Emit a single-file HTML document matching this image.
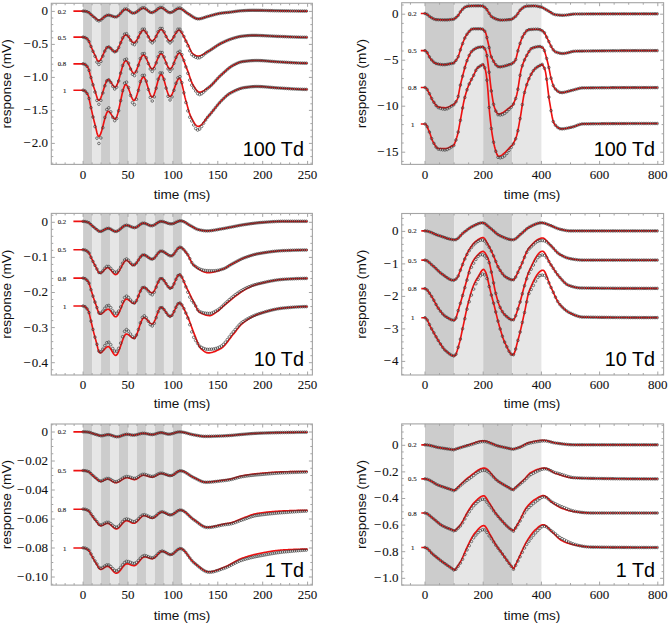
<!DOCTYPE html>
<html><head><meta charset="utf-8"><style>
html,body{margin:0;padding:0;background:#fff;width:668px;height:624px;overflow:hidden}
svg{display:block}
.tl{font-family:"Liberation Serif",serif;font-size:13px;fill:#111;stroke:#111;stroke-width:0.1px}
.ax{font-family:"Liberation Sans",sans-serif;font-size:13.6px;fill:#111}
.td{font-family:"Liberation Sans",sans-serif;font-size:19.8px;fill:#000}
.sl{font-family:"Liberation Serif",serif;font-size:6.8px;fill:#222;stroke:#222;stroke-width:0.12px}
</style></head><body>
<svg width="668" height="624" viewBox="0 0 668 624"><rect width="668" height="624" fill="#fff"/><rect x="83.1" y="3.3" width="8.98" height="161.1" fill="#cccccc"/><rect x="92.08" y="3.3" width="8.98" height="161.1" fill="#e6e6e6"/><rect x="101.06" y="3.3" width="8.98" height="161.1" fill="#cccccc"/><rect x="110.04" y="3.3" width="8.98" height="161.1" fill="#e6e6e6"/><rect x="119.02" y="3.3" width="8.98" height="161.1" fill="#cccccc"/><rect x="128" y="3.3" width="8.98" height="161.1" fill="#e6e6e6"/><rect x="136.98" y="3.3" width="8.98" height="161.1" fill="#cccccc"/><rect x="145.96" y="3.3" width="8.98" height="161.1" fill="#e6e6e6"/><rect x="154.94" y="3.3" width="8.98" height="161.1" fill="#cccccc"/><rect x="163.92" y="3.3" width="8.98" height="161.1" fill="#e6e6e6"/><rect x="172.9" y="3.3" width="8.98" height="161.1" fill="#cccccc"/><rect x="51.3" y="3.3" width="261.1" height="161.1" fill="none" stroke="#a4a4a4" stroke-width="1.1"/><path d="M56.16 164.4v-2.0M56.16 3.3v2.0M65.14 164.4v-2.0M65.14 3.3v2.0M74.12 164.4v-2.0M74.12 3.3v2.0M83.1 164.4v-3.5M83.1 3.3v3.5M92.08 164.4v-2.0M92.08 3.3v2.0M101.06 164.4v-2.0M101.06 3.3v2.0M110.04 164.4v-2.0M110.04 3.3v2.0M119.02 164.4v-2.0M119.02 3.3v2.0M128 164.4v-3.5M128 3.3v3.5M136.98 164.4v-2.0M136.98 3.3v2.0M145.96 164.4v-2.0M145.96 3.3v2.0M154.94 164.4v-2.0M154.94 3.3v2.0M163.92 164.4v-2.0M163.92 3.3v2.0M172.9 164.4v-3.5M172.9 3.3v3.5M181.88 164.4v-2.0M181.88 3.3v2.0M190.86 164.4v-2.0M190.86 3.3v2.0M199.84 164.4v-2.0M199.84 3.3v2.0M208.82 164.4v-2.0M208.82 3.3v2.0M217.8 164.4v-3.5M217.8 3.3v3.5M226.78 164.4v-2.0M226.78 3.3v2.0M235.76 164.4v-2.0M235.76 3.3v2.0M244.74 164.4v-2.0M244.74 3.3v2.0M253.72 164.4v-2.0M253.72 3.3v2.0M262.7 164.4v-3.5M262.7 3.3v3.5M271.68 164.4v-2.0M271.68 3.3v2.0M280.66 164.4v-2.0M280.66 3.3v2.0M289.64 164.4v-2.0M289.64 3.3v2.0M298.62 164.4v-2.0M298.62 3.3v2.0M307.6 164.4v-3.5M307.6 3.3v3.5M51.3 163.2h2.0M312.4 163.2h-2.0M51.3 156.6h2.0M312.4 156.6h-2.0M51.3 150h2.0M312.4 150h-2.0M51.3 143.4h3.5M312.4 143.4h-3.5M51.3 136.8h2.0M312.4 136.8h-2.0M51.3 130.2h2.0M312.4 130.2h-2.0M51.3 123.6h2.0M312.4 123.6h-2.0M51.3 117h2.0M312.4 117h-2.0M51.3 110.4h3.5M312.4 110.4h-3.5M51.3 103.8h2.0M312.4 103.8h-2.0M51.3 97.2h2.0M312.4 97.2h-2.0M51.3 90.6h2.0M312.4 90.6h-2.0M51.3 84h2.0M312.4 84h-2.0M51.3 77.4h3.5M312.4 77.4h-3.5M51.3 70.8h2.0M312.4 70.8h-2.0M51.3 64.2h2.0M312.4 64.2h-2.0M51.3 57.6h2.0M312.4 57.6h-2.0M51.3 51h2.0M312.4 51h-2.0M51.3 44.4h3.5M312.4 44.4h-3.5M51.3 37.8h2.0M312.4 37.8h-2.0M51.3 31.2h2.0M312.4 31.2h-2.0M51.3 24.6h2.0M312.4 24.6h-2.0M51.3 18h2.0M312.4 18h-2.0M51.3 11.4h3.5M312.4 11.4h-3.5M51.3 4.8h2.0M312.4 4.8h-2.0" stroke="#a4a4a4" stroke-width="1" fill="none"/><text x="48.1" y="15.3" class="tl" text-anchor="end">0</text><text x="48.1" y="48.3" class="tl" text-anchor="end"><tspan>−</tspan><tspan dx="1.2">0.5</tspan></text><text x="48.1" y="81.3" class="tl" text-anchor="end"><tspan>−</tspan><tspan dx="1.2">1.0</tspan></text><text x="48.1" y="114.3" class="tl" text-anchor="end"><tspan>−</tspan><tspan dx="1.2">1.5</tspan></text><text x="48.1" y="147.3" class="tl" text-anchor="end"><tspan>−</tspan><tspan dx="1.2">2.0</tspan></text><text x="83.1" y="178.6" class="tl" text-anchor="middle">0</text><text x="128" y="178.6" class="tl" text-anchor="middle">50</text><text x="172.9" y="178.6" class="tl" text-anchor="middle">100</text><text x="217.8" y="178.6" class="tl" text-anchor="middle">150</text><text x="262.7" y="178.6" class="tl" text-anchor="middle">200</text><text x="307.6" y="178.6" class="tl" text-anchor="middle">250</text><text transform="translate(10.5 83.85) rotate(-90)" class="ax" text-anchor="middle">response (mV)</text><text x="182" y="198.6" class="ax" text-anchor="middle">time (ms)</text><text x="303.9" y="155.8" class="td" text-anchor="end">100 Td</text><text x="61.9" y="13.57" class="sl" text-anchor="middle">0.2</text><text x="61.9" y="39.6" class="sl" text-anchor="middle">0.5</text><text x="61.9" y="66.3" class="sl" text-anchor="middle">0.8</text><text x="64.6" y="92.7" class="sl" text-anchor="middle">1</text><path d="M73.4 11.07 L74 11.07 L74.6 11.07 L75.2 11.07 L75.8 11.07 L76.4 11.07 L77 11.07 L77.6 11.07 L78.2 11.07 L78.8 11.07 L79.4 11.07 L80 11.07 L80.6 11.07 L81.2 11.07 L81.8 11.07 L82.4 11.07 L83 11.07 L83.6 11.07 L84.2 11.11 L84.8 11.18 L85.4 11.29 L86 11.42 L86.6 11.57 L87.2 11.74 L87.8 11.93 L88.4 12.2 L89 12.66 L89.6 13.21 L90.2 13.77 L90.8 14.29 L91.4 14.82 L92 15.35 L92.6 15.88 L93.2 16.38 L93.8 16.85 L94.4 17.31 L95 17.76 L95.6 18.22 L96.2 18.72 L96.8 19.26 L97.4 19.68 L98 19.93 L98.6 20.09 L99.2 20.07 L99.8 19.93 L100.4 19.7 L101 19.38 L101.6 19.01 L102.2 18.59 L102.8 18.13 L103.4 17.66 L104 17.19 L104.6 16.72 L105.2 16.29 L105.8 15.9 L106.4 15.58 L107 15.32 L107.6 15.16 L108.2 15.1 L108.8 15.13 L109.4 15.23 L110 15.38 L110.6 15.56 L111.2 15.77 L111.8 15.99 L112.4 16.22 L113 16.44 L113.6 16.64 L114.2 16.8 L114.8 16.92 L115.4 16.99 L116 16.98 L116.6 16.83 L117.2 16.55 L117.8 16.15 L118.4 15.66 L119 15.1 L119.6 14.48 L120.2 13.82 L120.8 13.14 L121.4 12.47 L122 11.82 L122.6 11.21 L123.2 10.65 L123.8 10.18 L124.4 9.8 L125 9.54 L125.6 9.41 L126.2 9.43 L126.8 9.58 L127.4 9.85 L128 10.19 L128.6 10.59 L129.2 11.03 L129.8 11.49 L130.4 11.93 L131 12.35 L131.6 12.7 L132.2 12.98 L132.8 13.15 L133.4 13.2 L134 13.13 L134.6 12.97 L135.2 12.74 L135.8 12.43 L136.4 12.08 L137 11.68 L137.6 11.25 L138.2 10.81 L138.8 10.37 L139.4 9.93 L140 9.52 L140.6 9.14 L141.2 8.81 L141.8 8.54 L142.4 8.34 L143 8.22 L143.6 8.21 L144.2 8.32 L144.8 8.54 L145.4 8.86 L146 9.25 L146.6 9.69 L147.2 10.16 L147.8 10.64 L148.4 11.11 L149 11.55 L149.6 11.94 L150.2 12.26 L150.8 12.48 L151.4 12.59 L152 12.58 L152.6 12.45 L153.2 12.24 L153.8 11.96 L154.4 11.62 L155 11.22 L155.6 10.8 L156.2 10.36 L156.8 9.92 L157.4 9.48 L158 9.07 L158.6 8.71 L159.2 8.39 L159.8 8.14 L160.4 7.97 L161 7.9 L161.6 7.94 L162.2 8.1 L162.8 8.35 L163.4 8.68 L164 9.07 L164.6 9.51 L165.2 9.97 L165.8 10.45 L166.4 10.92 L167 11.36 L167.6 11.76 L168.2 12.1 L168.8 12.37 L169.4 12.54 L170 12.6 L170.6 12.55 L171.2 12.42 L171.8 12.21 L172.4 11.94 L173 11.63 L173.6 11.27 L174.2 10.9 L174.8 10.51 L175.4 10.13 L176 9.76 L176.6 9.41 L177.2 9.11 L177.8 8.86 L178.4 8.68 L179 8.57 L179.6 8.56 L180.2 8.64 L180.8 8.8 L181.4 9.05 L182 9.36 L182.6 9.72 L183.2 10.13 L183.8 10.57 L184.4 11.03 L185 11.51 L185.6 11.99 L186.2 12.45 L186.8 12.9 L187.4 13.31 L188 13.69 L188.6 14.03 L189.2 14.39 L189.8 14.77 L190.4 15.17 L191 15.58 L191.6 15.98 L192.2 16.39 L192.8 16.78 L193.4 17.16 L194 17.52 L194.6 17.85 L195.2 18.15 L195.8 18.4 L196.4 18.61 L197 18.77 L197.6 18.87 L198.2 18.9 L198.8 18.88 L199.4 18.83 L200 18.75 L200.6 18.64 L201.2 18.51 L201.8 18.35 L202.4 18.18 L203 18 L203.6 17.8 L204.2 17.6 L204.8 17.4 L205.4 17.19 L206 16.99 L206.6 16.79 L207.2 16.61 L207.8 16.43 L208.4 16.27 L209 16.12 L209.6 15.96 L210.2 15.8 L210.8 15.64 L211.4 15.47 L212 15.3 L212.6 15.14 L213.2 14.97 L213.8 14.81 L214.4 14.64 L215 14.48 L215.6 14.32 L216.2 14.17 L216.8 14.02 L217.4 13.88 L218 13.74 L218.6 13.61 L219.2 13.49 L219.8 13.38 L220.4 13.28 L221 13.19 L221.6 13.1 L222.2 13.02 L222.8 12.95 L223.4 12.88 L224 12.81 L224.6 12.75 L225.2 12.69 L225.8 12.63 L226.4 12.57 L227 12.51 L227.6 12.46 L228.2 12.4 L228.8 12.33 L229.4 12.27 L230 12.2 L230.6 12.13 L231.2 12.05 L231.8 11.97 L232.4 11.88 L233 11.8 L233.6 11.71 L234.2 11.62 L234.8 11.53 L235.4 11.44 L236 11.35 L236.6 11.27 L237.2 11.19 L237.8 11.11 L238.4 11.04 L239 10.97 L239.6 10.91 L240.2 10.86 L240.8 10.81 L241.4 10.77 L242 10.74 L242.6 10.7 L243.2 10.66 L243.8 10.63 L244.4 10.59 L245 10.56 L245.6 10.53 L246.2 10.49 L246.8 10.46 L247.4 10.44 L248 10.41 L248.6 10.39 L249.2 10.37 L249.8 10.35 L250.4 10.33 L251 10.32 L251.6 10.31 L252.2 10.3 L252.8 10.3 L253.4 10.3 L254 10.3 L254.6 10.3 L255.2 10.31 L255.8 10.31 L256.4 10.32 L257 10.33 L257.6 10.33 L258.2 10.34 L258.8 10.35 L259.4 10.36 L260 10.37 L260.6 10.39 L261.2 10.4 L261.8 10.41 L262.4 10.42 L263 10.44 L263.6 10.45 L264.2 10.47 L264.8 10.48 L265.4 10.5 L266 10.51 L266.6 10.53 L267.2 10.54 L267.8 10.56 L268.4 10.58 L269 10.59 L269.6 10.61 L270.2 10.62 L270.8 10.64 L271.4 10.66 L272 10.67 L272.6 10.68 L273.2 10.7 L273.8 10.71 L274.4 10.73 L275 10.74 L275.6 10.75 L276.2 10.76 L276.8 10.77 L277.4 10.78 L278 10.79 L278.6 10.8 L279.2 10.81 L279.8 10.82 L280.4 10.83 L281 10.83 L281.6 10.84 L282.2 10.85 L282.8 10.86 L283.4 10.87 L284 10.88 L284.6 10.89 L285.2 10.89 L285.8 10.9 L286.4 10.91 L287 10.92 L287.6 10.93 L288.2 10.94 L288.8 10.94 L289.4 10.95 L290 10.96 L290.6 10.97 L291.2 10.98 L291.8 10.98 L292.4 10.99 L293 11 L293.6 11.01 L294.2 11.01 L294.8 11.02 L295.4 11.03 L296 11.03 L296.6 11.04 L297.2 11.04 L297.8 11.05 L298.4 11.06 L299 11.06 L299.6 11.07 L300.2 11.07 L300.8 11.08 L301.4 11.08 L302 11.08 L302.6 11.09 L303.2 11.09 L303.8 11.09 L304.4 11.09 L305 11.1 L305.6 11.1 L306.2 11.1 L306.8 11.1 L307.4 11.1 L307.6 11.1" fill="none" stroke="#ee1111" stroke-width="1.65" stroke-linejoin="round"/><path d="M81.8 11.07a1.3 1.3 0 1 0 2.6 0a1.3 1.3 0 1 0 -2.6 0M83.78 11.23a1.3 1.3 0 1 0 2.6 0a1.3 1.3 0 1 0 -2.6 0M85.75 11.7a1.3 1.3 0 1 0 2.6 0a1.3 1.3 0 1 0 -2.6 0M87.73 12.68a1.3 1.3 0 1 0 2.6 0a1.3 1.3 0 1 0 -2.6 0M89.7 14.47a1.3 1.3 0 1 0 2.6 0a1.3 1.3 0 1 0 -2.6 0M91.68 16.26a1.3 1.3 0 1 0 2.6 0a1.3 1.3 0 1 0 -2.6 0M93.65 17.99a1.3 1.3 0 1 0 2.6 0a1.3 1.3 0 1 0 -2.6 0M95.63 19.99a1.3 1.3 0 1 0 2.6 0a1.3 1.3 0 1 0 -2.6 0M97.6 20.89a1.3 1.3 0 1 0 2.6 0a1.3 1.3 0 1 0 -2.6 0M99.58 20a1.3 1.3 0 1 0 2.6 0a1.3 1.3 0 1 0 -2.6 0M101.56 18.29a1.3 1.3 0 1 0 2.6 0a1.3 1.3 0 1 0 -2.6 0M103.53 16.59a1.3 1.3 0 1 0 2.6 0a1.3 1.3 0 1 0 -2.6 0M105.51 15.4a1.3 1.3 0 1 0 2.6 0a1.3 1.3 0 1 0 -2.6 0M107.48 15.13a1.3 1.3 0 1 0 2.6 0a1.3 1.3 0 1 0 -2.6 0M109.46 15.61a1.3 1.3 0 1 0 2.6 0a1.3 1.3 0 1 0 -2.6 0M111.43 16.34a1.3 1.3 0 1 0 2.6 0a1.3 1.3 0 1 0 -2.6 0M113.41 16.91a1.3 1.3 0 1 0 2.6 0a1.3 1.3 0 1 0 -2.6 0M115.39 16.8a1.3 1.3 0 1 0 2.6 0a1.3 1.3 0 1 0 -2.6 0M117.36 15.41a1.3 1.3 0 1 0 2.6 0a1.3 1.3 0 1 0 -2.6 0M119.34 13.26a1.3 1.3 0 1 0 2.6 0a1.3 1.3 0 1 0 -2.6 0M121.31 10.93a1.3 1.3 0 1 0 2.6 0a1.3 1.3 0 1 0 -2.6 0M123.29 9.17a1.3 1.3 0 1 0 2.6 0a1.3 1.3 0 1 0 -2.6 0M125.26 8.94a1.3 1.3 0 1 0 2.6 0a1.3 1.3 0 1 0 -2.6 0M127.24 10.22a1.3 1.3 0 1 0 2.6 0a1.3 1.3 0 1 0 -2.6 0M129.21 11.92a1.3 1.3 0 1 0 2.6 0a1.3 1.3 0 1 0 -2.6 0M131.19 13.06a1.3 1.3 0 1 0 2.6 0a1.3 1.3 0 1 0 -2.6 0M133.17 13.01a1.3 1.3 0 1 0 2.6 0a1.3 1.3 0 1 0 -2.6 0M135.14 12.04a1.3 1.3 0 1 0 2.6 0a1.3 1.3 0 1 0 -2.6 0M137.12 10.57a1.3 1.3 0 1 0 2.6 0a1.3 1.3 0 1 0 -2.6 0M139.09 8.98a1.3 1.3 0 1 0 2.6 0a1.3 1.3 0 1 0 -2.6 0M141.07 7.79a1.3 1.3 0 1 0 2.6 0a1.3 1.3 0 1 0 -2.6 0M143.04 7.8a1.3 1.3 0 1 0 2.6 0a1.3 1.3 0 1 0 -2.6 0M145.02 9.17a1.3 1.3 0 1 0 2.6 0a1.3 1.3 0 1 0 -2.6 0M146.99 10.94a1.3 1.3 0 1 0 2.6 0a1.3 1.3 0 1 0 -2.6 0M148.97 12.28a1.3 1.3 0 1 0 2.6 0a1.3 1.3 0 1 0 -2.6 0M150.95 12.54a1.3 1.3 0 1 0 2.6 0a1.3 1.3 0 1 0 -2.6 0M152.92 11.71a1.3 1.3 0 1 0 2.6 0a1.3 1.3 0 1 0 -2.6 0M154.9 10.28a1.3 1.3 0 1 0 2.6 0a1.3 1.3 0 1 0 -2.6 0M156.87 8.66a1.3 1.3 0 1 0 2.6 0a1.3 1.3 0 1 0 -2.6 0M158.85 7.47a1.3 1.3 0 1 0 2.6 0a1.3 1.3 0 1 0 -2.6 0M160.82 7.52a1.3 1.3 0 1 0 2.6 0a1.3 1.3 0 1 0 -2.6 0M162.8 8.85a1.3 1.3 0 1 0 2.6 0a1.3 1.3 0 1 0 -2.6 0M164.78 10.58a1.3 1.3 0 1 0 2.6 0a1.3 1.3 0 1 0 -2.6 0M166.75 12.01a1.3 1.3 0 1 0 2.6 0a1.3 1.3 0 1 0 -2.6 0M168.73 12.6a1.3 1.3 0 1 0 2.6 0a1.3 1.3 0 1 0 -2.6 0M170.7 12.12a1.3 1.3 0 1 0 2.6 0a1.3 1.3 0 1 0 -2.6 0M172.68 10.98a1.3 1.3 0 1 0 2.6 0a1.3 1.3 0 1 0 -2.6 0M174.65 9.55a1.3 1.3 0 1 0 2.6 0a1.3 1.3 0 1 0 -2.6 0M176.63 8.31a1.3 1.3 0 1 0 2.6 0a1.3 1.3 0 1 0 -2.6 0M178.6 8a1.3 1.3 0 1 0 2.6 0a1.3 1.3 0 1 0 -2.6 0M180.58 8.92a1.3 1.3 0 1 0 2.6 0a1.3 1.3 0 1 0 -2.6 0M182.56 10.49a1.3 1.3 0 1 0 2.6 0a1.3 1.3 0 1 0 -2.6 0M184.53 12.14a1.3 1.3 0 1 0 2.6 0a1.3 1.3 0 1 0 -2.6 0M186.51 13.57a1.3 1.3 0 1 0 2.6 0a1.3 1.3 0 1 0 -2.6 0M188.48 14.76a1.3 1.3 0 1 0 2.6 0a1.3 1.3 0 1 0 -2.6 0M190.46 16.09a1.3 1.3 0 1 0 2.6 0a1.3 1.3 0 1 0 -2.6 0M192.43 17.36a1.3 1.3 0 1 0 2.6 0a1.3 1.3 0 1 0 -2.6 0M194.41 18.37a1.3 1.3 0 1 0 2.6 0a1.3 1.3 0 1 0 -2.6 0M196.38 18.87a1.3 1.3 0 1 0 2.6 0a1.3 1.3 0 1 0 -2.6 0M198.36 18.8a1.3 1.3 0 1 0 2.6 0a1.3 1.3 0 1 0 -2.6 0M200.34 18.4a1.3 1.3 0 1 0 2.6 0a1.3 1.3 0 1 0 -2.6 0M202.31 17.8a1.3 1.3 0 1 0 2.6 0a1.3 1.3 0 1 0 -2.6 0M204.29 17.13a1.3 1.3 0 1 0 2.6 0a1.3 1.3 0 1 0 -2.6 0M206.26 16.5a1.3 1.3 0 1 0 2.6 0a1.3 1.3 0 1 0 -2.6 0M208.24 15.98a1.3 1.3 0 1 0 2.6 0a1.3 1.3 0 1 0 -2.6 0M210.21 15.44a1.3 1.3 0 1 0 2.6 0a1.3 1.3 0 1 0 -2.6 0M212.19 14.89a1.3 1.3 0 1 0 2.6 0a1.3 1.3 0 1 0 -2.6 0M214.17 14.36a1.3 1.3 0 1 0 2.6 0a1.3 1.3 0 1 0 -2.6 0M216.14 13.87a1.3 1.3 0 1 0 2.6 0a1.3 1.3 0 1 0 -2.6 0M218.12 13.45a1.3 1.3 0 1 0 2.6 0a1.3 1.3 0 1 0 -2.6 0M220.09 13.13a1.3 1.3 0 1 0 2.6 0a1.3 1.3 0 1 0 -2.6 0M222.07 12.88a1.3 1.3 0 1 0 2.6 0a1.3 1.3 0 1 0 -2.6 0M224.04 12.68a1.3 1.3 0 1 0 2.6 0a1.3 1.3 0 1 0 -2.6 0M226.02 12.48a1.3 1.3 0 1 0 2.6 0a1.3 1.3 0 1 0 -2.6 0M227.99 12.28a1.3 1.3 0 1 0 2.6 0a1.3 1.3 0 1 0 -2.6 0M229.97 12.04a1.3 1.3 0 1 0 2.6 0a1.3 1.3 0 1 0 -2.6 0M231.95 11.76a1.3 1.3 0 1 0 2.6 0a1.3 1.3 0 1 0 -2.6 0M233.92 11.47a1.3 1.3 0 1 0 2.6 0a1.3 1.3 0 1 0 -2.6 0M235.9 11.19a1.3 1.3 0 1 0 2.6 0a1.3 1.3 0 1 0 -2.6 0M237.87 10.95a1.3 1.3 0 1 0 2.6 0a1.3 1.3 0 1 0 -2.6 0M239.85 10.79a1.3 1.3 0 1 0 2.6 0a1.3 1.3 0 1 0 -2.6 0M241.82 10.67a1.3 1.3 0 1 0 2.6 0a1.3 1.3 0 1 0 -2.6 0M243.8 10.55a1.3 1.3 0 1 0 2.6 0a1.3 1.3 0 1 0 -2.6 0M245.77 10.45a1.3 1.3 0 1 0 2.6 0a1.3 1.3 0 1 0 -2.6 0M247.75 10.37a1.3 1.3 0 1 0 2.6 0a1.3 1.3 0 1 0 -2.6 0M249.73 10.32a1.3 1.3 0 1 0 2.6 0a1.3 1.3 0 1 0 -2.6 0M251.7 10.3a1.3 1.3 0 1 0 2.6 0a1.3 1.3 0 1 0 -2.6 0M253.68 10.31a1.3 1.3 0 1 0 2.6 0a1.3 1.3 0 1 0 -2.6 0M255.65 10.33a1.3 1.3 0 1 0 2.6 0a1.3 1.3 0 1 0 -2.6 0M257.63 10.35a1.3 1.3 0 1 0 2.6 0a1.3 1.3 0 1 0 -2.6 0M259.6 10.39a1.3 1.3 0 1 0 2.6 0a1.3 1.3 0 1 0 -2.6 0M261.58 10.44a1.3 1.3 0 1 0 2.6 0a1.3 1.3 0 1 0 -2.6 0M263.56 10.48a1.3 1.3 0 1 0 2.6 0a1.3 1.3 0 1 0 -2.6 0M265.53 10.54a1.3 1.3 0 1 0 2.6 0a1.3 1.3 0 1 0 -2.6 0M267.51 10.59a1.3 1.3 0 1 0 2.6 0a1.3 1.3 0 1 0 -2.6 0M269.48 10.64a1.3 1.3 0 1 0 2.6 0a1.3 1.3 0 1 0 -2.6 0M271.46 10.69a1.3 1.3 0 1 0 2.6 0a1.3 1.3 0 1 0 -2.6 0M273.43 10.73a1.3 1.3 0 1 0 2.6 0a1.3 1.3 0 1 0 -2.6 0M275.41 10.77a1.3 1.3 0 1 0 2.6 0a1.3 1.3 0 1 0 -2.6 0M277.38 10.8a1.3 1.3 0 1 0 2.6 0a1.3 1.3 0 1 0 -2.6 0M279.36 10.83a1.3 1.3 0 1 0 2.6 0a1.3 1.3 0 1 0 -2.6 0M281.34 10.86a1.3 1.3 0 1 0 2.6 0a1.3 1.3 0 1 0 -2.6 0M283.31 10.89a1.3 1.3 0 1 0 2.6 0a1.3 1.3 0 1 0 -2.6 0M285.29 10.91a1.3 1.3 0 1 0 2.6 0a1.3 1.3 0 1 0 -2.6 0M287.26 10.94a1.3 1.3 0 1 0 2.6 0a1.3 1.3 0 1 0 -2.6 0M289.24 10.97a1.3 1.3 0 1 0 2.6 0a1.3 1.3 0 1 0 -2.6 0M291.21 10.99a1.3 1.3 0 1 0 2.6 0a1.3 1.3 0 1 0 -2.6 0M293.19 11.02a1.3 1.3 0 1 0 2.6 0a1.3 1.3 0 1 0 -2.6 0M295.16 11.04a1.3 1.3 0 1 0 2.6 0a1.3 1.3 0 1 0 -2.6 0M297.14 11.06a1.3 1.3 0 1 0 2.6 0a1.3 1.3 0 1 0 -2.6 0M299.12 11.07a1.3 1.3 0 1 0 2.6 0a1.3 1.3 0 1 0 -2.6 0M301.09 11.09a1.3 1.3 0 1 0 2.6 0a1.3 1.3 0 1 0 -2.6 0M303.07 11.09a1.3 1.3 0 1 0 2.6 0a1.3 1.3 0 1 0 -2.6 0M305.04 11.1a1.3 1.3 0 1 0 2.6 0a1.3 1.3 0 1 0 -2.6 0" fill="none" stroke="#383838" stroke-width="0.65"/><path d="M73.4 37.1 L74 37.1 L74.6 37.1 L75.2 37.1 L75.8 37.1 L76.4 37.1 L77 37.1 L77.6 37.1 L78.2 37.1 L78.8 37.1 L79.4 37.1 L80 37.1 L80.6 37.1 L81.2 37.1 L81.8 37.1 L82.4 37.1 L83 37.1 L83.6 37.11 L84.2 37.22 L84.8 37.41 L85.4 37.69 L86 38.04 L86.6 38.46 L87.2 38.93 L87.8 39.45 L88.4 40.22 L89 41.48 L89.6 42.98 L90.2 44.51 L90.8 45.9 L91.4 47.33 L92 48.78 L92.6 50.2 L93.2 51.54 L93.8 52.81 L94.4 54.04 L95 55.26 L95.6 56.5 L96.2 57.92 L96.8 59.33 L97.4 60.34 L98 60.99 L98.6 61.3 L99.2 61.14 L99.8 60.68 L100.4 59.96 L101 59.03 L101.6 57.94 L102.2 56.71 L102.8 55.4 L103.4 54.05 L104 52.7 L104.6 51.39 L105.2 50.16 L105.8 49.07 L106.4 48.14 L107 47.42 L107.6 46.96 L108.2 46.8 L108.8 46.91 L109.4 47.21 L110 47.66 L110.6 48.22 L111.2 48.85 L111.8 49.52 L112.4 50.17 L113 50.77 L113.6 51.28 L114.2 51.66 L114.8 51.87 L115.4 51.86 L116 51.56 L116.6 50.99 L117.2 50.19 L117.8 49.2 L118.4 48.05 L119 46.77 L119.6 45.41 L120.2 44 L120.8 42.57 L121.4 41.16 L122 39.81 L122.6 38.55 L123.2 37.42 L123.8 36.46 L124.4 35.7 L125 35.17 L125.6 34.92 L126.2 34.95 L126.8 35.22 L127.4 35.68 L128 36.3 L128.6 37.03 L129.2 37.85 L129.8 38.71 L130.4 39.57 L131 40.4 L131.6 41.17 L132.2 41.83 L132.8 42.34 L133.4 42.68 L134 42.8 L134.6 42.65 L135.2 42.24 L135.8 41.59 L136.4 40.76 L137 39.77 L137.6 38.67 L138.2 37.5 L138.8 36.3 L139.4 35.1 L140 33.95 L140.6 32.89 L141.2 31.95 L141.8 31.17 L142.4 30.6 L143 30.27 L143.6 30.22 L144.2 30.45 L144.8 30.93 L145.4 31.61 L146 32.45 L146.6 33.42 L147.2 34.46 L147.8 35.55 L148.4 36.64 L149 37.68 L149.6 38.65 L150.2 39.49 L150.8 40.17 L151.4 40.65 L152 40.88 L152.6 40.83 L153.2 40.5 L153.8 39.93 L154.4 39.15 L155 38.22 L155.6 37.18 L156.2 36.06 L156.8 34.91 L157.4 33.77 L158 32.69 L158.6 31.69 L159.2 30.84 L159.8 30.16 L160.4 29.7 L161 29.5 L161.6 29.6 L162.2 29.98 L162.8 30.59 L163.4 31.39 L164 32.34 L164.6 33.4 L165.2 34.53 L165.8 35.68 L166.4 36.81 L167 37.89 L167.6 38.86 L168.2 39.69 L168.8 40.33 L169.4 40.75 L170 40.9 L170.6 40.76 L171.2 40.37 L171.8 39.76 L172.4 38.99 L173 38.07 L173.6 37.06 L174.2 36 L174.8 34.92 L175.4 33.86 L176 32.87 L176.6 31.97 L177.2 31.22 L177.8 30.65 L178.4 30.3 L179 30.2 L179.6 30.37 L180.2 30.78 L180.8 31.38 L181.4 32.17 L182 33.1 L182.6 34.15 L183.2 35.29 L183.8 36.49 L184.4 37.73 L185 38.97 L185.6 40.19 L186.2 41.37 L186.8 42.46 L187.4 43.51 L188 44.67 L188.6 45.93 L189.2 47.24 L189.8 48.56 L190.4 49.83 L191 51.03 L191.6 52.1 L192.2 53 L192.8 53.68 L193.4 54.13 L194 54.5 L194.6 54.85 L195.2 55.17 L195.8 55.44 L196.4 55.67 L197 55.85 L197.6 55.96 L198.2 56 L198.8 55.97 L199.4 55.88 L200 55.75 L200.6 55.56 L201.2 55.34 L201.8 55.07 L202.4 54.78 L203 54.46 L203.6 54.12 L204.2 53.76 L204.8 53.4 L205.4 53.02 L206 52.65 L206.6 52.28 L207.2 51.92 L207.8 51.57 L208.4 51.25 L209 50.92 L209.6 50.57 L210.2 50.21 L210.8 49.83 L211.4 49.45 L212 49.06 L212.6 48.66 L213.2 48.25 L213.8 47.84 L214.4 47.43 L215 47.02 L215.6 46.62 L216.2 46.21 L216.8 45.82 L217.4 45.43 L218 45.05 L218.6 44.68 L219.2 44.32 L219.8 43.98 L220.4 43.66 L221 43.35 L221.6 43.05 L222.2 42.76 L222.8 42.47 L223.4 42.18 L224 41.9 L224.6 41.63 L225.2 41.35 L225.8 41.08 L226.4 40.82 L227 40.56 L227.6 40.31 L228.2 40.07 L228.8 39.83 L229.4 39.59 L230 39.37 L230.6 39.15 L231.2 38.94 L231.8 38.73 L232.4 38.54 L233 38.35 L233.6 38.17 L234.2 37.99 L234.8 37.82 L235.4 37.64 L236 37.47 L236.6 37.31 L237.2 37.15 L237.8 36.99 L238.4 36.85 L239 36.71 L239.6 36.58 L240.2 36.47 L240.8 36.36 L241.4 36.27 L242 36.2 L242.6 36.13 L243.2 36.07 L243.8 36 L244.4 35.94 L245 35.88 L245.6 35.82 L246.2 35.77 L246.8 35.71 L247.4 35.66 L248 35.62 L248.6 35.57 L249.2 35.53 L249.8 35.5 L250.4 35.47 L251 35.44 L251.6 35.42 L252.2 35.41 L252.8 35.4 L253.4 35.4 L254 35.4 L254.6 35.41 L255.2 35.41 L255.8 35.42 L256.4 35.43 L257 35.44 L257.6 35.46 L258.2 35.47 L258.8 35.49 L259.4 35.51 L260 35.53 L260.6 35.55 L261.2 35.57 L261.8 35.6 L262.4 35.62 L263 35.65 L263.6 35.68 L264.2 35.71 L264.8 35.74 L265.4 35.76 L266 35.8 L266.6 35.83 L267.2 35.86 L267.8 35.89 L268.4 35.92 L269 35.95 L269.6 35.98 L270.2 36.02 L270.8 36.05 L271.4 36.08 L272 36.11 L272.6 36.14 L273.2 36.17 L273.8 36.2 L274.4 36.23 L275 36.26 L275.6 36.28 L276.2 36.31 L276.8 36.34 L277.4 36.36 L278 36.38 L278.6 36.4 L279.2 36.42 L279.8 36.45 L280.4 36.47 L281 36.49 L281.6 36.51 L282.2 36.54 L282.8 36.56 L283.4 36.59 L284 36.61 L284.6 36.63 L285.2 36.66 L285.8 36.68 L286.4 36.71 L287 36.73 L287.6 36.76 L288.2 36.78 L288.8 36.81 L289.4 36.83 L290 36.86 L290.6 36.88 L291.2 36.91 L291.8 36.93 L292.4 36.95 L293 36.97 L293.6 37 L294.2 37.02 L294.8 37.04 L295.4 37.06 L296 37.08 L296.6 37.1 L297.2 37.12 L297.8 37.14 L298.4 37.16 L299 37.17 L299.6 37.19 L300.2 37.2 L300.8 37.22 L301.4 37.23 L302 37.24 L302.6 37.25 L303.2 37.26 L303.8 37.27 L304.4 37.28 L305 37.29 L305.6 37.29 L306.2 37.3 L306.8 37.3 L307.4 37.3 L307.6 37.3" fill="none" stroke="#ee1111" stroke-width="1.65" stroke-linejoin="round"/><path d="M81.8 37.1a1.3 1.3 0 1 0 2.6 0a1.3 1.3 0 1 0 -2.6 0M83.78 37.53a1.3 1.3 0 1 0 2.6 0a1.3 1.3 0 1 0 -2.6 0M85.75 38.81a1.3 1.3 0 1 0 2.6 0a1.3 1.3 0 1 0 -2.6 0M87.73 41.54a1.3 1.3 0 1 0 2.6 0a1.3 1.3 0 1 0 -2.6 0M89.7 46.41a1.3 1.3 0 1 0 2.6 0a1.3 1.3 0 1 0 -2.6 0M91.68 51.29a1.3 1.3 0 1 0 2.6 0a1.3 1.3 0 1 0 -2.6 0M93.65 56.21a1.3 1.3 0 1 0 2.6 0a1.3 1.3 0 1 0 -2.6 0M95.63 62.09a1.3 1.3 0 1 0 2.6 0a1.3 1.3 0 1 0 -2.6 0M97.6 64.45a1.3 1.3 0 1 0 2.6 0a1.3 1.3 0 1 0 -2.6 0M99.58 61.42a1.3 1.3 0 1 0 2.6 0a1.3 1.3 0 1 0 -2.6 0M101.56 56.08a1.3 1.3 0 1 0 2.6 0a1.3 1.3 0 1 0 -2.6 0M103.53 51.06a1.3 1.3 0 1 0 2.6 0a1.3 1.3 0 1 0 -2.6 0M105.51 47.64a1.3 1.3 0 1 0 2.6 0a1.3 1.3 0 1 0 -2.6 0M107.48 46.9a1.3 1.3 0 1 0 2.6 0a1.3 1.3 0 1 0 -2.6 0M109.46 48.38a1.3 1.3 0 1 0 2.6 0a1.3 1.3 0 1 0 -2.6 0M111.43 50.51a1.3 1.3 0 1 0 2.6 0a1.3 1.3 0 1 0 -2.6 0M113.41 51.85a1.3 1.3 0 1 0 2.6 0a1.3 1.3 0 1 0 -2.6 0M115.39 50.89a1.3 1.3 0 1 0 2.6 0a1.3 1.3 0 1 0 -2.6 0M117.36 47.48a1.3 1.3 0 1 0 2.6 0a1.3 1.3 0 1 0 -2.6 0M119.34 42.78a1.3 1.3 0 1 0 2.6 0a1.3 1.3 0 1 0 -2.6 0M121.31 37.86a1.3 1.3 0 1 0 2.6 0a1.3 1.3 0 1 0 -2.6 0M123.29 34.17a1.3 1.3 0 1 0 2.6 0a1.3 1.3 0 1 0 -2.6 0M125.26 33.68a1.3 1.3 0 1 0 2.6 0a1.3 1.3 0 1 0 -2.6 0M127.24 36.32a1.3 1.3 0 1 0 2.6 0a1.3 1.3 0 1 0 -2.6 0M129.21 40.23a1.3 1.3 0 1 0 2.6 0a1.3 1.3 0 1 0 -2.6 0M131.19 43.72a1.3 1.3 0 1 0 2.6 0a1.3 1.3 0 1 0 -2.6 0M133.17 44.67a1.3 1.3 0 1 0 2.6 0a1.3 1.3 0 1 0 -2.6 0M135.14 41.9a1.3 1.3 0 1 0 2.6 0a1.3 1.3 0 1 0 -2.6 0M137.12 37.28a1.3 1.3 0 1 0 2.6 0a1.3 1.3 0 1 0 -2.6 0M139.09 32.59a1.3 1.3 0 1 0 2.6 0a1.3 1.3 0 1 0 -2.6 0M141.07 29.25a1.3 1.3 0 1 0 2.6 0a1.3 1.3 0 1 0 -2.6 0M143.04 29.16a1.3 1.3 0 1 0 2.6 0a1.3 1.3 0 1 0 -2.6 0M145.02 32.32a1.3 1.3 0 1 0 2.6 0a1.3 1.3 0 1 0 -2.6 0M146.99 36.82a1.3 1.3 0 1 0 2.6 0a1.3 1.3 0 1 0 -2.6 0M148.97 41.03a1.3 1.3 0 1 0 2.6 0a1.3 1.3 0 1 0 -2.6 0M150.95 42.89a1.3 1.3 0 1 0 2.6 0a1.3 1.3 0 1 0 -2.6 0M152.92 40.81a1.3 1.3 0 1 0 2.6 0a1.3 1.3 0 1 0 -2.6 0M154.9 36.4a1.3 1.3 0 1 0 2.6 0a1.3 1.3 0 1 0 -2.6 0M156.87 31.75a1.3 1.3 0 1 0 2.6 0a1.3 1.3 0 1 0 -2.6 0M158.85 28.48a1.3 1.3 0 1 0 2.6 0a1.3 1.3 0 1 0 -2.6 0M160.82 28.55a1.3 1.3 0 1 0 2.6 0a1.3 1.3 0 1 0 -2.6 0M162.8 31.91a1.3 1.3 0 1 0 2.6 0a1.3 1.3 0 1 0 -2.6 0M164.78 36.58a1.3 1.3 0 1 0 2.6 0a1.3 1.3 0 1 0 -2.6 0M166.75 40.94a1.3 1.3 0 1 0 2.6 0a1.3 1.3 0 1 0 -2.6 0M168.73 42.89a1.3 1.3 0 1 0 2.6 0a1.3 1.3 0 1 0 -2.6 0M170.7 40.94a1.3 1.3 0 1 0 2.6 0a1.3 1.3 0 1 0 -2.6 0M172.68 36.75a1.3 1.3 0 1 0 2.6 0a1.3 1.3 0 1 0 -2.6 0M174.65 32.31a1.3 1.3 0 1 0 2.6 0a1.3 1.3 0 1 0 -2.6 0M176.63 29.18a1.3 1.3 0 1 0 2.6 0a1.3 1.3 0 1 0 -2.6 0M178.6 29.17a1.3 1.3 0 1 0 2.6 0a1.3 1.3 0 1 0 -2.6 0M180.58 32.17a1.3 1.3 0 1 0 2.6 0a1.3 1.3 0 1 0 -2.6 0M182.56 36.49a1.3 1.3 0 1 0 2.6 0a1.3 1.3 0 1 0 -2.6 0M184.53 41.14a1.3 1.3 0 1 0 2.6 0a1.3 1.3 0 1 0 -2.6 0M186.51 45.72a1.3 1.3 0 1 0 2.6 0a1.3 1.3 0 1 0 -2.6 0M188.48 50.75a1.3 1.3 0 1 0 2.6 0a1.3 1.3 0 1 0 -2.6 0M190.46 54.51a1.3 1.3 0 1 0 2.6 0a1.3 1.3 0 1 0 -2.6 0M192.43 56.12a1.3 1.3 0 1 0 2.6 0a1.3 1.3 0 1 0 -2.6 0M194.41 57.25a1.3 1.3 0 1 0 2.6 0a1.3 1.3 0 1 0 -2.6 0M196.38 57.98a1.3 1.3 0 1 0 2.6 0a1.3 1.3 0 1 0 -2.6 0M198.36 57.67a1.3 1.3 0 1 0 2.6 0a1.3 1.3 0 1 0 -2.6 0M200.34 56.47a1.3 1.3 0 1 0 2.6 0a1.3 1.3 0 1 0 -2.6 0M202.31 54.86a1.3 1.3 0 1 0 2.6 0a1.3 1.3 0 1 0 -2.6 0M204.29 53.24a1.3 1.3 0 1 0 2.6 0a1.3 1.3 0 1 0 -2.6 0M206.26 51.82a1.3 1.3 0 1 0 2.6 0a1.3 1.3 0 1 0 -2.6 0M208.24 50.64a1.3 1.3 0 1 0 2.6 0a1.3 1.3 0 1 0 -2.6 0M210.21 49.38a1.3 1.3 0 1 0 2.6 0a1.3 1.3 0 1 0 -2.6 0M212.19 48.06a1.3 1.3 0 1 0 2.6 0a1.3 1.3 0 1 0 -2.6 0M214.17 46.71a1.3 1.3 0 1 0 2.6 0a1.3 1.3 0 1 0 -2.6 0M216.14 45.4a1.3 1.3 0 1 0 2.6 0a1.3 1.3 0 1 0 -2.6 0M218.12 44.2a1.3 1.3 0 1 0 2.6 0a1.3 1.3 0 1 0 -2.6 0M220.09 43.16a1.3 1.3 0 1 0 2.6 0a1.3 1.3 0 1 0 -2.6 0M222.07 42.2a1.3 1.3 0 1 0 2.6 0a1.3 1.3 0 1 0 -2.6 0M224.04 41.29a1.3 1.3 0 1 0 2.6 0a1.3 1.3 0 1 0 -2.6 0M226.02 40.43a1.3 1.3 0 1 0 2.6 0a1.3 1.3 0 1 0 -2.6 0M227.99 39.64a1.3 1.3 0 1 0 2.6 0a1.3 1.3 0 1 0 -2.6 0M229.97 38.91a1.3 1.3 0 1 0 2.6 0a1.3 1.3 0 1 0 -2.6 0M231.95 38.28a1.3 1.3 0 1 0 2.6 0a1.3 1.3 0 1 0 -2.6 0M233.92 37.7a1.3 1.3 0 1 0 2.6 0a1.3 1.3 0 1 0 -2.6 0M235.9 37.15a1.3 1.3 0 1 0 2.6 0a1.3 1.3 0 1 0 -2.6 0M237.87 36.67a1.3 1.3 0 1 0 2.6 0a1.3 1.3 0 1 0 -2.6 0M239.85 36.31a1.3 1.3 0 1 0 2.6 0a1.3 1.3 0 1 0 -2.6 0M241.82 36.08a1.3 1.3 0 1 0 2.6 0a1.3 1.3 0 1 0 -2.6 0M243.8 35.87a1.3 1.3 0 1 0 2.6 0a1.3 1.3 0 1 0 -2.6 0M245.77 35.69a1.3 1.3 0 1 0 2.6 0a1.3 1.3 0 1 0 -2.6 0M247.75 35.54a1.3 1.3 0 1 0 2.6 0a1.3 1.3 0 1 0 -2.6 0M249.73 35.44a1.3 1.3 0 1 0 2.6 0a1.3 1.3 0 1 0 -2.6 0M251.7 35.4a1.3 1.3 0 1 0 2.6 0a1.3 1.3 0 1 0 -2.6 0M253.68 35.41a1.3 1.3 0 1 0 2.6 0a1.3 1.3 0 1 0 -2.6 0M255.65 35.44a1.3 1.3 0 1 0 2.6 0a1.3 1.3 0 1 0 -2.6 0M257.63 35.49a1.3 1.3 0 1 0 2.6 0a1.3 1.3 0 1 0 -2.6 0M259.6 35.56a1.3 1.3 0 1 0 2.6 0a1.3 1.3 0 1 0 -2.6 0M261.58 35.64a1.3 1.3 0 1 0 2.6 0a1.3 1.3 0 1 0 -2.6 0M263.56 35.74a1.3 1.3 0 1 0 2.6 0a1.3 1.3 0 1 0 -2.6 0M265.53 35.84a1.3 1.3 0 1 0 2.6 0a1.3 1.3 0 1 0 -2.6 0M267.51 35.94a1.3 1.3 0 1 0 2.6 0a1.3 1.3 0 1 0 -2.6 0M269.48 36.05a1.3 1.3 0 1 0 2.6 0a1.3 1.3 0 1 0 -2.6 0M271.46 36.15a1.3 1.3 0 1 0 2.6 0a1.3 1.3 0 1 0 -2.6 0M273.43 36.24a1.3 1.3 0 1 0 2.6 0a1.3 1.3 0 1 0 -2.6 0M275.41 36.33a1.3 1.3 0 1 0 2.6 0a1.3 1.3 0 1 0 -2.6 0M277.38 36.41a1.3 1.3 0 1 0 2.6 0a1.3 1.3 0 1 0 -2.6 0M279.36 36.48a1.3 1.3 0 1 0 2.6 0a1.3 1.3 0 1 0 -2.6 0M281.34 36.56a1.3 1.3 0 1 0 2.6 0a1.3 1.3 0 1 0 -2.6 0M283.31 36.64a1.3 1.3 0 1 0 2.6 0a1.3 1.3 0 1 0 -2.6 0M285.29 36.72a1.3 1.3 0 1 0 2.6 0a1.3 1.3 0 1 0 -2.6 0M287.26 36.8a1.3 1.3 0 1 0 2.6 0a1.3 1.3 0 1 0 -2.6 0M289.24 36.88a1.3 1.3 0 1 0 2.6 0a1.3 1.3 0 1 0 -2.6 0M291.21 36.96a1.3 1.3 0 1 0 2.6 0a1.3 1.3 0 1 0 -2.6 0M293.19 37.03a1.3 1.3 0 1 0 2.6 0a1.3 1.3 0 1 0 -2.6 0M295.16 37.1a1.3 1.3 0 1 0 2.6 0a1.3 1.3 0 1 0 -2.6 0M297.14 37.16a1.3 1.3 0 1 0 2.6 0a1.3 1.3 0 1 0 -2.6 0M299.12 37.21a1.3 1.3 0 1 0 2.6 0a1.3 1.3 0 1 0 -2.6 0M301.09 37.25a1.3 1.3 0 1 0 2.6 0a1.3 1.3 0 1 0 -2.6 0M303.07 37.28a1.3 1.3 0 1 0 2.6 0a1.3 1.3 0 1 0 -2.6 0M305.04 37.3a1.3 1.3 0 1 0 2.6 0a1.3 1.3 0 1 0 -2.6 0" fill="none" stroke="#383838" stroke-width="0.65"/><path d="M73.4 63.8 L74 63.8 L74.6 63.8 L75.2 63.8 L75.8 63.8 L76.4 63.8 L77 63.8 L77.6 63.8 L78.2 63.8 L78.8 63.8 L79.4 63.8 L80 63.8 L80.6 63.8 L81.2 63.8 L81.8 63.8 L82.4 63.8 L83 63.8 L83.6 63.82 L84.2 63.97 L84.8 64.26 L85.4 64.67 L86 65.2 L86.6 65.82 L87.2 66.52 L87.8 67.29 L88.4 68.39 L89 70.21 L89.6 72.44 L90.2 74.73 L90.8 76.82 L91.4 78.95 L92 81.11 L92.6 83.25 L93.2 85.27 L93.8 87.18 L94.4 89.02 L95 90.84 L95.6 92.69 L96.2 94.73 L96.8 96.9 L97.4 98.59 L98 99.62 L98.6 100.27 L99.2 100.16 L99.8 99.59 L100.4 98.63 L101 97.34 L101.6 95.79 L102.2 94.04 L102.8 92.15 L103.4 90.2 L104 88.23 L104.6 86.32 L105.2 84.53 L105.8 82.93 L106.4 81.57 L107 80.52 L107.6 79.84 L108.2 79.6 L108.8 79.76 L109.4 80.2 L110 80.86 L110.6 81.69 L111.2 82.62 L111.8 83.59 L112.4 84.55 L113 85.44 L113.6 86.19 L114.2 86.75 L114.8 87.06 L115.4 87.04 L116 86.57 L116.6 85.69 L117.2 84.45 L117.8 82.91 L118.4 81.12 L119 79.13 L119.6 77.02 L120.2 74.82 L120.8 72.61 L121.4 70.42 L122 68.32 L122.6 66.37 L123.2 64.62 L123.8 63.12 L124.4 61.94 L125 61.12 L125.6 60.73 L126.2 60.79 L126.8 61.22 L127.4 61.95 L128 62.93 L128.6 64.1 L129.2 65.4 L129.8 66.77 L130.4 68.15 L131 69.47 L131.6 70.69 L132.2 71.75 L132.8 72.57 L133.4 73.11 L134 73.3 L134.6 73.09 L135.2 72.48 L135.8 71.54 L136.4 70.33 L137 68.9 L137.6 67.3 L138.2 65.6 L138.8 63.86 L139.4 62.12 L140 60.45 L140.6 58.9 L141.2 57.54 L141.8 56.41 L142.4 55.58 L143 55.1 L143.6 55.02 L144.2 55.32 L144.8 55.94 L145.4 56.83 L146 57.92 L146.6 59.18 L147.2 60.54 L147.8 61.95 L148.4 63.36 L149 64.72 L149.6 65.98 L150.2 67.07 L150.8 67.96 L151.4 68.58 L152 68.88 L152.6 68.81 L153.2 68.37 L153.8 67.61 L154.4 66.59 L155 65.36 L155.6 63.97 L156.2 62.49 L156.8 60.97 L157.4 59.46 L158 58.02 L158.6 56.71 L159.2 55.57 L159.8 54.67 L160.4 54.07 L161 53.81 L161.6 53.94 L162.2 54.43 L162.8 55.24 L163.4 56.3 L164 57.56 L164.6 58.97 L165.2 60.46 L165.8 61.99 L166.4 63.49 L167 64.91 L167.6 66.2 L168.2 67.3 L168.8 68.15 L169.4 68.7 L170 68.9 L170.6 68.72 L171.2 68.19 L171.8 67.38 L172.4 66.34 L173 65.1 L173.6 63.72 L174.2 62.26 L174.8 60.75 L175.4 59.25 L176 57.81 L176.6 56.47 L177.2 55.29 L177.8 54.32 L178.4 53.6 L179 53.18 L179.6 53.12 L180.2 53.42 L180.8 54.05 L181.4 54.96 L182 56.11 L182.6 57.45 L183.2 58.95 L183.8 60.55 L184.4 62.22 L185 63.9 L185.6 65.57 L186.2 67.17 L186.8 68.66 L187.4 70.12 L188 71.72 L188.6 73.42 L189.2 75.17 L189.8 76.94 L190.4 78.68 L191 80.36 L191.6 81.92 L192.2 83.32 L192.8 84.53 L193.4 85.51 L194 86.44 L194.6 87.37 L195.2 88.28 L195.8 89.14 L196.4 89.92 L197 90.62 L197.6 91.21 L198.2 91.67 L198.8 91.97 L199.4 92.1 L200 92.08 L200.6 91.99 L201.2 91.84 L201.8 91.64 L202.4 91.4 L203 91.11 L203.6 90.79 L204.2 90.44 L204.8 90.06 L205.4 89.67 L206 89.26 L206.6 88.85 L207.2 88.44 L207.8 88.03 L208.4 87.63 L209 87.21 L209.6 86.75 L210.2 86.26 L210.8 85.72 L211.4 85.16 L212 84.58 L212.6 83.97 L213.2 83.34 L213.8 82.69 L214.4 82.04 L215 81.38 L215.6 80.71 L216.2 80.04 L216.8 79.38 L217.4 78.72 L218 78.07 L218.6 77.44 L219.2 76.82 L219.8 76.22 L220.4 75.65 L221 75.11 L221.6 74.58 L222.2 74.03 L222.8 73.49 L223.4 72.94 L224 72.4 L224.6 71.85 L225.2 71.31 L225.8 70.78 L226.4 70.25 L227 69.73 L227.6 69.22 L228.2 68.72 L228.8 68.24 L229.4 67.77 L230 67.31 L230.6 66.88 L231.2 66.47 L231.8 66.08 L232.4 65.71 L233 65.36 L233.6 65.05 L234.2 64.74 L234.8 64.44 L235.4 64.14 L236 63.85 L236.6 63.56 L237.2 63.29 L237.8 63.03 L238.4 62.78 L239 62.55 L239.6 62.33 L240.2 62.14 L240.8 61.97 L241.4 61.82 L242 61.7 L242.6 61.6 L243.2 61.52 L243.8 61.44 L244.4 61.37 L245 61.29 L245.6 61.22 L246.2 61.15 L246.8 61.09 L247.4 61.03 L248 60.97 L248.6 60.91 L249.2 60.86 L249.8 60.8 L250.4 60.76 L251 60.71 L251.6 60.67 L252.2 60.64 L252.8 60.61 L253.4 60.58 L254 60.55 L254.6 60.53 L255.2 60.52 L255.8 60.51 L256.4 60.5 L257 60.5 L257.6 60.5 L258.2 60.51 L258.8 60.52 L259.4 60.54 L260 60.56 L260.6 60.58 L261.2 60.61 L261.8 60.64 L262.4 60.67 L263 60.71 L263.6 60.74 L264.2 60.78 L264.8 60.83 L265.4 60.87 L266 60.92 L266.6 60.97 L267.2 61.01 L267.8 61.06 L268.4 61.12 L269 61.17 L269.6 61.22 L270.2 61.27 L270.8 61.32 L271.4 61.37 L272 61.43 L272.6 61.48 L273.2 61.53 L273.8 61.58 L274.4 61.62 L275 61.67 L275.6 61.72 L276.2 61.76 L276.8 61.8 L277.4 61.84 L278 61.87 L278.6 61.91 L279.2 61.94 L279.8 61.97 L280.4 62 L281 62.04 L281.6 62.07 L282.2 62.11 L282.8 62.14 L283.4 62.18 L284 62.21 L284.6 62.25 L285.2 62.29 L285.8 62.32 L286.4 62.36 L287 62.4 L287.6 62.43 L288.2 62.47 L288.8 62.5 L289.4 62.54 L290 62.57 L290.6 62.61 L291.2 62.64 L291.8 62.68 L292.4 62.71 L293 62.74 L293.6 62.77 L294.2 62.8 L294.8 62.84 L295.4 62.86 L296 62.89 L296.6 62.92 L297.2 62.95 L297.8 62.97 L298.4 63 L299 63.02 L299.6 63.04 L300.2 63.07 L300.8 63.09 L301.4 63.1 L302 63.12 L302.6 63.14 L303.2 63.15 L303.8 63.16 L304.4 63.17 L305 63.18 L305.6 63.19 L306.2 63.19 L306.8 63.2 L307.4 63.2 L307.6 63.2" fill="none" stroke="#ee1111" stroke-width="1.65" stroke-linejoin="round"/><path d="M81.8 63.8a1.3 1.3 0 1 0 2.6 0a1.3 1.3 0 1 0 -2.6 0M83.78 64.44a1.3 1.3 0 1 0 2.6 0a1.3 1.3 0 1 0 -2.6 0M85.75 66.34a1.3 1.3 0 1 0 2.6 0a1.3 1.3 0 1 0 -2.6 0M87.73 70.3a1.3 1.3 0 1 0 2.6 0a1.3 1.3 0 1 0 -2.6 0M89.7 77.57a1.3 1.3 0 1 0 2.6 0a1.3 1.3 0 1 0 -2.6 0M91.68 84.83a1.3 1.3 0 1 0 2.6 0a1.3 1.3 0 1 0 -2.6 0M93.65 92a1.3 1.3 0 1 0 2.6 0a1.3 1.3 0 1 0 -2.6 0M95.63 100.44a1.3 1.3 0 1 0 2.6 0a1.3 1.3 0 1 0 -2.6 0M97.6 104.27a1.3 1.3 0 1 0 2.6 0a1.3 1.3 0 1 0 -2.6 0M99.58 100.35a1.3 1.3 0 1 0 2.6 0a1.3 1.3 0 1 0 -2.6 0M101.56 92.98a1.3 1.3 0 1 0 2.6 0a1.3 1.3 0 1 0 -2.6 0M103.53 85.81a1.3 1.3 0 1 0 2.6 0a1.3 1.3 0 1 0 -2.6 0M105.51 80.85a1.3 1.3 0 1 0 2.6 0a1.3 1.3 0 1 0 -2.6 0M107.48 79.83a1.3 1.3 0 1 0 2.6 0a1.3 1.3 0 1 0 -2.6 0M109.46 82.37a1.3 1.3 0 1 0 2.6 0a1.3 1.3 0 1 0 -2.6 0M111.43 86.34a1.3 1.3 0 1 0 2.6 0a1.3 1.3 0 1 0 -2.6 0M113.41 89.01a1.3 1.3 0 1 0 2.6 0a1.3 1.3 0 1 0 -2.6 0M115.39 87.17a1.3 1.3 0 1 0 2.6 0a1.3 1.3 0 1 0 -2.6 0M117.36 80.97a1.3 1.3 0 1 0 2.6 0a1.3 1.3 0 1 0 -2.6 0M119.34 73.15a1.3 1.3 0 1 0 2.6 0a1.3 1.3 0 1 0 -2.6 0M121.31 65.47a1.3 1.3 0 1 0 2.6 0a1.3 1.3 0 1 0 -2.6 0M123.29 59.87a1.3 1.3 0 1 0 2.6 0a1.3 1.3 0 1 0 -2.6 0M125.26 59.13a1.3 1.3 0 1 0 2.6 0a1.3 1.3 0 1 0 -2.6 0M127.24 63.11a1.3 1.3 0 1 0 2.6 0a1.3 1.3 0 1 0 -2.6 0M129.21 69.01a1.3 1.3 0 1 0 2.6 0a1.3 1.3 0 1 0 -2.6 0M131.19 74.2a1.3 1.3 0 1 0 2.6 0a1.3 1.3 0 1 0 -2.6 0M133.17 75.62a1.3 1.3 0 1 0 2.6 0a1.3 1.3 0 1 0 -2.6 0M135.14 71.75a1.3 1.3 0 1 0 2.6 0a1.3 1.3 0 1 0 -2.6 0M137.12 65.23a1.3 1.3 0 1 0 2.6 0a1.3 1.3 0 1 0 -2.6 0M139.09 58.55a1.3 1.3 0 1 0 2.6 0a1.3 1.3 0 1 0 -2.6 0M141.07 53.79a1.3 1.3 0 1 0 2.6 0a1.3 1.3 0 1 0 -2.6 0M143.04 53.6a1.3 1.3 0 1 0 2.6 0a1.3 1.3 0 1 0 -2.6 0M145.02 57.72a1.3 1.3 0 1 0 2.6 0a1.3 1.3 0 1 0 -2.6 0M146.99 63.56a1.3 1.3 0 1 0 2.6 0a1.3 1.3 0 1 0 -2.6 0M148.97 69a1.3 1.3 0 1 0 2.6 0a1.3 1.3 0 1 0 -2.6 0M150.95 71.39a1.3 1.3 0 1 0 2.6 0a1.3 1.3 0 1 0 -2.6 0M152.92 68.67a1.3 1.3 0 1 0 2.6 0a1.3 1.3 0 1 0 -2.6 0M154.9 62.9a1.3 1.3 0 1 0 2.6 0a1.3 1.3 0 1 0 -2.6 0M156.87 56.76a1.3 1.3 0 1 0 2.6 0a1.3 1.3 0 1 0 -2.6 0M158.85 52.44a1.3 1.3 0 1 0 2.6 0a1.3 1.3 0 1 0 -2.6 0M160.82 52.53a1.3 1.3 0 1 0 2.6 0a1.3 1.3 0 1 0 -2.6 0M162.8 56.97a1.3 1.3 0 1 0 2.6 0a1.3 1.3 0 1 0 -2.6 0M164.78 63.13a1.3 1.3 0 1 0 2.6 0a1.3 1.3 0 1 0 -2.6 0M166.75 68.85a1.3 1.3 0 1 0 2.6 0a1.3 1.3 0 1 0 -2.6 0M168.73 71.39a1.3 1.3 0 1 0 2.6 0a1.3 1.3 0 1 0 -2.6 0M170.7 68.84a1.3 1.3 0 1 0 2.6 0a1.3 1.3 0 1 0 -2.6 0M172.68 63.32a1.3 1.3 0 1 0 2.6 0a1.3 1.3 0 1 0 -2.6 0M174.65 57.29a1.3 1.3 0 1 0 2.6 0a1.3 1.3 0 1 0 -2.6 0M176.63 52.47a1.3 1.3 0 1 0 2.6 0a1.3 1.3 0 1 0 -2.6 0M178.6 51.27a1.3 1.3 0 1 0 2.6 0a1.3 1.3 0 1 0 -2.6 0M180.58 54.65a1.3 1.3 0 1 0 2.6 0a1.3 1.3 0 1 0 -2.6 0M182.56 60.44a1.3 1.3 0 1 0 2.6 0a1.3 1.3 0 1 0 -2.6 0M184.53 66.88a1.3 1.3 0 1 0 2.6 0a1.3 1.3 0 1 0 -2.6 0M186.51 73.28a1.3 1.3 0 1 0 2.6 0a1.3 1.3 0 1 0 -2.6 0M188.48 80.05a1.3 1.3 0 1 0 2.6 0a1.3 1.3 0 1 0 -2.6 0M190.46 85.13a1.3 1.3 0 1 0 2.6 0a1.3 1.3 0 1 0 -2.6 0M192.43 88.06a1.3 1.3 0 1 0 2.6 0a1.3 1.3 0 1 0 -2.6 0M194.41 91.01a1.3 1.3 0 1 0 2.6 0a1.3 1.3 0 1 0 -2.6 0M196.38 93.68a1.3 1.3 0 1 0 2.6 0a1.3 1.3 0 1 0 -2.6 0M198.36 94.57a1.3 1.3 0 1 0 2.6 0a1.3 1.3 0 1 0 -2.6 0M200.34 93.72a1.3 1.3 0 1 0 2.6 0a1.3 1.3 0 1 0 -2.6 0M202.31 92.07a1.3 1.3 0 1 0 2.6 0a1.3 1.3 0 1 0 -2.6 0M204.29 90.19a1.3 1.3 0 1 0 2.6 0a1.3 1.3 0 1 0 -2.6 0M206.26 88.44a1.3 1.3 0 1 0 2.6 0a1.3 1.3 0 1 0 -2.6 0M208.24 86.88a1.3 1.3 0 1 0 2.6 0a1.3 1.3 0 1 0 -2.6 0M210.21 85.07a1.3 1.3 0 1 0 2.6 0a1.3 1.3 0 1 0 -2.6 0M212.19 83.03a1.3 1.3 0 1 0 2.6 0a1.3 1.3 0 1 0 -2.6 0M214.17 80.86a1.3 1.3 0 1 0 2.6 0a1.3 1.3 0 1 0 -2.6 0M216.14 78.67a1.3 1.3 0 1 0 2.6 0a1.3 1.3 0 1 0 -2.6 0M218.12 76.6a1.3 1.3 0 1 0 2.6 0a1.3 1.3 0 1 0 -2.6 0M220.09 74.76a1.3 1.3 0 1 0 2.6 0a1.3 1.3 0 1 0 -2.6 0M222.07 72.97a1.3 1.3 0 1 0 2.6 0a1.3 1.3 0 1 0 -2.6 0M224.04 71.18a1.3 1.3 0 1 0 2.6 0a1.3 1.3 0 1 0 -2.6 0M226.02 69.46a1.3 1.3 0 1 0 2.6 0a1.3 1.3 0 1 0 -2.6 0M227.99 67.85a1.3 1.3 0 1 0 2.6 0a1.3 1.3 0 1 0 -2.6 0M229.97 66.42a1.3 1.3 0 1 0 2.6 0a1.3 1.3 0 1 0 -2.6 0M231.95 65.23a1.3 1.3 0 1 0 2.6 0a1.3 1.3 0 1 0 -2.6 0M233.92 64.23a1.3 1.3 0 1 0 2.6 0a1.3 1.3 0 1 0 -2.6 0M235.9 63.29a1.3 1.3 0 1 0 2.6 0a1.3 1.3 0 1 0 -2.6 0M237.87 62.48a1.3 1.3 0 1 0 2.6 0a1.3 1.3 0 1 0 -2.6 0M239.85 61.88a1.3 1.3 0 1 0 2.6 0a1.3 1.3 0 1 0 -2.6 0M241.82 61.53a1.3 1.3 0 1 0 2.6 0a1.3 1.3 0 1 0 -2.6 0M243.8 61.28a1.3 1.3 0 1 0 2.6 0a1.3 1.3 0 1 0 -2.6 0M245.77 61.06a1.3 1.3 0 1 0 2.6 0a1.3 1.3 0 1 0 -2.6 0M247.75 60.87a1.3 1.3 0 1 0 2.6 0a1.3 1.3 0 1 0 -2.6 0M249.73 60.71a1.3 1.3 0 1 0 2.6 0a1.3 1.3 0 1 0 -2.6 0M251.7 60.6a1.3 1.3 0 1 0 2.6 0a1.3 1.3 0 1 0 -2.6 0M253.68 60.52a1.3 1.3 0 1 0 2.6 0a1.3 1.3 0 1 0 -2.6 0M255.65 60.5a1.3 1.3 0 1 0 2.6 0a1.3 1.3 0 1 0 -2.6 0M257.63 60.53a1.3 1.3 0 1 0 2.6 0a1.3 1.3 0 1 0 -2.6 0M259.6 60.59a1.3 1.3 0 1 0 2.6 0a1.3 1.3 0 1 0 -2.6 0M261.58 60.7a1.3 1.3 0 1 0 2.6 0a1.3 1.3 0 1 0 -2.6 0M263.56 60.83a1.3 1.3 0 1 0 2.6 0a1.3 1.3 0 1 0 -2.6 0M265.53 60.98a1.3 1.3 0 1 0 2.6 0a1.3 1.3 0 1 0 -2.6 0M267.51 61.15a1.3 1.3 0 1 0 2.6 0a1.3 1.3 0 1 0 -2.6 0M269.48 61.32a1.3 1.3 0 1 0 2.6 0a1.3 1.3 0 1 0 -2.6 0M271.46 61.49a1.3 1.3 0 1 0 2.6 0a1.3 1.3 0 1 0 -2.6 0M273.43 61.65a1.3 1.3 0 1 0 2.6 0a1.3 1.3 0 1 0 -2.6 0M275.41 61.79a1.3 1.3 0 1 0 2.6 0a1.3 1.3 0 1 0 -2.6 0M277.38 61.91a1.3 1.3 0 1 0 2.6 0a1.3 1.3 0 1 0 -2.6 0M279.36 62.02a1.3 1.3 0 1 0 2.6 0a1.3 1.3 0 1 0 -2.6 0M281.34 62.13a1.3 1.3 0 1 0 2.6 0a1.3 1.3 0 1 0 -2.6 0M283.31 62.25a1.3 1.3 0 1 0 2.6 0a1.3 1.3 0 1 0 -2.6 0M285.29 62.37a1.3 1.3 0 1 0 2.6 0a1.3 1.3 0 1 0 -2.6 0M287.26 62.49a1.3 1.3 0 1 0 2.6 0a1.3 1.3 0 1 0 -2.6 0M289.24 62.6a1.3 1.3 0 1 0 2.6 0a1.3 1.3 0 1 0 -2.6 0M291.21 62.72a1.3 1.3 0 1 0 2.6 0a1.3 1.3 0 1 0 -2.6 0M293.19 62.82a1.3 1.3 0 1 0 2.6 0a1.3 1.3 0 1 0 -2.6 0M295.16 62.92a1.3 1.3 0 1 0 2.6 0a1.3 1.3 0 1 0 -2.6 0M297.14 63a1.3 1.3 0 1 0 2.6 0a1.3 1.3 0 1 0 -2.6 0M299.12 63.07a1.3 1.3 0 1 0 2.6 0a1.3 1.3 0 1 0 -2.6 0M301.09 63.13a1.3 1.3 0 1 0 2.6 0a1.3 1.3 0 1 0 -2.6 0M303.07 63.17a1.3 1.3 0 1 0 2.6 0a1.3 1.3 0 1 0 -2.6 0M305.04 63.2a1.3 1.3 0 1 0 2.6 0a1.3 1.3 0 1 0 -2.6 0" fill="none" stroke="#383838" stroke-width="0.65"/><path d="M73.4 90.2 L74 90.2 L74.6 90.2 L75.2 90.2 L75.8 90.2 L76.4 90.2 L77 90.2 L77.6 90.2 L78.2 90.2 L78.8 90.2 L79.4 90.2 L80 90.2 L80.6 90.2 L81.2 90.2 L81.8 90.2 L82.4 90.2 L83 90.2 L83.6 90.22 L84.2 90.42 L84.8 90.78 L85.4 91.31 L86 91.97 L86.6 92.76 L87.2 93.65 L87.8 94.62 L88.4 96.02 L89 98.33 L89.6 101.15 L90.2 104.06 L90.8 106.72 L91.4 109.42 L92 112.16 L92.6 114.87 L93.2 117.44 L93.8 119.86 L94.4 122.19 L95 124.5 L95.6 126.84 L96.2 129.44 L96.8 132.19 L97.4 134.33 L98 135.64 L98.6 136.46 L99.2 136.33 L99.8 135.64 L100.4 134.46 L101 132.89 L101.6 131.01 L102.2 128.88 L102.8 126.58 L103.4 124.2 L104 121.81 L104.6 119.49 L105.2 117.31 L105.8 115.35 L106.4 113.69 L107 112.42 L107.6 111.59 L108.2 111.3 L108.8 111.46 L109.4 111.91 L110 112.58 L110.6 113.42 L111.2 114.36 L111.8 115.35 L112.4 116.32 L113 117.22 L113.6 117.98 L114.2 118.55 L114.8 118.86 L115.4 118.82 L116 118.21 L116.6 117.07 L117.2 115.46 L117.8 113.45 L118.4 111.12 L119 108.55 L119.6 105.8 L120.2 102.95 L120.8 100.07 L121.4 97.23 L122 94.51 L122.6 91.97 L123.2 89.69 L123.8 87.75 L124.4 86.21 L125 85.15 L125.6 84.64 L126.2 84.71 L126.8 85.25 L127.4 86.17 L128 87.4 L128.6 88.87 L129.2 90.5 L129.8 92.21 L130.4 93.94 L131 95.6 L131.6 97.13 L132.2 98.45 L132.8 99.48 L133.4 100.16 L134 100.4 L134.6 100.13 L135.2 99.35 L135.8 98.15 L136.4 96.6 L137 94.77 L137.6 92.73 L138.2 90.56 L138.8 88.33 L139.4 86.11 L140 83.97 L140.6 81.99 L141.2 80.25 L141.8 78.8 L142.4 77.74 L143 77.12 L143.6 77.03 L144.2 77.47 L144.8 78.36 L145.4 79.63 L146 81.21 L146.6 83.01 L147.2 84.97 L147.8 87 L148.4 89.03 L149 90.99 L149.6 92.79 L150.2 94.37 L150.8 95.64 L151.4 96.53 L152 96.97 L152.6 96.87 L153.2 96.21 L153.8 95.08 L154.4 93.56 L155 91.72 L155.6 89.66 L156.2 87.45 L156.8 85.18 L157.4 82.93 L158 80.79 L158.6 78.83 L159.2 77.14 L159.8 75.8 L160.4 74.9 L161 74.51 L161.6 74.7 L162.2 75.43 L162.8 76.6 L163.4 78.15 L164 79.99 L164.6 82.03 L165.2 84.2 L165.8 86.43 L166.4 88.61 L167 90.69 L167.6 92.56 L168.2 94.16 L168.8 95.41 L169.4 96.21 L170 96.5 L170.6 96.29 L171.2 95.69 L171.8 94.75 L172.4 93.55 L173 92.12 L173.6 90.54 L174.2 88.85 L174.8 87.11 L175.4 85.38 L176 83.72 L176.6 82.18 L177.2 80.82 L177.8 79.7 L178.4 78.87 L179 78.4 L179.6 78.34 L180.2 78.96 L180.8 80.23 L181.4 82.02 L182 84.23 L182.6 86.73 L183.2 89.42 L183.8 92.17 L184.4 94.87 L185 97.41 L185.6 99.66 L186.2 101.72 L186.8 103.89 L187.4 106.1 L188 108.3 L188.6 110.42 L189.2 112.39 L189.8 114.16 L190.4 115.67 L191 116.89 L191.6 118.07 L192.2 119.23 L192.8 120.37 L193.4 121.45 L194 122.47 L194.6 123.41 L195.2 124.26 L195.8 124.98 L196.4 125.58 L197 126.02 L197.6 126.3 L198.2 126.4 L198.8 126.33 L199.4 126.14 L200 125.84 L200.6 125.43 L201.2 124.93 L201.8 124.36 L202.4 123.71 L203 123.02 L203.6 122.27 L204.2 121.5 L204.8 120.71 L205.4 119.91 L206 119.11 L206.6 118.33 L207.2 117.58 L207.8 116.86 L208.4 116.19 L209 115.53 L209.6 114.85 L210.2 114.15 L210.8 113.44 L211.4 112.72 L212 111.98 L212.6 111.24 L213.2 110.49 L213.8 109.73 L214.4 108.98 L215 108.22 L215.6 107.46 L216.2 106.71 L216.8 105.97 L217.4 105.23 L218 104.51 L218.6 103.8 L219.2 103.1 L219.8 102.42 L220.4 101.75 L221 101.11 L221.6 100.5 L222.2 99.9 L222.8 99.32 L223.4 98.73 L224 98.15 L224.6 97.58 L225.2 97.01 L225.8 96.47 L226.4 95.93 L227 95.42 L227.6 94.94 L228.2 94.48 L228.8 94.05 L229.4 93.66 L230 93.3 L230.6 92.97 L231.2 92.64 L231.8 92.31 L232.4 91.99 L233 91.68 L233.6 91.37 L234.2 91.07 L234.8 90.78 L235.4 90.5 L236 90.22 L236.6 89.95 L237.2 89.7 L237.8 89.45 L238.4 89.22 L239 88.99 L239.6 88.78 L240.2 88.59 L240.8 88.4 L241.4 88.23 L242 88.07 L242.6 87.93 L243.2 87.8 L243.8 87.69 L244.4 87.6 L245 87.52 L245.6 87.43 L246.2 87.35 L246.8 87.27 L247.4 87.19 L248 87.12 L248.6 87.05 L249.2 86.98 L249.8 86.91 L250.4 86.85 L251 86.8 L251.6 86.74 L252.2 86.69 L252.8 86.65 L253.4 86.61 L254 86.58 L254.6 86.55 L255.2 86.53 L255.8 86.51 L256.4 86.5 L257 86.5 L257.6 86.5 L258.2 86.51 L258.8 86.52 L259.4 86.54 L260 86.56 L260.6 86.59 L261.2 86.62 L261.8 86.65 L262.4 86.68 L263 86.72 L263.6 86.76 L264.2 86.8 L264.8 86.85 L265.4 86.9 L266 86.95 L266.6 87 L267.2 87.05 L267.8 87.1 L268.4 87.16 L269 87.21 L269.6 87.27 L270.2 87.33 L270.8 87.38 L271.4 87.44 L272 87.49 L272.6 87.55 L273.2 87.6 L273.8 87.65 L274.4 87.7 L275 87.75 L275.6 87.8 L276.2 87.85 L276.8 87.89 L277.4 87.93 L278 87.97 L278.6 88.01 L279.2 88.04 L279.8 88.08 L280.4 88.11 L281 88.15 L281.6 88.19 L282.2 88.22 L282.8 88.26 L283.4 88.3 L284 88.34 L284.6 88.38 L285.2 88.42 L285.8 88.46 L286.4 88.49 L287 88.53 L287.6 88.57 L288.2 88.61 L288.8 88.65 L289.4 88.69 L290 88.72 L290.6 88.76 L291.2 88.8 L291.8 88.83 L292.4 88.87 L293 88.91 L293.6 88.94 L294.2 88.97 L294.8 89.01 L295.4 89.04 L296 89.07 L296.6 89.1 L297.2 89.13 L297.8 89.16 L298.4 89.18 L299 89.21 L299.6 89.23 L300.2 89.25 L300.8 89.28 L301.4 89.3 L302 89.31 L302.6 89.33 L303.2 89.35 L303.8 89.36 L304.4 89.37 L305 89.38 L305.6 89.39 L306.2 89.39 L306.8 89.4 L307.4 89.4 L307.6 89.4" fill="none" stroke="#ee1111" stroke-width="1.65" stroke-linejoin="round"/><path d="M81.8 90.2a1.3 1.3 0 1 0 2.6 0a1.3 1.3 0 1 0 -2.6 0M83.78 91.01a1.3 1.3 0 1 0 2.6 0a1.3 1.3 0 1 0 -2.6 0M85.75 93.42a1.3 1.3 0 1 0 2.6 0a1.3 1.3 0 1 0 -2.6 0M87.73 98.45a1.3 1.3 0 1 0 2.6 0a1.3 1.3 0 1 0 -2.6 0M89.7 107.68a1.3 1.3 0 1 0 2.6 0a1.3 1.3 0 1 0 -2.6 0M91.68 117.02a1.3 1.3 0 1 0 2.6 0a1.3 1.3 0 1 0 -2.6 0M93.65 126.6a1.3 1.3 0 1 0 2.6 0a1.3 1.3 0 1 0 -2.6 0M95.63 138.17a1.3 1.3 0 1 0 2.6 0a1.3 1.3 0 1 0 -2.6 0M97.6 143.45a1.3 1.3 0 1 0 2.6 0a1.3 1.3 0 1 0 -2.6 0M99.58 137.97a1.3 1.3 0 1 0 2.6 0a1.3 1.3 0 1 0 -2.6 0M101.56 127.73a1.3 1.3 0 1 0 2.6 0a1.3 1.3 0 1 0 -2.6 0M103.53 117.44a1.3 1.3 0 1 0 2.6 0a1.3 1.3 0 1 0 -2.6 0M105.51 109.57a1.3 1.3 0 1 0 2.6 0a1.3 1.3 0 1 0 -2.6 0M107.48 107.84a1.3 1.3 0 1 0 2.6 0a1.3 1.3 0 1 0 -2.6 0M109.46 111.85a1.3 1.3 0 1 0 2.6 0a1.3 1.3 0 1 0 -2.6 0M111.43 117.38a1.3 1.3 0 1 0 2.6 0a1.3 1.3 0 1 0 -2.6 0M113.41 120.68a1.3 1.3 0 1 0 2.6 0a1.3 1.3 0 1 0 -2.6 0M115.39 118.48a1.3 1.3 0 1 0 2.6 0a1.3 1.3 0 1 0 -2.6 0M117.36 110.71a1.3 1.3 0 1 0 2.6 0a1.3 1.3 0 1 0 -2.6 0M119.34 100.67a1.3 1.3 0 1 0 2.6 0a1.3 1.3 0 1 0 -2.6 0M121.31 90.61a1.3 1.3 0 1 0 2.6 0a1.3 1.3 0 1 0 -2.6 0M123.29 83.16a1.3 1.3 0 1 0 2.6 0a1.3 1.3 0 1 0 -2.6 0M125.26 82.18a1.3 1.3 0 1 0 2.6 0a1.3 1.3 0 1 0 -2.6 0M127.24 87.48a1.3 1.3 0 1 0 2.6 0a1.3 1.3 0 1 0 -2.6 0M129.21 95.46a1.3 1.3 0 1 0 2.6 0a1.3 1.3 0 1 0 -2.6 0M131.19 102.66a1.3 1.3 0 1 0 2.6 0a1.3 1.3 0 1 0 -2.6 0M133.17 104.64a1.3 1.3 0 1 0 2.6 0a1.3 1.3 0 1 0 -2.6 0M135.14 99.23a1.3 1.3 0 1 0 2.6 0a1.3 1.3 0 1 0 -2.6 0M137.12 90.36a1.3 1.3 0 1 0 2.6 0a1.3 1.3 0 1 0 -2.6 0M139.09 81.61a1.3 1.3 0 1 0 2.6 0a1.3 1.3 0 1 0 -2.6 0M141.07 75.51a1.3 1.3 0 1 0 2.6 0a1.3 1.3 0 1 0 -2.6 0M143.04 75.34a1.3 1.3 0 1 0 2.6 0a1.3 1.3 0 1 0 -2.6 0M145.02 81.13a1.3 1.3 0 1 0 2.6 0a1.3 1.3 0 1 0 -2.6 0M146.99 89.49a1.3 1.3 0 1 0 2.6 0a1.3 1.3 0 1 0 -2.6 0M148.97 97.45a1.3 1.3 0 1 0 2.6 0a1.3 1.3 0 1 0 -2.6 0M150.95 100.99a1.3 1.3 0 1 0 2.6 0a1.3 1.3 0 1 0 -2.6 0M152.92 96.87a1.3 1.3 0 1 0 2.6 0a1.3 1.3 0 1 0 -2.6 0M154.9 88.21a1.3 1.3 0 1 0 2.6 0a1.3 1.3 0 1 0 -2.6 0M156.87 79.17a1.3 1.3 0 1 0 2.6 0a1.3 1.3 0 1 0 -2.6 0M158.85 72.92a1.3 1.3 0 1 0 2.6 0a1.3 1.3 0 1 0 -2.6 0M160.82 73.03a1.3 1.3 0 1 0 2.6 0a1.3 1.3 0 1 0 -2.6 0M162.8 79.31a1.3 1.3 0 1 0 2.6 0a1.3 1.3 0 1 0 -2.6 0M164.78 88.11a1.3 1.3 0 1 0 2.6 0a1.3 1.3 0 1 0 -2.6 0M166.75 96.33a1.3 1.3 0 1 0 2.6 0a1.3 1.3 0 1 0 -2.6 0M168.73 99.99a1.3 1.3 0 1 0 2.6 0a1.3 1.3 0 1 0 -2.6 0M170.7 96.89a1.3 1.3 0 1 0 2.6 0a1.3 1.3 0 1 0 -2.6 0M172.68 90.28a1.3 1.3 0 1 0 2.6 0a1.3 1.3 0 1 0 -2.6 0M174.65 83.28a1.3 1.3 0 1 0 2.6 0a1.3 1.3 0 1 0 -2.6 0M176.63 77.84a1.3 1.3 0 1 0 2.6 0a1.3 1.3 0 1 0 -2.6 0M178.6 76.63a1.3 1.3 0 1 0 2.6 0a1.3 1.3 0 1 0 -2.6 0M180.58 82.69a1.3 1.3 0 1 0 2.6 0a1.3 1.3 0 1 0 -2.6 0M182.56 92.79a1.3 1.3 0 1 0 2.6 0a1.3 1.3 0 1 0 -2.6 0M184.53 102.51a1.3 1.3 0 1 0 2.6 0a1.3 1.3 0 1 0 -2.6 0M186.51 110.85a1.3 1.3 0 1 0 2.6 0a1.3 1.3 0 1 0 -2.6 0M188.48 117.19a1.3 1.3 0 1 0 2.6 0a1.3 1.3 0 1 0 -2.6 0M190.46 120.96a1.3 1.3 0 1 0 2.6 0a1.3 1.3 0 1 0 -2.6 0M192.43 124.97a1.3 1.3 0 1 0 2.6 0a1.3 1.3 0 1 0 -2.6 0M194.41 128.51a1.3 1.3 0 1 0 2.6 0a1.3 1.3 0 1 0 -2.6 0M196.38 130.07a1.3 1.3 0 1 0 2.6 0a1.3 1.3 0 1 0 -2.6 0M198.36 129.07a1.3 1.3 0 1 0 2.6 0a1.3 1.3 0 1 0 -2.6 0M200.34 126.46a1.3 1.3 0 1 0 2.6 0a1.3 1.3 0 1 0 -2.6 0M202.31 123.23a1.3 1.3 0 1 0 2.6 0a1.3 1.3 0 1 0 -2.6 0M204.29 120.04a1.3 1.3 0 1 0 2.6 0a1.3 1.3 0 1 0 -2.6 0M206.26 117.25a1.3 1.3 0 1 0 2.6 0a1.3 1.3 0 1 0 -2.6 0M208.24 114.95a1.3 1.3 0 1 0 2.6 0a1.3 1.3 0 1 0 -2.6 0M210.21 112.58a1.3 1.3 0 1 0 2.6 0a1.3 1.3 0 1 0 -2.6 0M212.19 110.12a1.3 1.3 0 1 0 2.6 0a1.3 1.3 0 1 0 -2.6 0M214.17 107.63a1.3 1.3 0 1 0 2.6 0a1.3 1.3 0 1 0 -2.6 0M216.14 105.18a1.3 1.3 0 1 0 2.6 0a1.3 1.3 0 1 0 -2.6 0M218.12 102.85a1.3 1.3 0 1 0 2.6 0a1.3 1.3 0 1 0 -2.6 0M220.09 100.71a1.3 1.3 0 1 0 2.6 0a1.3 1.3 0 1 0 -2.6 0M222.07 98.76a1.3 1.3 0 1 0 2.6 0a1.3 1.3 0 1 0 -2.6 0M224.04 96.88a1.3 1.3 0 1 0 2.6 0a1.3 1.3 0 1 0 -2.6 0M226.02 95.16a1.3 1.3 0 1 0 2.6 0a1.3 1.3 0 1 0 -2.6 0M227.99 93.72a1.3 1.3 0 1 0 2.6 0a1.3 1.3 0 1 0 -2.6 0M229.97 92.6a1.3 1.3 0 1 0 2.6 0a1.3 1.3 0 1 0 -2.6 0M231.95 91.55a1.3 1.3 0 1 0 2.6 0a1.3 1.3 0 1 0 -2.6 0M233.92 90.58a1.3 1.3 0 1 0 2.6 0a1.3 1.3 0 1 0 -2.6 0M235.9 89.7a1.3 1.3 0 1 0 2.6 0a1.3 1.3 0 1 0 -2.6 0M237.87 88.93a1.3 1.3 0 1 0 2.6 0a1.3 1.3 0 1 0 -2.6 0M239.85 88.3a1.3 1.3 0 1 0 2.6 0a1.3 1.3 0 1 0 -2.6 0M241.82 87.82a1.3 1.3 0 1 0 2.6 0a1.3 1.3 0 1 0 -2.6 0M243.8 87.5a1.3 1.3 0 1 0 2.6 0a1.3 1.3 0 1 0 -2.6 0M245.77 87.24a1.3 1.3 0 1 0 2.6 0a1.3 1.3 0 1 0 -2.6 0M247.75 87a1.3 1.3 0 1 0 2.6 0a1.3 1.3 0 1 0 -2.6 0M249.73 86.79a1.3 1.3 0 1 0 2.6 0a1.3 1.3 0 1 0 -2.6 0M251.7 86.64a1.3 1.3 0 1 0 2.6 0a1.3 1.3 0 1 0 -2.6 0M253.68 86.53a1.3 1.3 0 1 0 2.6 0a1.3 1.3 0 1 0 -2.6 0M255.65 86.5a1.3 1.3 0 1 0 2.6 0a1.3 1.3 0 1 0 -2.6 0M257.63 86.53a1.3 1.3 0 1 0 2.6 0a1.3 1.3 0 1 0 -2.6 0M259.6 86.6a1.3 1.3 0 1 0 2.6 0a1.3 1.3 0 1 0 -2.6 0M261.58 86.71a1.3 1.3 0 1 0 2.6 0a1.3 1.3 0 1 0 -2.6 0M263.56 86.85a1.3 1.3 0 1 0 2.6 0a1.3 1.3 0 1 0 -2.6 0M265.53 87.02a1.3 1.3 0 1 0 2.6 0a1.3 1.3 0 1 0 -2.6 0M267.51 87.2a1.3 1.3 0 1 0 2.6 0a1.3 1.3 0 1 0 -2.6 0M269.48 87.38a1.3 1.3 0 1 0 2.6 0a1.3 1.3 0 1 0 -2.6 0M271.46 87.56a1.3 1.3 0 1 0 2.6 0a1.3 1.3 0 1 0 -2.6 0M273.43 87.73a1.3 1.3 0 1 0 2.6 0a1.3 1.3 0 1 0 -2.6 0M275.41 87.88a1.3 1.3 0 1 0 2.6 0a1.3 1.3 0 1 0 -2.6 0M277.38 88.01a1.3 1.3 0 1 0 2.6 0a1.3 1.3 0 1 0 -2.6 0M279.36 88.13a1.3 1.3 0 1 0 2.6 0a1.3 1.3 0 1 0 -2.6 0M281.34 88.25a1.3 1.3 0 1 0 2.6 0a1.3 1.3 0 1 0 -2.6 0M283.31 88.38a1.3 1.3 0 1 0 2.6 0a1.3 1.3 0 1 0 -2.6 0M285.29 88.51a1.3 1.3 0 1 0 2.6 0a1.3 1.3 0 1 0 -2.6 0M287.26 88.63a1.3 1.3 0 1 0 2.6 0a1.3 1.3 0 1 0 -2.6 0M289.24 88.76a1.3 1.3 0 1 0 2.6 0a1.3 1.3 0 1 0 -2.6 0M291.21 88.88a1.3 1.3 0 1 0 2.6 0a1.3 1.3 0 1 0 -2.6 0M293.19 88.99a1.3 1.3 0 1 0 2.6 0a1.3 1.3 0 1 0 -2.6 0M295.16 89.09a1.3 1.3 0 1 0 2.6 0a1.3 1.3 0 1 0 -2.6 0M297.14 89.18a1.3 1.3 0 1 0 2.6 0a1.3 1.3 0 1 0 -2.6 0M299.12 89.26a1.3 1.3 0 1 0 2.6 0a1.3 1.3 0 1 0 -2.6 0M301.09 89.33a1.3 1.3 0 1 0 2.6 0a1.3 1.3 0 1 0 -2.6 0M303.07 89.37a1.3 1.3 0 1 0 2.6 0a1.3 1.3 0 1 0 -2.6 0M305.04 89.4a1.3 1.3 0 1 0 2.6 0a1.3 1.3 0 1 0 -2.6 0" fill="none" stroke="#383838" stroke-width="0.65"/><rect x="83.1" y="213.4" width="8.98" height="161.6" fill="#cccccc"/><rect x="92.08" y="213.4" width="8.98" height="161.6" fill="#e6e6e6"/><rect x="101.06" y="213.4" width="8.98" height="161.6" fill="#cccccc"/><rect x="110.04" y="213.4" width="8.98" height="161.6" fill="#e6e6e6"/><rect x="119.02" y="213.4" width="8.98" height="161.6" fill="#cccccc"/><rect x="128" y="213.4" width="8.98" height="161.6" fill="#e6e6e6"/><rect x="136.98" y="213.4" width="8.98" height="161.6" fill="#cccccc"/><rect x="145.96" y="213.4" width="8.98" height="161.6" fill="#e6e6e6"/><rect x="154.94" y="213.4" width="8.98" height="161.6" fill="#cccccc"/><rect x="163.92" y="213.4" width="8.98" height="161.6" fill="#e6e6e6"/><rect x="172.9" y="213.4" width="8.98" height="161.6" fill="#cccccc"/><rect x="51.3" y="213.4" width="261.1" height="161.6" fill="none" stroke="#a4a4a4" stroke-width="1.1"/><path d="M56.16 375v-2.0M56.16 213.4v2.0M65.14 375v-2.0M65.14 213.4v2.0M74.12 375v-2.0M74.12 213.4v2.0M83.1 375v-3.5M83.1 213.4v3.5M92.08 375v-2.0M92.08 213.4v2.0M101.06 375v-2.0M101.06 213.4v2.0M110.04 375v-2.0M110.04 213.4v2.0M119.02 375v-2.0M119.02 213.4v2.0M128 375v-3.5M128 213.4v3.5M136.98 375v-2.0M136.98 213.4v2.0M145.96 375v-2.0M145.96 213.4v2.0M154.94 375v-2.0M154.94 213.4v2.0M163.92 375v-2.0M163.92 213.4v2.0M172.9 375v-3.5M172.9 213.4v3.5M181.88 375v-2.0M181.88 213.4v2.0M190.86 375v-2.0M190.86 213.4v2.0M199.84 375v-2.0M199.84 213.4v2.0M208.82 375v-2.0M208.82 213.4v2.0M217.8 375v-3.5M217.8 213.4v3.5M226.78 375v-2.0M226.78 213.4v2.0M235.76 375v-2.0M235.76 213.4v2.0M244.74 375v-2.0M244.74 213.4v2.0M253.72 375v-2.0M253.72 213.4v2.0M262.7 375v-3.5M262.7 213.4v3.5M271.68 375v-2.0M271.68 213.4v2.0M280.66 375v-2.0M280.66 213.4v2.0M289.64 375v-2.0M289.64 213.4v2.0M298.62 375v-2.0M298.62 213.4v2.0M307.6 375v-3.5M307.6 213.4v3.5M51.3 369.72h2.0M312.4 369.72h-2.0M51.3 362.7h3.5M312.4 362.7h-3.5M51.3 355.68h2.0M312.4 355.68h-2.0M51.3 348.66h2.0M312.4 348.66h-2.0M51.3 341.64h2.0M312.4 341.64h-2.0M51.3 334.62h2.0M312.4 334.62h-2.0M51.3 327.6h3.5M312.4 327.6h-3.5M51.3 320.58h2.0M312.4 320.58h-2.0M51.3 313.56h2.0M312.4 313.56h-2.0M51.3 306.54h2.0M312.4 306.54h-2.0M51.3 299.52h2.0M312.4 299.52h-2.0M51.3 292.5h3.5M312.4 292.5h-3.5M51.3 285.48h2.0M312.4 285.48h-2.0M51.3 278.46h2.0M312.4 278.46h-2.0M51.3 271.44h2.0M312.4 271.44h-2.0M51.3 264.42h2.0M312.4 264.42h-2.0M51.3 257.4h3.5M312.4 257.4h-3.5M51.3 250.38h2.0M312.4 250.38h-2.0M51.3 243.36h2.0M312.4 243.36h-2.0M51.3 236.34h2.0M312.4 236.34h-2.0M51.3 229.32h2.0M312.4 229.32h-2.0M51.3 222.3h3.5M312.4 222.3h-3.5M51.3 215.28h2.0M312.4 215.28h-2.0" stroke="#a4a4a4" stroke-width="1" fill="none"/><text x="48.1" y="226.2" class="tl" text-anchor="end">0</text><text x="48.1" y="261.3" class="tl" text-anchor="end"><tspan>−</tspan><tspan dx="1.2">0.1</tspan></text><text x="48.1" y="296.4" class="tl" text-anchor="end"><tspan>−</tspan><tspan dx="1.2">0.2</tspan></text><text x="48.1" y="331.5" class="tl" text-anchor="end"><tspan>−</tspan><tspan dx="1.2">0.3</tspan></text><text x="48.1" y="366.6" class="tl" text-anchor="end"><tspan>−</tspan><tspan dx="1.2">0.4</tspan></text><text x="83.1" y="389.2" class="tl" text-anchor="middle">0</text><text x="128" y="389.2" class="tl" text-anchor="middle">50</text><text x="172.9" y="389.2" class="tl" text-anchor="middle">100</text><text x="217.8" y="389.2" class="tl" text-anchor="middle">150</text><text x="262.7" y="389.2" class="tl" text-anchor="middle">200</text><text x="307.6" y="389.2" class="tl" text-anchor="middle">250</text><text transform="translate(10.5 294.2) rotate(-90)" class="ax" text-anchor="middle">response (mV)</text><text x="182" y="408.2" class="ax" text-anchor="middle">time (ms)</text><text x="303.9" y="366.4" class="td" text-anchor="end">10 Td</text><text x="61.9" y="223.9" class="sl" text-anchor="middle">0.2</text><text x="61.9" y="252.2" class="sl" text-anchor="middle">0.5</text><text x="61.9" y="280.6" class="sl" text-anchor="middle">0.8</text><text x="64.6" y="308.5" class="sl" text-anchor="middle">1</text><path d="M73.4 221.4 L74 221.4 L74.6 221.4 L75.2 221.4 L75.8 221.4 L76.4 221.4 L77 221.4 L77.6 221.4 L78.2 221.4 L78.8 221.4 L79.4 221.4 L80 221.4 L80.6 221.4 L81.2 221.4 L81.8 221.4 L82.4 221.4 L83 221.4 L83.6 221.4 L84.2 221.44 L84.8 221.51 L85.4 221.61 L86 221.74 L86.6 221.89 L87.2 222.06 L87.8 222.25 L88.4 222.45 L89 222.81 L89.6 223.31 L90.2 223.89 L90.8 224.47 L91.4 225 L92 225.55 L92.6 226.1 L93.2 226.65 L93.8 227.18 L94.4 227.67 L95 228.15 L95.6 228.62 L96.2 229.08 L96.8 229.56 L97.4 230.11 L98 230.65 L98.6 231.06 L99.2 231.32 L99.8 231.49 L100.4 231.48 L101 231.37 L101.6 231.18 L102.2 230.93 L102.8 230.64 L103.4 230.31 L104 229.96 L104.6 229.61 L105.2 229.27 L105.8 228.96 L106.4 228.69 L107 228.49 L107.6 228.35 L108.2 228.3 L108.8 228.36 L109.4 228.52 L110 228.76 L110.6 229.07 L111.2 229.43 L111.8 229.8 L112.4 230.19 L113 230.55 L113.6 230.89 L114.2 231.17 L114.8 231.37 L115.4 231.49 L116 231.49 L116.6 231.37 L117.2 231.16 L117.8 230.87 L118.4 230.5 L119 230.07 L119.6 229.6 L120.2 229.09 L120.8 228.57 L121.4 228.04 L122 227.52 L122.6 227.02 L123.2 226.55 L123.8 226.14 L124.4 225.78 L125 225.5 L125.6 225.3 L126.2 225.21 L126.8 225.22 L127.4 225.3 L128 225.45 L128.6 225.64 L129.2 225.88 L129.8 226.13 L130.4 226.4 L131 226.68 L131.6 226.94 L132.2 227.18 L132.8 227.39 L133.4 227.56 L134 227.66 L134.6 227.7 L135.2 227.64 L135.8 227.47 L136.4 227.2 L137 226.86 L137.6 226.46 L138.2 226.02 L138.8 225.56 L139.4 225.09 L140 224.63 L140.6 224.2 L141.2 223.82 L141.8 223.5 L142.4 223.26 L143 223.13 L143.6 223.1 L144.2 223.17 L144.8 223.31 L145.4 223.5 L146 223.74 L146.6 224.01 L147.2 224.3 L147.8 224.6 L148.4 224.89 L149 225.16 L149.6 225.4 L150.2 225.59 L150.8 225.73 L151.4 225.8 L152 225.78 L152.6 225.66 L153.2 225.47 L153.8 225.2 L154.4 224.88 L155 224.51 L155.6 224.12 L156.2 223.7 L156.8 223.29 L157.4 222.88 L158 222.5 L158.6 222.15 L159.2 221.86 L159.8 221.62 L160.4 221.47 L161 221.4 L161.6 221.42 L162.2 221.48 L162.8 221.59 L163.4 221.73 L164 221.9 L164.6 222.09 L165.2 222.3 L165.8 222.52 L166.4 222.74 L167 222.96 L167.6 223.17 L168.2 223.37 L168.8 223.54 L169.4 223.69 L170 223.8 L170.6 223.87 L171.2 223.9 L171.8 223.86 L172.4 223.76 L173 223.6 L173.6 223.4 L174.2 223.15 L174.8 222.88 L175.4 222.6 L176 222.3 L176.6 222.01 L177.2 221.72 L177.8 221.46 L178.4 221.23 L179 221.04 L179.6 220.9 L180.2 220.82 L180.8 220.8 L181.4 220.86 L182 220.98 L182.6 221.15 L183.2 221.37 L183.8 221.64 L184.4 221.94 L185 222.28 L185.6 222.64 L186.2 223.01 L186.8 223.4 L187.4 223.8 L188 224.19 L188.6 224.58 L189.2 224.96 L189.8 225.31 L190.4 225.65 L191 225.95 L191.6 226.28 L192.2 226.62 L192.8 226.97 L193.4 227.33 L194 227.69 L194.6 228.04 L195.2 228.37 L195.8 228.69 L196.4 228.97 L197 229.22 L197.6 229.44 L198.2 229.6 L198.8 229.74 L199.4 229.87 L200 230.01 L200.6 230.13 L201.2 230.25 L201.8 230.37 L202.4 230.47 L203 230.57 L203.6 230.65 L204.2 230.73 L204.8 230.79 L205.4 230.84 L206 230.88 L206.6 230.9 L207.2 230.9 L207.8 230.89 L208.4 230.87 L209 230.83 L209.6 230.79 L210.2 230.73 L210.8 230.67 L211.4 230.6 L212 230.52 L212.6 230.44 L213.2 230.35 L213.8 230.25 L214.4 230.15 L215 230.05 L215.6 229.94 L216.2 229.83 L216.8 229.72 L217.4 229.61 L218 229.5 L218.6 229.39 L219.2 229.29 L219.8 229.18 L220.4 229.08 L221 228.98 L221.6 228.89 L222.2 228.78 L222.8 228.68 L223.4 228.57 L224 228.46 L224.6 228.34 L225.2 228.23 L225.8 228.11 L226.4 228 L227 227.88 L227.6 227.76 L228.2 227.64 L228.8 227.53 L229.4 227.41 L230 227.3 L230.6 227.19 L231.2 227.07 L231.8 226.96 L232.4 226.84 L233 226.72 L233.6 226.6 L234.2 226.48 L234.8 226.36 L235.4 226.24 L236 226.12 L236.6 226 L237.2 225.88 L237.8 225.76 L238.4 225.65 L239 225.53 L239.6 225.42 L240.2 225.31 L240.8 225.2 L241.4 225.09 L242 224.99 L242.6 224.89 L243.2 224.79 L243.8 224.69 L244.4 224.6 L245 224.51 L245.6 224.42 L246.2 224.33 L246.8 224.24 L247.4 224.15 L248 224.07 L248.6 223.98 L249.2 223.89 L249.8 223.81 L250.4 223.73 L251 223.64 L251.6 223.56 L252.2 223.48 L252.8 223.4 L253.4 223.32 L254 223.25 L254.6 223.17 L255.2 223.1 L255.8 223.03 L256.4 222.96 L257 222.89 L257.6 222.83 L258.2 222.76 L258.8 222.7 L259.4 222.64 L260 222.59 L260.6 222.54 L261.2 222.49 L261.8 222.44 L262.4 222.39 L263 222.35 L263.6 222.3 L264.2 222.26 L264.8 222.22 L265.4 222.17 L266 222.13 L266.6 222.08 L267.2 222.04 L267.8 222 L268.4 221.96 L269 221.91 L269.6 221.87 L270.2 221.83 L270.8 221.79 L271.4 221.75 L272 221.72 L272.6 221.68 L273.2 221.64 L273.8 221.61 L274.4 221.58 L275 221.55 L275.6 221.52 L276.2 221.49 L276.8 221.46 L277.4 221.44 L278 221.41 L278.6 221.39 L279.2 221.37 L279.8 221.36 L280.4 221.34 L281 221.33 L281.6 221.32 L282.2 221.31 L282.8 221.3 L283.4 221.3 L284 221.3 L284.6 221.3 L285.2 221.3 L285.8 221.3 L286.4 221.3 L287 221.3 L287.6 221.3 L288.2 221.3 L288.8 221.3 L289.4 221.3 L290 221.3 L290.6 221.3 L291.2 221.3 L291.8 221.3 L292.4 221.3 L293 221.3 L293.6 221.3 L294.2 221.3 L294.8 221.3 L295.4 221.3 L296 221.3 L296.6 221.3 L297.2 221.3 L297.8 221.3 L298.4 221.3 L299 221.3 L299.6 221.3 L300.2 221.3 L300.8 221.3 L301.4 221.3 L302 221.3 L302.6 221.3 L303.2 221.3 L303.8 221.3 L304.4 221.3 L305 221.3 L305.6 221.3 L306.2 221.3 L306.8 221.3 L307.4 221.3 L307.6 221.3" fill="none" stroke="#ee1111" stroke-width="1.65" stroke-linejoin="round"/><path d="M81.8 221.4a1.3 1.3 0 1 0 2.6 0a1.3 1.3 0 1 0 -2.6 0M83.78 221.55a1.3 1.3 0 1 0 2.6 0a1.3 1.3 0 1 0 -2.6 0M85.75 222.01a1.3 1.3 0 1 0 2.6 0a1.3 1.3 0 1 0 -2.6 0M87.73 222.83a1.3 1.3 0 1 0 2.6 0a1.3 1.3 0 1 0 -2.6 0M89.7 224.66a1.3 1.3 0 1 0 2.6 0a1.3 1.3 0 1 0 -2.6 0M91.68 226.45a1.3 1.3 0 1 0 2.6 0a1.3 1.3 0 1 0 -2.6 0M93.65 228.11a1.3 1.3 0 1 0 2.6 0a1.3 1.3 0 1 0 -2.6 0M95.63 229.67a1.3 1.3 0 1 0 2.6 0a1.3 1.3 0 1 0 -2.6 0M97.6 231.19a1.3 1.3 0 1 0 2.6 0a1.3 1.3 0 1 0 -2.6 0M99.58 231.4a1.3 1.3 0 1 0 2.6 0a1.3 1.3 0 1 0 -2.6 0M101.56 230.61a1.3 1.3 0 1 0 2.6 0a1.3 1.3 0 1 0 -2.6 0M103.53 229.48a1.3 1.3 0 1 0 2.6 0a1.3 1.3 0 1 0 -2.6 0M105.51 228.55a1.3 1.3 0 1 0 2.6 0a1.3 1.3 0 1 0 -2.6 0M107.48 228.35a1.3 1.3 0 1 0 2.6 0a1.3 1.3 0 1 0 -2.6 0M109.46 229.16a1.3 1.3 0 1 0 2.6 0a1.3 1.3 0 1 0 -2.6 0M111.43 230.39a1.3 1.3 0 1 0 2.6 0a1.3 1.3 0 1 0 -2.6 0M113.41 231.35a1.3 1.3 0 1 0 2.6 0a1.3 1.3 0 1 0 -2.6 0M115.39 231.35a1.3 1.3 0 1 0 2.6 0a1.3 1.3 0 1 0 -2.6 0M117.36 230.32a1.3 1.3 0 1 0 2.6 0a1.3 1.3 0 1 0 -2.6 0M119.34 228.71a1.3 1.3 0 1 0 2.6 0a1.3 1.3 0 1 0 -2.6 0M121.31 227.01a1.3 1.3 0 1 0 2.6 0a1.3 1.3 0 1 0 -2.6 0M123.29 225.68a1.3 1.3 0 1 0 2.6 0a1.3 1.3 0 1 0 -2.6 0M125.26 225.2a1.3 1.3 0 1 0 2.6 0a1.3 1.3 0 1 0 -2.6 0M127.24 225.62a1.3 1.3 0 1 0 2.6 0a1.3 1.3 0 1 0 -2.6 0M129.21 226.46a1.3 1.3 0 1 0 2.6 0a1.3 1.3 0 1 0 -2.6 0M131.19 227.29a1.3 1.3 0 1 0 2.6 0a1.3 1.3 0 1 0 -2.6 0M133.17 227.7a1.3 1.3 0 1 0 2.6 0a1.3 1.3 0 1 0 -2.6 0M135.14 227.18a1.3 1.3 0 1 0 2.6 0a1.3 1.3 0 1 0 -2.6 0M137.12 225.85a1.3 1.3 0 1 0 2.6 0a1.3 1.3 0 1 0 -2.6 0M139.09 224.34a1.3 1.3 0 1 0 2.6 0a1.3 1.3 0 1 0 -2.6 0M141.07 223.27a1.3 1.3 0 1 0 2.6 0a1.3 1.3 0 1 0 -2.6 0M143.04 223.2a1.3 1.3 0 1 0 2.6 0a1.3 1.3 0 1 0 -2.6 0M145.02 223.88a1.3 1.3 0 1 0 2.6 0a1.3 1.3 0 1 0 -2.6 0M146.99 224.84a1.3 1.3 0 1 0 2.6 0a1.3 1.3 0 1 0 -2.6 0M148.97 225.61a1.3 1.3 0 1 0 2.6 0a1.3 1.3 0 1 0 -2.6 0M150.95 225.74a1.3 1.3 0 1 0 2.6 0a1.3 1.3 0 1 0 -2.6 0M152.92 224.98a1.3 1.3 0 1 0 2.6 0a1.3 1.3 0 1 0 -2.6 0M154.9 223.71a1.3 1.3 0 1 0 2.6 0a1.3 1.3 0 1 0 -2.6 0M156.87 222.4a1.3 1.3 0 1 0 2.6 0a1.3 1.3 0 1 0 -2.6 0M158.85 221.52a1.3 1.3 0 1 0 2.6 0a1.3 1.3 0 1 0 -2.6 0M160.82 221.47a1.3 1.3 0 1 0 2.6 0a1.3 1.3 0 1 0 -2.6 0M162.8 221.93a1.3 1.3 0 1 0 2.6 0a1.3 1.3 0 1 0 -2.6 0M164.78 222.62a1.3 1.3 0 1 0 2.6 0a1.3 1.3 0 1 0 -2.6 0M166.75 223.32a1.3 1.3 0 1 0 2.6 0a1.3 1.3 0 1 0 -2.6 0M168.73 223.81a1.3 1.3 0 1 0 2.6 0a1.3 1.3 0 1 0 -2.6 0M170.7 223.84a1.3 1.3 0 1 0 2.6 0a1.3 1.3 0 1 0 -2.6 0M172.68 223.25a1.3 1.3 0 1 0 2.6 0a1.3 1.3 0 1 0 -2.6 0M174.65 222.32a1.3 1.3 0 1 0 2.6 0a1.3 1.3 0 1 0 -2.6 0M176.63 221.41a1.3 1.3 0 1 0 2.6 0a1.3 1.3 0 1 0 -2.6 0M178.6 220.85a1.3 1.3 0 1 0 2.6 0a1.3 1.3 0 1 0 -2.6 0M180.58 220.95a1.3 1.3 0 1 0 2.6 0a1.3 1.3 0 1 0 -2.6 0M182.56 221.67a1.3 1.3 0 1 0 2.6 0a1.3 1.3 0 1 0 -2.6 0M184.53 222.78a1.3 1.3 0 1 0 2.6 0a1.3 1.3 0 1 0 -2.6 0M186.51 224.07a1.3 1.3 0 1 0 2.6 0a1.3 1.3 0 1 0 -2.6 0M188.48 225.3a1.3 1.3 0 1 0 2.6 0a1.3 1.3 0 1 0 -2.6 0M190.46 226.37a1.3 1.3 0 1 0 2.6 0a1.3 1.3 0 1 0 -2.6 0M192.43 227.53a1.3 1.3 0 1 0 2.6 0a1.3 1.3 0 1 0 -2.6 0M194.41 228.64a1.3 1.3 0 1 0 2.6 0a1.3 1.3 0 1 0 -2.6 0M196.38 229.46a1.3 1.3 0 1 0 2.6 0a1.3 1.3 0 1 0 -2.6 0M198.36 229.93a1.3 1.3 0 1 0 2.6 0a1.3 1.3 0 1 0 -2.6 0M200.34 230.34a1.3 1.3 0 1 0 2.6 0a1.3 1.3 0 1 0 -2.6 0M202.31 230.66a1.3 1.3 0 1 0 2.6 0a1.3 1.3 0 1 0 -2.6 0M204.29 230.85a1.3 1.3 0 1 0 2.6 0a1.3 1.3 0 1 0 -2.6 0M206.26 230.89a1.3 1.3 0 1 0 2.6 0a1.3 1.3 0 1 0 -2.6 0M208.24 230.79a1.3 1.3 0 1 0 2.6 0a1.3 1.3 0 1 0 -2.6 0M210.21 230.59a1.3 1.3 0 1 0 2.6 0a1.3 1.3 0 1 0 -2.6 0M212.19 230.3a1.3 1.3 0 1 0 2.6 0a1.3 1.3 0 1 0 -2.6 0M214.17 229.97a1.3 1.3 0 1 0 2.6 0a1.3 1.3 0 1 0 -2.6 0M216.14 229.61a1.3 1.3 0 1 0 2.6 0a1.3 1.3 0 1 0 -2.6 0M218.12 229.25a1.3 1.3 0 1 0 2.6 0a1.3 1.3 0 1 0 -2.6 0M220.09 228.92a1.3 1.3 0 1 0 2.6 0a1.3 1.3 0 1 0 -2.6 0M222.07 228.57a1.3 1.3 0 1 0 2.6 0a1.3 1.3 0 1 0 -2.6 0M224.04 228.2a1.3 1.3 0 1 0 2.6 0a1.3 1.3 0 1 0 -2.6 0M226.02 227.82a1.3 1.3 0 1 0 2.6 0a1.3 1.3 0 1 0 -2.6 0M227.99 227.43a1.3 1.3 0 1 0 2.6 0a1.3 1.3 0 1 0 -2.6 0M229.97 227.06a1.3 1.3 0 1 0 2.6 0a1.3 1.3 0 1 0 -2.6 0M231.95 226.67a1.3 1.3 0 1 0 2.6 0a1.3 1.3 0 1 0 -2.6 0M233.92 226.28a1.3 1.3 0 1 0 2.6 0a1.3 1.3 0 1 0 -2.6 0M235.9 225.88a1.3 1.3 0 1 0 2.6 0a1.3 1.3 0 1 0 -2.6 0M237.87 225.5a1.3 1.3 0 1 0 2.6 0a1.3 1.3 0 1 0 -2.6 0M239.85 225.14a1.3 1.3 0 1 0 2.6 0a1.3 1.3 0 1 0 -2.6 0M241.82 224.8a1.3 1.3 0 1 0 2.6 0a1.3 1.3 0 1 0 -2.6 0M243.8 224.5a1.3 1.3 0 1 0 2.6 0a1.3 1.3 0 1 0 -2.6 0M245.77 224.2a1.3 1.3 0 1 0 2.6 0a1.3 1.3 0 1 0 -2.6 0M247.75 223.92a1.3 1.3 0 1 0 2.6 0a1.3 1.3 0 1 0 -2.6 0M249.73 223.64a1.3 1.3 0 1 0 2.6 0a1.3 1.3 0 1 0 -2.6 0M251.7 223.37a1.3 1.3 0 1 0 2.6 0a1.3 1.3 0 1 0 -2.6 0M253.68 223.13a1.3 1.3 0 1 0 2.6 0a1.3 1.3 0 1 0 -2.6 0M255.65 222.9a1.3 1.3 0 1 0 2.6 0a1.3 1.3 0 1 0 -2.6 0M257.63 222.69a1.3 1.3 0 1 0 2.6 0a1.3 1.3 0 1 0 -2.6 0M259.6 222.51a1.3 1.3 0 1 0 2.6 0a1.3 1.3 0 1 0 -2.6 0M261.58 222.36a1.3 1.3 0 1 0 2.6 0a1.3 1.3 0 1 0 -2.6 0M263.56 222.21a1.3 1.3 0 1 0 2.6 0a1.3 1.3 0 1 0 -2.6 0M265.53 222.07a1.3 1.3 0 1 0 2.6 0a1.3 1.3 0 1 0 -2.6 0M267.51 221.93a1.3 1.3 0 1 0 2.6 0a1.3 1.3 0 1 0 -2.6 0M269.48 221.79a1.3 1.3 0 1 0 2.6 0a1.3 1.3 0 1 0 -2.6 0M271.46 221.67a1.3 1.3 0 1 0 2.6 0a1.3 1.3 0 1 0 -2.6 0M273.43 221.56a1.3 1.3 0 1 0 2.6 0a1.3 1.3 0 1 0 -2.6 0M275.41 221.47a1.3 1.3 0 1 0 2.6 0a1.3 1.3 0 1 0 -2.6 0M277.38 221.39a1.3 1.3 0 1 0 2.6 0a1.3 1.3 0 1 0 -2.6 0M279.36 221.33a1.3 1.3 0 1 0 2.6 0a1.3 1.3 0 1 0 -2.6 0M281.34 221.3a1.3 1.3 0 1 0 2.6 0a1.3 1.3 0 1 0 -2.6 0M283.31 221.3a1.3 1.3 0 1 0 2.6 0a1.3 1.3 0 1 0 -2.6 0M285.29 221.3a1.3 1.3 0 1 0 2.6 0a1.3 1.3 0 1 0 -2.6 0M287.26 221.3a1.3 1.3 0 1 0 2.6 0a1.3 1.3 0 1 0 -2.6 0M289.24 221.3a1.3 1.3 0 1 0 2.6 0a1.3 1.3 0 1 0 -2.6 0M291.21 221.3a1.3 1.3 0 1 0 2.6 0a1.3 1.3 0 1 0 -2.6 0M293.19 221.3a1.3 1.3 0 1 0 2.6 0a1.3 1.3 0 1 0 -2.6 0M295.16 221.3a1.3 1.3 0 1 0 2.6 0a1.3 1.3 0 1 0 -2.6 0M297.14 221.3a1.3 1.3 0 1 0 2.6 0a1.3 1.3 0 1 0 -2.6 0M299.12 221.3a1.3 1.3 0 1 0 2.6 0a1.3 1.3 0 1 0 -2.6 0M301.09 221.3a1.3 1.3 0 1 0 2.6 0a1.3 1.3 0 1 0 -2.6 0M303.07 221.3a1.3 1.3 0 1 0 2.6 0a1.3 1.3 0 1 0 -2.6 0M305.04 221.3a1.3 1.3 0 1 0 2.6 0a1.3 1.3 0 1 0 -2.6 0" fill="none" stroke="#383838" stroke-width="0.65"/><path d="M73.4 249.7 L74 249.7 L74.6 249.7 L75.2 249.7 L75.8 249.7 L76.4 249.7 L77 249.7 L77.6 249.7 L78.2 249.7 L78.8 249.7 L79.4 249.7 L80 249.7 L80.6 249.7 L81.2 249.7 L81.8 249.7 L82.4 249.7 L83 249.7 L83.6 249.71 L84.2 249.8 L84.8 249.96 L85.4 250.19 L86 250.49 L86.6 250.84 L87.2 251.24 L87.8 251.68 L88.4 252.16 L89 252.98 L89.6 254.16 L90.2 255.51 L90.8 256.88 L91.4 258.12 L92 259.39 L92.6 260.69 L93.2 261.97 L93.8 263.2 L94.4 264.36 L95 265.47 L95.6 266.56 L96.2 267.65 L96.8 268.77 L97.4 270.05 L98 271.32 L98.6 272.27 L99.2 272.87 L99.8 273.27 L100.4 273.26 L101 273.03 L101.6 272.66 L102.2 272.16 L102.8 271.58 L103.4 270.94 L104 270.28 L104.6 269.63 L105.2 269.02 L105.8 268.49 L106.4 268.07 L107 267.8 L107.6 267.7 L108.2 267.81 L108.8 268.11 L109.4 268.57 L110 269.16 L110.6 269.84 L111.2 270.58 L111.8 271.34 L112.4 272.1 L113 272.81 L113.6 273.45 L114.2 273.98 L114.8 274.36 L115.4 274.57 L116 274.57 L116.6 274.32 L117.2 273.84 L117.8 273.17 L118.4 272.34 L119 271.38 L119.6 270.32 L120.2 269.18 L120.8 268 L121.4 266.8 L122 265.63 L122.6 264.5 L123.2 263.45 L123.8 262.51 L124.4 261.7 L125 261.07 L125.6 260.63 L126.2 260.41 L126.8 260.45 L127.4 260.68 L128 261.08 L128.6 261.6 L129.2 262.2 L129.8 262.85 L130.4 263.49 L131 264.1 L131.6 264.64 L132.2 265.06 L132.8 265.33 L133.4 265.4 L134 265.25 L134.6 264.92 L135.2 264.42 L135.8 263.77 L136.4 263.02 L137 262.17 L137.6 261.27 L138.2 260.34 L138.8 259.39 L139.4 258.47 L140 257.59 L140.6 256.79 L141.2 256.09 L141.8 255.51 L142.4 255.09 L143 254.85 L143.6 254.81 L144.2 254.9 L144.8 255.1 L145.4 255.38 L146 255.73 L146.6 256.12 L147.2 256.55 L147.8 257 L148.4 257.45 L149 257.88 L149.6 258.27 L150.2 258.62 L150.8 258.9 L151.4 259.1 L152 259.19 L152.6 259.15 L153.2 258.91 L153.8 258.5 L154.4 257.94 L155 257.28 L155.6 256.52 L156.2 255.72 L156.8 254.89 L157.4 254.07 L158 253.29 L158.6 252.58 L159.2 251.96 L159.8 251.47 L160.4 251.14 L161 251 L161.6 251.04 L162.2 251.17 L162.8 251.38 L163.4 251.66 L164 252 L164.6 252.39 L165.2 252.8 L165.8 253.24 L166.4 253.69 L167 254.13 L167.6 254.55 L168.2 254.94 L168.8 255.29 L169.4 255.58 L170 255.81 L170.6 255.95 L171.2 256 L171.8 255.88 L172.4 255.55 L173 255.05 L173.6 254.39 L174.2 253.63 L174.8 252.79 L175.4 251.9 L176 251 L176.6 250.13 L177.2 249.31 L177.8 248.58 L178.4 247.97 L179 247.52 L179.6 247.25 L180.2 247.21 L180.8 247.34 L181.4 247.6 L182 247.99 L182.6 248.48 L183.2 249.05 L183.8 249.7 L184.4 250.4 L185 251.13 L185.6 251.88 L186.2 252.64 L186.8 253.38 L187.4 254.17 L188 255.14 L188.6 256.24 L189.2 257.44 L189.8 258.69 L190.4 259.95 L191 261.18 L191.6 262.33 L192.2 263.36 L192.8 264.24 L193.4 264.91 L194 265.43 L194.6 265.93 L195.2 266.43 L195.8 266.91 L196.4 267.38 L197 267.84 L197.6 268.29 L198.2 268.72 L198.8 269.13 L199.4 269.53 L200 269.91 L200.6 270.27 L201.2 270.61 L201.8 270.93 L202.4 271.22 L203 271.49 L203.6 271.74 L204.2 271.96 L204.8 272.16 L205.4 272.32 L206 272.46 L206.6 272.57 L207.2 272.64 L207.8 272.69 L208.4 272.7 L209 272.69 L209.6 272.66 L210.2 272.61 L210.8 272.55 L211.4 272.47 L212 272.38 L212.6 272.27 L213.2 272.15 L213.8 272.02 L214.4 271.87 L215 271.72 L215.6 271.55 L216.2 271.38 L216.8 271.2 L217.4 271.01 L218 270.82 L218.6 270.62 L219.2 270.41 L219.8 270.2 L220.4 269.99 L221 269.77 L221.6 269.55 L222.2 269.34 L222.8 269.12 L223.4 268.9 L224 268.66 L224.6 268.4 L225.2 268.1 L225.8 267.77 L226.4 267.43 L227 267.07 L227.6 266.7 L228.2 266.32 L228.8 265.93 L229.4 265.55 L230 265.17 L230.6 264.8 L231.2 264.45 L231.8 264.11 L232.4 263.79 L233 263.46 L233.6 263.13 L234.2 262.81 L234.8 262.48 L235.4 262.15 L236 261.82 L236.6 261.5 L237.2 261.18 L237.8 260.86 L238.4 260.54 L239 260.23 L239.6 259.93 L240.2 259.63 L240.8 259.34 L241.4 259.06 L242 258.79 L242.6 258.52 L243.2 258.27 L243.8 258.03 L244.4 257.8 L245 257.58 L245.6 257.36 L246.2 257.14 L246.8 256.93 L247.4 256.71 L248 256.5 L248.6 256.3 L249.2 256.1 L249.8 255.9 L250.4 255.71 L251 255.52 L251.6 255.34 L252.2 255.16 L252.8 254.98 L253.4 254.81 L254 254.65 L254.6 254.49 L255.2 254.34 L255.8 254.2 L256.4 254.06 L257 253.93 L257.6 253.81 L258.2 253.69 L258.8 253.58 L259.4 253.48 L260 253.37 L260.6 253.27 L261.2 253.17 L261.8 253.07 L262.4 252.97 L263 252.87 L263.6 252.77 L264.2 252.68 L264.8 252.58 L265.4 252.49 L266 252.4 L266.6 252.31 L267.2 252.22 L267.8 252.14 L268.4 252.05 L269 251.97 L269.6 251.89 L270.2 251.81 L270.8 251.73 L271.4 251.66 L272 251.58 L272.6 251.51 L273.2 251.44 L273.8 251.38 L274.4 251.31 L275 251.25 L275.6 251.19 L276.2 251.13 L276.8 251.07 L277.4 251.02 L278 250.97 L278.6 250.92 L279.2 250.87 L279.8 250.83 L280.4 250.79 L281 250.75 L281.6 250.71 L282.2 250.68 L282.8 250.65 L283.4 250.62 L284 250.59 L284.6 250.57 L285.2 250.54 L285.8 250.52 L286.4 250.49 L287 250.47 L287.6 250.45 L288.2 250.43 L288.8 250.4 L289.4 250.38 L290 250.36 L290.6 250.34 L291.2 250.32 L291.8 250.3 L292.4 250.28 L293 250.26 L293.6 250.24 L294.2 250.22 L294.8 250.2 L295.4 250.19 L296 250.17 L296.6 250.15 L297.2 250.14 L297.8 250.12 L298.4 250.11 L299 250.1 L299.6 250.08 L300.2 250.07 L300.8 250.06 L301.4 250.05 L302 250.04 L302.6 250.03 L303.2 250.03 L303.8 250.02 L304.4 250.01 L305 250.01 L305.6 250.01 L306.2 250 L306.8 250 L307.4 250 L307.6 250" fill="none" stroke="#ee1111" stroke-width="1.65" stroke-linejoin="round"/><path d="M81.8 249.7a1.3 1.3 0 1 0 2.6 0a1.3 1.3 0 1 0 -2.6 0M83.78 250.06a1.3 1.3 0 1 0 2.6 0a1.3 1.3 0 1 0 -2.6 0M85.75 251.13a1.3 1.3 0 1 0 2.6 0a1.3 1.3 0 1 0 -2.6 0M87.73 253.03a1.3 1.3 0 1 0 2.6 0a1.3 1.3 0 1 0 -2.6 0M89.7 257.31a1.3 1.3 0 1 0 2.6 0a1.3 1.3 0 1 0 -2.6 0M91.68 261.5a1.3 1.3 0 1 0 2.6 0a1.3 1.3 0 1 0 -2.6 0M93.65 265.38a1.3 1.3 0 1 0 2.6 0a1.3 1.3 0 1 0 -2.6 0M95.63 269a1.3 1.3 0 1 0 2.6 0a1.3 1.3 0 1 0 -2.6 0M97.6 272.47a1.3 1.3 0 1 0 2.6 0a1.3 1.3 0 1 0 -2.6 0M99.58 272.78a1.3 1.3 0 1 0 2.6 0a1.3 1.3 0 1 0 -2.6 0M101.56 270.87a1.3 1.3 0 1 0 2.6 0a1.3 1.3 0 1 0 -2.6 0M103.53 268.29a1.3 1.3 0 1 0 2.6 0a1.3 1.3 0 1 0 -2.6 0M105.51 266.42a1.3 1.3 0 1 0 2.6 0a1.3 1.3 0 1 0 -2.6 0M107.48 266.52a1.3 1.3 0 1 0 2.6 0a1.3 1.3 0 1 0 -2.6 0M109.46 268.41a1.3 1.3 0 1 0 2.6 0a1.3 1.3 0 1 0 -2.6 0M111.43 270.65a1.3 1.3 0 1 0 2.6 0a1.3 1.3 0 1 0 -2.6 0M113.41 272.1a1.3 1.3 0 1 0 2.6 0a1.3 1.3 0 1 0 -2.6 0M115.39 272.07a1.3 1.3 0 1 0 2.6 0a1.3 1.3 0 1 0 -2.6 0M117.36 270.27a1.3 1.3 0 1 0 2.6 0a1.3 1.3 0 1 0 -2.6 0M119.34 267.1a1.3 1.3 0 1 0 2.6 0a1.3 1.3 0 1 0 -2.6 0M121.31 263.25a1.3 1.3 0 1 0 2.6 0a1.3 1.3 0 1 0 -2.6 0M123.29 260.04a1.3 1.3 0 1 0 2.6 0a1.3 1.3 0 1 0 -2.6 0M125.26 258.92a1.3 1.3 0 1 0 2.6 0a1.3 1.3 0 1 0 -2.6 0M127.24 260.32a1.3 1.3 0 1 0 2.6 0a1.3 1.3 0 1 0 -2.6 0M129.21 262.82a1.3 1.3 0 1 0 2.6 0a1.3 1.3 0 1 0 -2.6 0M131.19 264.81a1.3 1.3 0 1 0 2.6 0a1.3 1.3 0 1 0 -2.6 0M133.17 264.85a1.3 1.3 0 1 0 2.6 0a1.3 1.3 0 1 0 -2.6 0M135.14 262.91a1.3 1.3 0 1 0 2.6 0a1.3 1.3 0 1 0 -2.6 0M137.12 259.98a1.3 1.3 0 1 0 2.6 0a1.3 1.3 0 1 0 -2.6 0M139.09 257.06a1.3 1.3 0 1 0 2.6 0a1.3 1.3 0 1 0 -2.6 0M141.07 255.11a1.3 1.3 0 1 0 2.6 0a1.3 1.3 0 1 0 -2.6 0M143.04 254.94a1.3 1.3 0 1 0 2.6 0a1.3 1.3 0 1 0 -2.6 0M145.02 255.93a1.3 1.3 0 1 0 2.6 0a1.3 1.3 0 1 0 -2.6 0M146.99 257.37a1.3 1.3 0 1 0 2.6 0a1.3 1.3 0 1 0 -2.6 0M148.97 258.66a1.3 1.3 0 1 0 2.6 0a1.3 1.3 0 1 0 -2.6 0M150.95 259.2a1.3 1.3 0 1 0 2.6 0a1.3 1.3 0 1 0 -2.6 0M152.92 258.12a1.3 1.3 0 1 0 2.6 0a1.3 1.3 0 1 0 -2.6 0M154.9 255.72a1.3 1.3 0 1 0 2.6 0a1.3 1.3 0 1 0 -2.6 0M156.87 253.08a1.3 1.3 0 1 0 2.6 0a1.3 1.3 0 1 0 -2.6 0M158.85 251.26a1.3 1.3 0 1 0 2.6 0a1.3 1.3 0 1 0 -2.6 0M160.82 251.14a1.3 1.3 0 1 0 2.6 0a1.3 1.3 0 1 0 -2.6 0M162.8 252.06a1.3 1.3 0 1 0 2.6 0a1.3 1.3 0 1 0 -2.6 0M164.78 253.44a1.3 1.3 0 1 0 2.6 0a1.3 1.3 0 1 0 -2.6 0M166.75 254.84a1.3 1.3 0 1 0 2.6 0a1.3 1.3 0 1 0 -2.6 0M168.73 255.81a1.3 1.3 0 1 0 2.6 0a1.3 1.3 0 1 0 -2.6 0M170.7 255.79a1.3 1.3 0 1 0 2.6 0a1.3 1.3 0 1 0 -2.6 0M172.68 253.92a1.3 1.3 0 1 0 2.6 0a1.3 1.3 0 1 0 -2.6 0M174.65 251.07a1.3 1.3 0 1 0 2.6 0a1.3 1.3 0 1 0 -2.6 0M176.63 248.43a1.3 1.3 0 1 0 2.6 0a1.3 1.3 0 1 0 -2.6 0M178.6 247.2a1.3 1.3 0 1 0 2.6 0a1.3 1.3 0 1 0 -2.6 0M180.58 247.9a1.3 1.3 0 1 0 2.6 0a1.3 1.3 0 1 0 -2.6 0M182.56 249.76a1.3 1.3 0 1 0 2.6 0a1.3 1.3 0 1 0 -2.6 0M184.53 252.17a1.3 1.3 0 1 0 2.6 0a1.3 1.3 0 1 0 -2.6 0M186.51 254.8a1.3 1.3 0 1 0 2.6 0a1.3 1.3 0 1 0 -2.6 0M188.48 258.63a1.3 1.3 0 1 0 2.6 0a1.3 1.3 0 1 0 -2.6 0M190.46 262.56a1.3 1.3 0 1 0 2.6 0a1.3 1.3 0 1 0 -2.6 0M192.43 265.08a1.3 1.3 0 1 0 2.6 0a1.3 1.3 0 1 0 -2.6 0M194.41 266.59a1.3 1.3 0 1 0 2.6 0a1.3 1.3 0 1 0 -2.6 0M196.38 267.9a1.3 1.3 0 1 0 2.6 0a1.3 1.3 0 1 0 -2.6 0M198.36 268.94a1.3 1.3 0 1 0 2.6 0a1.3 1.3 0 1 0 -2.6 0M200.34 269.7a1.3 1.3 0 1 0 2.6 0a1.3 1.3 0 1 0 -2.6 0M202.31 270.21a1.3 1.3 0 1 0 2.6 0a1.3 1.3 0 1 0 -2.6 0M204.29 270.52a1.3 1.3 0 1 0 2.6 0a1.3 1.3 0 1 0 -2.6 0M206.26 270.68a1.3 1.3 0 1 0 2.6 0a1.3 1.3 0 1 0 -2.6 0M208.24 270.73a1.3 1.3 0 1 0 2.6 0a1.3 1.3 0 1 0 -2.6 0M210.21 270.77a1.3 1.3 0 1 0 2.6 0a1.3 1.3 0 1 0 -2.6 0M212.19 270.77a1.3 1.3 0 1 0 2.6 0a1.3 1.3 0 1 0 -2.6 0M214.17 270.67a1.3 1.3 0 1 0 2.6 0a1.3 1.3 0 1 0 -2.6 0M216.14 270.42a1.3 1.3 0 1 0 2.6 0a1.3 1.3 0 1 0 -2.6 0M218.12 270.01a1.3 1.3 0 1 0 2.6 0a1.3 1.3 0 1 0 -2.6 0M220.09 269.46a1.3 1.3 0 1 0 2.6 0a1.3 1.3 0 1 0 -2.6 0M222.07 268.84a1.3 1.3 0 1 0 2.6 0a1.3 1.3 0 1 0 -2.6 0M224.04 267.99a1.3 1.3 0 1 0 2.6 0a1.3 1.3 0 1 0 -2.6 0M226.02 266.86a1.3 1.3 0 1 0 2.6 0a1.3 1.3 0 1 0 -2.6 0M227.99 265.61a1.3 1.3 0 1 0 2.6 0a1.3 1.3 0 1 0 -2.6 0M229.97 264.41a1.3 1.3 0 1 0 2.6 0a1.3 1.3 0 1 0 -2.6 0M231.95 263.33a1.3 1.3 0 1 0 2.6 0a1.3 1.3 0 1 0 -2.6 0M233.92 262.25a1.3 1.3 0 1 0 2.6 0a1.3 1.3 0 1 0 -2.6 0M235.9 261.18a1.3 1.3 0 1 0 2.6 0a1.3 1.3 0 1 0 -2.6 0M237.87 260.15a1.3 1.3 0 1 0 2.6 0a1.3 1.3 0 1 0 -2.6 0M239.85 259.18a1.3 1.3 0 1 0 2.6 0a1.3 1.3 0 1 0 -2.6 0M241.82 258.3a1.3 1.3 0 1 0 2.6 0a1.3 1.3 0 1 0 -2.6 0M243.8 257.54a1.3 1.3 0 1 0 2.6 0a1.3 1.3 0 1 0 -2.6 0M245.77 256.83a1.3 1.3 0 1 0 2.6 0a1.3 1.3 0 1 0 -2.6 0M247.75 256.15a1.3 1.3 0 1 0 2.6 0a1.3 1.3 0 1 0 -2.6 0M249.73 255.51a1.3 1.3 0 1 0 2.6 0a1.3 1.3 0 1 0 -2.6 0M251.7 254.93a1.3 1.3 0 1 0 2.6 0a1.3 1.3 0 1 0 -2.6 0M253.68 254.4a1.3 1.3 0 1 0 2.6 0a1.3 1.3 0 1 0 -2.6 0M255.65 253.94a1.3 1.3 0 1 0 2.6 0a1.3 1.3 0 1 0 -2.6 0M257.63 253.56a1.3 1.3 0 1 0 2.6 0a1.3 1.3 0 1 0 -2.6 0M259.6 253.22a1.3 1.3 0 1 0 2.6 0a1.3 1.3 0 1 0 -2.6 0M261.58 252.89a1.3 1.3 0 1 0 2.6 0a1.3 1.3 0 1 0 -2.6 0M263.56 252.57a1.3 1.3 0 1 0 2.6 0a1.3 1.3 0 1 0 -2.6 0M265.53 252.28a1.3 1.3 0 1 0 2.6 0a1.3 1.3 0 1 0 -2.6 0M267.51 252a1.3 1.3 0 1 0 2.6 0a1.3 1.3 0 1 0 -2.6 0M269.48 251.73a1.3 1.3 0 1 0 2.6 0a1.3 1.3 0 1 0 -2.6 0M271.46 251.49a1.3 1.3 0 1 0 2.6 0a1.3 1.3 0 1 0 -2.6 0M273.43 251.28a1.3 1.3 0 1 0 2.6 0a1.3 1.3 0 1 0 -2.6 0M275.41 251.08a1.3 1.3 0 1 0 2.6 0a1.3 1.3 0 1 0 -2.6 0M277.38 250.91a1.3 1.3 0 1 0 2.6 0a1.3 1.3 0 1 0 -2.6 0M279.36 250.77a1.3 1.3 0 1 0 2.6 0a1.3 1.3 0 1 0 -2.6 0M281.34 250.65a1.3 1.3 0 1 0 2.6 0a1.3 1.3 0 1 0 -2.6 0M283.31 250.57a1.3 1.3 0 1 0 2.6 0a1.3 1.3 0 1 0 -2.6 0M285.29 250.49a1.3 1.3 0 1 0 2.6 0a1.3 1.3 0 1 0 -2.6 0M287.26 250.41a1.3 1.3 0 1 0 2.6 0a1.3 1.3 0 1 0 -2.6 0M289.24 250.34a1.3 1.3 0 1 0 2.6 0a1.3 1.3 0 1 0 -2.6 0M291.21 250.27a1.3 1.3 0 1 0 2.6 0a1.3 1.3 0 1 0 -2.6 0M293.19 250.21a1.3 1.3 0 1 0 2.6 0a1.3 1.3 0 1 0 -2.6 0M295.16 250.16a1.3 1.3 0 1 0 2.6 0a1.3 1.3 0 1 0 -2.6 0M297.14 250.11a1.3 1.3 0 1 0 2.6 0a1.3 1.3 0 1 0 -2.6 0M299.12 250.07a1.3 1.3 0 1 0 2.6 0a1.3 1.3 0 1 0 -2.6 0M301.09 250.04a1.3 1.3 0 1 0 2.6 0a1.3 1.3 0 1 0 -2.6 0M303.07 250.01a1.3 1.3 0 1 0 2.6 0a1.3 1.3 0 1 0 -2.6 0M305.04 250a1.3 1.3 0 1 0 2.6 0a1.3 1.3 0 1 0 -2.6 0" fill="none" stroke="#383838" stroke-width="0.65"/><path d="M73.4 278.1 L74 278.1 L74.6 278.1 L75.2 278.1 L75.8 278.1 L76.4 278.1 L77 278.1 L77.6 278.1 L78.2 278.1 L78.8 278.1 L79.4 278.1 L80 278.1 L80.6 278.1 L81.2 278.1 L81.8 278.1 L82.4 278.1 L83 278.1 L83.6 278.12 L84.2 278.25 L84.8 278.49 L85.4 278.85 L86 279.3 L86.6 279.84 L87.2 280.45 L87.8 281.13 L88.4 281.87 L89 283.12 L89.6 284.92 L90.2 286.99 L90.8 289.08 L91.4 290.98 L92 292.93 L92.6 294.91 L93.2 296.87 L93.8 298.75 L94.4 300.53 L95 302.23 L95.6 303.89 L96.2 305.56 L96.8 307.27 L97.4 309.23 L98 311.17 L98.6 312.62 L99.2 313.55 L99.8 314.15 L100.4 314.17 L101 314 L101.6 313.7 L102.2 313.31 L102.8 312.85 L103.4 312.33 L104 311.79 L104.6 311.24 L105.2 310.72 L105.8 310.23 L106.4 309.82 L107 309.49 L107.6 309.28 L108.2 309.2 L108.8 309.34 L109.4 309.72 L110 310.3 L110.6 311.04 L111.2 311.88 L111.8 312.77 L112.4 313.68 L113 314.55 L113.6 315.35 L114.2 316.01 L114.8 316.5 L115.4 316.76 L116 316.76 L116.6 316.45 L117.2 315.85 L117.8 315.02 L118.4 313.99 L119 312.79 L119.6 311.46 L120.2 310.04 L120.8 308.57 L121.4 307.08 L122 305.62 L122.6 304.21 L123.2 302.9 L123.8 301.73 L124.4 300.72 L125 299.93 L125.6 299.38 L126.2 299.12 L126.8 299.14 L127.4 299.31 L128 299.6 L128.6 299.99 L129.2 300.45 L129.8 300.95 L130.4 301.47 L131 301.98 L131.6 302.46 L132.2 302.88 L132.8 303.21 L133.4 303.42 L134 303.5 L134.6 303.31 L135.2 302.77 L135.8 301.94 L136.4 300.85 L137 299.58 L137.6 298.16 L138.2 296.65 L138.8 295.09 L139.4 293.54 L140 292.05 L140.6 290.68 L141.2 289.46 L141.8 288.46 L142.4 287.71 L143 287.29 L143.6 287.21 L144.2 287.33 L144.8 287.58 L145.4 287.94 L146 288.38 L146.6 288.88 L147.2 289.43 L147.8 290 L148.4 290.57 L149 291.12 L149.6 291.62 L150.2 292.06 L150.8 292.42 L151.4 292.67 L152 292.79 L152.6 292.71 L153.2 292.29 L153.8 291.56 L154.4 290.58 L155 289.4 L155.6 288.07 L156.2 286.65 L156.8 285.18 L157.4 283.73 L158 282.35 L158.6 281.09 L159.2 280 L159.8 279.14 L160.4 278.55 L161 278.31 L161.6 278.38 L162.2 278.67 L162.8 279.15 L163.4 279.79 L164 280.55 L164.6 281.4 L165.2 282.32 L165.8 283.27 L166.4 284.22 L167 285.15 L167.6 286.01 L168.2 286.79 L168.8 287.45 L169.4 287.96 L170 288.28 L170.6 288.4 L171.2 288.22 L171.8 287.7 L172.4 286.9 L173 285.88 L173.6 284.68 L174.2 283.36 L174.8 281.97 L175.4 280.56 L176 279.19 L176.6 277.9 L177.2 276.76 L177.8 275.8 L178.4 275.09 L179 274.68 L179.6 274.62 L180.2 274.89 L180.8 275.46 L181.4 276.27 L182 277.3 L182.6 278.5 L183.2 279.82 L183.8 281.24 L184.4 282.7 L185 284.17 L185.6 285.6 L186.2 286.96 L186.8 288.21 L187.4 289.36 L188 290.54 L188.6 291.73 L189.2 292.94 L189.8 294.15 L190.4 295.37 L191 296.59 L191.6 297.81 L192.2 299.02 L192.8 300.22 L193.4 301.39 L194 302.55 L194.6 303.69 L195.2 304.9 L195.8 306.18 L196.4 307.48 L197 308.73 L197.6 309.87 L198.2 310.84 L198.8 311.57 L199.4 312.03 L200 312.4 L200.6 312.76 L201.2 313.1 L201.8 313.42 L202.4 313.72 L203 314 L203.6 314.26 L204.2 314.5 L204.8 314.72 L205.4 314.92 L206 315.09 L206.6 315.24 L207.2 315.36 L207.8 315.46 L208.4 315.53 L209 315.58 L209.6 315.6 L210.2 315.57 L210.8 315.44 L211.4 315.24 L212 314.96 L212.6 314.64 L213.2 314.27 L213.8 313.88 L214.4 313.47 L215 313.06 L215.6 312.66 L216.2 312.27 L216.8 311.87 L217.4 311.44 L218 310.98 L218.6 310.5 L219.2 310 L219.8 309.48 L220.4 308.94 L221 308.4 L221.6 307.84 L222.2 307.29 L222.8 306.72 L223.4 306.17 L224 305.61 L224.6 305.06 L225.2 304.53 L225.8 304.01 L226.4 303.5 L227 303 L227.6 302.5 L228.2 302.01 L228.8 301.51 L229.4 301.01 L230 300.51 L230.6 300.01 L231.2 299.52 L231.8 299.03 L232.4 298.55 L233 298.07 L233.6 297.59 L234.2 297.12 L234.8 296.66 L235.4 296.2 L236 295.75 L236.6 295.32 L237.2 294.89 L237.8 294.46 L238.4 294.03 L239 293.6 L239.6 293.17 L240.2 292.75 L240.8 292.33 L241.4 291.92 L242 291.51 L242.6 291.11 L243.2 290.72 L243.8 290.34 L244.4 289.97 L245 289.61 L245.6 289.26 L246.2 288.92 L246.8 288.6 L247.4 288.3 L248 288.01 L248.6 287.71 L249.2 287.43 L249.8 287.15 L250.4 286.87 L251 286.61 L251.6 286.34 L252.2 286.09 L252.8 285.84 L253.4 285.6 L254 285.37 L254.6 285.15 L255.2 284.93 L255.8 284.73 L256.4 284.54 L257 284.35 L257.6 284.18 L258.2 284.02 L258.8 283.86 L259.4 283.7 L260 283.55 L260.6 283.39 L261.2 283.24 L261.8 283.09 L262.4 282.94 L263 282.79 L263.6 282.64 L264.2 282.49 L264.8 282.35 L265.4 282.21 L266 282.07 L266.6 281.93 L267.2 281.8 L267.8 281.67 L268.4 281.54 L269 281.41 L269.6 281.29 L270.2 281.17 L270.8 281.05 L271.4 280.93 L272 280.82 L272.6 280.71 L273.2 280.6 L273.8 280.5 L274.4 280.39 L275 280.3 L275.6 280.2 L276.2 280.11 L276.8 280.03 L277.4 279.94 L278 279.86 L278.6 279.79 L279.2 279.71 L279.8 279.65 L280.4 279.58 L281 279.52 L281.6 279.47 L282.2 279.42 L282.8 279.37 L283.4 279.33 L284 279.29 L284.6 279.25 L285.2 279.21 L285.8 279.18 L286.4 279.14 L287 279.11 L287.6 279.07 L288.2 279.04 L288.8 279 L289.4 278.97 L290 278.94 L290.6 278.91 L291.2 278.87 L291.8 278.84 L292.4 278.81 L293 278.79 L293.6 278.76 L294.2 278.73 L294.8 278.7 L295.4 278.68 L296 278.65 L296.6 278.63 L297.2 278.61 L297.8 278.58 L298.4 278.56 L299 278.54 L299.6 278.53 L300.2 278.51 L300.8 278.49 L301.4 278.48 L302 278.46 L302.6 278.45 L303.2 278.44 L303.8 278.43 L304.4 278.42 L305 278.41 L305.6 278.41 L306.2 278.4 L306.8 278.4 L307.4 278.4 L307.6 278.4" fill="none" stroke="#ee1111" stroke-width="1.65" stroke-linejoin="round"/><path d="M81.8 278.1a1.3 1.3 0 1 0 2.6 0a1.3 1.3 0 1 0 -2.6 0M83.78 278.65a1.3 1.3 0 1 0 2.6 0a1.3 1.3 0 1 0 -2.6 0M85.75 280.29a1.3 1.3 0 1 0 2.6 0a1.3 1.3 0 1 0 -2.6 0M87.73 283.2a1.3 1.3 0 1 0 2.6 0a1.3 1.3 0 1 0 -2.6 0M89.7 289.74a1.3 1.3 0 1 0 2.6 0a1.3 1.3 0 1 0 -2.6 0M91.68 296.14a1.3 1.3 0 1 0 2.6 0a1.3 1.3 0 1 0 -2.6 0M93.65 302.08a1.3 1.3 0 1 0 2.6 0a1.3 1.3 0 1 0 -2.6 0M95.63 307.59a1.3 1.3 0 1 0 2.6 0a1.3 1.3 0 1 0 -2.6 0M97.6 312.82a1.3 1.3 0 1 0 2.6 0a1.3 1.3 0 1 0 -2.6 0M99.58 313.26a1.3 1.3 0 1 0 2.6 0a1.3 1.3 0 1 0 -2.6 0M101.56 311.14a1.3 1.3 0 1 0 2.6 0a1.3 1.3 0 1 0 -2.6 0M103.53 308.26a1.3 1.3 0 1 0 2.6 0a1.3 1.3 0 1 0 -2.6 0M105.51 305.93a1.3 1.3 0 1 0 2.6 0a1.3 1.3 0 1 0 -2.6 0M107.48 305.46a1.3 1.3 0 1 0 2.6 0a1.3 1.3 0 1 0 -2.6 0M109.46 307.71a1.3 1.3 0 1 0 2.6 0a1.3 1.3 0 1 0 -2.6 0M111.43 310.89a1.3 1.3 0 1 0 2.6 0a1.3 1.3 0 1 0 -2.6 0M113.41 313.17a1.3 1.3 0 1 0 2.6 0a1.3 1.3 0 1 0 -2.6 0M115.39 313.38a1.3 1.3 0 1 0 2.6 0a1.3 1.3 0 1 0 -2.6 0M117.36 311.13a1.3 1.3 0 1 0 2.6 0a1.3 1.3 0 1 0 -2.6 0M119.34 306.97a1.3 1.3 0 1 0 2.6 0a1.3 1.3 0 1 0 -2.6 0M121.31 301.86a1.3 1.3 0 1 0 2.6 0a1.3 1.3 0 1 0 -2.6 0M123.29 297.59a1.3 1.3 0 1 0 2.6 0a1.3 1.3 0 1 0 -2.6 0M125.26 296.13a1.3 1.3 0 1 0 2.6 0a1.3 1.3 0 1 0 -2.6 0M127.24 297.5a1.3 1.3 0 1 0 2.6 0a1.3 1.3 0 1 0 -2.6 0M129.21 299.99a1.3 1.3 0 1 0 2.6 0a1.3 1.3 0 1 0 -2.6 0M131.19 302.24a1.3 1.3 0 1 0 2.6 0a1.3 1.3 0 1 0 -2.6 0M133.17 303.06a1.3 1.3 0 1 0 2.6 0a1.3 1.3 0 1 0 -2.6 0M135.14 300.67a1.3 1.3 0 1 0 2.6 0a1.3 1.3 0 1 0 -2.6 0M137.12 296.06a1.3 1.3 0 1 0 2.6 0a1.3 1.3 0 1 0 -2.6 0M139.09 291.13a1.3 1.3 0 1 0 2.6 0a1.3 1.3 0 1 0 -2.6 0M141.07 287.75a1.3 1.3 0 1 0 2.6 0a1.3 1.3 0 1 0 -2.6 0M143.04 287.4a1.3 1.3 0 1 0 2.6 0a1.3 1.3 0 1 0 -2.6 0M145.02 288.79a1.3 1.3 0 1 0 2.6 0a1.3 1.3 0 1 0 -2.6 0M146.99 291.14a1.3 1.3 0 1 0 2.6 0a1.3 1.3 0 1 0 -2.6 0M148.97 293.68a1.3 1.3 0 1 0 2.6 0a1.3 1.3 0 1 0 -2.6 0M150.95 294.79a1.3 1.3 0 1 0 2.6 0a1.3 1.3 0 1 0 -2.6 0M152.92 292.24a1.3 1.3 0 1 0 2.6 0a1.3 1.3 0 1 0 -2.6 0M154.9 287.14a1.3 1.3 0 1 0 2.6 0a1.3 1.3 0 1 0 -2.6 0M156.87 282.07a1.3 1.3 0 1 0 2.6 0a1.3 1.3 0 1 0 -2.6 0M158.85 278.77a1.3 1.3 0 1 0 2.6 0a1.3 1.3 0 1 0 -2.6 0M160.82 278.63a1.3 1.3 0 1 0 2.6 0a1.3 1.3 0 1 0 -2.6 0M162.8 280.68a1.3 1.3 0 1 0 2.6 0a1.3 1.3 0 1 0 -2.6 0M164.78 283.71a1.3 1.3 0 1 0 2.6 0a1.3 1.3 0 1 0 -2.6 0M166.75 286.61a1.3 1.3 0 1 0 2.6 0a1.3 1.3 0 1 0 -2.6 0M168.73 288.29a1.3 1.3 0 1 0 2.6 0a1.3 1.3 0 1 0 -2.6 0M170.7 287.46a1.3 1.3 0 1 0 2.6 0a1.3 1.3 0 1 0 -2.6 0M172.68 283.86a1.3 1.3 0 1 0 2.6 0a1.3 1.3 0 1 0 -2.6 0M174.65 279.29a1.3 1.3 0 1 0 2.6 0a1.3 1.3 0 1 0 -2.6 0M176.63 275.63a1.3 1.3 0 1 0 2.6 0a1.3 1.3 0 1 0 -2.6 0M178.6 274.72a1.3 1.3 0 1 0 2.6 0a1.3 1.3 0 1 0 -2.6 0M180.58 277.1a1.3 1.3 0 1 0 2.6 0a1.3 1.3 0 1 0 -2.6 0M182.56 281.52a1.3 1.3 0 1 0 2.6 0a1.3 1.3 0 1 0 -2.6 0M184.53 286.88a1.3 1.3 0 1 0 2.6 0a1.3 1.3 0 1 0 -2.6 0M186.51 292.2a1.3 1.3 0 1 0 2.6 0a1.3 1.3 0 1 0 -2.6 0M188.48 297.09a1.3 1.3 0 1 0 2.6 0a1.3 1.3 0 1 0 -2.6 0M190.46 300.44a1.3 1.3 0 1 0 2.6 0a1.3 1.3 0 1 0 -2.6 0M192.43 302.94a1.3 1.3 0 1 0 2.6 0a1.3 1.3 0 1 0 -2.6 0M194.41 306.03a1.3 1.3 0 1 0 2.6 0a1.3 1.3 0 1 0 -2.6 0M196.38 309.69a1.3 1.3 0 1 0 2.6 0a1.3 1.3 0 1 0 -2.6 0M198.36 311.58a1.3 1.3 0 1 0 2.6 0a1.3 1.3 0 1 0 -2.6 0M200.34 312.36a1.3 1.3 0 1 0 2.6 0a1.3 1.3 0 1 0 -2.6 0M202.31 312.88a1.3 1.3 0 1 0 2.6 0a1.3 1.3 0 1 0 -2.6 0M204.29 313.2a1.3 1.3 0 1 0 2.6 0a1.3 1.3 0 1 0 -2.6 0M206.26 313.37a1.3 1.3 0 1 0 2.6 0a1.3 1.3 0 1 0 -2.6 0M208.24 313.45a1.3 1.3 0 1 0 2.6 0a1.3 1.3 0 1 0 -2.6 0M210.21 313.14a1.3 1.3 0 1 0 2.6 0a1.3 1.3 0 1 0 -2.6 0M212.19 312.27a1.3 1.3 0 1 0 2.6 0a1.3 1.3 0 1 0 -2.6 0M214.17 311.23a1.3 1.3 0 1 0 2.6 0a1.3 1.3 0 1 0 -2.6 0M216.14 310.15a1.3 1.3 0 1 0 2.6 0a1.3 1.3 0 1 0 -2.6 0M218.12 308.72a1.3 1.3 0 1 0 2.6 0a1.3 1.3 0 1 0 -2.6 0M220.09 307.01a1.3 1.3 0 1 0 2.6 0a1.3 1.3 0 1 0 -2.6 0M222.07 305.14a1.3 1.3 0 1 0 2.6 0a1.3 1.3 0 1 0 -2.6 0M224.04 303.27a1.3 1.3 0 1 0 2.6 0a1.3 1.3 0 1 0 -2.6 0M226.02 301.5a1.3 1.3 0 1 0 2.6 0a1.3 1.3 0 1 0 -2.6 0M227.99 299.75a1.3 1.3 0 1 0 2.6 0a1.3 1.3 0 1 0 -2.6 0M229.97 298.03a1.3 1.3 0 1 0 2.6 0a1.3 1.3 0 1 0 -2.6 0M231.95 296.39a1.3 1.3 0 1 0 2.6 0a1.3 1.3 0 1 0 -2.6 0M233.92 294.84a1.3 1.3 0 1 0 2.6 0a1.3 1.3 0 1 0 -2.6 0M235.9 293.41a1.3 1.3 0 1 0 2.6 0a1.3 1.3 0 1 0 -2.6 0M237.87 292.06a1.3 1.3 0 1 0 2.6 0a1.3 1.3 0 1 0 -2.6 0M239.85 290.77a1.3 1.3 0 1 0 2.6 0a1.3 1.3 0 1 0 -2.6 0M241.82 289.58a1.3 1.3 0 1 0 2.6 0a1.3 1.3 0 1 0 -2.6 0M243.8 288.5a1.3 1.3 0 1 0 2.6 0a1.3 1.3 0 1 0 -2.6 0M245.77 287.56a1.3 1.3 0 1 0 2.6 0a1.3 1.3 0 1 0 -2.6 0M247.75 286.74a1.3 1.3 0 1 0 2.6 0a1.3 1.3 0 1 0 -2.6 0M249.73 285.98a1.3 1.3 0 1 0 2.6 0a1.3 1.3 0 1 0 -2.6 0M251.7 285.27a1.3 1.3 0 1 0 2.6 0a1.3 1.3 0 1 0 -2.6 0M253.68 284.64a1.3 1.3 0 1 0 2.6 0a1.3 1.3 0 1 0 -2.6 0M255.65 284.09a1.3 1.3 0 1 0 2.6 0a1.3 1.3 0 1 0 -2.6 0M257.63 283.62a1.3 1.3 0 1 0 2.6 0a1.3 1.3 0 1 0 -2.6 0M259.6 283.17a1.3 1.3 0 1 0 2.6 0a1.3 1.3 0 1 0 -2.6 0M261.58 282.72a1.3 1.3 0 1 0 2.6 0a1.3 1.3 0 1 0 -2.6 0M263.56 282.27a1.3 1.3 0 1 0 2.6 0a1.3 1.3 0 1 0 -2.6 0M265.53 281.84a1.3 1.3 0 1 0 2.6 0a1.3 1.3 0 1 0 -2.6 0M267.51 281.42a1.3 1.3 0 1 0 2.6 0a1.3 1.3 0 1 0 -2.6 0M269.48 281.03a1.3 1.3 0 1 0 2.6 0a1.3 1.3 0 1 0 -2.6 0M271.46 280.67a1.3 1.3 0 1 0 2.6 0a1.3 1.3 0 1 0 -2.6 0M273.43 280.33a1.3 1.3 0 1 0 2.6 0a1.3 1.3 0 1 0 -2.6 0M275.41 280.03a1.3 1.3 0 1 0 2.6 0a1.3 1.3 0 1 0 -2.6 0M277.38 279.77a1.3 1.3 0 1 0 2.6 0a1.3 1.3 0 1 0 -2.6 0M279.36 279.56a1.3 1.3 0 1 0 2.6 0a1.3 1.3 0 1 0 -2.6 0M281.34 279.38a1.3 1.3 0 1 0 2.6 0a1.3 1.3 0 1 0 -2.6 0M283.31 279.25a1.3 1.3 0 1 0 2.6 0a1.3 1.3 0 1 0 -2.6 0M285.29 279.13a1.3 1.3 0 1 0 2.6 0a1.3 1.3 0 1 0 -2.6 0M287.26 279.02a1.3 1.3 0 1 0 2.6 0a1.3 1.3 0 1 0 -2.6 0M289.24 278.91a1.3 1.3 0 1 0 2.6 0a1.3 1.3 0 1 0 -2.6 0M291.21 278.81a1.3 1.3 0 1 0 2.6 0a1.3 1.3 0 1 0 -2.6 0M293.19 278.72a1.3 1.3 0 1 0 2.6 0a1.3 1.3 0 1 0 -2.6 0M295.16 278.63a1.3 1.3 0 1 0 2.6 0a1.3 1.3 0 1 0 -2.6 0M297.14 278.56a1.3 1.3 0 1 0 2.6 0a1.3 1.3 0 1 0 -2.6 0M299.12 278.5a1.3 1.3 0 1 0 2.6 0a1.3 1.3 0 1 0 -2.6 0M301.09 278.46a1.3 1.3 0 1 0 2.6 0a1.3 1.3 0 1 0 -2.6 0M303.07 278.42a1.3 1.3 0 1 0 2.6 0a1.3 1.3 0 1 0 -2.6 0M305.04 278.4a1.3 1.3 0 1 0 2.6 0a1.3 1.3 0 1 0 -2.6 0" fill="none" stroke="#383838" stroke-width="0.65"/><path d="M73.4 306 L74 306 L74.6 306 L75.2 306 L75.8 306 L76.4 306 L77 306 L77.6 306 L78.2 306 L78.8 306 L79.4 306 L80 306 L80.6 306 L81.2 306 L81.8 306 L82.4 306 L83 306 L83.6 306.02 L84.2 306.19 L84.8 306.51 L85.4 306.98 L86 307.56 L86.6 308.26 L87.2 309.06 L87.8 309.93 L88.4 310.89 L89 312.53 L89.6 314.86 L90.2 317.56 L90.8 320.26 L91.4 322.74 L92 325.26 L92.6 327.83 L93.2 330.38 L93.8 332.83 L94.4 335.13 L95 337.35 L95.6 339.51 L96.2 341.68 L96.8 343.9 L97.4 346.44 L98 348.96 L98.6 350.85 L99.2 352.05 L99.8 352.84 L100.4 352.86 L101 352.64 L101.6 352.27 L102.2 351.78 L102.8 351.2 L103.4 350.55 L104 349.87 L104.6 349.18 L105.2 348.51 L105.8 347.9 L106.4 347.38 L107 346.97 L107.6 346.7 L108.2 346.6 L108.8 346.76 L109.4 347.2 L110 347.88 L110.6 348.73 L111.2 349.7 L111.8 350.74 L112.4 351.79 L113 352.8 L113.6 353.72 L114.2 354.48 L114.8 355.05 L115.4 355.36 L116 355.35 L116.6 354.97 L117.2 354.26 L117.8 353.25 L118.4 352 L119 350.55 L119.6 348.94 L120.2 347.23 L120.8 345.45 L121.4 343.65 L122 341.88 L122.6 340.18 L123.2 338.6 L123.8 337.18 L124.4 335.96 L125 335 L125.6 334.34 L126.2 334.02 L126.8 334.04 L127.4 334.21 L128 334.5 L128.6 334.89 L129.2 335.35 L129.8 335.85 L130.4 336.37 L131 336.88 L131.6 337.36 L132.2 337.78 L132.8 338.11 L133.4 338.32 L134 338.4 L134.6 338.19 L135.2 337.58 L135.8 336.63 L136.4 335.4 L137 333.93 L137.6 332.28 L138.2 330.51 L138.8 328.67 L139.4 326.81 L140 324.99 L140.6 323.25 L141.2 321.66 L141.8 320.26 L142.4 319.12 L143 318.28 L143.6 317.8 L144.2 317.71 L144.8 317.87 L145.4 318.19 L146 318.64 L146.6 319.2 L147.2 319.83 L147.8 320.5 L148.4 321.2 L149 321.87 L149.6 322.5 L150.2 323.06 L150.8 323.51 L151.4 323.83 L152 323.99 L152.6 323.9 L153.2 323.41 L153.8 322.57 L154.4 321.44 L155 320.08 L155.6 318.55 L156.2 316.91 L156.8 315.23 L157.4 313.56 L158 311.97 L158.6 310.51 L159.2 309.26 L159.8 308.26 L160.4 307.59 L161 307.31 L161.6 307.38 L162.2 307.66 L162.8 308.13 L163.4 308.74 L164 309.47 L164.6 310.28 L165.2 311.15 L165.8 312.05 L166.4 312.94 L167 313.8 L167.6 314.59 L168.2 315.28 L168.8 315.85 L169.4 316.25 L170 316.47 L170.6 316.46 L171.2 316.13 L171.8 315.51 L172.4 314.66 L173 313.62 L173.6 312.43 L174.2 311.15 L174.8 309.81 L175.4 308.47 L176 307.18 L176.6 305.97 L177.2 304.9 L177.8 304.01 L178.4 303.36 L179 302.98 L179.6 302.92 L180.2 303.13 L180.8 303.59 L181.4 304.25 L182 305.09 L182.6 306.08 L183.2 307.19 L183.8 308.39 L184.4 309.66 L185 310.96 L185.6 312.27 L186.2 313.56 L186.8 314.8 L187.4 316.04 L188 317.39 L188.6 318.84 L189.2 320.37 L189.8 321.96 L190.4 323.6 L191 325.27 L191.6 326.94 L192.2 328.61 L192.8 330.25 L193.4 331.85 L194 333.38 L194.6 334.84 L195.2 336.32 L195.8 337.87 L196.4 339.45 L197 341.02 L197.6 342.55 L198.2 344 L198.8 345.34 L199.4 346.52 L200 347.52 L200.6 348.3 L201.2 348.87 L201.8 349.42 L202.4 349.95 L203 350.45 L203.6 350.92 L204.2 351.35 L204.8 351.74 L205.4 352.08 L206 352.37 L206.6 352.61 L207.2 352.77 L207.8 352.87 L208.4 352.9 L209 352.88 L209.6 352.83 L210.2 352.76 L210.8 352.66 L211.4 352.54 L212 352.4 L212.6 352.23 L213.2 352.05 L213.8 351.84 L214.4 351.62 L215 351.38 L215.6 351.13 L216.2 350.87 L216.8 350.59 L217.4 350.31 L218 350.01 L218.6 349.71 L219.2 349.4 L219.8 349.09 L220.4 348.77 L221 348.45 L221.6 348.08 L222.2 347.65 L222.8 347.16 L223.4 346.62 L224 346.03 L224.6 345.39 L225.2 344.71 L225.8 344.01 L226.4 343.27 L227 342.5 L227.6 341.72 L228.2 340.92 L228.8 340.11 L229.4 339.3 L230 338.49 L230.6 337.68 L231.2 336.88 L231.8 336.1 L232.4 335.33 L233 334.59 L233.6 333.88 L234.2 333.16 L234.8 332.42 L235.4 331.65 L236 330.88 L236.6 330.09 L237.2 329.31 L237.8 328.54 L238.4 327.77 L239 327.03 L239.6 326.32 L240.2 325.64 L240.8 324.99 L241.4 324.4 L242 323.85 L242.6 323.36 L243.2 322.88 L243.8 322.41 L244.4 321.96 L245 321.51 L245.6 321.07 L246.2 320.64 L246.8 320.22 L247.4 319.81 L248 319.41 L248.6 319.02 L249.2 318.64 L249.8 318.27 L250.4 317.91 L251 317.57 L251.6 317.23 L252.2 316.9 L252.8 316.58 L253.4 316.27 L254 315.97 L254.6 315.68 L255.2 315.41 L255.8 315.14 L256.4 314.88 L257 314.64 L257.6 314.4 L258.2 314.18 L258.8 313.97 L259.4 313.76 L260 313.55 L260.6 313.35 L261.2 313.15 L261.8 312.95 L262.4 312.75 L263 312.56 L263.6 312.37 L264.2 312.18 L264.8 311.99 L265.4 311.81 L266 311.63 L266.6 311.45 L267.2 311.28 L267.8 311.11 L268.4 310.94 L269 310.78 L269.6 310.62 L270.2 310.46 L270.8 310.31 L271.4 310.16 L272 310.01 L272.6 309.87 L273.2 309.73 L273.8 309.6 L274.4 309.47 L275 309.34 L275.6 309.22 L276.2 309.1 L276.8 308.99 L277.4 308.88 L278 308.77 L278.6 308.67 L279.2 308.58 L279.8 308.49 L280.4 308.4 L281 308.32 L281.6 308.24 L282.2 308.17 L282.8 308.1 L283.4 308.04 L284 307.98 L284.6 307.93 L285.2 307.87 L285.8 307.81 L286.4 307.76 L287 307.71 L287.6 307.65 L288.2 307.6 L288.8 307.55 L289.4 307.5 L290 307.45 L290.6 307.4 L291.2 307.35 L291.8 307.3 L292.4 307.25 L293 307.21 L293.6 307.16 L294.2 307.12 L294.8 307.08 L295.4 307.04 L296 307 L296.6 306.96 L297.2 306.93 L297.8 306.89 L298.4 306.86 L299 306.83 L299.6 306.8 L300.2 306.77 L300.8 306.75 L301.4 306.72 L302 306.7 L302.6 306.68 L303.2 306.66 L303.8 306.65 L304.4 306.63 L305 306.62 L305.6 306.61 L306.2 306.61 L306.8 306.6 L307.4 306.6 L307.6 306.6" fill="none" stroke="#ee1111" stroke-width="1.65" stroke-linejoin="round"/><path d="M81.8 306a1.3 1.3 0 1 0 2.6 0a1.3 1.3 0 1 0 -2.6 0M83.78 306.71a1.3 1.3 0 1 0 2.6 0a1.3 1.3 0 1 0 -2.6 0M85.75 308.85a1.3 1.3 0 1 0 2.6 0a1.3 1.3 0 1 0 -2.6 0M87.73 312.62a1.3 1.3 0 1 0 2.6 0a1.3 1.3 0 1 0 -2.6 0M89.7 321.12a1.3 1.3 0 1 0 2.6 0a1.3 1.3 0 1 0 -2.6 0M91.68 329.44a1.3 1.3 0 1 0 2.6 0a1.3 1.3 0 1 0 -2.6 0M93.65 337.16a1.3 1.3 0 1 0 2.6 0a1.3 1.3 0 1 0 -2.6 0M95.63 344.32a1.3 1.3 0 1 0 2.6 0a1.3 1.3 0 1 0 -2.6 0M97.6 351.14a1.3 1.3 0 1 0 2.6 0a1.3 1.3 0 1 0 -2.6 0M99.58 351.77a1.3 1.3 0 1 0 2.6 0a1.3 1.3 0 1 0 -2.6 0M101.56 349.17a1.3 1.3 0 1 0 2.6 0a1.3 1.3 0 1 0 -2.6 0M103.53 345.62a1.3 1.3 0 1 0 2.6 0a1.3 1.3 0 1 0 -2.6 0M105.51 342.75a1.3 1.3 0 1 0 2.6 0a1.3 1.3 0 1 0 -2.6 0M107.48 342.17a1.3 1.3 0 1 0 2.6 0a1.3 1.3 0 1 0 -2.6 0M109.46 344.77a1.3 1.3 0 1 0 2.6 0a1.3 1.3 0 1 0 -2.6 0M111.43 348.45a1.3 1.3 0 1 0 2.6 0a1.3 1.3 0 1 0 -2.6 0M113.41 351.06a1.3 1.3 0 1 0 2.6 0a1.3 1.3 0 1 0 -2.6 0M115.39 351.24a1.3 1.3 0 1 0 2.6 0a1.3 1.3 0 1 0 -2.6 0M117.36 348.4a1.3 1.3 0 1 0 2.6 0a1.3 1.3 0 1 0 -2.6 0M119.34 343.17a1.3 1.3 0 1 0 2.6 0a1.3 1.3 0 1 0 -2.6 0M121.31 336.73a1.3 1.3 0 1 0 2.6 0a1.3 1.3 0 1 0 -2.6 0M123.29 331.36a1.3 1.3 0 1 0 2.6 0a1.3 1.3 0 1 0 -2.6 0M125.26 329.54a1.3 1.3 0 1 0 2.6 0a1.3 1.3 0 1 0 -2.6 0M127.24 331.17a1.3 1.3 0 1 0 2.6 0a1.3 1.3 0 1 0 -2.6 0M129.21 334.09a1.3 1.3 0 1 0 2.6 0a1.3 1.3 0 1 0 -2.6 0M131.19 336.74a1.3 1.3 0 1 0 2.6 0a1.3 1.3 0 1 0 -2.6 0M133.17 337.78a1.3 1.3 0 1 0 2.6 0a1.3 1.3 0 1 0 -2.6 0M135.14 335.07a1.3 1.3 0 1 0 2.6 0a1.3 1.3 0 1 0 -2.6 0M137.12 329.46a1.3 1.3 0 1 0 2.6 0a1.3 1.3 0 1 0 -2.6 0M139.09 322.86a1.3 1.3 0 1 0 2.6 0a1.3 1.3 0 1 0 -2.6 0M141.07 317.46a1.3 1.3 0 1 0 2.6 0a1.3 1.3 0 1 0 -2.6 0M143.04 315.82a1.3 1.3 0 1 0 2.6 0a1.3 1.3 0 1 0 -2.6 0M145.02 317.78a1.3 1.3 0 1 0 2.6 0a1.3 1.3 0 1 0 -2.6 0M146.99 321.29a1.3 1.3 0 1 0 2.6 0a1.3 1.3 0 1 0 -2.6 0M148.97 324.59a1.3 1.3 0 1 0 2.6 0a1.3 1.3 0 1 0 -2.6 0M150.95 325.95a1.3 1.3 0 1 0 2.6 0a1.3 1.3 0 1 0 -2.6 0M152.92 323.32a1.3 1.3 0 1 0 2.6 0a1.3 1.3 0 1 0 -2.6 0M154.9 317.67a1.3 1.3 0 1 0 2.6 0a1.3 1.3 0 1 0 -2.6 0M156.87 311.77a1.3 1.3 0 1 0 2.6 0a1.3 1.3 0 1 0 -2.6 0M158.85 307.88a1.3 1.3 0 1 0 2.6 0a1.3 1.3 0 1 0 -2.6 0M160.82 307.62a1.3 1.3 0 1 0 2.6 0a1.3 1.3 0 1 0 -2.6 0M162.8 309.6a1.3 1.3 0 1 0 2.6 0a1.3 1.3 0 1 0 -2.6 0M164.78 312.46a1.3 1.3 0 1 0 2.6 0a1.3 1.3 0 1 0 -2.6 0M166.75 315.12a1.3 1.3 0 1 0 2.6 0a1.3 1.3 0 1 0 -2.6 0M168.73 316.48a1.3 1.3 0 1 0 2.6 0a1.3 1.3 0 1 0 -2.6 0M170.7 315.25a1.3 1.3 0 1 0 2.6 0a1.3 1.3 0 1 0 -2.6 0M172.68 311.63a1.3 1.3 0 1 0 2.6 0a1.3 1.3 0 1 0 -2.6 0M174.65 307.28a1.3 1.3 0 1 0 2.6 0a1.3 1.3 0 1 0 -2.6 0M176.63 303.85a1.3 1.3 0 1 0 2.6 0a1.3 1.3 0 1 0 -2.6 0M178.6 302.99a1.3 1.3 0 1 0 2.6 0a1.3 1.3 0 1 0 -2.6 0M180.58 304.91a1.3 1.3 0 1 0 2.6 0a1.3 1.3 0 1 0 -2.6 0M182.56 308.55a1.3 1.3 0 1 0 2.6 0a1.3 1.3 0 1 0 -2.6 0M184.53 313.06a1.3 1.3 0 1 0 2.6 0a1.3 1.3 0 1 0 -2.6 0M186.51 318.04a1.3 1.3 0 1 0 2.6 0a1.3 1.3 0 1 0 -2.6 0M188.48 324.69a1.3 1.3 0 1 0 2.6 0a1.3 1.3 0 1 0 -2.6 0M190.46 331.88a1.3 1.3 0 1 0 2.6 0a1.3 1.3 0 1 0 -2.6 0M192.43 337.36a1.3 1.3 0 1 0 2.6 0a1.3 1.3 0 1 0 -2.6 0M194.41 340.55a1.3 1.3 0 1 0 2.6 0a1.3 1.3 0 1 0 -2.6 0M196.38 343.49a1.3 1.3 0 1 0 2.6 0a1.3 1.3 0 1 0 -2.6 0M198.36 346.16a1.3 1.3 0 1 0 2.6 0a1.3 1.3 0 1 0 -2.6 0M200.34 347.49a1.3 1.3 0 1 0 2.6 0a1.3 1.3 0 1 0 -2.6 0M202.31 348.42a1.3 1.3 0 1 0 2.6 0a1.3 1.3 0 1 0 -2.6 0M204.29 349.1a1.3 1.3 0 1 0 2.6 0a1.3 1.3 0 1 0 -2.6 0M206.26 349.42a1.3 1.3 0 1 0 2.6 0a1.3 1.3 0 1 0 -2.6 0M208.24 349.35a1.3 1.3 0 1 0 2.6 0a1.3 1.3 0 1 0 -2.6 0M210.21 349.22a1.3 1.3 0 1 0 2.6 0a1.3 1.3 0 1 0 -2.6 0M212.19 349a1.3 1.3 0 1 0 2.6 0a1.3 1.3 0 1 0 -2.6 0M214.17 348.61a1.3 1.3 0 1 0 2.6 0a1.3 1.3 0 1 0 -2.6 0M216.14 347.97a1.3 1.3 0 1 0 2.6 0a1.3 1.3 0 1 0 -2.6 0M218.12 347.1a1.3 1.3 0 1 0 2.6 0a1.3 1.3 0 1 0 -2.6 0M220.09 346.03a1.3 1.3 0 1 0 2.6 0a1.3 1.3 0 1 0 -2.6 0M222.07 344.39a1.3 1.3 0 1 0 2.6 0a1.3 1.3 0 1 0 -2.6 0M224.04 342.18a1.3 1.3 0 1 0 2.6 0a1.3 1.3 0 1 0 -2.6 0M226.02 339.63a1.3 1.3 0 1 0 2.6 0a1.3 1.3 0 1 0 -2.6 0M227.99 336.94a1.3 1.3 0 1 0 2.6 0a1.3 1.3 0 1 0 -2.6 0M229.97 334.3a1.3 1.3 0 1 0 2.6 0a1.3 1.3 0 1 0 -2.6 0M231.95 331.89a1.3 1.3 0 1 0 2.6 0a1.3 1.3 0 1 0 -2.6 0M233.92 329.61a1.3 1.3 0 1 0 2.6 0a1.3 1.3 0 1 0 -2.6 0M235.9 327.23a1.3 1.3 0 1 0 2.6 0a1.3 1.3 0 1 0 -2.6 0M237.87 324.96a1.3 1.3 0 1 0 2.6 0a1.3 1.3 0 1 0 -2.6 0M239.85 323.02a1.3 1.3 0 1 0 2.6 0a1.3 1.3 0 1 0 -2.6 0M241.82 321.57a1.3 1.3 0 1 0 2.6 0a1.3 1.3 0 1 0 -2.6 0M243.8 320.3a1.3 1.3 0 1 0 2.6 0a1.3 1.3 0 1 0 -2.6 0M245.77 319.12a1.3 1.3 0 1 0 2.6 0a1.3 1.3 0 1 0 -2.6 0M247.75 318.03a1.3 1.3 0 1 0 2.6 0a1.3 1.3 0 1 0 -2.6 0M249.73 317.01a1.3 1.3 0 1 0 2.6 0a1.3 1.3 0 1 0 -2.6 0M251.7 316.07a1.3 1.3 0 1 0 2.6 0a1.3 1.3 0 1 0 -2.6 0M253.68 315.22a1.3 1.3 0 1 0 2.6 0a1.3 1.3 0 1 0 -2.6 0M255.65 314.46a1.3 1.3 0 1 0 2.6 0a1.3 1.3 0 1 0 -2.6 0M257.63 313.78a1.3 1.3 0 1 0 2.6 0a1.3 1.3 0 1 0 -2.6 0M259.6 313.15a1.3 1.3 0 1 0 2.6 0a1.3 1.3 0 1 0 -2.6 0M261.58 312.54a1.3 1.3 0 1 0 2.6 0a1.3 1.3 0 1 0 -2.6 0M263.56 311.94a1.3 1.3 0 1 0 2.6 0a1.3 1.3 0 1 0 -2.6 0M265.53 311.36a1.3 1.3 0 1 0 2.6 0a1.3 1.3 0 1 0 -2.6 0M267.51 310.82a1.3 1.3 0 1 0 2.6 0a1.3 1.3 0 1 0 -2.6 0M269.48 310.31a1.3 1.3 0 1 0 2.6 0a1.3 1.3 0 1 0 -2.6 0M271.46 309.83a1.3 1.3 0 1 0 2.6 0a1.3 1.3 0 1 0 -2.6 0M273.43 309.4a1.3 1.3 0 1 0 2.6 0a1.3 1.3 0 1 0 -2.6 0M275.41 309a1.3 1.3 0 1 0 2.6 0a1.3 1.3 0 1 0 -2.6 0M277.38 308.66a1.3 1.3 0 1 0 2.6 0a1.3 1.3 0 1 0 -2.6 0M279.36 308.36a1.3 1.3 0 1 0 2.6 0a1.3 1.3 0 1 0 -2.6 0M281.34 308.12a1.3 1.3 0 1 0 2.6 0a1.3 1.3 0 1 0 -2.6 0M283.31 307.92a1.3 1.3 0 1 0 2.6 0a1.3 1.3 0 1 0 -2.6 0M285.29 307.74a1.3 1.3 0 1 0 2.6 0a1.3 1.3 0 1 0 -2.6 0M287.26 307.57a1.3 1.3 0 1 0 2.6 0a1.3 1.3 0 1 0 -2.6 0M289.24 307.4a1.3 1.3 0 1 0 2.6 0a1.3 1.3 0 1 0 -2.6 0M291.21 307.25a1.3 1.3 0 1 0 2.6 0a1.3 1.3 0 1 0 -2.6 0M293.19 307.1a1.3 1.3 0 1 0 2.6 0a1.3 1.3 0 1 0 -2.6 0M295.16 306.97a1.3 1.3 0 1 0 2.6 0a1.3 1.3 0 1 0 -2.6 0M297.14 306.86a1.3 1.3 0 1 0 2.6 0a1.3 1.3 0 1 0 -2.6 0M299.12 306.76a1.3 1.3 0 1 0 2.6 0a1.3 1.3 0 1 0 -2.6 0M301.09 306.69a1.3 1.3 0 1 0 2.6 0a1.3 1.3 0 1 0 -2.6 0M303.07 306.63a1.3 1.3 0 1 0 2.6 0a1.3 1.3 0 1 0 -2.6 0M305.04 306.61a1.3 1.3 0 1 0 2.6 0a1.3 1.3 0 1 0 -2.6 0" fill="none" stroke="#383838" stroke-width="0.65"/><rect x="83.1" y="424" width="8.98" height="161.1" fill="#cccccc"/><rect x="92.08" y="424" width="8.98" height="161.1" fill="#e6e6e6"/><rect x="101.06" y="424" width="8.98" height="161.1" fill="#cccccc"/><rect x="110.04" y="424" width="8.98" height="161.1" fill="#e6e6e6"/><rect x="119.02" y="424" width="8.98" height="161.1" fill="#cccccc"/><rect x="128" y="424" width="8.98" height="161.1" fill="#e6e6e6"/><rect x="136.98" y="424" width="8.98" height="161.1" fill="#cccccc"/><rect x="145.96" y="424" width="8.98" height="161.1" fill="#e6e6e6"/><rect x="154.94" y="424" width="8.98" height="161.1" fill="#cccccc"/><rect x="163.92" y="424" width="8.98" height="161.1" fill="#e6e6e6"/><rect x="172.9" y="424" width="8.98" height="161.1" fill="#cccccc"/><rect x="51.3" y="424" width="261.1" height="161.1" fill="none" stroke="#a4a4a4" stroke-width="1.1"/><path d="M56.16 585.1v-2.0M56.16 424v2.0M65.14 585.1v-2.0M65.14 424v2.0M74.12 585.1v-2.0M74.12 424v2.0M83.1 585.1v-3.5M83.1 424v3.5M92.08 585.1v-2.0M92.08 424v2.0M101.06 585.1v-2.0M101.06 424v2.0M110.04 585.1v-2.0M110.04 424v2.0M119.02 585.1v-2.0M119.02 424v2.0M128 585.1v-3.5M128 424v3.5M136.98 585.1v-2.0M136.98 424v2.0M145.96 585.1v-2.0M145.96 424v2.0M154.94 585.1v-2.0M154.94 424v2.0M163.92 585.1v-2.0M163.92 424v2.0M172.9 585.1v-3.5M172.9 424v3.5M181.88 585.1v-2.0M181.88 424v2.0M190.86 585.1v-2.0M190.86 424v2.0M199.84 585.1v-2.0M199.84 424v2.0M208.82 585.1v-2.0M208.82 424v2.0M217.8 585.1v-3.5M217.8 424v3.5M226.78 585.1v-2.0M226.78 424v2.0M235.76 585.1v-2.0M235.76 424v2.0M244.74 585.1v-2.0M244.74 424v2.0M253.72 585.1v-2.0M253.72 424v2.0M262.7 585.1v-3.5M262.7 424v3.5M271.68 585.1v-2.0M271.68 424v2.0M280.66 585.1v-2.0M280.66 424v2.0M289.64 585.1v-2.0M289.64 424v2.0M298.62 585.1v-2.0M298.62 424v2.0M307.6 585.1v-3.5M307.6 424v3.5M51.3 584.25h2.0M312.4 584.25h-2.0M51.3 577h3.5M312.4 577h-3.5M51.3 569.75h2.0M312.4 569.75h-2.0M51.3 562.5h2.0M312.4 562.5h-2.0M51.3 555.25h2.0M312.4 555.25h-2.0M51.3 548h3.5M312.4 548h-3.5M51.3 540.75h2.0M312.4 540.75h-2.0M51.3 533.5h2.0M312.4 533.5h-2.0M51.3 526.25h2.0M312.4 526.25h-2.0M51.3 519h3.5M312.4 519h-3.5M51.3 511.75h2.0M312.4 511.75h-2.0M51.3 504.5h2.0M312.4 504.5h-2.0M51.3 497.25h2.0M312.4 497.25h-2.0M51.3 490h3.5M312.4 490h-3.5M51.3 482.75h2.0M312.4 482.75h-2.0M51.3 475.5h2.0M312.4 475.5h-2.0M51.3 468.25h2.0M312.4 468.25h-2.0M51.3 461h3.5M312.4 461h-3.5M51.3 453.75h2.0M312.4 453.75h-2.0M51.3 446.5h2.0M312.4 446.5h-2.0M51.3 439.25h2.0M312.4 439.25h-2.0M51.3 432h3.5M312.4 432h-3.5M51.3 424.75h2.0M312.4 424.75h-2.0" stroke="#a4a4a4" stroke-width="1" fill="none"/><text x="48.1" y="435.9" class="tl" text-anchor="end">0</text><text x="48.1" y="464.9" class="tl" text-anchor="end"><tspan>−</tspan><tspan dx="1.2">0.02</tspan></text><text x="48.1" y="493.9" class="tl" text-anchor="end"><tspan>−</tspan><tspan dx="1.2">0.04</tspan></text><text x="48.1" y="522.9" class="tl" text-anchor="end"><tspan>−</tspan><tspan dx="1.2">0.06</tspan></text><text x="48.1" y="551.9" class="tl" text-anchor="end"><tspan>−</tspan><tspan dx="1.2">0.08</tspan></text><text x="48.1" y="580.9" class="tl" text-anchor="end"><tspan>−</tspan><tspan dx="1.2">0.10</tspan></text><text x="83.1" y="599.3" class="tl" text-anchor="middle">0</text><text x="128" y="599.3" class="tl" text-anchor="middle">50</text><text x="172.9" y="599.3" class="tl" text-anchor="middle">100</text><text x="217.8" y="599.3" class="tl" text-anchor="middle">150</text><text x="262.7" y="599.3" class="tl" text-anchor="middle">200</text><text x="307.6" y="599.3" class="tl" text-anchor="middle">250</text><text transform="translate(10.5 504.55) rotate(-90)" class="ax" text-anchor="middle">response (mV)</text><text x="182" y="620.3" class="ax" text-anchor="middle">time (ms)</text><text x="303.9" y="576.5" class="td" text-anchor="end">1 Td</text><text x="61.9" y="434.3" class="sl" text-anchor="middle">0.2</text><text x="61.9" y="473.1" class="sl" text-anchor="middle">0.5</text><text x="61.9" y="511.7" class="sl" text-anchor="middle">0.8</text><text x="64.6" y="550.5" class="sl" text-anchor="middle">1</text><path d="M73.4 431.8 L74 431.8 L74.6 431.8 L75.2 431.8 L75.8 431.8 L76.4 431.8 L77 431.8 L77.6 431.8 L78.2 431.8 L78.8 431.8 L79.4 431.8 L80 431.8 L80.6 431.8 L81.2 431.8 L81.8 431.8 L82.4 431.8 L83 431.8 L83.6 431.8 L84.2 431.81 L84.8 431.84 L85.4 431.87 L86 431.92 L86.6 431.97 L87.2 432.03 L87.8 432.1 L88.4 432.17 L89 432.26 L89.6 432.4 L90.2 432.6 L90.8 432.81 L91.4 433.03 L92 433.22 L92.6 433.42 L93.2 433.62 L93.8 433.82 L94.4 434.02 L95 434.21 L95.6 434.39 L96.2 434.56 L96.8 434.73 L97.4 434.9 L98 435.08 L98.6 435.29 L99.2 435.48 L99.8 435.63 L100.4 435.72 L101 435.79 L101.6 435.79 L102.2 435.74 L102.8 435.65 L103.4 435.53 L104 435.39 L104.6 435.24 L105.2 435.08 L105.8 434.93 L106.4 434.8 L107 434.7 L107.6 434.63 L108.2 434.6 L108.8 434.63 L109.4 434.71 L110 434.84 L110.6 435 L111.2 435.19 L111.8 435.4 L112.4 435.63 L113 435.85 L113.6 436.07 L114.2 436.27 L114.8 436.46 L115.4 436.61 L116 436.72 L116.6 436.79 L117.2 436.8 L117.8 436.75 L118.4 436.67 L119 436.54 L119.6 436.38 L120.2 436.2 L120.8 435.99 L121.4 435.77 L122 435.55 L122.6 435.33 L123.2 435.11 L123.8 434.9 L124.4 434.72 L125 434.56 L125.6 434.43 L126.2 434.35 L126.8 434.3 L127.4 434.31 L128 434.36 L128.6 434.44 L129.2 434.55 L129.8 434.68 L130.4 434.8 L131 434.93 L131.6 435.04 L132.2 435.13 L132.8 435.18 L133.4 435.2 L134 435.17 L134.6 435.11 L135.2 435.02 L135.8 434.91 L136.4 434.77 L137 434.62 L137.6 434.46 L138.2 434.29 L138.8 434.12 L139.4 433.96 L140 433.8 L140.6 433.66 L141.2 433.53 L141.8 433.43 L142.4 433.35 L143 433.31 L143.6 433.3 L144.2 433.33 L144.8 433.39 L145.4 433.47 L146 433.57 L146.6 433.69 L147.2 433.82 L147.8 433.95 L148.4 434.08 L149 434.21 L149.6 434.33 L150.2 434.43 L150.8 434.51 L151.4 434.57 L152 434.6 L152.6 434.59 L153.2 434.53 L153.8 434.43 L154.4 434.29 L155 434.12 L155.6 433.94 L156.2 433.74 L156.8 433.53 L157.4 433.33 L158 433.14 L158.6 432.97 L159.2 432.82 L159.8 432.7 L160.4 432.63 L161 432.6 L161.6 432.63 L162.2 432.7 L162.8 432.82 L163.4 432.96 L164 433.13 L164.6 433.31 L165.2 433.49 L165.8 433.67 L166.4 433.84 L167 433.98 L167.6 434.1 L168.2 434.17 L168.8 434.2 L169.4 434.18 L170 434.12 L170.6 434.03 L171.2 433.9 L171.8 433.76 L172.4 433.59 L173 433.42 L173.6 433.23 L174.2 433.03 L174.8 432.84 L175.4 432.65 L176 432.48 L176.6 432.32 L177.2 432.17 L177.8 432.06 L178.4 431.97 L179 431.91 L179.6 431.9 L180.2 431.92 L180.8 431.95 L181.4 432.01 L182 432.08 L182.6 432.17 L183.2 432.28 L183.8 432.4 L184.4 432.53 L185 432.67 L185.6 432.82 L186.2 432.97 L186.8 433.13 L187.4 433.3 L188 433.47 L188.6 433.64 L189.2 433.8 L189.8 433.97 L190.4 434.13 L191 434.28 L191.6 434.43 L192.2 434.57 L192.8 434.7 L193.4 434.81 L194 434.92 L194.6 435.02 L195.2 435.12 L195.8 435.23 L196.4 435.34 L197 435.45 L197.6 435.56 L198.2 435.66 L198.8 435.77 L199.4 435.87 L200 435.96 L200.6 436.05 L201.2 436.13 L201.8 436.2 L202.4 436.27 L203 436.32 L203.6 436.36 L204.2 436.39 L204.8 436.4 L205.4 436.4 L206 436.4 L206.6 436.39 L207.2 436.39 L207.8 436.38 L208.4 436.37 L209 436.36 L209.6 436.35 L210.2 436.34 L210.8 436.33 L211.4 436.31 L212 436.3 L212.6 436.28 L213.2 436.26 L213.8 436.24 L214.4 436.22 L215 436.21 L215.6 436.18 L216.2 436.16 L216.8 436.14 L217.4 436.12 L218 436.1 L218.6 436.08 L219.2 436.06 L219.8 436.04 L220.4 436.01 L221 435.99 L221.6 435.97 L222.2 435.95 L222.8 435.92 L223.4 435.89 L224 435.86 L224.6 435.83 L225.2 435.8 L225.8 435.76 L226.4 435.73 L227 435.69 L227.6 435.66 L228.2 435.62 L228.8 435.58 L229.4 435.54 L230 435.5 L230.6 435.46 L231.2 435.41 L231.8 435.36 L232.4 435.31 L233 435.26 L233.6 435.21 L234.2 435.15 L234.8 435.09 L235.4 435.03 L236 434.97 L236.6 434.91 L237.2 434.85 L237.8 434.79 L238.4 434.73 L239 434.67 L239.6 434.61 L240.2 434.56 L240.8 434.5 L241.4 434.45 L242 434.4 L242.6 434.35 L243.2 434.3 L243.8 434.25 L244.4 434.2 L245 434.15 L245.6 434.1 L246.2 434.05 L246.8 434 L247.4 433.95 L248 433.9 L248.6 433.85 L249.2 433.8 L249.8 433.75 L250.4 433.71 L251 433.66 L251.6 433.62 L252.2 433.57 L252.8 433.53 L253.4 433.49 L254 433.45 L254.6 433.42 L255.2 433.38 L255.8 433.35 L256.4 433.32 L257 433.3 L257.6 433.27 L258.2 433.24 L258.8 433.22 L259.4 433.19 L260 433.17 L260.6 433.14 L261.2 433.12 L261.8 433.1 L262.4 433.08 L263 433.05 L263.6 433.03 L264.2 433.01 L264.8 432.99 L265.4 432.97 L266 432.95 L266.6 432.93 L267.2 432.91 L267.8 432.89 L268.4 432.87 L269 432.85 L269.6 432.83 L270.2 432.81 L270.8 432.8 L271.4 432.78 L272 432.76 L272.6 432.75 L273.2 432.73 L273.8 432.72 L274.4 432.7 L275 432.69 L275.6 432.67 L276.2 432.66 L276.8 432.64 L277.4 432.63 L278 432.61 L278.6 432.6 L279.2 432.59 L279.8 432.58 L280.4 432.56 L281 432.55 L281.6 432.54 L282.2 432.53 L282.8 432.52 L283.4 432.51 L284 432.5 L284.6 432.49 L285.2 432.48 L285.8 432.46 L286.4 432.45 L287 432.44 L287.6 432.43 L288.2 432.42 L288.8 432.41 L289.4 432.4 L290 432.39 L290.6 432.38 L291.2 432.37 L291.8 432.36 L292.4 432.35 L293 432.34 L293.6 432.33 L294.2 432.32 L294.8 432.31 L295.4 432.3 L296 432.29 L296.6 432.28 L297.2 432.28 L297.8 432.27 L298.4 432.26 L299 432.25 L299.6 432.25 L300.2 432.24 L300.8 432.24 L301.4 432.23 L302 432.22 L302.6 432.22 L303.2 432.22 L303.8 432.21 L304.4 432.21 L305 432.21 L305.6 432.2 L306.2 432.2 L306.8 432.2 L307.4 432.2 L307.6 432.2" fill="none" stroke="#ee1111" stroke-width="1.65" stroke-linejoin="round"/><path d="M81.8 431.8a1.3 1.3 0 1 0 2.6 0a1.3 1.3 0 1 0 -2.6 0M83.78 431.85a1.3 1.3 0 1 0 2.6 0a1.3 1.3 0 1 0 -2.6 0M85.75 432.01a1.3 1.3 0 1 0 2.6 0a1.3 1.3 0 1 0 -2.6 0M87.73 432.26a1.3 1.3 0 1 0 2.6 0a1.3 1.3 0 1 0 -2.6 0M89.7 432.89a1.3 1.3 0 1 0 2.6 0a1.3 1.3 0 1 0 -2.6 0M91.68 433.55a1.3 1.3 0 1 0 2.6 0a1.3 1.3 0 1 0 -2.6 0M93.65 434.19a1.3 1.3 0 1 0 2.6 0a1.3 1.3 0 1 0 -2.6 0M95.63 434.77a1.3 1.3 0 1 0 2.6 0a1.3 1.3 0 1 0 -2.6 0M97.6 435.39a1.3 1.3 0 1 0 2.6 0a1.3 1.3 0 1 0 -2.6 0M99.58 435.78a1.3 1.3 0 1 0 2.6 0a1.3 1.3 0 1 0 -2.6 0M101.56 435.64a1.3 1.3 0 1 0 2.6 0a1.3 1.3 0 1 0 -2.6 0M103.53 435.18a1.3 1.3 0 1 0 2.6 0a1.3 1.3 0 1 0 -2.6 0M105.51 434.73a1.3 1.3 0 1 0 2.6 0a1.3 1.3 0 1 0 -2.6 0M107.48 434.63a1.3 1.3 0 1 0 2.6 0a1.3 1.3 0 1 0 -2.6 0M109.46 435.05a1.3 1.3 0 1 0 2.6 0a1.3 1.3 0 1 0 -2.6 0M111.43 435.75a1.3 1.3 0 1 0 2.6 0a1.3 1.3 0 1 0 -2.6 0M113.41 436.43a1.3 1.3 0 1 0 2.6 0a1.3 1.3 0 1 0 -2.6 0M115.39 436.79a1.3 1.3 0 1 0 2.6 0a1.3 1.3 0 1 0 -2.6 0M117.36 436.62a1.3 1.3 0 1 0 2.6 0a1.3 1.3 0 1 0 -2.6 0M119.34 436.05a1.3 1.3 0 1 0 2.6 0a1.3 1.3 0 1 0 -2.6 0M121.31 435.32a1.3 1.3 0 1 0 2.6 0a1.3 1.3 0 1 0 -2.6 0M123.29 434.67a1.3 1.3 0 1 0 2.6 0a1.3 1.3 0 1 0 -2.6 0M125.26 434.31a1.3 1.3 0 1 0 2.6 0a1.3 1.3 0 1 0 -2.6 0M127.24 434.43a1.3 1.3 0 1 0 2.6 0a1.3 1.3 0 1 0 -2.6 0M129.21 434.83a1.3 1.3 0 1 0 2.6 0a1.3 1.3 0 1 0 -2.6 0M131.19 435.16a1.3 1.3 0 1 0 2.6 0a1.3 1.3 0 1 0 -2.6 0M133.17 435.13a1.3 1.3 0 1 0 2.6 0a1.3 1.3 0 1 0 -2.6 0M135.14 434.76a1.3 1.3 0 1 0 2.6 0a1.3 1.3 0 1 0 -2.6 0M137.12 434.23a1.3 1.3 0 1 0 2.6 0a1.3 1.3 0 1 0 -2.6 0M139.09 433.71a1.3 1.3 0 1 0 2.6 0a1.3 1.3 0 1 0 -2.6 0M141.07 433.36a1.3 1.3 0 1 0 2.6 0a1.3 1.3 0 1 0 -2.6 0M143.04 433.34a1.3 1.3 0 1 0 2.6 0a1.3 1.3 0 1 0 -2.6 0M145.02 433.63a1.3 1.3 0 1 0 2.6 0a1.3 1.3 0 1 0 -2.6 0M146.99 434.06a1.3 1.3 0 1 0 2.6 0a1.3 1.3 0 1 0 -2.6 0M148.97 434.44a1.3 1.3 0 1 0 2.6 0a1.3 1.3 0 1 0 -2.6 0M150.95 434.6a1.3 1.3 0 1 0 2.6 0a1.3 1.3 0 1 0 -2.6 0M152.92 434.33a1.3 1.3 0 1 0 2.6 0a1.3 1.3 0 1 0 -2.6 0M154.9 433.74a1.3 1.3 0 1 0 2.6 0a1.3 1.3 0 1 0 -2.6 0M156.87 433.09a1.3 1.3 0 1 0 2.6 0a1.3 1.3 0 1 0 -2.6 0M158.85 432.65a1.3 1.3 0 1 0 2.6 0a1.3 1.3 0 1 0 -2.6 0M160.82 432.69a1.3 1.3 0 1 0 2.6 0a1.3 1.3 0 1 0 -2.6 0M162.8 433.16a1.3 1.3 0 1 0 2.6 0a1.3 1.3 0 1 0 -2.6 0M164.78 433.75a1.3 1.3 0 1 0 2.6 0a1.3 1.3 0 1 0 -2.6 0M166.75 434.16a1.3 1.3 0 1 0 2.6 0a1.3 1.3 0 1 0 -2.6 0M168.73 434.12a1.3 1.3 0 1 0 2.6 0a1.3 1.3 0 1 0 -2.6 0M170.7 433.71a1.3 1.3 0 1 0 2.6 0a1.3 1.3 0 1 0 -2.6 0M172.68 433.11a1.3 1.3 0 1 0 2.6 0a1.3 1.3 0 1 0 -2.6 0M174.65 432.49a1.3 1.3 0 1 0 2.6 0a1.3 1.3 0 1 0 -2.6 0M176.63 432.03a1.3 1.3 0 1 0 2.6 0a1.3 1.3 0 1 0 -2.6 0M178.6 431.91a1.3 1.3 0 1 0 2.6 0a1.3 1.3 0 1 0 -2.6 0M180.58 432.07a1.3 1.3 0 1 0 2.6 0a1.3 1.3 0 1 0 -2.6 0M182.56 432.41a1.3 1.3 0 1 0 2.6 0a1.3 1.3 0 1 0 -2.6 0M184.53 432.88a1.3 1.3 0 1 0 2.6 0a1.3 1.3 0 1 0 -2.6 0M186.51 433.41a1.3 1.3 0 1 0 2.6 0a1.3 1.3 0 1 0 -2.6 0M188.48 433.96a1.3 1.3 0 1 0 2.6 0a1.3 1.3 0 1 0 -2.6 0M190.46 434.47a1.3 1.3 0 1 0 2.6 0a1.3 1.3 0 1 0 -2.6 0M192.43 434.87a1.3 1.3 0 1 0 2.6 0a1.3 1.3 0 1 0 -2.6 0M194.41 435.21a1.3 1.3 0 1 0 2.6 0a1.3 1.3 0 1 0 -2.6 0M196.38 435.57a1.3 1.3 0 1 0 2.6 0a1.3 1.3 0 1 0 -2.6 0M198.36 435.91a1.3 1.3 0 1 0 2.6 0a1.3 1.3 0 1 0 -2.6 0M200.34 436.19a1.3 1.3 0 1 0 2.6 0a1.3 1.3 0 1 0 -2.6 0M202.31 436.36a1.3 1.3 0 1 0 2.6 0a1.3 1.3 0 1 0 -2.6 0M204.29 436.4a1.3 1.3 0 1 0 2.6 0a1.3 1.3 0 1 0 -2.6 0M206.26 436.38a1.3 1.3 0 1 0 2.6 0a1.3 1.3 0 1 0 -2.6 0M208.24 436.35a1.3 1.3 0 1 0 2.6 0a1.3 1.3 0 1 0 -2.6 0M210.21 436.31a1.3 1.3 0 1 0 2.6 0a1.3 1.3 0 1 0 -2.6 0M212.19 436.25a1.3 1.3 0 1 0 2.6 0a1.3 1.3 0 1 0 -2.6 0M214.17 436.19a1.3 1.3 0 1 0 2.6 0a1.3 1.3 0 1 0 -2.6 0M216.14 436.12a1.3 1.3 0 1 0 2.6 0a1.3 1.3 0 1 0 -2.6 0M218.12 436.05a1.3 1.3 0 1 0 2.6 0a1.3 1.3 0 1 0 -2.6 0M220.09 435.98a1.3 1.3 0 1 0 2.6 0a1.3 1.3 0 1 0 -2.6 0M222.07 435.89a1.3 1.3 0 1 0 2.6 0a1.3 1.3 0 1 0 -2.6 0M224.04 435.79a1.3 1.3 0 1 0 2.6 0a1.3 1.3 0 1 0 -2.6 0M226.02 435.67a1.3 1.3 0 1 0 2.6 0a1.3 1.3 0 1 0 -2.6 0M227.99 435.55a1.3 1.3 0 1 0 2.6 0a1.3 1.3 0 1 0 -2.6 0M229.97 435.41a1.3 1.3 0 1 0 2.6 0a1.3 1.3 0 1 0 -2.6 0M231.95 435.24a1.3 1.3 0 1 0 2.6 0a1.3 1.3 0 1 0 -2.6 0M233.92 435.05a1.3 1.3 0 1 0 2.6 0a1.3 1.3 0 1 0 -2.6 0M235.9 434.85a1.3 1.3 0 1 0 2.6 0a1.3 1.3 0 1 0 -2.6 0M237.87 434.66a1.3 1.3 0 1 0 2.6 0a1.3 1.3 0 1 0 -2.6 0M239.85 434.47a1.3 1.3 0 1 0 2.6 0a1.3 1.3 0 1 0 -2.6 0M241.82 434.31a1.3 1.3 0 1 0 2.6 0a1.3 1.3 0 1 0 -2.6 0M243.8 434.14a1.3 1.3 0 1 0 2.6 0a1.3 1.3 0 1 0 -2.6 0M245.77 433.97a1.3 1.3 0 1 0 2.6 0a1.3 1.3 0 1 0 -2.6 0M247.75 433.81a1.3 1.3 0 1 0 2.6 0a1.3 1.3 0 1 0 -2.6 0M249.73 433.66a1.3 1.3 0 1 0 2.6 0a1.3 1.3 0 1 0 -2.6 0M251.7 433.52a1.3 1.3 0 1 0 2.6 0a1.3 1.3 0 1 0 -2.6 0M253.68 433.4a1.3 1.3 0 1 0 2.6 0a1.3 1.3 0 1 0 -2.6 0M255.65 433.3a1.3 1.3 0 1 0 2.6 0a1.3 1.3 0 1 0 -2.6 0M257.63 433.21a1.3 1.3 0 1 0 2.6 0a1.3 1.3 0 1 0 -2.6 0M259.6 433.13a1.3 1.3 0 1 0 2.6 0a1.3 1.3 0 1 0 -2.6 0M261.58 433.06a1.3 1.3 0 1 0 2.6 0a1.3 1.3 0 1 0 -2.6 0M263.56 432.99a1.3 1.3 0 1 0 2.6 0a1.3 1.3 0 1 0 -2.6 0M265.53 432.92a1.3 1.3 0 1 0 2.6 0a1.3 1.3 0 1 0 -2.6 0M267.51 432.86a1.3 1.3 0 1 0 2.6 0a1.3 1.3 0 1 0 -2.6 0M269.48 432.8a1.3 1.3 0 1 0 2.6 0a1.3 1.3 0 1 0 -2.6 0M271.46 432.74a1.3 1.3 0 1 0 2.6 0a1.3 1.3 0 1 0 -2.6 0M273.43 432.69a1.3 1.3 0 1 0 2.6 0a1.3 1.3 0 1 0 -2.6 0M275.41 432.64a1.3 1.3 0 1 0 2.6 0a1.3 1.3 0 1 0 -2.6 0M277.38 432.6a1.3 1.3 0 1 0 2.6 0a1.3 1.3 0 1 0 -2.6 0M279.36 432.56a1.3 1.3 0 1 0 2.6 0a1.3 1.3 0 1 0 -2.6 0M281.34 432.52a1.3 1.3 0 1 0 2.6 0a1.3 1.3 0 1 0 -2.6 0M283.31 432.49a1.3 1.3 0 1 0 2.6 0a1.3 1.3 0 1 0 -2.6 0M285.29 432.45a1.3 1.3 0 1 0 2.6 0a1.3 1.3 0 1 0 -2.6 0M287.26 432.42a1.3 1.3 0 1 0 2.6 0a1.3 1.3 0 1 0 -2.6 0M289.24 432.38a1.3 1.3 0 1 0 2.6 0a1.3 1.3 0 1 0 -2.6 0M291.21 432.35a1.3 1.3 0 1 0 2.6 0a1.3 1.3 0 1 0 -2.6 0M293.19 432.32a1.3 1.3 0 1 0 2.6 0a1.3 1.3 0 1 0 -2.6 0M295.16 432.29a1.3 1.3 0 1 0 2.6 0a1.3 1.3 0 1 0 -2.6 0M297.14 432.26a1.3 1.3 0 1 0 2.6 0a1.3 1.3 0 1 0 -2.6 0M299.12 432.24a1.3 1.3 0 1 0 2.6 0a1.3 1.3 0 1 0 -2.6 0M301.09 432.22a1.3 1.3 0 1 0 2.6 0a1.3 1.3 0 1 0 -2.6 0M303.07 432.21a1.3 1.3 0 1 0 2.6 0a1.3 1.3 0 1 0 -2.6 0M305.04 432.2a1.3 1.3 0 1 0 2.6 0a1.3 1.3 0 1 0 -2.6 0" fill="none" stroke="#383838" stroke-width="0.65"/><path d="M73.4 470.6 L74 470.6 L74.6 470.6 L75.2 470.6 L75.8 470.6 L76.4 470.6 L77 470.6 L77.6 470.6 L78.2 470.6 L78.8 470.6 L79.4 470.6 L80 470.6 L80.6 470.6 L81.2 470.6 L81.8 470.6 L82.4 470.6 L83 470.6 L83.6 470.6 L84.2 470.64 L84.8 470.71 L85.4 470.81 L86 470.94 L86.6 471.09 L87.2 471.27 L87.8 471.46 L88.4 471.67 L89 471.97 L89.6 472.45 L90.2 473.04 L90.8 473.65 L91.4 474.23 L92 474.78 L92.6 475.36 L93.2 475.93 L93.8 476.5 L94.4 477.03 L95 477.54 L95.6 478.03 L96.2 478.52 L96.8 479.01 L97.4 479.51 L98 480.09 L98.6 480.65 L99.2 481.05 L99.8 481.31 L100.4 481.49 L101 481.48 L101.6 481.36 L102.2 481.17 L102.8 480.91 L103.4 480.62 L104 480.3 L104.6 479.98 L105.2 479.68 L105.8 479.41 L106.4 479.2 L107 479.05 L107.6 479 L108.2 479.06 L108.8 479.22 L109.4 479.47 L110 479.78 L110.6 480.15 L111.2 480.54 L111.8 480.95 L112.4 481.36 L113 481.74 L113.6 482.08 L114.2 482.37 L114.8 482.57 L115.4 482.69 L116 482.69 L116.6 482.61 L117.2 482.46 L117.8 482.25 L118.4 481.98 L119 481.67 L119.6 481.32 L120.2 480.95 L120.8 480.56 L121.4 480.17 L122 479.77 L122.6 479.38 L123.2 479.02 L123.8 478.68 L124.4 478.37 L125 478.11 L125.6 477.91 L126.2 477.77 L126.8 477.7 L127.4 477.72 L128 477.79 L128.6 477.92 L129.2 478.09 L129.8 478.28 L130.4 478.5 L131 478.72 L131.6 478.95 L132.2 479.15 L132.8 479.33 L133.4 479.47 L134 479.57 L134.6 479.6 L135.2 479.54 L135.8 479.38 L136.4 479.12 L137 478.8 L137.6 478.41 L138.2 477.99 L138.8 477.55 L139.4 477.1 L140 476.66 L140.6 476.25 L141.2 475.89 L141.8 475.58 L142.4 475.36 L143 475.23 L143.6 475.2 L144.2 475.24 L144.8 475.33 L145.4 475.45 L146 475.6 L146.6 475.77 L147.2 475.96 L147.8 476.15 L148.4 476.34 L149 476.53 L149.6 476.7 L150.2 476.85 L150.8 476.97 L151.4 477.06 L152 477.1 L152.6 477.08 L153.2 476.97 L153.8 476.79 L154.4 476.54 L155 476.24 L155.6 475.9 L156.2 475.54 L156.8 475.18 L157.4 474.81 L158 474.47 L158.6 474.16 L159.2 473.89 L159.8 473.68 L160.4 473.55 L161 473.5 L161.6 473.53 L162.2 473.6 L162.8 473.71 L163.4 473.86 L164 474.03 L164.6 474.23 L165.2 474.44 L165.8 474.65 L166.4 474.86 L167 475.07 L167.6 475.27 L168.2 475.44 L168.8 475.59 L169.4 475.7 L170 475.77 L170.6 475.8 L171.2 475.75 L171.8 475.59 L172.4 475.36 L173 475.05 L173.6 474.68 L174.2 474.27 L174.8 473.83 L175.4 473.38 L176 472.92 L176.6 472.47 L177.2 472.05 L177.8 471.67 L178.4 471.34 L179 471.08 L179.6 470.89 L180.2 470.81 L180.8 470.81 L181.4 470.88 L182 470.99 L182.6 471.15 L183.2 471.36 L183.8 471.6 L184.4 471.87 L185 472.18 L185.6 472.51 L186.2 472.87 L186.8 473.24 L187.4 473.63 L188 474.02 L188.6 474.42 L189.2 474.83 L189.8 475.23 L190.4 475.63 L191 476.01 L191.6 476.38 L192.2 476.74 L192.8 477.07 L193.4 477.37 L194 477.64 L194.6 477.92 L195.2 478.2 L195.8 478.5 L196.4 478.81 L197 479.12 L197.6 479.43 L198.2 479.74 L198.8 480.04 L199.4 480.34 L200 480.62 L200.6 480.89 L201.2 481.14 L201.8 481.37 L202.4 481.57 L203 481.75 L203.6 481.89 L204.2 482 L204.8 482.07 L205.4 482.1 L206 482.1 L206.6 482.09 L207.2 482.07 L207.8 482.05 L208.4 482.02 L209 481.98 L209.6 481.94 L210.2 481.89 L210.8 481.84 L211.4 481.78 L212 481.72 L212.6 481.65 L213.2 481.58 L213.8 481.51 L214.4 481.44 L215 481.36 L215.6 481.28 L216.2 481.2 L216.8 481.11 L217.4 481.03 L218 480.94 L218.6 480.86 L219.2 480.77 L219.8 480.69 L220.4 480.6 L221 480.52 L221.6 480.43 L222.2 480.35 L222.8 480.27 L223.4 480.19 L224 480.11 L224.6 480.02 L225.2 479.93 L225.8 479.84 L226.4 479.75 L227 479.65 L227.6 479.55 L228.2 479.44 L228.8 479.33 L229.4 479.22 L230 479.1 L230.6 478.97 L231.2 478.83 L231.8 478.68 L232.4 478.52 L233 478.35 L233.6 478.18 L234.2 478 L234.8 477.81 L235.4 477.62 L236 477.43 L236.6 477.24 L237.2 477.06 L237.8 476.87 L238.4 476.69 L239 476.52 L239.6 476.36 L240.2 476.2 L240.8 476.05 L241.4 475.92 L242 475.8 L242.6 475.69 L243.2 475.58 L243.8 475.47 L244.4 475.37 L245 475.26 L245.6 475.17 L246.2 475.07 L246.8 474.97 L247.4 474.88 L248 474.79 L248.6 474.7 L249.2 474.62 L249.8 474.53 L250.4 474.45 L251 474.37 L251.6 474.29 L252.2 474.22 L252.8 474.14 L253.4 474.07 L254 474 L254.6 473.94 L255.2 473.87 L255.8 473.81 L256.4 473.75 L257 473.69 L257.6 473.63 L258.2 473.57 L258.8 473.52 L259.4 473.46 L260 473.4 L260.6 473.34 L261.2 473.29 L261.8 473.23 L262.4 473.17 L263 473.12 L263.6 473.06 L264.2 473.01 L264.8 472.96 L265.4 472.9 L266 472.85 L266.6 472.8 L267.2 472.75 L267.8 472.7 L268.4 472.65 L269 472.6 L269.6 472.55 L270.2 472.51 L270.8 472.46 L271.4 472.42 L272 472.37 L272.6 472.33 L273.2 472.29 L273.8 472.25 L274.4 472.21 L275 472.17 L275.6 472.14 L276.2 472.1 L276.8 472.07 L277.4 472.04 L278 472.01 L278.6 471.98 L279.2 471.95 L279.8 471.93 L280.4 471.9 L281 471.88 L281.6 471.86 L282.2 471.84 L282.8 471.82 L283.4 471.81 L284 471.8 L284.6 471.78 L285.2 471.77 L285.8 471.76 L286.4 471.75 L287 471.73 L287.6 471.72 L288.2 471.71 L288.8 471.7 L289.4 471.69 L290 471.68 L290.6 471.67 L291.2 471.66 L291.8 471.65 L292.4 471.64 L293 471.63 L293.6 471.62 L294.2 471.61 L294.8 471.6 L295.4 471.59 L296 471.58 L296.6 471.58 L297.2 471.57 L297.8 471.56 L298.4 471.55 L299 471.55 L299.6 471.54 L300.2 471.54 L300.8 471.53 L301.4 471.53 L302 471.52 L302.6 471.52 L303.2 471.51 L303.8 471.51 L304.4 471.51 L305 471.5 L305.6 471.5 L306.2 471.5 L306.8 471.5 L307.4 471.5 L307.6 471.5" fill="none" stroke="#ee1111" stroke-width="1.65" stroke-linejoin="round"/><path d="M81.8 470.52a1.3 1.3 0 1 0 2.6 0a1.3 1.3 0 1 0 -2.6 0M83.78 470.66a1.3 1.3 0 1 0 2.6 0a1.3 1.3 0 1 0 -2.6 0M85.75 471.1a1.3 1.3 0 1 0 2.6 0a1.3 1.3 0 1 0 -2.6 0M87.73 471.84a1.3 1.3 0 1 0 2.6 0a1.3 1.3 0 1 0 -2.6 0M89.7 473.67a1.3 1.3 0 1 0 2.6 0a1.3 1.3 0 1 0 -2.6 0M91.68 475.5a1.3 1.3 0 1 0 2.6 0a1.3 1.3 0 1 0 -2.6 0M93.65 477.24a1.3 1.3 0 1 0 2.6 0a1.3 1.3 0 1 0 -2.6 0M95.63 478.81a1.3 1.3 0 1 0 2.6 0a1.3 1.3 0 1 0 -2.6 0M97.6 480.52a1.3 1.3 0 1 0 2.6 0a1.3 1.3 0 1 0 -2.6 0M99.58 481.07a1.3 1.3 0 1 0 2.6 0a1.3 1.3 0 1 0 -2.6 0M101.56 480.41a1.3 1.3 0 1 0 2.6 0a1.3 1.3 0 1 0 -2.6 0M103.53 479.32a1.3 1.3 0 1 0 2.6 0a1.3 1.3 0 1 0 -2.6 0M105.51 478.48a1.3 1.3 0 1 0 2.6 0a1.3 1.3 0 1 0 -2.6 0M107.48 478.53a1.3 1.3 0 1 0 2.6 0a1.3 1.3 0 1 0 -2.6 0M109.46 479.49a1.3 1.3 0 1 0 2.6 0a1.3 1.3 0 1 0 -2.6 0M111.43 480.75a1.3 1.3 0 1 0 2.6 0a1.3 1.3 0 1 0 -2.6 0M113.41 481.65a1.3 1.3 0 1 0 2.6 0a1.3 1.3 0 1 0 -2.6 0M115.39 481.63a1.3 1.3 0 1 0 2.6 0a1.3 1.3 0 1 0 -2.6 0M117.36 480.83a1.3 1.3 0 1 0 2.6 0a1.3 1.3 0 1 0 -2.6 0M119.34 479.6a1.3 1.3 0 1 0 2.6 0a1.3 1.3 0 1 0 -2.6 0M121.31 478.26a1.3 1.3 0 1 0 2.6 0a1.3 1.3 0 1 0 -2.6 0M123.29 477.13a1.3 1.3 0 1 0 2.6 0a1.3 1.3 0 1 0 -2.6 0M125.26 476.54a1.3 1.3 0 1 0 2.6 0a1.3 1.3 0 1 0 -2.6 0M127.24 476.71a1.3 1.3 0 1 0 2.6 0a1.3 1.3 0 1 0 -2.6 0M129.21 477.34a1.3 1.3 0 1 0 2.6 0a1.3 1.3 0 1 0 -2.6 0M131.19 478.05a1.3 1.3 0 1 0 2.6 0a1.3 1.3 0 1 0 -2.6 0M133.17 478.43a1.3 1.3 0 1 0 2.6 0a1.3 1.3 0 1 0 -2.6 0M135.14 477.96a1.3 1.3 0 1 0 2.6 0a1.3 1.3 0 1 0 -2.6 0M137.12 476.74a1.3 1.3 0 1 0 2.6 0a1.3 1.3 0 1 0 -2.6 0M139.09 475.34a1.3 1.3 0 1 0 2.6 0a1.3 1.3 0 1 0 -2.6 0M141.07 474.38a1.3 1.3 0 1 0 2.6 0a1.3 1.3 0 1 0 -2.6 0M143.04 474.33a1.3 1.3 0 1 0 2.6 0a1.3 1.3 0 1 0 -2.6 0M145.02 474.83a1.3 1.3 0 1 0 2.6 0a1.3 1.3 0 1 0 -2.6 0M146.99 475.52a1.3 1.3 0 1 0 2.6 0a1.3 1.3 0 1 0 -2.6 0M148.97 476.15a1.3 1.3 0 1 0 2.6 0a1.3 1.3 0 1 0 -2.6 0M150.95 476.45a1.3 1.3 0 1 0 2.6 0a1.3 1.3 0 1 0 -2.6 0M152.92 476.04a1.3 1.3 0 1 0 2.6 0a1.3 1.3 0 1 0 -2.6 0M154.9 475.04a1.3 1.3 0 1 0 2.6 0a1.3 1.3 0 1 0 -2.6 0M156.87 473.93a1.3 1.3 0 1 0 2.6 0a1.3 1.3 0 1 0 -2.6 0M158.85 473.21a1.3 1.3 0 1 0 2.6 0a1.3 1.3 0 1 0 -2.6 0M160.82 473.26a1.3 1.3 0 1 0 2.6 0a1.3 1.3 0 1 0 -2.6 0M162.8 473.79a1.3 1.3 0 1 0 2.6 0a1.3 1.3 0 1 0 -2.6 0M164.78 474.52a1.3 1.3 0 1 0 2.6 0a1.3 1.3 0 1 0 -2.6 0M166.75 475.21a1.3 1.3 0 1 0 2.6 0a1.3 1.3 0 1 0 -2.6 0M168.73 475.62a1.3 1.3 0 1 0 2.6 0a1.3 1.3 0 1 0 -2.6 0M170.7 475.4a1.3 1.3 0 1 0 2.6 0a1.3 1.3 0 1 0 -2.6 0M172.68 474.33a1.3 1.3 0 1 0 2.6 0a1.3 1.3 0 1 0 -2.6 0M174.65 472.88a1.3 1.3 0 1 0 2.6 0a1.3 1.3 0 1 0 -2.6 0M176.63 471.54a1.3 1.3 0 1 0 2.6 0a1.3 1.3 0 1 0 -2.6 0M178.6 470.81a1.3 1.3 0 1 0 2.6 0a1.3 1.3 0 1 0 -2.6 0M180.58 470.95a1.3 1.3 0 1 0 2.6 0a1.3 1.3 0 1 0 -2.6 0M182.56 471.62a1.3 1.3 0 1 0 2.6 0a1.3 1.3 0 1 0 -2.6 0M184.53 472.66a1.3 1.3 0 1 0 2.6 0a1.3 1.3 0 1 0 -2.6 0M186.51 473.92a1.3 1.3 0 1 0 2.6 0a1.3 1.3 0 1 0 -2.6 0M188.48 475.26a1.3 1.3 0 1 0 2.6 0a1.3 1.3 0 1 0 -2.6 0M190.46 476.53a1.3 1.3 0 1 0 2.6 0a1.3 1.3 0 1 0 -2.6 0M192.43 477.59a1.3 1.3 0 1 0 2.6 0a1.3 1.3 0 1 0 -2.6 0M194.41 478.54a1.3 1.3 0 1 0 2.6 0a1.3 1.3 0 1 0 -2.6 0M196.38 479.57a1.3 1.3 0 1 0 2.6 0a1.3 1.3 0 1 0 -2.6 0M198.36 480.57a1.3 1.3 0 1 0 2.6 0a1.3 1.3 0 1 0 -2.6 0M200.34 481.44a1.3 1.3 0 1 0 2.6 0a1.3 1.3 0 1 0 -2.6 0M202.31 482.04a1.3 1.3 0 1 0 2.6 0a1.3 1.3 0 1 0 -2.6 0M204.29 482.27a1.3 1.3 0 1 0 2.6 0a1.3 1.3 0 1 0 -2.6 0M206.26 482.25a1.3 1.3 0 1 0 2.6 0a1.3 1.3 0 1 0 -2.6 0M208.24 482.16a1.3 1.3 0 1 0 2.6 0a1.3 1.3 0 1 0 -2.6 0M210.21 482.01a1.3 1.3 0 1 0 2.6 0a1.3 1.3 0 1 0 -2.6 0M212.19 481.82a1.3 1.3 0 1 0 2.6 0a1.3 1.3 0 1 0 -2.6 0M214.17 481.6a1.3 1.3 0 1 0 2.6 0a1.3 1.3 0 1 0 -2.6 0M216.14 481.36a1.3 1.3 0 1 0 2.6 0a1.3 1.3 0 1 0 -2.6 0M218.12 481.12a1.3 1.3 0 1 0 2.6 0a1.3 1.3 0 1 0 -2.6 0M220.09 480.88a1.3 1.3 0 1 0 2.6 0a1.3 1.3 0 1 0 -2.6 0M222.07 480.66a1.3 1.3 0 1 0 2.6 0a1.3 1.3 0 1 0 -2.6 0M224.04 480.41a1.3 1.3 0 1 0 2.6 0a1.3 1.3 0 1 0 -2.6 0M226.02 480.14a1.3 1.3 0 1 0 2.6 0a1.3 1.3 0 1 0 -2.6 0M227.99 479.83a1.3 1.3 0 1 0 2.6 0a1.3 1.3 0 1 0 -2.6 0M229.97 479.45a1.3 1.3 0 1 0 2.6 0a1.3 1.3 0 1 0 -2.6 0M231.95 478.97a1.3 1.3 0 1 0 2.6 0a1.3 1.3 0 1 0 -2.6 0M233.92 478.41a1.3 1.3 0 1 0 2.6 0a1.3 1.3 0 1 0 -2.6 0M235.9 477.84a1.3 1.3 0 1 0 2.6 0a1.3 1.3 0 1 0 -2.6 0M237.87 477.3a1.3 1.3 0 1 0 2.6 0a1.3 1.3 0 1 0 -2.6 0M239.85 476.85a1.3 1.3 0 1 0 2.6 0a1.3 1.3 0 1 0 -2.6 0M241.82 476.51a1.3 1.3 0 1 0 2.6 0a1.3 1.3 0 1 0 -2.6 0M243.8 476.21a1.3 1.3 0 1 0 2.6 0a1.3 1.3 0 1 0 -2.6 0M245.77 475.93a1.3 1.3 0 1 0 2.6 0a1.3 1.3 0 1 0 -2.6 0M247.75 475.68a1.3 1.3 0 1 0 2.6 0a1.3 1.3 0 1 0 -2.6 0M249.73 475.44a1.3 1.3 0 1 0 2.6 0a1.3 1.3 0 1 0 -2.6 0M251.7 475.23a1.3 1.3 0 1 0 2.6 0a1.3 1.3 0 1 0 -2.6 0M253.68 475.03a1.3 1.3 0 1 0 2.6 0a1.3 1.3 0 1 0 -2.6 0M255.65 474.85a1.3 1.3 0 1 0 2.6 0a1.3 1.3 0 1 0 -2.6 0M257.63 474.68a1.3 1.3 0 1 0 2.6 0a1.3 1.3 0 1 0 -2.6 0M259.6 474.5a1.3 1.3 0 1 0 2.6 0a1.3 1.3 0 1 0 -2.6 0M261.58 474.33a1.3 1.3 0 1 0 2.6 0a1.3 1.3 0 1 0 -2.6 0M263.56 474.15a1.3 1.3 0 1 0 2.6 0a1.3 1.3 0 1 0 -2.6 0M265.53 473.98a1.3 1.3 0 1 0 2.6 0a1.3 1.3 0 1 0 -2.6 0M267.51 473.81a1.3 1.3 0 1 0 2.6 0a1.3 1.3 0 1 0 -2.6 0M269.48 473.64a1.3 1.3 0 1 0 2.6 0a1.3 1.3 0 1 0 -2.6 0M271.46 473.48a1.3 1.3 0 1 0 2.6 0a1.3 1.3 0 1 0 -2.6 0M273.43 473.33a1.3 1.3 0 1 0 2.6 0a1.3 1.3 0 1 0 -2.6 0M275.41 473.19a1.3 1.3 0 1 0 2.6 0a1.3 1.3 0 1 0 -2.6 0M277.38 473.06a1.3 1.3 0 1 0 2.6 0a1.3 1.3 0 1 0 -2.6 0M279.36 472.94a1.3 1.3 0 1 0 2.6 0a1.3 1.3 0 1 0 -2.6 0M281.34 472.84a1.3 1.3 0 1 0 2.6 0a1.3 1.3 0 1 0 -2.6 0M283.31 472.75a1.3 1.3 0 1 0 2.6 0a1.3 1.3 0 1 0 -2.6 0M285.29 472.67a1.3 1.3 0 1 0 2.6 0a1.3 1.3 0 1 0 -2.6 0M287.26 472.59a1.3 1.3 0 1 0 2.6 0a1.3 1.3 0 1 0 -2.6 0M289.24 472.5a1.3 1.3 0 1 0 2.6 0a1.3 1.3 0 1 0 -2.6 0M291.21 472.42a1.3 1.3 0 1 0 2.6 0a1.3 1.3 0 1 0 -2.6 0M293.19 472.34a1.3 1.3 0 1 0 2.6 0a1.3 1.3 0 1 0 -2.6 0M295.16 472.27a1.3 1.3 0 1 0 2.6 0a1.3 1.3 0 1 0 -2.6 0M297.14 472.2a1.3 1.3 0 1 0 2.6 0a1.3 1.3 0 1 0 -2.6 0M299.12 472.13a1.3 1.3 0 1 0 2.6 0a1.3 1.3 0 1 0 -2.6 0M301.09 472.07a1.3 1.3 0 1 0 2.6 0a1.3 1.3 0 1 0 -2.6 0M303.07 472.01a1.3 1.3 0 1 0 2.6 0a1.3 1.3 0 1 0 -2.6 0M305.04 471.97a1.3 1.3 0 1 0 2.6 0a1.3 1.3 0 1 0 -2.6 0" fill="none" stroke="#383838" stroke-width="0.65"/><path d="M73.4 509.2 L74 509.2 L74.6 509.2 L75.2 509.2 L75.8 509.2 L76.4 509.2 L77 509.2 L77.6 509.2 L78.2 509.2 L78.8 509.2 L79.4 509.2 L80 509.2 L80.6 509.2 L81.2 509.2 L81.8 509.2 L82.4 509.2 L83 509.2 L83.6 509.21 L84.2 509.26 L84.8 509.37 L85.4 509.52 L86 509.72 L86.6 509.95 L87.2 510.22 L87.8 510.51 L88.4 510.83 L89 511.29 L89.6 512.02 L90.2 512.91 L90.8 513.85 L91.4 514.72 L92 515.57 L92.6 516.44 L93.2 517.32 L93.8 518.18 L94.4 519 L95 519.77 L95.6 520.52 L96.2 521.26 L96.8 522 L97.4 522.77 L98 523.66 L98.6 524.5 L99.2 525.11 L99.8 525.52 L100.4 525.78 L101 525.78 L101.6 525.66 L102.2 525.47 L102.8 525.21 L103.4 524.92 L104 524.6 L104.6 524.28 L105.2 523.98 L105.8 523.71 L106.4 523.5 L107 523.35 L107.6 523.3 L108.2 523.37 L108.8 523.58 L109.4 523.91 L110 524.32 L110.6 524.81 L111.2 525.34 L111.8 525.91 L112.4 526.48 L113 527.04 L113.6 527.56 L114.2 528.02 L114.8 528.41 L115.4 528.7 L116 528.87 L116.6 528.89 L117.2 528.75 L117.8 528.46 L118.4 528.05 L119 527.53 L119.6 526.92 L120.2 526.25 L120.8 525.53 L121.4 524.8 L122 524.07 L122.6 523.35 L123.2 522.68 L123.8 522.07 L124.4 521.55 L125 521.14 L125.6 520.85 L126.2 520.71 L126.8 520.72 L127.4 520.82 L128 521 L128.6 521.23 L129.2 521.5 L129.8 521.8 L130.4 522.1 L131 522.4 L131.6 522.69 L132.2 522.93 L132.8 523.13 L133.4 523.25 L134 523.3 L134.6 523.22 L135.2 523 L135.8 522.65 L136.4 522.2 L137 521.66 L137.6 521.05 L138.2 520.4 L138.8 519.73 L139.4 519.04 L140 518.38 L140.6 517.74 L141.2 517.15 L141.8 516.64 L142.4 516.22 L143 515.91 L143.6 515.74 L144.2 515.7 L144.8 515.77 L145.4 515.89 L146 516.07 L146.6 516.29 L147.2 516.55 L147.8 516.81 L148.4 517.09 L149 517.35 L149.6 517.61 L150.2 517.83 L150.8 518.01 L151.4 518.13 L152 518.2 L152.6 518.17 L153.2 518.02 L153.8 517.76 L154.4 517.4 L155 516.97 L155.6 516.48 L156.2 515.94 L156.8 515.38 L157.4 514.82 L158 514.26 L158.6 513.72 L159.2 513.23 L159.8 512.8 L160.4 512.44 L161 512.18 L161.6 512.03 L162.2 512 L162.8 512.07 L163.4 512.21 L164 512.41 L164.6 512.66 L165.2 512.94 L165.8 513.24 L166.4 513.55 L167 513.86 L167.6 514.16 L168.2 514.43 L168.8 514.66 L169.4 514.84 L170 514.96 L170.6 515 L171.2 514.95 L171.8 514.79 L172.4 514.56 L173 514.25 L173.6 513.88 L174.2 513.47 L174.8 513.03 L175.4 512.58 L176 512.12 L176.6 511.67 L177.2 511.25 L177.8 510.87 L178.4 510.54 L179 510.28 L179.6 510.09 L180.2 510.01 L180.8 510.02 L181.4 510.11 L182 510.27 L182.6 510.5 L183.2 510.79 L183.8 511.13 L184.4 511.52 L185 511.95 L185.6 512.42 L186.2 512.93 L186.8 513.46 L187.4 514.01 L188 514.57 L188.6 515.14 L189.2 515.72 L189.8 516.29 L190.4 516.86 L191 517.41 L191.6 517.94 L192.2 518.45 L192.8 518.93 L193.4 519.37 L194 519.76 L194.6 520.16 L195.2 520.58 L195.8 521.01 L196.4 521.46 L197 521.91 L197.6 522.37 L198.2 522.83 L198.8 523.29 L199.4 523.74 L200 524.17 L200.6 524.6 L201.2 525 L201.8 525.39 L202.4 525.74 L203 526.07 L203.6 526.36 L204.2 526.62 L204.8 526.83 L205.4 527 L206 527.12 L206.6 527.19 L207.2 527.2 L207.8 527.19 L208.4 527.16 L209 527.12 L209.6 527.06 L210.2 527 L210.8 526.92 L211.4 526.83 L212 526.73 L212.6 526.62 L213.2 526.51 L213.8 526.38 L214.4 526.25 L215 526.12 L215.6 525.98 L216.2 525.84 L216.8 525.69 L217.4 525.54 L218 525.39 L218.6 525.24 L219.2 525.09 L219.8 524.94 L220.4 524.79 L221 524.64 L221.6 524.5 L222.2 524.36 L222.8 524.23 L223.4 524.1 L224 523.98 L224.6 523.87 L225.2 523.77 L225.8 523.67 L226.4 523.58 L227 523.5 L227.6 523.41 L228.2 523.32 L228.8 523.23 L229.4 523.12 L230 523 L230.6 522.86 L231.2 522.71 L231.8 522.53 L232.4 522.34 L233 522.14 L233.6 521.92 L234.2 521.69 L234.8 521.46 L235.4 521.21 L236 520.96 L236.6 520.71 L237.2 520.45 L237.8 520.19 L238.4 519.94 L239 519.68 L239.6 519.43 L240.2 519.19 L240.8 518.95 L241.4 518.72 L242 518.5 L242.6 518.28 L243.2 518.06 L243.8 517.84 L244.4 517.6 L245 517.37 L245.6 517.14 L246.2 516.9 L246.8 516.66 L247.4 516.42 L248 516.19 L248.6 515.96 L249.2 515.73 L249.8 515.5 L250.4 515.28 L251 515.07 L251.6 514.87 L252.2 514.67 L252.8 514.48 L253.4 514.3 L254 514.13 L254.6 513.97 L255.2 513.83 L255.8 513.7 L256.4 513.58 L257 513.48 L257.6 513.39 L258.2 513.3 L258.8 513.21 L259.4 513.12 L260 513.03 L260.6 512.95 L261.2 512.86 L261.8 512.78 L262.4 512.7 L263 512.62 L263.6 512.55 L264.2 512.47 L264.8 512.4 L265.4 512.33 L266 512.26 L266.6 512.19 L267.2 512.12 L267.8 512.06 L268.4 511.99 L269 511.93 L269.6 511.87 L270.2 511.81 L270.8 511.76 L271.4 511.7 L272 511.65 L272.6 511.6 L273.2 511.55 L273.8 511.5 L274.4 511.45 L275 511.4 L275.6 511.36 L276.2 511.32 L276.8 511.27 L277.4 511.23 L278 511.2 L278.6 511.16 L279.2 511.12 L279.8 511.09 L280.4 511.06 L281 511.03 L281.6 511 L282.2 510.97 L282.8 510.94 L283.4 510.92 L284 510.89 L284.6 510.87 L285.2 510.85 L285.8 510.82 L286.4 510.8 L287 510.78 L287.6 510.75 L288.2 510.73 L288.8 510.71 L289.4 510.69 L290 510.67 L290.6 510.64 L291.2 510.62 L291.8 510.6 L292.4 510.58 L293 510.56 L293.6 510.54 L294.2 510.53 L294.8 510.51 L295.4 510.49 L296 510.47 L296.6 510.46 L297.2 510.44 L297.8 510.43 L298.4 510.41 L299 510.4 L299.6 510.39 L300.2 510.38 L300.8 510.36 L301.4 510.35 L302 510.34 L302.6 510.34 L303.2 510.33 L303.8 510.32 L304.4 510.31 L305 510.31 L305.6 510.31 L306.2 510.3 L306.8 510.3 L307.4 510.3 L307.6 510.3" fill="none" stroke="#ee1111" stroke-width="1.65" stroke-linejoin="round"/><path d="M81.8 509.08a1.3 1.3 0 1 0 2.6 0a1.3 1.3 0 1 0 -2.6 0M83.78 509.28a1.3 1.3 0 1 0 2.6 0a1.3 1.3 0 1 0 -2.6 0M85.75 509.95a1.3 1.3 0 1 0 2.6 0a1.3 1.3 0 1 0 -2.6 0M87.73 511.08a1.3 1.3 0 1 0 2.6 0a1.3 1.3 0 1 0 -2.6 0M89.7 513.85a1.3 1.3 0 1 0 2.6 0a1.3 1.3 0 1 0 -2.6 0M91.68 516.63a1.3 1.3 0 1 0 2.6 0a1.3 1.3 0 1 0 -2.6 0M93.65 519.27a1.3 1.3 0 1 0 2.6 0a1.3 1.3 0 1 0 -2.6 0M95.63 521.63a1.3 1.3 0 1 0 2.6 0a1.3 1.3 0 1 0 -2.6 0M97.6 524.22a1.3 1.3 0 1 0 2.6 0a1.3 1.3 0 1 0 -2.6 0M99.58 525.05a1.3 1.3 0 1 0 2.6 0a1.3 1.3 0 1 0 -2.6 0M101.56 524.34a1.3 1.3 0 1 0 2.6 0a1.3 1.3 0 1 0 -2.6 0M103.53 523.2a1.3 1.3 0 1 0 2.6 0a1.3 1.3 0 1 0 -2.6 0M105.51 522.31a1.3 1.3 0 1 0 2.6 0a1.3 1.3 0 1 0 -2.6 0M107.48 522.38a1.3 1.3 0 1 0 2.6 0a1.3 1.3 0 1 0 -2.6 0M109.46 523.63a1.3 1.3 0 1 0 2.6 0a1.3 1.3 0 1 0 -2.6 0M111.43 525.37a1.3 1.3 0 1 0 2.6 0a1.3 1.3 0 1 0 -2.6 0M113.41 526.83a1.3 1.3 0 1 0 2.6 0a1.3 1.3 0 1 0 -2.6 0M115.39 527.26a1.3 1.3 0 1 0 2.6 0a1.3 1.3 0 1 0 -2.6 0M117.36 526.14a1.3 1.3 0 1 0 2.6 0a1.3 1.3 0 1 0 -2.6 0M119.34 523.98a1.3 1.3 0 1 0 2.6 0a1.3 1.3 0 1 0 -2.6 0M121.31 521.55a1.3 1.3 0 1 0 2.6 0a1.3 1.3 0 1 0 -2.6 0M123.29 519.61a1.3 1.3 0 1 0 2.6 0a1.3 1.3 0 1 0 -2.6 0M125.26 518.91a1.3 1.3 0 1 0 2.6 0a1.3 1.3 0 1 0 -2.6 0M127.24 519.44a1.3 1.3 0 1 0 2.6 0a1.3 1.3 0 1 0 -2.6 0M129.21 520.44a1.3 1.3 0 1 0 2.6 0a1.3 1.3 0 1 0 -2.6 0M131.19 521.38a1.3 1.3 0 1 0 2.6 0a1.3 1.3 0 1 0 -2.6 0M133.17 521.68a1.3 1.3 0 1 0 2.6 0a1.3 1.3 0 1 0 -2.6 0M135.14 520.69a1.3 1.3 0 1 0 2.6 0a1.3 1.3 0 1 0 -2.6 0M137.12 518.8a1.3 1.3 0 1 0 2.6 0a1.3 1.3 0 1 0 -2.6 0M139.09 516.71a1.3 1.3 0 1 0 2.6 0a1.3 1.3 0 1 0 -2.6 0M141.07 515.11a1.3 1.3 0 1 0 2.6 0a1.3 1.3 0 1 0 -2.6 0M143.04 514.7a1.3 1.3 0 1 0 2.6 0a1.3 1.3 0 1 0 -2.6 0M145.02 515.3a1.3 1.3 0 1 0 2.6 0a1.3 1.3 0 1 0 -2.6 0M146.99 516.26a1.3 1.3 0 1 0 2.6 0a1.3 1.3 0 1 0 -2.6 0M148.97 517.18a1.3 1.3 0 1 0 2.6 0a1.3 1.3 0 1 0 -2.6 0M150.95 517.63a1.3 1.3 0 1 0 2.6 0a1.3 1.3 0 1 0 -2.6 0M152.92 517.04a1.3 1.3 0 1 0 2.6 0a1.3 1.3 0 1 0 -2.6 0M154.9 515.55a1.3 1.3 0 1 0 2.6 0a1.3 1.3 0 1 0 -2.6 0M156.87 513.77a1.3 1.3 0 1 0 2.6 0a1.3 1.3 0 1 0 -2.6 0M158.85 512.32a1.3 1.3 0 1 0 2.6 0a1.3 1.3 0 1 0 -2.6 0M160.82 511.79a1.3 1.3 0 1 0 2.6 0a1.3 1.3 0 1 0 -2.6 0M162.8 512.29a1.3 1.3 0 1 0 2.6 0a1.3 1.3 0 1 0 -2.6 0M164.78 513.26a1.3 1.3 0 1 0 2.6 0a1.3 1.3 0 1 0 -2.6 0M166.75 514.27a1.3 1.3 0 1 0 2.6 0a1.3 1.3 0 1 0 -2.6 0M168.73 514.9a1.3 1.3 0 1 0 2.6 0a1.3 1.3 0 1 0 -2.6 0M170.7 514.68a1.3 1.3 0 1 0 2.6 0a1.3 1.3 0 1 0 -2.6 0M172.68 513.6a1.3 1.3 0 1 0 2.6 0a1.3 1.3 0 1 0 -2.6 0M174.65 512.15a1.3 1.3 0 1 0 2.6 0a1.3 1.3 0 1 0 -2.6 0M176.63 510.8a1.3 1.3 0 1 0 2.6 0a1.3 1.3 0 1 0 -2.6 0M178.6 510.06a1.3 1.3 0 1 0 2.6 0a1.3 1.3 0 1 0 -2.6 0M180.58 510.26a1.3 1.3 0 1 0 2.6 0a1.3 1.3 0 1 0 -2.6 0M182.56 511.21a1.3 1.3 0 1 0 2.6 0a1.3 1.3 0 1 0 -2.6 0M184.53 512.67a1.3 1.3 0 1 0 2.6 0a1.3 1.3 0 1 0 -2.6 0M186.51 514.46a1.3 1.3 0 1 0 2.6 0a1.3 1.3 0 1 0 -2.6 0M188.48 516.36a1.3 1.3 0 1 0 2.6 0a1.3 1.3 0 1 0 -2.6 0M190.46 518.18a1.3 1.3 0 1 0 2.6 0a1.3 1.3 0 1 0 -2.6 0M192.43 519.71a1.3 1.3 0 1 0 2.6 0a1.3 1.3 0 1 0 -2.6 0M194.41 521.08a1.3 1.3 0 1 0 2.6 0a1.3 1.3 0 1 0 -2.6 0M196.38 522.6a1.3 1.3 0 1 0 2.6 0a1.3 1.3 0 1 0 -2.6 0M198.36 524.11a1.3 1.3 0 1 0 2.6 0a1.3 1.3 0 1 0 -2.6 0M200.34 525.5a1.3 1.3 0 1 0 2.6 0a1.3 1.3 0 1 0 -2.6 0M202.31 526.61a1.3 1.3 0 1 0 2.6 0a1.3 1.3 0 1 0 -2.6 0M204.29 527.33a1.3 1.3 0 1 0 2.6 0a1.3 1.3 0 1 0 -2.6 0M206.26 527.51a1.3 1.3 0 1 0 2.6 0a1.3 1.3 0 1 0 -2.6 0M208.24 527.43a1.3 1.3 0 1 0 2.6 0a1.3 1.3 0 1 0 -2.6 0M210.21 527.22a1.3 1.3 0 1 0 2.6 0a1.3 1.3 0 1 0 -2.6 0M212.19 526.91a1.3 1.3 0 1 0 2.6 0a1.3 1.3 0 1 0 -2.6 0M214.17 526.52a1.3 1.3 0 1 0 2.6 0a1.3 1.3 0 1 0 -2.6 0M216.14 526.1a1.3 1.3 0 1 0 2.6 0a1.3 1.3 0 1 0 -2.6 0M218.12 525.66a1.3 1.3 0 1 0 2.6 0a1.3 1.3 0 1 0 -2.6 0M220.09 525.24a1.3 1.3 0 1 0 2.6 0a1.3 1.3 0 1 0 -2.6 0M222.07 524.87a1.3 1.3 0 1 0 2.6 0a1.3 1.3 0 1 0 -2.6 0M224.04 524.58a1.3 1.3 0 1 0 2.6 0a1.3 1.3 0 1 0 -2.6 0M226.02 524.36a1.3 1.3 0 1 0 2.6 0a1.3 1.3 0 1 0 -2.6 0M227.99 524.12a1.3 1.3 0 1 0 2.6 0a1.3 1.3 0 1 0 -2.6 0M229.97 523.75a1.3 1.3 0 1 0 2.6 0a1.3 1.3 0 1 0 -2.6 0M231.95 523.19a1.3 1.3 0 1 0 2.6 0a1.3 1.3 0 1 0 -2.6 0M233.92 522.51a1.3 1.3 0 1 0 2.6 0a1.3 1.3 0 1 0 -2.6 0M235.9 521.76a1.3 1.3 0 1 0 2.6 0a1.3 1.3 0 1 0 -2.6 0M237.87 520.99a1.3 1.3 0 1 0 2.6 0a1.3 1.3 0 1 0 -2.6 0M239.85 520.27a1.3 1.3 0 1 0 2.6 0a1.3 1.3 0 1 0 -2.6 0M241.82 519.62a1.3 1.3 0 1 0 2.6 0a1.3 1.3 0 1 0 -2.6 0M243.8 518.94a1.3 1.3 0 1 0 2.6 0a1.3 1.3 0 1 0 -2.6 0M245.77 518.23a1.3 1.3 0 1 0 2.6 0a1.3 1.3 0 1 0 -2.6 0M247.75 517.52a1.3 1.3 0 1 0 2.6 0a1.3 1.3 0 1 0 -2.6 0M249.73 516.86a1.3 1.3 0 1 0 2.6 0a1.3 1.3 0 1 0 -2.6 0M251.7 516.26a1.3 1.3 0 1 0 2.6 0a1.3 1.3 0 1 0 -2.6 0M253.68 515.77a1.3 1.3 0 1 0 2.6 0a1.3 1.3 0 1 0 -2.6 0M255.65 515.42a1.3 1.3 0 1 0 2.6 0a1.3 1.3 0 1 0 -2.6 0M257.63 515.15a1.3 1.3 0 1 0 2.6 0a1.3 1.3 0 1 0 -2.6 0M259.6 514.89a1.3 1.3 0 1 0 2.6 0a1.3 1.3 0 1 0 -2.6 0M261.58 514.63a1.3 1.3 0 1 0 2.6 0a1.3 1.3 0 1 0 -2.6 0M263.56 514.39a1.3 1.3 0 1 0 2.6 0a1.3 1.3 0 1 0 -2.6 0M265.53 514.16a1.3 1.3 0 1 0 2.6 0a1.3 1.3 0 1 0 -2.6 0M267.51 513.94a1.3 1.3 0 1 0 2.6 0a1.3 1.3 0 1 0 -2.6 0M269.48 513.72a1.3 1.3 0 1 0 2.6 0a1.3 1.3 0 1 0 -2.6 0M271.46 513.52a1.3 1.3 0 1 0 2.6 0a1.3 1.3 0 1 0 -2.6 0M273.43 513.32a1.3 1.3 0 1 0 2.6 0a1.3 1.3 0 1 0 -2.6 0M275.41 513.13a1.3 1.3 0 1 0 2.6 0a1.3 1.3 0 1 0 -2.6 0M277.38 512.96a1.3 1.3 0 1 0 2.6 0a1.3 1.3 0 1 0 -2.6 0M279.36 512.79a1.3 1.3 0 1 0 2.6 0a1.3 1.3 0 1 0 -2.6 0M281.34 512.63a1.3 1.3 0 1 0 2.6 0a1.3 1.3 0 1 0 -2.6 0M283.31 512.48a1.3 1.3 0 1 0 2.6 0a1.3 1.3 0 1 0 -2.6 0M285.29 512.34a1.3 1.3 0 1 0 2.6 0a1.3 1.3 0 1 0 -2.6 0M287.26 512.19a1.3 1.3 0 1 0 2.6 0a1.3 1.3 0 1 0 -2.6 0M289.24 512.04a1.3 1.3 0 1 0 2.6 0a1.3 1.3 0 1 0 -2.6 0M291.21 511.89a1.3 1.3 0 1 0 2.6 0a1.3 1.3 0 1 0 -2.6 0M293.19 511.75a1.3 1.3 0 1 0 2.6 0a1.3 1.3 0 1 0 -2.6 0M295.16 511.62a1.3 1.3 0 1 0 2.6 0a1.3 1.3 0 1 0 -2.6 0M297.14 511.49a1.3 1.3 0 1 0 2.6 0a1.3 1.3 0 1 0 -2.6 0M299.12 511.37a1.3 1.3 0 1 0 2.6 0a1.3 1.3 0 1 0 -2.6 0M301.09 511.26a1.3 1.3 0 1 0 2.6 0a1.3 1.3 0 1 0 -2.6 0M303.07 511.16a1.3 1.3 0 1 0 2.6 0a1.3 1.3 0 1 0 -2.6 0M305.04 511.08a1.3 1.3 0 1 0 2.6 0a1.3 1.3 0 1 0 -2.6 0" fill="none" stroke="#383838" stroke-width="0.65"/><path d="M73.4 548 L74 548 L74.6 548 L75.2 548 L75.8 548 L76.4 548 L77 548 L77.6 548 L78.2 548 L78.8 548 L79.4 548 L80 548 L80.6 548 L81.2 548 L81.8 548 L82.4 548 L83 548 L83.6 548.01 L84.2 548.08 L84.8 548.22 L85.4 548.42 L86 548.67 L86.6 548.97 L87.2 549.31 L87.8 549.69 L88.4 550.1 L89 550.7 L89.6 551.64 L90.2 552.78 L90.8 553.99 L91.4 555.12 L92 556.21 L92.6 557.34 L93.2 558.47 L93.8 559.58 L94.4 560.63 L95 561.63 L95.6 562.59 L96.2 563.54 L96.8 564.5 L97.4 565.5 L98 566.64 L98.6 567.72 L99.2 568.51 L99.8 569.04 L100.4 569.37 L101 569.37 L101.6 569.23 L102.2 568.99 L102.8 568.67 L103.4 568.31 L104 567.92 L104.6 567.52 L105.2 567.14 L105.8 566.81 L106.4 566.54 L107 566.36 L107.6 566.3 L108.2 566.39 L108.8 566.65 L109.4 567.05 L110 567.56 L110.6 568.16 L111.2 568.82 L111.8 569.51 L112.4 570.22 L113 570.91 L113.6 571.55 L114.2 572.12 L114.8 572.6 L115.4 572.95 L116 573.16 L116.6 573.19 L117.2 573.05 L117.8 572.75 L118.4 572.32 L119 571.78 L119.6 571.15 L120.2 570.44 L120.8 569.69 L121.4 568.9 L122 568.1 L122.6 567.31 L123.2 566.56 L123.8 565.85 L124.4 565.22 L125 564.68 L125.6 564.25 L126.2 563.95 L126.8 563.81 L127.4 563.82 L128 563.91 L128.6 564.05 L129.2 564.25 L129.8 564.47 L130.4 564.71 L131 564.95 L131.6 565.18 L132.2 565.39 L132.8 565.55 L133.4 565.66 L134 565.7 L134.6 565.62 L135.2 565.39 L135.8 565.02 L136.4 564.55 L137 563.98 L137.6 563.34 L138.2 562.65 L138.8 561.92 L139.4 561.18 L140 560.43 L140.6 559.71 L141.2 559.04 L141.8 558.42 L142.4 557.88 L143 557.44 L143.6 557.12 L144.2 556.94 L144.8 556.9 L145.4 556.96 L146 557.06 L146.6 557.21 L147.2 557.39 L147.8 557.59 L148.4 557.8 L149 558.01 L149.6 558.21 L150.2 558.39 L150.8 558.54 L151.4 558.64 L152 558.7 L152.6 558.67 L153.2 558.49 L153.8 558.19 L154.4 557.78 L155 557.28 L155.6 556.72 L156.2 556.1 L156.8 555.44 L157.4 554.78 L158 554.12 L158.6 553.49 L159.2 552.9 L159.8 552.37 L160.4 551.93 L161 551.59 L161.6 551.38 L162.2 551.3 L162.8 551.35 L163.4 551.49 L164 551.7 L164.6 551.97 L165.2 552.29 L165.8 552.64 L166.4 553 L167 553.36 L167.6 553.71 L168.2 554.03 L168.8 554.3 L169.4 554.51 L170 554.65 L170.6 554.7 L171.2 554.63 L171.8 554.44 L172.4 554.15 L173 553.77 L173.6 553.31 L174.2 552.8 L174.8 552.26 L175.4 551.69 L176 551.13 L176.6 550.57 L177.2 550.05 L177.8 549.58 L178.4 549.17 L179 548.84 L179.6 548.62 L180.2 548.51 L180.8 548.53 L181.4 548.67 L182 548.91 L182.6 549.26 L183.2 549.7 L183.8 550.22 L184.4 550.81 L185 551.47 L185.6 552.18 L186.2 552.93 L186.8 553.72 L187.4 554.53 L188 555.36 L188.6 556.2 L189.2 557.04 L189.8 557.87 L190.4 558.67 L191 559.45 L191.6 560.19 L192.2 560.88 L192.8 561.52 L193.4 562.08 L194 562.58 L194.6 563.05 L195.2 563.54 L195.8 564.03 L196.4 564.53 L197 565.04 L197.6 565.54 L198.2 566.04 L198.8 566.54 L199.4 567.03 L200 567.51 L200.6 567.98 L201.2 568.43 L201.8 568.87 L202.4 569.28 L203 569.68 L203.6 570.05 L204.2 570.39 L204.8 570.7 L205.4 570.97 L206 571.22 L206.6 571.42 L207.2 571.58 L207.8 571.7 L208.4 571.77 L209 571.8 L209.6 571.79 L210.2 571.75 L210.8 571.69 L211.4 571.61 L212 571.51 L212.6 571.38 L213.2 571.24 L213.8 571.09 L214.4 570.92 L215 570.74 L215.6 570.54 L216.2 570.33 L216.8 570.12 L217.4 569.9 L218 569.67 L218.6 569.43 L219.2 569.19 L219.8 568.95 L220.4 568.71 L221 568.47 L221.6 568.23 L222.2 567.99 L222.8 567.76 L223.4 567.54 L224 567.31 L224.6 567.07 L225.2 566.82 L225.8 566.55 L226.4 566.27 L227 565.98 L227.6 565.69 L228.2 565.38 L228.8 565.07 L229.4 564.75 L230 564.42 L230.6 564.09 L231.2 563.76 L231.8 563.42 L232.4 563.08 L233 562.75 L233.6 562.41 L234.2 562.07 L234.8 561.74 L235.4 561.41 L236 561.08 L236.6 560.76 L237.2 560.45 L237.8 560.14 L238.4 559.85 L239 559.56 L239.6 559.28 L240.2 559.02 L240.8 558.76 L241.4 558.52 L242 558.3 L242.6 558.08 L243.2 557.87 L243.8 557.66 L244.4 557.46 L245 557.25 L245.6 557.05 L246.2 556.86 L246.8 556.67 L247.4 556.48 L248 556.29 L248.6 556.11 L249.2 555.93 L249.8 555.76 L250.4 555.59 L251 555.42 L251.6 555.26 L252.2 555.1 L252.8 554.94 L253.4 554.79 L254 554.65 L254.6 554.51 L255.2 554.37 L255.8 554.23 L256.4 554.1 L257 553.98 L257.6 553.86 L258.2 553.73 L258.8 553.61 L259.4 553.49 L260 553.37 L260.6 553.25 L261.2 553.13 L261.8 553.01 L262.4 552.89 L263 552.77 L263.6 552.66 L264.2 552.54 L264.8 552.43 L265.4 552.31 L266 552.2 L266.6 552.09 L267.2 551.98 L267.8 551.88 L268.4 551.77 L269 551.67 L269.6 551.57 L270.2 551.47 L270.8 551.37 L271.4 551.27 L272 551.18 L272.6 551.09 L273.2 551 L273.8 550.91 L274.4 550.83 L275 550.75 L275.6 550.67 L276.2 550.59 L276.8 550.52 L277.4 550.45 L278 550.38 L278.6 550.32 L279.2 550.26 L279.8 550.2 L280.4 550.14 L281 550.09 L281.6 550.04 L282.2 550 L282.8 549.96 L283.4 549.92 L284 549.89 L284.6 549.86 L285.2 549.82 L285.8 549.79 L286.4 549.76 L287 549.73 L287.6 549.7 L288.2 549.67 L288.8 549.64 L289.4 549.61 L290 549.58 L290.6 549.55 L291.2 549.53 L291.8 549.5 L292.4 549.47 L293 549.45 L293.6 549.42 L294.2 549.4 L294.8 549.37 L295.4 549.35 L296 549.33 L296.6 549.31 L297.2 549.29 L297.8 549.27 L298.4 549.25 L299 549.23 L299.6 549.21 L300.2 549.2 L300.8 549.18 L301.4 549.17 L302 549.16 L302.6 549.15 L303.2 549.14 L303.8 549.13 L304.4 549.12 L305 549.11 L305.6 549.11 L306.2 549.1 L306.8 549.1 L307.4 549.1 L307.6 549.1" fill="none" stroke="#ee1111" stroke-width="1.65" stroke-linejoin="round"/><path d="M81.8 547.83a1.3 1.3 0 1 0 2.6 0a1.3 1.3 0 1 0 -2.6 0M83.78 548.09a1.3 1.3 0 1 0 2.6 0a1.3 1.3 0 1 0 -2.6 0M85.75 548.95a1.3 1.3 0 1 0 2.6 0a1.3 1.3 0 1 0 -2.6 0M87.73 550.39a1.3 1.3 0 1 0 2.6 0a1.3 1.3 0 1 0 -2.6 0M89.7 553.97a1.3 1.3 0 1 0 2.6 0a1.3 1.3 0 1 0 -2.6 0M91.68 557.54a1.3 1.3 0 1 0 2.6 0a1.3 1.3 0 1 0 -2.6 0M93.65 560.93a1.3 1.3 0 1 0 2.6 0a1.3 1.3 0 1 0 -2.6 0M95.63 563.97a1.3 1.3 0 1 0 2.6 0a1.3 1.3 0 1 0 -2.6 0M97.6 567.3a1.3 1.3 0 1 0 2.6 0a1.3 1.3 0 1 0 -2.6 0M99.58 568.37a1.3 1.3 0 1 0 2.6 0a1.3 1.3 0 1 0 -2.6 0M101.56 567.47a1.3 1.3 0 1 0 2.6 0a1.3 1.3 0 1 0 -2.6 0M103.53 566.04a1.3 1.3 0 1 0 2.6 0a1.3 1.3 0 1 0 -2.6 0M105.51 564.91a1.3 1.3 0 1 0 2.6 0a1.3 1.3 0 1 0 -2.6 0M107.48 564.97a1.3 1.3 0 1 0 2.6 0a1.3 1.3 0 1 0 -2.6 0M109.46 566.5a1.3 1.3 0 1 0 2.6 0a1.3 1.3 0 1 0 -2.6 0M111.43 568.62a1.3 1.3 0 1 0 2.6 0a1.3 1.3 0 1 0 -2.6 0M113.41 570.41a1.3 1.3 0 1 0 2.6 0a1.3 1.3 0 1 0 -2.6 0M115.39 570.93a1.3 1.3 0 1 0 2.6 0a1.3 1.3 0 1 0 -2.6 0M117.36 569.75a1.3 1.3 0 1 0 2.6 0a1.3 1.3 0 1 0 -2.6 0M119.34 567.47a1.3 1.3 0 1 0 2.6 0a1.3 1.3 0 1 0 -2.6 0M121.31 564.82a1.3 1.3 0 1 0 2.6 0a1.3 1.3 0 1 0 -2.6 0M123.29 562.54a1.3 1.3 0 1 0 2.6 0a1.3 1.3 0 1 0 -2.6 0M125.26 561.36a1.3 1.3 0 1 0 2.6 0a1.3 1.3 0 1 0 -2.6 0M127.24 561.58a1.3 1.3 0 1 0 2.6 0a1.3 1.3 0 1 0 -2.6 0M129.21 562.37a1.3 1.3 0 1 0 2.6 0a1.3 1.3 0 1 0 -2.6 0M131.19 563.18a1.3 1.3 0 1 0 2.6 0a1.3 1.3 0 1 0 -2.6 0M133.17 563.47a1.3 1.3 0 1 0 2.6 0a1.3 1.3 0 1 0 -2.6 0M135.14 562.47a1.3 1.3 0 1 0 2.6 0a1.3 1.3 0 1 0 -2.6 0M137.12 560.5a1.3 1.3 0 1 0 2.6 0a1.3 1.3 0 1 0 -2.6 0M139.09 558.22a1.3 1.3 0 1 0 2.6 0a1.3 1.3 0 1 0 -2.6 0M141.07 556.34a1.3 1.3 0 1 0 2.6 0a1.3 1.3 0 1 0 -2.6 0M143.04 555.51a1.3 1.3 0 1 0 2.6 0a1.3 1.3 0 1 0 -2.6 0M145.02 555.9a1.3 1.3 0 1 0 2.6 0a1.3 1.3 0 1 0 -2.6 0M146.99 556.68a1.3 1.3 0 1 0 2.6 0a1.3 1.3 0 1 0 -2.6 0M148.97 557.48a1.3 1.3 0 1 0 2.6 0a1.3 1.3 0 1 0 -2.6 0M150.95 557.91a1.3 1.3 0 1 0 2.6 0a1.3 1.3 0 1 0 -2.6 0M152.92 557.25a1.3 1.3 0 1 0 2.6 0a1.3 1.3 0 1 0 -2.6 0M154.9 555.54a1.3 1.3 0 1 0 2.6 0a1.3 1.3 0 1 0 -2.6 0M156.87 553.48a1.3 1.3 0 1 0 2.6 0a1.3 1.3 0 1 0 -2.6 0M158.85 551.74a1.3 1.3 0 1 0 2.6 0a1.3 1.3 0 1 0 -2.6 0M160.82 551.01a1.3 1.3 0 1 0 2.6 0a1.3 1.3 0 1 0 -2.6 0M162.8 551.52a1.3 1.3 0 1 0 2.6 0a1.3 1.3 0 1 0 -2.6 0M164.78 552.63a1.3 1.3 0 1 0 2.6 0a1.3 1.3 0 1 0 -2.6 0M166.75 553.82a1.3 1.3 0 1 0 2.6 0a1.3 1.3 0 1 0 -2.6 0M168.73 554.56a1.3 1.3 0 1 0 2.6 0a1.3 1.3 0 1 0 -2.6 0M170.7 554.29a1.3 1.3 0 1 0 2.6 0a1.3 1.3 0 1 0 -2.6 0M172.68 552.96a1.3 1.3 0 1 0 2.6 0a1.3 1.3 0 1 0 -2.6 0M174.65 551.16a1.3 1.3 0 1 0 2.6 0a1.3 1.3 0 1 0 -2.6 0M176.63 549.49a1.3 1.3 0 1 0 2.6 0a1.3 1.3 0 1 0 -2.6 0M178.6 548.57a1.3 1.3 0 1 0 2.6 0a1.3 1.3 0 1 0 -2.6 0M180.58 548.89a1.3 1.3 0 1 0 2.6 0a1.3 1.3 0 1 0 -2.6 0M182.56 550.32a1.3 1.3 0 1 0 2.6 0a1.3 1.3 0 1 0 -2.6 0M184.53 552.53a1.3 1.3 0 1 0 2.6 0a1.3 1.3 0 1 0 -2.6 0M186.51 555.18a1.3 1.3 0 1 0 2.6 0a1.3 1.3 0 1 0 -2.6 0M188.48 557.95a1.3 1.3 0 1 0 2.6 0a1.3 1.3 0 1 0 -2.6 0M190.46 560.5a1.3 1.3 0 1 0 2.6 0a1.3 1.3 0 1 0 -2.6 0M192.43 562.51a1.3 1.3 0 1 0 2.6 0a1.3 1.3 0 1 0 -2.6 0M194.41 564.13a1.3 1.3 0 1 0 2.6 0a1.3 1.3 0 1 0 -2.6 0M196.38 565.81a1.3 1.3 0 1 0 2.6 0a1.3 1.3 0 1 0 -2.6 0M198.36 567.47a1.3 1.3 0 1 0 2.6 0a1.3 1.3 0 1 0 -2.6 0M200.34 569.02a1.3 1.3 0 1 0 2.6 0a1.3 1.3 0 1 0 -2.6 0M202.31 570.36a1.3 1.3 0 1 0 2.6 0a1.3 1.3 0 1 0 -2.6 0M204.29 571.4a1.3 1.3 0 1 0 2.6 0a1.3 1.3 0 1 0 -2.6 0M206.26 572.06a1.3 1.3 0 1 0 2.6 0a1.3 1.3 0 1 0 -2.6 0M208.24 572.24a1.3 1.3 0 1 0 2.6 0a1.3 1.3 0 1 0 -2.6 0M210.21 572.1a1.3 1.3 0 1 0 2.6 0a1.3 1.3 0 1 0 -2.6 0M212.19 571.74a1.3 1.3 0 1 0 2.6 0a1.3 1.3 0 1 0 -2.6 0M214.17 571.22a1.3 1.3 0 1 0 2.6 0a1.3 1.3 0 1 0 -2.6 0M216.14 570.59a1.3 1.3 0 1 0 2.6 0a1.3 1.3 0 1 0 -2.6 0M218.12 569.89a1.3 1.3 0 1 0 2.6 0a1.3 1.3 0 1 0 -2.6 0M220.09 569.18a1.3 1.3 0 1 0 2.6 0a1.3 1.3 0 1 0 -2.6 0M222.07 568.5a1.3 1.3 0 1 0 2.6 0a1.3 1.3 0 1 0 -2.6 0M224.04 567.8a1.3 1.3 0 1 0 2.6 0a1.3 1.3 0 1 0 -2.6 0M226.02 566.96a1.3 1.3 0 1 0 2.6 0a1.3 1.3 0 1 0 -2.6 0M227.99 566.03a1.3 1.3 0 1 0 2.6 0a1.3 1.3 0 1 0 -2.6 0M229.97 565.05a1.3 1.3 0 1 0 2.6 0a1.3 1.3 0 1 0 -2.6 0M231.95 564.03a1.3 1.3 0 1 0 2.6 0a1.3 1.3 0 1 0 -2.6 0M233.92 563.03a1.3 1.3 0 1 0 2.6 0a1.3 1.3 0 1 0 -2.6 0M235.9 562.08a1.3 1.3 0 1 0 2.6 0a1.3 1.3 0 1 0 -2.6 0M237.87 561.2a1.3 1.3 0 1 0 2.6 0a1.3 1.3 0 1 0 -2.6 0M239.85 560.45a1.3 1.3 0 1 0 2.6 0a1.3 1.3 0 1 0 -2.6 0M241.82 559.82a1.3 1.3 0 1 0 2.6 0a1.3 1.3 0 1 0 -2.6 0M243.8 559.23a1.3 1.3 0 1 0 2.6 0a1.3 1.3 0 1 0 -2.6 0M245.77 558.67a1.3 1.3 0 1 0 2.6 0a1.3 1.3 0 1 0 -2.6 0M247.75 558.15a1.3 1.3 0 1 0 2.6 0a1.3 1.3 0 1 0 -2.6 0M249.73 557.66a1.3 1.3 0 1 0 2.6 0a1.3 1.3 0 1 0 -2.6 0M251.7 557.2a1.3 1.3 0 1 0 2.6 0a1.3 1.3 0 1 0 -2.6 0M253.68 556.78a1.3 1.3 0 1 0 2.6 0a1.3 1.3 0 1 0 -2.6 0M255.65 556.4a1.3 1.3 0 1 0 2.6 0a1.3 1.3 0 1 0 -2.6 0M257.63 556.03a1.3 1.3 0 1 0 2.6 0a1.3 1.3 0 1 0 -2.6 0M259.6 555.66a1.3 1.3 0 1 0 2.6 0a1.3 1.3 0 1 0 -2.6 0M261.58 555.29a1.3 1.3 0 1 0 2.6 0a1.3 1.3 0 1 0 -2.6 0M263.56 554.92a1.3 1.3 0 1 0 2.6 0a1.3 1.3 0 1 0 -2.6 0M265.53 554.54a1.3 1.3 0 1 0 2.6 0a1.3 1.3 0 1 0 -2.6 0M267.51 554.18a1.3 1.3 0 1 0 2.6 0a1.3 1.3 0 1 0 -2.6 0M269.48 553.83a1.3 1.3 0 1 0 2.6 0a1.3 1.3 0 1 0 -2.6 0M271.46 553.48a1.3 1.3 0 1 0 2.6 0a1.3 1.3 0 1 0 -2.6 0M273.43 553.16a1.3 1.3 0 1 0 2.6 0a1.3 1.3 0 1 0 -2.6 0M275.41 552.85a1.3 1.3 0 1 0 2.6 0a1.3 1.3 0 1 0 -2.6 0M277.38 552.56a1.3 1.3 0 1 0 2.6 0a1.3 1.3 0 1 0 -2.6 0M279.36 552.3a1.3 1.3 0 1 0 2.6 0a1.3 1.3 0 1 0 -2.6 0M281.34 552.07a1.3 1.3 0 1 0 2.6 0a1.3 1.3 0 1 0 -2.6 0M283.31 551.88a1.3 1.3 0 1 0 2.6 0a1.3 1.3 0 1 0 -2.6 0M285.29 551.68a1.3 1.3 0 1 0 2.6 0a1.3 1.3 0 1 0 -2.6 0M287.26 551.49a1.3 1.3 0 1 0 2.6 0a1.3 1.3 0 1 0 -2.6 0M289.24 551.3a1.3 1.3 0 1 0 2.6 0a1.3 1.3 0 1 0 -2.6 0M291.21 551.11a1.3 1.3 0 1 0 2.6 0a1.3 1.3 0 1 0 -2.6 0M293.19 550.93a1.3 1.3 0 1 0 2.6 0a1.3 1.3 0 1 0 -2.6 0M295.16 550.75a1.3 1.3 0 1 0 2.6 0a1.3 1.3 0 1 0 -2.6 0M297.14 550.59a1.3 1.3 0 1 0 2.6 0a1.3 1.3 0 1 0 -2.6 0M299.12 550.44a1.3 1.3 0 1 0 2.6 0a1.3 1.3 0 1 0 -2.6 0M301.09 550.3a1.3 1.3 0 1 0 2.6 0a1.3 1.3 0 1 0 -2.6 0M303.07 550.18a1.3 1.3 0 1 0 2.6 0a1.3 1.3 0 1 0 -2.6 0M305.04 550.07a1.3 1.3 0 1 0 2.6 0a1.3 1.3 0 1 0 -2.6 0" fill="none" stroke="#383838" stroke-width="0.65"/><rect x="425" y="2.7" width="29.1" height="161.7" fill="#cccccc"/><rect x="454.1" y="2.7" width="29.1" height="161.7" fill="#e6e6e6"/><rect x="483.2" y="2.7" width="29.1" height="161.7" fill="#cccccc"/><rect x="512.3" y="2.7" width="29.1" height="161.7" fill="#e6e6e6"/><rect x="401.7" y="2.7" width="261.9" height="161.7" fill="none" stroke="#a4a4a4" stroke-width="1.1"/><path d="M410.45 164.4v-2.0M410.45 2.7v2.0M425 164.4v-3.5M425 2.7v3.5M439.55 164.4v-2.0M439.55 2.7v2.0M454.1 164.4v-2.0M454.1 2.7v2.0M468.65 164.4v-2.0M468.65 2.7v2.0M483.2 164.4v-3.5M483.2 2.7v3.5M497.75 164.4v-2.0M497.75 2.7v2.0M512.3 164.4v-2.0M512.3 2.7v2.0M526.85 164.4v-2.0M526.85 2.7v2.0M541.4 164.4v-3.5M541.4 2.7v3.5M555.95 164.4v-2.0M555.95 2.7v2.0M570.5 164.4v-2.0M570.5 2.7v2.0M585.05 164.4v-2.0M585.05 2.7v2.0M599.6 164.4v-3.5M599.6 2.7v3.5M614.15 164.4v-2.0M614.15 2.7v2.0M628.7 164.4v-2.0M628.7 2.7v2.0M643.25 164.4v-2.0M643.25 2.7v2.0M657.8 164.4v-3.5M657.8 2.7v3.5M401.7 161.4h2.0M663.6 161.4h-2.0M401.7 152.2h3.5M663.6 152.2h-3.5M401.7 143h2.0M663.6 143h-2.0M401.7 133.8h2.0M663.6 133.8h-2.0M401.7 124.6h2.0M663.6 124.6h-2.0M401.7 115.4h2.0M663.6 115.4h-2.0M401.7 106.2h3.5M663.6 106.2h-3.5M401.7 97h2.0M663.6 97h-2.0M401.7 87.8h2.0M663.6 87.8h-2.0M401.7 78.6h2.0M663.6 78.6h-2.0M401.7 69.4h2.0M663.6 69.4h-2.0M401.7 60.2h3.5M663.6 60.2h-3.5M401.7 51h2.0M663.6 51h-2.0M401.7 41.8h2.0M663.6 41.8h-2.0M401.7 32.6h2.0M663.6 32.6h-2.0M401.7 23.4h2.0M663.6 23.4h-2.0M401.7 14.2h3.5M663.6 14.2h-3.5M401.7 5h2.0M663.6 5h-2.0" stroke="#a4a4a4" stroke-width="1" fill="none"/><text x="398.5" y="18.1" class="tl" text-anchor="end">0</text><text x="398.5" y="64.1" class="tl" text-anchor="end"><tspan>−</tspan><tspan dx="1.2">5</tspan></text><text x="398.5" y="110.1" class="tl" text-anchor="end"><tspan>−</tspan><tspan dx="1.2">10</tspan></text><text x="398.5" y="156.1" class="tl" text-anchor="end"><tspan>−</tspan><tspan dx="1.2">15</tspan></text><text x="425" y="178.6" class="tl" text-anchor="middle">0</text><text x="483.2" y="178.6" class="tl" text-anchor="middle">200</text><text x="541.4" y="178.6" class="tl" text-anchor="middle">400</text><text x="599.6" y="178.6" class="tl" text-anchor="middle">600</text><text x="657.8" y="178.6" class="tl" text-anchor="middle">800</text><text transform="translate(366.4 83.55) rotate(-90)" class="ax" text-anchor="middle">response (mV)</text><text x="532" y="198.6" class="ax" text-anchor="middle">time (ms)</text><text x="655.1" y="155.8" class="td" text-anchor="end">100 Td</text><text x="412.3" y="16" class="sl" text-anchor="middle">0.2</text><text x="412.3" y="53.1" class="sl" text-anchor="middle">0.5</text><text x="412.3" y="90" class="sl" text-anchor="middle">0.8</text><text x="412.7" y="126.5" class="sl" text-anchor="middle">1</text><path d="M420.8 13.5 L421.4 13.5 L422 13.5 L422.6 13.5 L423.2 13.5 L423.8 13.5 L424.4 13.5 L425 13.5 L425.6 13.56 L426.2 13.78 L426.8 14.12 L427.4 14.56 L428 15.07 L428.6 15.6 L429.2 16.13 L429.8 16.63 L430.4 17.06 L431 17.41 L431.6 17.74 L432.2 18.09 L432.8 18.43 L433.4 18.75 L434 19.05 L434.6 19.29 L435.2 19.47 L435.8 19.58 L436.4 19.62 L437 19.66 L437.6 19.69 L438.2 19.72 L438.8 19.75 L439.4 19.77 L440 19.79 L440.6 19.81 L441.2 19.83 L441.8 19.85 L442.4 19.86 L443 19.87 L443.6 19.88 L444.2 19.89 L444.8 19.89 L445.4 19.9 L446 19.9 L446.6 19.9 L447.2 19.88 L447.8 19.85 L448.4 19.8 L449 19.75 L449.6 19.69 L450.2 19.62 L450.8 19.55 L451.4 19.48 L452 19.4 L452.6 19.33 L453.2 19.27 L453.8 19.21 L454.4 18.79 L455 18.32 L455.6 17.86 L456.2 17.39 L456.8 16.88 L457.4 16.31 L458 15.65 L458.6 14.82 L459.2 13.87 L459.8 12.88 L460.4 11.9 L461 11.02 L461.6 10.3 L462.2 9.68 L462.8 9.07 L463.4 8.48 L464 7.93 L464.6 7.43 L465.2 7.01 L465.8 6.68 L466.4 6.46 L467 6.36 L467.6 6.27 L468.2 6.19 L468.8 6.12 L469.4 6.06 L470 6 L470.6 5.95 L471.2 5.91 L471.8 5.87 L472.4 5.84 L473 5.82 L473.6 5.81 L474.2 5.8 L474.8 5.8 L475.4 5.8 L476 5.8 L476.6 5.8 L477.2 5.8 L477.8 5.8 L478.4 5.8 L479 5.8 L479.6 5.8 L480.2 5.8 L480.8 5.8 L481.4 5.8 L482 5.8 L482.6 6.1 L483.2 6.43 L483.8 6.76 L484.4 7.1 L485 7.48 L485.6 7.94 L486.2 8.52 L486.8 9.42 L487.4 10.5 L488 11.5 L488.6 12.42 L489.2 13.37 L489.8 14.31 L490.4 15.21 L491 16 L491.6 16.64 L492.2 17.1 L492.8 17.44 L493.4 17.76 L494 18.07 L494.6 18.37 L495.2 18.64 L495.8 18.9 L496.4 19.14 L497 19.35 L497.6 19.54 L498.2 19.71 L498.8 19.84 L499.4 19.95 L500 20.03 L500.6 20.08 L501.2 20.1 L501.8 20.1 L502.4 20.08 L503 20.06 L503.6 20.04 L504.2 20 L504.8 19.97 L505.4 19.92 L506 19.88 L506.6 19.83 L507.2 19.78 L507.8 19.73 L508.4 19.67 L509 19.62 L509.6 19.57 L510.2 19.52 L510.8 19.47 L511.4 19.43 L512 19.24 L512.6 18.77 L513.2 18.31 L513.8 17.86 L514.4 17.39 L515 16.91 L515.6 16.38 L516.2 15.8 L516.8 15.12 L517.4 14.29 L518 13.37 L518.6 12.41 L519.2 11.47 L519.8 10.61 L520.4 9.88 L521 9.33 L521.6 8.83 L522.2 8.34 L522.8 7.88 L523.4 7.45 L524 7.07 L524.6 6.74 L525.2 6.48 L525.8 6.29 L526.4 6.2 L527 6.16 L527.6 6.12 L528.2 6.08 L528.8 6.05 L529.4 6.02 L530 5.99 L530.6 5.97 L531.2 5.95 L531.8 5.93 L532.4 5.92 L533 5.91 L533.6 5.9 L534.2 5.9 L534.8 5.91 L535.4 5.95 L536 6.02 L536.6 6.11 L537.2 6.22 L537.8 6.34 L538.4 6.47 L539 6.61 L539.6 6.75 L540.2 6.9 L540.8 7.03 L541.4 7.16 L542 7.28 L542.6 7.59 L543.2 7.94 L543.8 8.3 L544.4 8.65 L545 9 L545.6 9.35 L546.2 9.7 L546.8 10.05 L547.4 10.4 L548 10.75 L548.6 11.09 L549.2 11.43 L549.8 11.81 L550.4 12.21 L551 12.62 L551.6 13.02 L552.2 13.41 L552.8 13.76 L553.4 14.07 L554 14.33 L554.6 14.52 L555.2 14.63 L555.8 14.72 L556.4 14.81 L557 14.89 L557.6 14.96 L558.2 15.03 L558.8 15.09 L559.4 15.15 L560 15.19 L560.6 15.23 L561.2 15.26 L561.8 15.28 L562.4 15.3 L563 15.3 L563.6 15.29 L564.2 15.26 L564.8 15.22 L565.4 15.17 L566 15.1 L566.6 15.03 L567.2 14.95 L567.8 14.86 L568.4 14.77 L569 14.68 L569.6 14.59 L570.2 14.5 L570.8 14.41 L571.4 14.33 L572 14.25 L572.6 14.18 L573.2 14.12 L573.8 14.07 L574.4 14.03 L575 14.01 L575.6 14 L576.2 14 L576.8 13.99 L577.4 13.99 L578 13.98 L578.6 13.98 L579.2 13.98 L579.8 13.97 L580.4 13.97 L581 13.97 L581.6 13.96 L582.2 13.96 L582.8 13.96 L583.4 13.95 L584 13.95 L584.6 13.95 L585.2 13.95 L585.8 13.94 L586.4 13.94 L587 13.94 L587.6 13.93 L588.2 13.93 L588.8 13.93 L589.4 13.92 L590 13.92 L590.6 13.92 L591.2 13.92 L591.8 13.91 L592.4 13.91 L593 13.91 L593.6 13.91 L594.2 13.9 L594.8 13.9 L595.4 13.9 L596 13.9 L596.6 13.89 L597.2 13.89 L597.8 13.89 L598.4 13.89 L599 13.89 L599.6 13.88 L600.2 13.88 L600.8 13.88 L601.4 13.88 L602 13.88 L602.6 13.87 L603.2 13.87 L603.8 13.87 L604.4 13.87 L605 13.87 L605.6 13.86 L606.2 13.86 L606.8 13.86 L607.4 13.86 L608 13.86 L608.6 13.86 L609.2 13.85 L609.8 13.85 L610.4 13.85 L611 13.85 L611.6 13.85 L612.2 13.85 L612.8 13.84 L613.4 13.84 L614 13.84 L614.6 13.84 L615.2 13.84 L615.8 13.84 L616.4 13.84 L617 13.84 L617.6 13.83 L618.2 13.83 L618.8 13.83 L619.4 13.83 L620 13.83 L620.6 13.83 L621.2 13.83 L621.8 13.83 L622.4 13.83 L623 13.82 L623.6 13.82 L624.2 13.82 L624.8 13.82 L625.4 13.82 L626 13.82 L626.6 13.82 L627.2 13.82 L627.8 13.82 L628.4 13.82 L629 13.82 L629.6 13.81 L630.2 13.81 L630.8 13.81 L631.4 13.81 L632 13.81 L632.6 13.81 L633.2 13.81 L633.8 13.81 L634.4 13.81 L635 13.81 L635.6 13.81 L636.2 13.81 L636.8 13.81 L637.4 13.81 L638 13.81 L638.6 13.81 L639.2 13.81 L639.8 13.81 L640.4 13.81 L641 13.8 L641.6 13.8 L642.2 13.8 L642.8 13.8 L643.4 13.8 L644 13.8 L644.6 13.8 L645.2 13.8 L645.8 13.8 L646.4 13.8 L647 13.8 L647.6 13.8 L648.2 13.8 L648.8 13.8 L649.4 13.8 L650 13.8 L650.6 13.8 L651.2 13.8 L651.8 13.8 L652.4 13.8 L653 13.8 L653.6 13.8 L654.2 13.8 L654.8 13.8 L655.4 13.8 L656 13.8 L656.6 13.8 L657.2 13.8 L657.8 13.8" fill="none" stroke="#ee1111" stroke-width="1.65" stroke-linejoin="round"/><path d="M423.7 13.5a1.3 1.3 0 1 0 2.6 0a1.3 1.3 0 1 0 -2.6 0M425.91 14.42a1.3 1.3 0 1 0 2.6 0a1.3 1.3 0 1 0 -2.6 0M428.12 16.32a1.3 1.3 0 1 0 2.6 0a1.3 1.3 0 1 0 -2.6 0M430.33 17.76a1.3 1.3 0 1 0 2.6 0a1.3 1.3 0 1 0 -2.6 0M432.55 18.98a1.3 1.3 0 1 0 2.6 0a1.3 1.3 0 1 0 -2.6 0M434.76 19.6a1.3 1.3 0 1 0 2.6 0a1.3 1.3 0 1 0 -2.6 0M436.97 19.72a1.3 1.3 0 1 0 2.6 0a1.3 1.3 0 1 0 -2.6 0M439.18 19.81a1.3 1.3 0 1 0 2.6 0a1.3 1.3 0 1 0 -2.6 0M441.39 19.87a1.3 1.3 0 1 0 2.6 0a1.3 1.3 0 1 0 -2.6 0M443.6 19.9a1.3 1.3 0 1 0 2.6 0a1.3 1.3 0 1 0 -2.6 0M445.82 19.88a1.3 1.3 0 1 0 2.6 0a1.3 1.3 0 1 0 -2.6 0M448.03 19.72a1.3 1.3 0 1 0 2.6 0a1.3 1.3 0 1 0 -2.6 0M450.24 19.46a1.3 1.3 0 1 0 2.6 0a1.3 1.3 0 1 0 -2.6 0M452.45 19.21a1.3 1.3 0 1 0 2.6 0a1.3 1.3 0 1 0 -2.6 0M454.66 17.58a1.3 1.3 0 1 0 2.6 0a1.3 1.3 0 1 0 -2.6 0M456.87 15.43a1.3 1.3 0 1 0 2.6 0a1.3 1.3 0 1 0 -2.6 0M459.09 11.92a1.3 1.3 0 1 0 2.6 0a1.3 1.3 0 1 0 -2.6 0M461.3 9.28a1.3 1.3 0 1 0 2.6 0a1.3 1.3 0 1 0 -2.6 0M463.51 7.27a1.3 1.3 0 1 0 2.6 0a1.3 1.3 0 1 0 -2.6 0M465.72 6.35a1.3 1.3 0 1 0 2.6 0a1.3 1.3 0 1 0 -2.6 0M467.93 6.08a1.3 1.3 0 1 0 2.6 0a1.3 1.3 0 1 0 -2.6 0M470.14 5.89a1.3 1.3 0 1 0 2.6 0a1.3 1.3 0 1 0 -2.6 0M472.36 5.81a1.3 1.3 0 1 0 2.6 0a1.3 1.3 0 1 0 -2.6 0M474.57 5.8a1.3 1.3 0 1 0 2.6 0a1.3 1.3 0 1 0 -2.6 0M476.78 5.8a1.3 1.3 0 1 0 2.6 0a1.3 1.3 0 1 0 -2.6 0M478.99 5.8a1.3 1.3 0 1 0 2.6 0a1.3 1.3 0 1 0 -2.6 0M481.2 6.05a1.3 1.3 0 1 0 2.6 0a1.3 1.3 0 1 0 -2.6 0M483.41 7.29a1.3 1.3 0 1 0 2.6 0a1.3 1.3 0 1 0 -2.6 0M485.62 9.64a1.3 1.3 0 1 0 2.6 0a1.3 1.3 0 1 0 -2.6 0M487.84 13.27a1.3 1.3 0 1 0 2.6 0a1.3 1.3 0 1 0 -2.6 0M490.05 16.39a1.3 1.3 0 1 0 2.6 0a1.3 1.3 0 1 0 -2.6 0M492.26 17.85a1.3 1.3 0 1 0 2.6 0a1.3 1.3 0 1 0 -2.6 0M494.47 18.89a1.3 1.3 0 1 0 2.6 0a1.3 1.3 0 1 0 -2.6 0M496.68 19.65a1.3 1.3 0 1 0 2.6 0a1.3 1.3 0 1 0 -2.6 0M498.89 20.05a1.3 1.3 0 1 0 2.6 0a1.3 1.3 0 1 0 -2.6 0M501.11 20.08a1.3 1.3 0 1 0 2.6 0a1.3 1.3 0 1 0 -2.6 0M503.32 19.98a1.3 1.3 0 1 0 2.6 0a1.3 1.3 0 1 0 -2.6 0M505.53 19.81a1.3 1.3 0 1 0 2.6 0a1.3 1.3 0 1 0 -2.6 0M507.74 19.62a1.3 1.3 0 1 0 2.6 0a1.3 1.3 0 1 0 -2.6 0M509.95 19.44a1.3 1.3 0 1 0 2.6 0a1.3 1.3 0 1 0 -2.6 0M512.16 18.11a1.3 1.3 0 1 0 2.6 0a1.3 1.3 0 1 0 -2.6 0M514.38 16.31a1.3 1.3 0 1 0 2.6 0a1.3 1.3 0 1 0 -2.6 0M516.59 13.55a1.3 1.3 0 1 0 2.6 0a1.3 1.3 0 1 0 -2.6 0M518.8 10.23a1.3 1.3 0 1 0 2.6 0a1.3 1.3 0 1 0 -2.6 0M521.01 8.26a1.3 1.3 0 1 0 2.6 0a1.3 1.3 0 1 0 -2.6 0M523.22 6.78a1.3 1.3 0 1 0 2.6 0a1.3 1.3 0 1 0 -2.6 0M525.43 6.18a1.3 1.3 0 1 0 2.6 0a1.3 1.3 0 1 0 -2.6 0M527.65 6.04a1.3 1.3 0 1 0 2.6 0a1.3 1.3 0 1 0 -2.6 0M529.86 5.95a1.3 1.3 0 1 0 2.6 0a1.3 1.3 0 1 0 -2.6 0M532.07 5.9a1.3 1.3 0 1 0 2.6 0a1.3 1.3 0 1 0 -2.6 0M534.28 5.97a1.3 1.3 0 1 0 2.6 0a1.3 1.3 0 1 0 -2.6 0M536.49 6.34a1.3 1.3 0 1 0 2.6 0a1.3 1.3 0 1 0 -2.6 0M538.7 6.85a1.3 1.3 0 1 0 2.6 0a1.3 1.3 0 1 0 -2.6 0M540.91 7.37a1.3 1.3 0 1 0 2.6 0a1.3 1.3 0 1 0 -2.6 0M543.13 8.66a1.3 1.3 0 1 0 2.6 0a1.3 1.3 0 1 0 -2.6 0M545.34 9.96a1.3 1.3 0 1 0 2.6 0a1.3 1.3 0 1 0 -2.6 0M547.55 11.23a1.3 1.3 0 1 0 2.6 0a1.3 1.3 0 1 0 -2.6 0M549.76 12.66a1.3 1.3 0 1 0 2.6 0a1.3 1.3 0 1 0 -2.6 0M551.97 14.01a1.3 1.3 0 1 0 2.6 0a1.3 1.3 0 1 0 -2.6 0M554.18 14.67a1.3 1.3 0 1 0 2.6 0a1.3 1.3 0 1 0 -2.6 0M556.4 14.97a1.3 1.3 0 1 0 2.6 0a1.3 1.3 0 1 0 -2.6 0M558.61 15.19a1.3 1.3 0 1 0 2.6 0a1.3 1.3 0 1 0 -2.6 0M560.82 15.29a1.3 1.3 0 1 0 2.6 0a1.3 1.3 0 1 0 -2.6 0M563.03 15.25a1.3 1.3 0 1 0 2.6 0a1.3 1.3 0 1 0 -2.6 0M565.24 15.04a1.3 1.3 0 1 0 2.6 0a1.3 1.3 0 1 0 -2.6 0M567.45 14.72a1.3 1.3 0 1 0 2.6 0a1.3 1.3 0 1 0 -2.6 0M569.67 14.39a1.3 1.3 0 1 0 2.6 0a1.3 1.3 0 1 0 -2.6 0M571.88 14.12a1.3 1.3 0 1 0 2.6 0a1.3 1.3 0 1 0 -2.6 0M574.09 14a1.3 1.3 0 1 0 2.6 0a1.3 1.3 0 1 0 -2.6 0M576.3 13.99a1.3 1.3 0 1 0 2.6 0a1.3 1.3 0 1 0 -2.6 0M578.51 13.97a1.3 1.3 0 1 0 2.6 0a1.3 1.3 0 1 0 -2.6 0M580.72 13.96a1.3 1.3 0 1 0 2.6 0a1.3 1.3 0 1 0 -2.6 0M582.94 13.95a1.3 1.3 0 1 0 2.6 0a1.3 1.3 0 1 0 -2.6 0M585.15 13.94a1.3 1.3 0 1 0 2.6 0a1.3 1.3 0 1 0 -2.6 0M587.36 13.93a1.3 1.3 0 1 0 2.6 0a1.3 1.3 0 1 0 -2.6 0M589.57 13.92a1.3 1.3 0 1 0 2.6 0a1.3 1.3 0 1 0 -2.6 0M591.78 13.91a1.3 1.3 0 1 0 2.6 0a1.3 1.3 0 1 0 -2.6 0M593.99 13.9a1.3 1.3 0 1 0 2.6 0a1.3 1.3 0 1 0 -2.6 0M596.2 13.89a1.3 1.3 0 1 0 2.6 0a1.3 1.3 0 1 0 -2.6 0M598.42 13.88a1.3 1.3 0 1 0 2.6 0a1.3 1.3 0 1 0 -2.6 0M600.63 13.88a1.3 1.3 0 1 0 2.6 0a1.3 1.3 0 1 0 -2.6 0M602.84 13.87a1.3 1.3 0 1 0 2.6 0a1.3 1.3 0 1 0 -2.6 0M605.05 13.86a1.3 1.3 0 1 0 2.6 0a1.3 1.3 0 1 0 -2.6 0M607.26 13.86a1.3 1.3 0 1 0 2.6 0a1.3 1.3 0 1 0 -2.6 0M609.47 13.85a1.3 1.3 0 1 0 2.6 0a1.3 1.3 0 1 0 -2.6 0M611.69 13.84a1.3 1.3 0 1 0 2.6 0a1.3 1.3 0 1 0 -2.6 0M613.9 13.84a1.3 1.3 0 1 0 2.6 0a1.3 1.3 0 1 0 -2.6 0M616.11 13.83a1.3 1.3 0 1 0 2.6 0a1.3 1.3 0 1 0 -2.6 0M618.32 13.83a1.3 1.3 0 1 0 2.6 0a1.3 1.3 0 1 0 -2.6 0M620.53 13.83a1.3 1.3 0 1 0 2.6 0a1.3 1.3 0 1 0 -2.6 0M622.74 13.82a1.3 1.3 0 1 0 2.6 0a1.3 1.3 0 1 0 -2.6 0M624.96 13.82a1.3 1.3 0 1 0 2.6 0a1.3 1.3 0 1 0 -2.6 0M627.17 13.82a1.3 1.3 0 1 0 2.6 0a1.3 1.3 0 1 0 -2.6 0M629.38 13.81a1.3 1.3 0 1 0 2.6 0a1.3 1.3 0 1 0 -2.6 0M631.59 13.81a1.3 1.3 0 1 0 2.6 0a1.3 1.3 0 1 0 -2.6 0M633.8 13.81a1.3 1.3 0 1 0 2.6 0a1.3 1.3 0 1 0 -2.6 0M636.01 13.81a1.3 1.3 0 1 0 2.6 0a1.3 1.3 0 1 0 -2.6 0M638.23 13.81a1.3 1.3 0 1 0 2.6 0a1.3 1.3 0 1 0 -2.6 0M640.44 13.8a1.3 1.3 0 1 0 2.6 0a1.3 1.3 0 1 0 -2.6 0M642.65 13.8a1.3 1.3 0 1 0 2.6 0a1.3 1.3 0 1 0 -2.6 0M644.86 13.8a1.3 1.3 0 1 0 2.6 0a1.3 1.3 0 1 0 -2.6 0M647.07 13.8a1.3 1.3 0 1 0 2.6 0a1.3 1.3 0 1 0 -2.6 0M649.28 13.8a1.3 1.3 0 1 0 2.6 0a1.3 1.3 0 1 0 -2.6 0M651.49 13.8a1.3 1.3 0 1 0 2.6 0a1.3 1.3 0 1 0 -2.6 0M653.71 13.8a1.3 1.3 0 1 0 2.6 0a1.3 1.3 0 1 0 -2.6 0M655.92 13.8a1.3 1.3 0 1 0 2.6 0a1.3 1.3 0 1 0 -2.6 0" fill="none" stroke="#383838" stroke-width="0.65"/><path d="M420.8 50.6 L421.4 50.6 L422 50.6 L422.6 50.6 L423.2 50.6 L423.8 50.6 L424.4 50.6 L425 50.6 L425.6 50.74 L426.2 51.23 L426.8 52.01 L427.4 53 L428 54.12 L428.6 55.31 L429.2 56.49 L429.8 57.58 L430.4 58.51 L431 59.22 L431.6 59.88 L432.2 60.54 L432.8 61.18 L433.4 61.77 L434 62.32 L434.6 62.79 L435.2 63.17 L435.8 63.44 L436.4 63.61 L437 63.77 L437.6 63.92 L438.2 64.05 L438.8 64.18 L439.4 64.3 L440 64.4 L440.6 64.49 L441.2 64.56 L441.8 64.62 L442.4 64.66 L443 64.69 L443.6 64.7 L444.2 64.69 L444.8 64.66 L445.4 64.61 L446 64.54 L446.6 64.45 L447.2 64.36 L447.8 64.25 L448.4 64.13 L449 64.01 L449.6 63.88 L450.2 63.75 L450.8 63.62 L451.4 63.49 L452 63.36 L452.6 63.24 L453.2 63.12 L453.8 63.02 L454.4 62.33 L455 61.58 L455.6 60.84 L456.2 60.06 L456.8 59.22 L457.4 58.24 L458 57.08 L458.6 55.55 L459.2 53.75 L459.8 51.79 L460.4 49.8 L461 47.89 L461.6 46.2 L462.2 44.63 L462.8 43.05 L463.4 41.48 L464 39.96 L464.6 38.52 L465.2 37.2 L465.8 36.02 L466.4 35.02 L467 34.2 L467.6 33.41 L468.2 32.64 L468.8 31.89 L469.4 31.19 L470 30.54 L470.6 29.98 L471.2 29.51 L471.8 29.14 L472.4 28.9 L473 28.8 L473.6 28.8 L474.2 28.8 L474.8 28.8 L475.4 28.8 L476 28.8 L476.6 28.8 L477.2 28.8 L477.8 28.8 L478.4 28.8 L479 28.8 L479.6 28.8 L480.2 28.8 L480.8 28.8 L481.4 28.8 L482 28.8 L482.6 29.26 L483.2 29.75 L483.8 30.24 L484.4 30.82 L485 31.55 L485.6 32.62 L486.2 34.51 L486.8 36.99 L487.4 39.71 L488 42.3 L488.6 44.95 L489.2 47.91 L489.8 50.9 L490.4 53.67 L491 55.95 L491.6 57.51 L492.2 58.72 L492.8 59.89 L493.4 61 L494 62.04 L494.6 63.01 L495.2 63.89 L495.8 64.68 L496.4 65.36 L497 65.93 L497.6 66.38 L498.2 66.69 L498.8 66.87 L499.4 66.9 L500 66.88 L500.6 66.83 L501.2 66.76 L501.8 66.67 L502.4 66.56 L503 66.44 L503.6 66.3 L504.2 66.14 L504.8 65.98 L505.4 65.8 L506 65.62 L506.6 65.44 L507.2 65.25 L507.8 65.06 L508.4 64.87 L509 64.68 L509.6 64.5 L510.2 64.32 L510.8 64.16 L511.4 64 L512 63.71 L512.6 63.2 L513.2 62.73 L513.8 62.23 L514.4 61.64 L515 60.89 L515.6 59.78 L516.2 57.91 L516.8 55.53 L517.4 52.92 L518 50.38 L518.6 48.2 L519.2 46.27 L519.8 44.32 L520.4 42.41 L521 40.6 L521.6 38.93 L522.2 37.46 L522.8 36.24 L523.4 35.26 L524 34.31 L524.6 33.39 L525.2 32.53 L525.8 31.75 L526.4 31.06 L527 30.5 L527.6 30.06 L528.2 29.79 L528.8 29.68 L529.4 29.61 L530 29.55 L530.6 29.5 L531.2 29.45 L531.8 29.4 L532.4 29.36 L533 29.33 L533.6 29.3 L534.2 29.27 L534.8 29.25 L535.4 29.23 L536 29.22 L536.6 29.21 L537.2 29.2 L537.8 29.2 L538.4 29.26 L539 29.37 L539.6 29.54 L540.2 29.76 L540.8 30.02 L541.4 30.32 L542 30.65 L542.6 31.02 L543.2 31.4 L543.8 31.95 L544.4 32.77 L545 33.8 L545.6 34.98 L546.2 36.23 L546.8 37.5 L547.4 38.73 L548 39.87 L548.6 41.08 L549.2 42.36 L549.8 43.64 L550.4 44.91 L551 46.12 L551.6 47.23 L552.2 48.2 L552.8 49.1 L553.4 49.99 L554 50.76 L554.6 51.35 L555.2 51.69 L555.8 51.94 L556.4 52.18 L557 52.4 L557.6 52.61 L558.2 52.79 L558.8 52.96 L559.4 53.1 L560 53.22 L560.6 53.32 L561.2 53.4 L561.8 53.46 L562.4 53.49 L563 53.5 L563.6 53.48 L564.2 53.43 L564.8 53.36 L565.4 53.27 L566 53.16 L566.6 53.03 L567.2 52.89 L567.8 52.74 L568.4 52.58 L569 52.42 L569.6 52.26 L570.2 52.1 L570.8 51.94 L571.4 51.79 L572 51.65 L572.6 51.53 L573.2 51.42 L573.8 51.33 L574.4 51.26 L575 51.21 L575.6 51.2 L576.2 51.19 L576.8 51.17 L577.4 51.16 L578 51.15 L578.6 51.14 L579.2 51.13 L579.8 51.12 L580.4 51.11 L581 51.1 L581.6 51.09 L582.2 51.08 L582.8 51.08 L583.4 51.07 L584 51.06 L584.6 51.05 L585.2 51.04 L585.8 51.03 L586.4 51.02 L587 51.01 L587.6 51 L588.2 51 L588.8 50.99 L589.4 50.98 L590 50.97 L590.6 50.96 L591.2 50.96 L591.8 50.95 L592.4 50.94 L593 50.93 L593.6 50.92 L594.2 50.92 L594.8 50.91 L595.4 50.9 L596 50.9 L596.6 50.89 L597.2 50.88 L597.8 50.88 L598.4 50.87 L599 50.86 L599.6 50.86 L600.2 50.85 L600.8 50.84 L601.4 50.84 L602 50.83 L602.6 50.83 L603.2 50.82 L603.8 50.81 L604.4 50.81 L605 50.8 L605.6 50.8 L606.2 50.79 L606.8 50.79 L607.4 50.78 L608 50.78 L608.6 50.77 L609.2 50.77 L609.8 50.76 L610.4 50.76 L611 50.75 L611.6 50.75 L612.2 50.74 L612.8 50.74 L613.4 50.73 L614 50.73 L614.6 50.73 L615.2 50.72 L615.8 50.72 L616.4 50.71 L617 50.71 L617.6 50.71 L618.2 50.7 L618.8 50.7 L619.4 50.7 L620 50.69 L620.6 50.69 L621.2 50.69 L621.8 50.68 L622.4 50.68 L623 50.68 L623.6 50.67 L624.2 50.67 L624.8 50.67 L625.4 50.67 L626 50.66 L626.6 50.66 L627.2 50.66 L627.8 50.65 L628.4 50.65 L629 50.65 L629.6 50.65 L630.2 50.65 L630.8 50.64 L631.4 50.64 L632 50.64 L632.6 50.64 L633.2 50.64 L633.8 50.63 L634.4 50.63 L635 50.63 L635.6 50.63 L636.2 50.63 L636.8 50.62 L637.4 50.62 L638 50.62 L638.6 50.62 L639.2 50.62 L639.8 50.62 L640.4 50.62 L641 50.62 L641.6 50.61 L642.2 50.61 L642.8 50.61 L643.4 50.61 L644 50.61 L644.6 50.61 L645.2 50.61 L645.8 50.61 L646.4 50.61 L647 50.61 L647.6 50.61 L648.2 50.6 L648.8 50.6 L649.4 50.6 L650 50.6 L650.6 50.6 L651.2 50.6 L651.8 50.6 L652.4 50.6 L653 50.6 L653.6 50.6 L654.2 50.6 L654.8 50.6 L655.4 50.6 L656 50.6 L656.6 50.6 L657.2 50.6 L657.8 50.6" fill="none" stroke="#ee1111" stroke-width="1.65" stroke-linejoin="round"/><path d="M423.7 50.6a1.3 1.3 0 1 0 2.6 0a1.3 1.3 0 1 0 -2.6 0M425.91 52.67a1.3 1.3 0 1 0 2.6 0a1.3 1.3 0 1 0 -2.6 0M428.12 56.91a1.3 1.3 0 1 0 2.6 0a1.3 1.3 0 1 0 -2.6 0M430.33 59.92a1.3 1.3 0 1 0 2.6 0a1.3 1.3 0 1 0 -2.6 0M432.55 62.18a1.3 1.3 0 1 0 2.6 0a1.3 1.3 0 1 0 -2.6 0M434.76 63.52a1.3 1.3 0 1 0 2.6 0a1.3 1.3 0 1 0 -2.6 0M436.97 64.07a1.3 1.3 0 1 0 2.6 0a1.3 1.3 0 1 0 -2.6 0M439.18 64.47a1.3 1.3 0 1 0 2.6 0a1.3 1.3 0 1 0 -2.6 0M441.39 64.68a1.3 1.3 0 1 0 2.6 0a1.3 1.3 0 1 0 -2.6 0M443.6 64.65a1.3 1.3 0 1 0 2.6 0a1.3 1.3 0 1 0 -2.6 0M445.82 64.37a1.3 1.3 0 1 0 2.6 0a1.3 1.3 0 1 0 -2.6 0M448.03 63.94a1.3 1.3 0 1 0 2.6 0a1.3 1.3 0 1 0 -2.6 0M450.24 63.46a1.3 1.3 0 1 0 2.6 0a1.3 1.3 0 1 0 -2.6 0M452.45 63.02a1.3 1.3 0 1 0 2.6 0a1.3 1.3 0 1 0 -2.6 0M454.66 60.38a1.3 1.3 0 1 0 2.6 0a1.3 1.3 0 1 0 -2.6 0M456.87 56.67a1.3 1.3 0 1 0 2.6 0a1.3 1.3 0 1 0 -2.6 0M459.09 49.85a1.3 1.3 0 1 0 2.6 0a1.3 1.3 0 1 0 -2.6 0M461.3 43.58a1.3 1.3 0 1 0 2.6 0a1.3 1.3 0 1 0 -2.6 0M463.51 38.05a1.3 1.3 0 1 0 2.6 0a1.3 1.3 0 1 0 -2.6 0M465.72 34.18a1.3 1.3 0 1 0 2.6 0a1.3 1.3 0 1 0 -2.6 0M467.93 31.38a1.3 1.3 0 1 0 2.6 0a1.3 1.3 0 1 0 -2.6 0M470.14 29.35a1.3 1.3 0 1 0 2.6 0a1.3 1.3 0 1 0 -2.6 0M472.36 28.8a1.3 1.3 0 1 0 2.6 0a1.3 1.3 0 1 0 -2.6 0M474.57 28.8a1.3 1.3 0 1 0 2.6 0a1.3 1.3 0 1 0 -2.6 0M476.78 28.8a1.3 1.3 0 1 0 2.6 0a1.3 1.3 0 1 0 -2.6 0M478.99 28.8a1.3 1.3 0 1 0 2.6 0a1.3 1.3 0 1 0 -2.6 0M481.2 29.17a1.3 1.3 0 1 0 2.6 0a1.3 1.3 0 1 0 -2.6 0M483.41 31.17a1.3 1.3 0 1 0 2.6 0a1.3 1.3 0 1 0 -2.6 0M485.62 37.55a1.3 1.3 0 1 0 2.6 0a1.3 1.3 0 1 0 -2.6 0M487.84 47.59a1.3 1.3 0 1 0 2.6 0a1.3 1.3 0 1 0 -2.6 0M490.05 56.95a1.3 1.3 0 1 0 2.6 0a1.3 1.3 0 1 0 -2.6 0M492.26 61.29a1.3 1.3 0 1 0 2.6 0a1.3 1.3 0 1 0 -2.6 0M494.47 64.64a1.3 1.3 0 1 0 2.6 0a1.3 1.3 0 1 0 -2.6 0M496.68 66.59a1.3 1.3 0 1 0 2.6 0a1.3 1.3 0 1 0 -2.6 0M498.89 66.86a1.3 1.3 0 1 0 2.6 0a1.3 1.3 0 1 0 -2.6 0M501.11 66.56a1.3 1.3 0 1 0 2.6 0a1.3 1.3 0 1 0 -2.6 0M503.32 66.03a1.3 1.3 0 1 0 2.6 0a1.3 1.3 0 1 0 -2.6 0M505.53 65.37a1.3 1.3 0 1 0 2.6 0a1.3 1.3 0 1 0 -2.6 0M507.74 64.67a1.3 1.3 0 1 0 2.6 0a1.3 1.3 0 1 0 -2.6 0M509.95 64.04a1.3 1.3 0 1 0 2.6 0a1.3 1.3 0 1 0 -2.6 0M512.16 62.52a1.3 1.3 0 1 0 2.6 0a1.3 1.3 0 1 0 -2.6 0M514.38 59.58a1.3 1.3 0 1 0 2.6 0a1.3 1.3 0 1 0 -2.6 0M516.59 50.84a1.3 1.3 0 1 0 2.6 0a1.3 1.3 0 1 0 -2.6 0M518.8 43.36a1.3 1.3 0 1 0 2.6 0a1.3 1.3 0 1 0 -2.6 0M521.01 37.21a1.3 1.3 0 1 0 2.6 0a1.3 1.3 0 1 0 -2.6 0M523.22 33.51a1.3 1.3 0 1 0 2.6 0a1.3 1.3 0 1 0 -2.6 0M525.43 30.73a1.3 1.3 0 1 0 2.6 0a1.3 1.3 0 1 0 -2.6 0M527.65 29.66a1.3 1.3 0 1 0 2.6 0a1.3 1.3 0 1 0 -2.6 0M529.86 29.45a1.3 1.3 0 1 0 2.6 0a1.3 1.3 0 1 0 -2.6 0M532.07 29.31a1.3 1.3 0 1 0 2.6 0a1.3 1.3 0 1 0 -2.6 0M534.28 29.22a1.3 1.3 0 1 0 2.6 0a1.3 1.3 0 1 0 -2.6 0M536.49 29.2a1.3 1.3 0 1 0 2.6 0a1.3 1.3 0 1 0 -2.6 0M538.7 29.68a1.3 1.3 0 1 0 2.6 0a1.3 1.3 0 1 0 -2.6 0M540.91 30.78a1.3 1.3 0 1 0 2.6 0a1.3 1.3 0 1 0 -2.6 0M543.13 32.81a1.3 1.3 0 1 0 2.6 0a1.3 1.3 0 1 0 -2.6 0M545.34 37.16a1.3 1.3 0 1 0 2.6 0a1.3 1.3 0 1 0 -2.6 0M547.55 41.61a1.3 1.3 0 1 0 2.6 0a1.3 1.3 0 1 0 -2.6 0M549.76 46.24a1.3 1.3 0 1 0 2.6 0a1.3 1.3 0 1 0 -2.6 0M551.97 49.8a1.3 1.3 0 1 0 2.6 0a1.3 1.3 0 1 0 -2.6 0M554.18 51.81a1.3 1.3 0 1 0 2.6 0a1.3 1.3 0 1 0 -2.6 0M556.4 52.64a1.3 1.3 0 1 0 2.6 0a1.3 1.3 0 1 0 -2.6 0M558.61 53.21a1.3 1.3 0 1 0 2.6 0a1.3 1.3 0 1 0 -2.6 0M560.82 53.48a1.3 1.3 0 1 0 2.6 0a1.3 1.3 0 1 0 -2.6 0M563.03 53.42a1.3 1.3 0 1 0 2.6 0a1.3 1.3 0 1 0 -2.6 0M565.24 53.04a1.3 1.3 0 1 0 2.6 0a1.3 1.3 0 1 0 -2.6 0M567.45 52.49a1.3 1.3 0 1 0 2.6 0a1.3 1.3 0 1 0 -2.6 0M569.67 51.9a1.3 1.3 0 1 0 2.6 0a1.3 1.3 0 1 0 -2.6 0M571.88 51.42a1.3 1.3 0 1 0 2.6 0a1.3 1.3 0 1 0 -2.6 0M574.09 51.2a1.3 1.3 0 1 0 2.6 0a1.3 1.3 0 1 0 -2.6 0M576.3 51.16a1.3 1.3 0 1 0 2.6 0a1.3 1.3 0 1 0 -2.6 0M578.51 51.12a1.3 1.3 0 1 0 2.6 0a1.3 1.3 0 1 0 -2.6 0M580.72 51.09a1.3 1.3 0 1 0 2.6 0a1.3 1.3 0 1 0 -2.6 0M582.94 51.05a1.3 1.3 0 1 0 2.6 0a1.3 1.3 0 1 0 -2.6 0M585.15 51.02a1.3 1.3 0 1 0 2.6 0a1.3 1.3 0 1 0 -2.6 0M587.36 50.99a1.3 1.3 0 1 0 2.6 0a1.3 1.3 0 1 0 -2.6 0M589.57 50.96a1.3 1.3 0 1 0 2.6 0a1.3 1.3 0 1 0 -2.6 0M591.78 50.93a1.3 1.3 0 1 0 2.6 0a1.3 1.3 0 1 0 -2.6 0M593.99 50.9a1.3 1.3 0 1 0 2.6 0a1.3 1.3 0 1 0 -2.6 0M596.2 50.88a1.3 1.3 0 1 0 2.6 0a1.3 1.3 0 1 0 -2.6 0M598.42 50.86a1.3 1.3 0 1 0 2.6 0a1.3 1.3 0 1 0 -2.6 0M600.63 50.83a1.3 1.3 0 1 0 2.6 0a1.3 1.3 0 1 0 -2.6 0M602.84 50.81a1.3 1.3 0 1 0 2.6 0a1.3 1.3 0 1 0 -2.6 0M605.05 50.79a1.3 1.3 0 1 0 2.6 0a1.3 1.3 0 1 0 -2.6 0M607.26 50.77a1.3 1.3 0 1 0 2.6 0a1.3 1.3 0 1 0 -2.6 0M609.47 50.75a1.3 1.3 0 1 0 2.6 0a1.3 1.3 0 1 0 -2.6 0M611.69 50.74a1.3 1.3 0 1 0 2.6 0a1.3 1.3 0 1 0 -2.6 0M613.9 50.72a1.3 1.3 0 1 0 2.6 0a1.3 1.3 0 1 0 -2.6 0M616.11 50.71a1.3 1.3 0 1 0 2.6 0a1.3 1.3 0 1 0 -2.6 0M618.32 50.7a1.3 1.3 0 1 0 2.6 0a1.3 1.3 0 1 0 -2.6 0M620.53 50.68a1.3 1.3 0 1 0 2.6 0a1.3 1.3 0 1 0 -2.6 0M622.74 50.67a1.3 1.3 0 1 0 2.6 0a1.3 1.3 0 1 0 -2.6 0M624.96 50.66a1.3 1.3 0 1 0 2.6 0a1.3 1.3 0 1 0 -2.6 0M627.17 50.65a1.3 1.3 0 1 0 2.6 0a1.3 1.3 0 1 0 -2.6 0M629.38 50.64a1.3 1.3 0 1 0 2.6 0a1.3 1.3 0 1 0 -2.6 0M631.59 50.64a1.3 1.3 0 1 0 2.6 0a1.3 1.3 0 1 0 -2.6 0M633.8 50.63a1.3 1.3 0 1 0 2.6 0a1.3 1.3 0 1 0 -2.6 0M636.01 50.62a1.3 1.3 0 1 0 2.6 0a1.3 1.3 0 1 0 -2.6 0M638.23 50.62a1.3 1.3 0 1 0 2.6 0a1.3 1.3 0 1 0 -2.6 0M640.44 50.61a1.3 1.3 0 1 0 2.6 0a1.3 1.3 0 1 0 -2.6 0M642.65 50.61a1.3 1.3 0 1 0 2.6 0a1.3 1.3 0 1 0 -2.6 0M644.86 50.61a1.3 1.3 0 1 0 2.6 0a1.3 1.3 0 1 0 -2.6 0M647.07 50.6a1.3 1.3 0 1 0 2.6 0a1.3 1.3 0 1 0 -2.6 0M649.28 50.6a1.3 1.3 0 1 0 2.6 0a1.3 1.3 0 1 0 -2.6 0M651.49 50.6a1.3 1.3 0 1 0 2.6 0a1.3 1.3 0 1 0 -2.6 0M653.71 50.6a1.3 1.3 0 1 0 2.6 0a1.3 1.3 0 1 0 -2.6 0M655.92 50.6a1.3 1.3 0 1 0 2.6 0a1.3 1.3 0 1 0 -2.6 0" fill="none" stroke="#383838" stroke-width="0.65"/><path d="M420.8 87.5 L421.4 87.5 L422 87.5 L422.6 87.5 L423.2 87.5 L423.8 87.5 L424.4 87.5 L425 87.5 L425.6 87.56 L426.2 88.03 L426.8 88.85 L427.4 89.89 L428 91.04 L428.6 92.18 L429.2 93.23 L429.8 94.4 L430.4 95.69 L431 97.02 L431.6 98.32 L432.2 99.54 L432.8 100.59 L433.4 101.49 L434 102.39 L434.6 103.28 L435.2 104.14 L435.8 104.93 L436.4 105.64 L437 106.23 L437.6 106.67 L438.2 106.95 L438.8 107.08 L439.4 107.18 L440 107.28 L440.6 107.37 L441.2 107.45 L441.8 107.52 L442.4 107.57 L443 107.62 L443.6 107.66 L444.2 107.68 L444.8 107.7 L445.4 107.7 L446 107.65 L446.6 107.54 L447.2 107.4 L447.8 107.2 L448.4 106.98 L449 106.73 L449.6 106.45 L450.2 106.16 L450.8 105.85 L451.4 105.55 L452 105.25 L452.6 104.95 L453.2 104.68 L453.8 104.42 L454.4 103.84 L455 102.99 L455.6 102.19 L456.2 101.32 L456.8 100.31 L457.4 99.04 L458 97.15 L458.6 94.33 L459.2 91.06 L459.8 87.81 L460.4 85.03 L461 82.5 L461.6 80.05 L462.2 77.69 L462.8 75.38 L463.4 73.08 L464 70.74 L464.6 68.43 L465.2 66.22 L465.8 64.16 L466.4 62.32 L467 60.72 L467.6 59.2 L468.2 57.73 L468.8 56.33 L469.4 55.03 L470 53.86 L470.6 52.83 L471.2 51.97 L471.8 51.3 L472.4 50.75 L473 50.23 L473.6 49.75 L474.2 49.3 L474.8 48.9 L475.4 48.53 L476 48.21 L476.6 47.93 L477.2 47.7 L477.8 47.51 L478.4 47.38 L479 47.28 L479.6 47.19 L480.2 47.12 L480.8 47.06 L481.4 47 L482 46.94 L482.6 46.89 L483.2 46.82 L483.8 47.44 L484.4 48.3 L485 49.19 L485.6 50.32 L486.2 51.94 L486.8 54.87 L487.4 58.88 L488 63.46 L488.6 68.07 L489.2 72.72 L489.8 77.94 L490.4 83.29 L491 88.3 L491.6 92.55 L492.2 96.42 L492.8 100.11 L493.4 103.39 L494 106.02 L494.6 107.83 L495.2 109.38 L495.8 110.8 L496.4 112.04 L497 113.03 L497.6 113.7 L498.2 113.99 L498.8 113.98 L499.4 113.9 L500 113.77 L500.6 113.6 L501.2 113.37 L501.8 113.11 L502.4 112.8 L503 112.47 L503.6 112.1 L504.2 111.7 L504.8 111.29 L505.4 110.85 L506 110.4 L506.6 109.93 L507.2 109.46 L507.8 108.98 L508.4 108.51 L509 108.03 L509.6 107.56 L510.2 107.11 L510.8 106.66 L511.4 106.24 L512 105.84 L512.6 105.46 L513.2 104.19 L513.8 102.82 L514.4 101.47 L515 100.07 L515.6 98.53 L516.2 96.78 L516.8 94.68 L517.4 91.88 L518 88.52 L518.6 84.8 L519.2 80.93 L519.8 77.11 L520.4 73.54 L521 70.44 L521.6 68 L522.2 66.05 L522.8 64.26 L523.4 62.61 L524 61.1 L524.6 59.71 L525.2 58.42 L525.8 57.22 L526.4 56.1 L527 55 L527.6 53.9 L528.2 52.83 L528.8 51.8 L529.4 50.85 L530 49.99 L530.6 49.27 L531.2 48.69 L531.8 48.29 L532.4 48.05 L533 47.83 L533.6 47.62 L534.2 47.43 L534.8 47.26 L535.4 47.1 L536 46.95 L536.6 46.83 L537.2 46.72 L537.8 46.64 L538.4 46.57 L539 46.53 L539.6 46.5 L540.2 46.52 L540.8 46.65 L541.4 46.91 L542 47.26 L542.6 47.7 L543.2 48.2 L543.8 49.09 L544.4 50.57 L545 52.48 L545.6 54.64 L546.2 56.87 L546.8 59.01 L547.4 61.31 L548 63.8 L548.6 66.41 L549.2 69.2 L549.8 72.33 L550.4 75.41 L551 78 L551.6 80.19 L552.2 82.31 L552.8 84.25 L553.4 85.92 L554 87.24 L554.6 88.12 L555.2 88.8 L555.8 89.44 L556.4 90.03 L557 90.58 L557.6 91.07 L558.2 91.5 L558.8 91.87 L559.4 92.17 L560 92.4 L560.6 92.54 L561.2 92.6 L561.8 92.59 L562.4 92.56 L563 92.5 L563.6 92.42 L564.2 92.32 L564.8 92.2 L565.4 92.07 L566 91.92 L566.6 91.77 L567.2 91.61 L567.8 91.44 L568.4 91.27 L569 91.1 L569.6 90.93 L570.2 90.77 L570.8 90.61 L571.4 90.46 L572 90.32 L572.6 90.19 L573.2 90.04 L573.8 89.88 L574.4 89.71 L575 89.54 L575.6 89.37 L576.2 89.19 L576.8 89.02 L577.4 88.85 L578 88.68 L578.6 88.53 L579.2 88.39 L579.8 88.26 L580.4 88.14 L581 88.05 L581.6 87.98 L582.2 87.93 L582.8 87.9 L583.4 87.89 L584 87.89 L584.6 87.88 L585.2 87.88 L585.8 87.87 L586.4 87.87 L587 87.86 L587.6 87.85 L588.2 87.85 L588.8 87.84 L589.4 87.84 L590 87.83 L590.6 87.83 L591.2 87.82 L591.8 87.82 L592.4 87.81 L593 87.81 L593.6 87.8 L594.2 87.8 L594.8 87.79 L595.4 87.79 L596 87.78 L596.6 87.78 L597.2 87.77 L597.8 87.77 L598.4 87.77 L599 87.76 L599.6 87.76 L600.2 87.75 L600.8 87.75 L601.4 87.75 L602 87.74 L602.6 87.74 L603.2 87.73 L603.8 87.73 L604.4 87.73 L605 87.72 L605.6 87.72 L606.2 87.72 L606.8 87.71 L607.4 87.71 L608 87.71 L608.6 87.7 L609.2 87.7 L609.8 87.7 L610.4 87.69 L611 87.69 L611.6 87.69 L612.2 87.69 L612.8 87.68 L613.4 87.68 L614 87.68 L614.6 87.68 L615.2 87.67 L615.8 87.67 L616.4 87.67 L617 87.67 L617.6 87.66 L618.2 87.66 L618.8 87.66 L619.4 87.66 L620 87.65 L620.6 87.65 L621.2 87.65 L621.8 87.65 L622.4 87.65 L623 87.64 L623.6 87.64 L624.2 87.64 L624.8 87.64 L625.4 87.64 L626 87.64 L626.6 87.63 L627.2 87.63 L627.8 87.63 L628.4 87.63 L629 87.63 L629.6 87.63 L630.2 87.63 L630.8 87.62 L631.4 87.62 L632 87.62 L632.6 87.62 L633.2 87.62 L633.8 87.62 L634.4 87.62 L635 87.62 L635.6 87.62 L636.2 87.61 L636.8 87.61 L637.4 87.61 L638 87.61 L638.6 87.61 L639.2 87.61 L639.8 87.61 L640.4 87.61 L641 87.61 L641.6 87.61 L642.2 87.61 L642.8 87.61 L643.4 87.61 L644 87.61 L644.6 87.6 L645.2 87.6 L645.8 87.6 L646.4 87.6 L647 87.6 L647.6 87.6 L648.2 87.6 L648.8 87.6 L649.4 87.6 L650 87.6 L650.6 87.6 L651.2 87.6 L651.8 87.6 L652.4 87.6 L653 87.6 L653.6 87.6 L654.2 87.6 L654.8 87.6 L655.4 87.6 L656 87.6 L656.6 87.6 L657.2 87.6 L657.8 87.6" fill="none" stroke="#ee1111" stroke-width="1.65" stroke-linejoin="round"/><path d="M423.7 87.5a1.3 1.3 0 1 0 2.6 0a1.3 1.3 0 1 0 -2.6 0M425.91 89.55a1.3 1.3 0 1 0 2.6 0a1.3 1.3 0 1 0 -2.6 0M428.12 93.66a1.3 1.3 0 1 0 2.6 0a1.3 1.3 0 1 0 -2.6 0M430.33 98.44a1.3 1.3 0 1 0 2.6 0a1.3 1.3 0 1 0 -2.6 0M432.55 102.29a1.3 1.3 0 1 0 2.6 0a1.3 1.3 0 1 0 -2.6 0M434.76 105.55a1.3 1.3 0 1 0 2.6 0a1.3 1.3 0 1 0 -2.6 0M436.97 107.58a1.3 1.3 0 1 0 2.6 0a1.3 1.3 0 1 0 -2.6 0M439.18 108.35a1.3 1.3 0 1 0 2.6 0a1.3 1.3 0 1 0 -2.6 0M441.39 108.95a1.3 1.3 0 1 0 2.6 0a1.3 1.3 0 1 0 -2.6 0M443.6 109.2a1.3 1.3 0 1 0 2.6 0a1.3 1.3 0 1 0 -2.6 0M445.82 108.79a1.3 1.3 0 1 0 2.6 0a1.3 1.3 0 1 0 -2.6 0M448.03 107.61a1.3 1.3 0 1 0 2.6 0a1.3 1.3 0 1 0 -2.6 0M450.24 106.12a1.3 1.3 0 1 0 2.6 0a1.3 1.3 0 1 0 -2.6 0M452.45 104.76a1.3 1.3 0 1 0 2.6 0a1.3 1.3 0 1 0 -2.6 0M454.66 101.81a1.3 1.3 0 1 0 2.6 0a1.3 1.3 0 1 0 -2.6 0M456.87 96.45a1.3 1.3 0 1 0 2.6 0a1.3 1.3 0 1 0 -2.6 0M459.09 85.11a1.3 1.3 0 1 0 2.6 0a1.3 1.3 0 1 0 -2.6 0M461.3 76.16a1.3 1.3 0 1 0 2.6 0a1.3 1.3 0 1 0 -2.6 0M463.51 67.65a1.3 1.3 0 1 0 2.6 0a1.3 1.3 0 1 0 -2.6 0M465.72 60.67a1.3 1.3 0 1 0 2.6 0a1.3 1.3 0 1 0 -2.6 0M467.93 55.39a1.3 1.3 0 1 0 2.6 0a1.3 1.3 0 1 0 -2.6 0M470.14 51.67a1.3 1.3 0 1 0 2.6 0a1.3 1.3 0 1 0 -2.6 0M472.36 49.71a1.3 1.3 0 1 0 2.6 0a1.3 1.3 0 1 0 -2.6 0M474.57 48.28a1.3 1.3 0 1 0 2.6 0a1.3 1.3 0 1 0 -2.6 0M476.78 47.45a1.3 1.3 0 1 0 2.6 0a1.3 1.3 0 1 0 -2.6 0M478.99 47.11a1.3 1.3 0 1 0 2.6 0a1.3 1.3 0 1 0 -2.6 0M481.2 46.9a1.3 1.3 0 1 0 2.6 0a1.3 1.3 0 1 0 -2.6 0M483.41 48.75a1.3 1.3 0 1 0 2.6 0a1.3 1.3 0 1 0 -2.6 0M485.62 55.63a1.3 1.3 0 1 0 2.6 0a1.3 1.3 0 1 0 -2.6 0M487.84 72.21a1.3 1.3 0 1 0 2.6 0a1.3 1.3 0 1 0 -2.6 0M490.05 90.93a1.3 1.3 0 1 0 2.6 0a1.3 1.3 0 1 0 -2.6 0M492.26 104.31a1.3 1.3 0 1 0 2.6 0a1.3 1.3 0 1 0 -2.6 0M494.47 111.1a1.3 1.3 0 1 0 2.6 0a1.3 1.3 0 1 0 -2.6 0M496.68 114.68a1.3 1.3 0 1 0 2.6 0a1.3 1.3 0 1 0 -2.6 0M498.89 114.98a1.3 1.3 0 1 0 2.6 0a1.3 1.3 0 1 0 -2.6 0M501.11 114.55a1.3 1.3 0 1 0 2.6 0a1.3 1.3 0 1 0 -2.6 0M503.32 113.41a1.3 1.3 0 1 0 2.6 0a1.3 1.3 0 1 0 -2.6 0M505.53 111.62a1.3 1.3 0 1 0 2.6 0a1.3 1.3 0 1 0 -2.6 0M507.74 109.44a1.3 1.3 0 1 0 2.6 0a1.3 1.3 0 1 0 -2.6 0M509.95 107.26a1.3 1.3 0 1 0 2.6 0a1.3 1.3 0 1 0 -2.6 0M512.16 104.05a1.3 1.3 0 1 0 2.6 0a1.3 1.3 0 1 0 -2.6 0M514.38 98.52a1.3 1.3 0 1 0 2.6 0a1.3 1.3 0 1 0 -2.6 0M516.59 89.26a1.3 1.3 0 1 0 2.6 0a1.3 1.3 0 1 0 -2.6 0M518.8 75.31a1.3 1.3 0 1 0 2.6 0a1.3 1.3 0 1 0 -2.6 0M521.01 65.71a1.3 1.3 0 1 0 2.6 0a1.3 1.3 0 1 0 -2.6 0M523.22 59.88a1.3 1.3 0 1 0 2.6 0a1.3 1.3 0 1 0 -2.6 0M525.43 55.49a1.3 1.3 0 1 0 2.6 0a1.3 1.3 0 1 0 -2.6 0M527.65 51.56a1.3 1.3 0 1 0 2.6 0a1.3 1.3 0 1 0 -2.6 0M529.86 48.73a1.3 1.3 0 1 0 2.6 0a1.3 1.3 0 1 0 -2.6 0M532.07 47.7a1.3 1.3 0 1 0 2.6 0a1.3 1.3 0 1 0 -2.6 0M534.28 47.05a1.3 1.3 0 1 0 2.6 0a1.3 1.3 0 1 0 -2.6 0M536.49 46.64a1.3 1.3 0 1 0 2.6 0a1.3 1.3 0 1 0 -2.6 0M538.7 46.5a1.3 1.3 0 1 0 2.6 0a1.3 1.3 0 1 0 -2.6 0M540.91 47.41a1.3 1.3 0 1 0 2.6 0a1.3 1.3 0 1 0 -2.6 0M543.13 50.65a1.3 1.3 0 1 0 2.6 0a1.3 1.3 0 1 0 -2.6 0M545.34 58.43a1.3 1.3 0 1 0 2.6 0a1.3 1.3 0 1 0 -2.6 0M547.55 67.52a1.3 1.3 0 1 0 2.6 0a1.3 1.3 0 1 0 -2.6 0M549.76 78.22a1.3 1.3 0 1 0 2.6 0a1.3 1.3 0 1 0 -2.6 0M551.97 85.59a1.3 1.3 0 1 0 2.6 0a1.3 1.3 0 1 0 -2.6 0M554.18 89.1a1.3 1.3 0 1 0 2.6 0a1.3 1.3 0 1 0 -2.6 0M556.4 91.14a1.3 1.3 0 1 0 2.6 0a1.3 1.3 0 1 0 -2.6 0M558.61 92.37a1.3 1.3 0 1 0 2.6 0a1.3 1.3 0 1 0 -2.6 0M560.82 92.57a1.3 1.3 0 1 0 2.6 0a1.3 1.3 0 1 0 -2.6 0M563.03 92.29a1.3 1.3 0 1 0 2.6 0a1.3 1.3 0 1 0 -2.6 0M565.24 91.79a1.3 1.3 0 1 0 2.6 0a1.3 1.3 0 1 0 -2.6 0M567.45 91.17a1.3 1.3 0 1 0 2.6 0a1.3 1.3 0 1 0 -2.6 0M569.67 90.57a1.3 1.3 0 1 0 2.6 0a1.3 1.3 0 1 0 -2.6 0M571.88 90.04a1.3 1.3 0 1 0 2.6 0a1.3 1.3 0 1 0 -2.6 0M574.09 89.43a1.3 1.3 0 1 0 2.6 0a1.3 1.3 0 1 0 -2.6 0M576.3 88.79a1.3 1.3 0 1 0 2.6 0a1.3 1.3 0 1 0 -2.6 0M578.51 88.26a1.3 1.3 0 1 0 2.6 0a1.3 1.3 0 1 0 -2.6 0M580.72 87.94a1.3 1.3 0 1 0 2.6 0a1.3 1.3 0 1 0 -2.6 0M582.94 87.89a1.3 1.3 0 1 0 2.6 0a1.3 1.3 0 1 0 -2.6 0M585.15 87.86a1.3 1.3 0 1 0 2.6 0a1.3 1.3 0 1 0 -2.6 0M587.36 87.84a1.3 1.3 0 1 0 2.6 0a1.3 1.3 0 1 0 -2.6 0M589.57 87.82a1.3 1.3 0 1 0 2.6 0a1.3 1.3 0 1 0 -2.6 0M591.78 87.81a1.3 1.3 0 1 0 2.6 0a1.3 1.3 0 1 0 -2.6 0M593.99 87.79a1.3 1.3 0 1 0 2.6 0a1.3 1.3 0 1 0 -2.6 0M596.2 87.77a1.3 1.3 0 1 0 2.6 0a1.3 1.3 0 1 0 -2.6 0M598.42 87.76a1.3 1.3 0 1 0 2.6 0a1.3 1.3 0 1 0 -2.6 0M600.63 87.74a1.3 1.3 0 1 0 2.6 0a1.3 1.3 0 1 0 -2.6 0M602.84 87.73a1.3 1.3 0 1 0 2.6 0a1.3 1.3 0 1 0 -2.6 0M605.05 87.72a1.3 1.3 0 1 0 2.6 0a1.3 1.3 0 1 0 -2.6 0M607.26 87.7a1.3 1.3 0 1 0 2.6 0a1.3 1.3 0 1 0 -2.6 0M609.47 87.69a1.3 1.3 0 1 0 2.6 0a1.3 1.3 0 1 0 -2.6 0M611.69 87.68a1.3 1.3 0 1 0 2.6 0a1.3 1.3 0 1 0 -2.6 0M613.9 87.67a1.3 1.3 0 1 0 2.6 0a1.3 1.3 0 1 0 -2.6 0M616.11 87.66a1.3 1.3 0 1 0 2.6 0a1.3 1.3 0 1 0 -2.6 0M618.32 87.66a1.3 1.3 0 1 0 2.6 0a1.3 1.3 0 1 0 -2.6 0M620.53 87.65a1.3 1.3 0 1 0 2.6 0a1.3 1.3 0 1 0 -2.6 0M622.74 87.64a1.3 1.3 0 1 0 2.6 0a1.3 1.3 0 1 0 -2.6 0M624.96 87.64a1.3 1.3 0 1 0 2.6 0a1.3 1.3 0 1 0 -2.6 0M627.17 87.63a1.3 1.3 0 1 0 2.6 0a1.3 1.3 0 1 0 -2.6 0M629.38 87.62a1.3 1.3 0 1 0 2.6 0a1.3 1.3 0 1 0 -2.6 0M631.59 87.62a1.3 1.3 0 1 0 2.6 0a1.3 1.3 0 1 0 -2.6 0M633.8 87.62a1.3 1.3 0 1 0 2.6 0a1.3 1.3 0 1 0 -2.6 0M636.01 87.61a1.3 1.3 0 1 0 2.6 0a1.3 1.3 0 1 0 -2.6 0M638.23 87.61a1.3 1.3 0 1 0 2.6 0a1.3 1.3 0 1 0 -2.6 0M640.44 87.61a1.3 1.3 0 1 0 2.6 0a1.3 1.3 0 1 0 -2.6 0M642.65 87.61a1.3 1.3 0 1 0 2.6 0a1.3 1.3 0 1 0 -2.6 0M644.86 87.6a1.3 1.3 0 1 0 2.6 0a1.3 1.3 0 1 0 -2.6 0M647.07 87.6a1.3 1.3 0 1 0 2.6 0a1.3 1.3 0 1 0 -2.6 0M649.28 87.6a1.3 1.3 0 1 0 2.6 0a1.3 1.3 0 1 0 -2.6 0M651.49 87.6a1.3 1.3 0 1 0 2.6 0a1.3 1.3 0 1 0 -2.6 0M653.71 87.6a1.3 1.3 0 1 0 2.6 0a1.3 1.3 0 1 0 -2.6 0M655.92 87.6a1.3 1.3 0 1 0 2.6 0a1.3 1.3 0 1 0 -2.6 0" fill="none" stroke="#383838" stroke-width="0.65"/><path d="M420.8 124 L421.4 124 L422 124 L422.6 124 L423.2 124 L423.8 124 L424.4 124 L425 124 L425.6 124.08 L426.2 124.69 L426.8 125.76 L427.4 127.12 L428 128.62 L428.6 130.11 L429.2 131.5 L429.8 133.08 L430.4 134.83 L431 136.64 L431.6 138.39 L432.2 139.99 L432.8 141.33 L433.4 142.4 L434 143.47 L434.6 144.51 L435.2 145.51 L435.8 146.42 L436.4 147.2 L437 147.83 L437.6 148.27 L438.2 148.49 L438.8 148.5 L439.4 148.5 L440 148.5 L440.6 148.5 L441.2 148.5 L441.8 148.5 L442.4 148.5 L443 148.5 L443.6 148.5 L444.2 148.5 L444.8 148.5 L445.4 148.5 L446 148.45 L446.6 148.34 L447.2 148.2 L447.8 148 L448.4 147.78 L449 147.53 L449.6 147.25 L450.2 146.96 L450.8 146.65 L451.4 146.35 L452 146.05 L452.6 145.75 L453.2 145.48 L453.8 145.22 L454.4 144.22 L455 142.54 L455.6 140.89 L456.2 139.2 L456.8 137.35 L457.4 135.28 L458 132.8 L458.6 129.87 L459.2 126.68 L459.8 123.41 L460.4 120.25 L461 116.97 L461.6 113.56 L462.2 110.13 L462.8 106.79 L463.4 103.63 L464 100.78 L464.6 98.29 L465.2 95.97 L465.8 93.79 L466.4 91.74 L467 89.83 L467.6 88.05 L468.2 86.42 L468.8 84.91 L469.4 83.54 L470 82.26 L470.6 81.06 L471.2 79.92 L471.8 78.8 L472.4 77.69 L473 76.57 L473.6 75.4 L474.2 74.15 L474.8 72.77 L475.4 71.37 L476 70.09 L476.6 69.02 L477.2 68.29 L477.8 67.71 L478.4 67.2 L479 66.75 L479.6 66.35 L480.2 65.98 L480.8 65.64 L481.4 65.3 L482 64.97 L482.6 64.62 L483.2 64.24 L483.8 65.28 L484.4 66.89 L485 68.62 L485.6 70.81 L486.2 74.05 L486.8 78.96 L487.4 84.89 L488 91.48 L488.6 99.83 L489.2 108.31 L489.8 115 L490.4 120.63 L491 125.74 L491.6 130.33 L492.2 134.38 L492.8 137.93 L493.4 141.18 L494 144.14 L494.6 146.75 L495.2 148.96 L495.8 150.86 L496.4 152.76 L497 154.46 L497.6 155.71 L498.2 156.29 L498.8 156.27 L499.4 156.17 L500 156 L500.6 155.76 L501.2 155.46 L501.8 155.11 L502.4 154.7 L503 154.25 L503.6 153.76 L504.2 153.23 L504.8 152.67 L505.4 152.09 L506 151.48 L506.6 150.86 L507.2 150.23 L507.8 149.59 L508.4 148.95 L509 148.32 L509.6 147.69 L510.2 147.08 L510.8 146.49 L511.4 145.92 L512 145.38 L512.6 144.88 L513.2 143.72 L513.8 142.5 L514.4 141.3 L515 140.06 L515.6 138.68 L516.2 137.09 L516.8 135.2 L517.4 132.81 L518 130.01 L518.6 126.9 L519.2 123.6 L519.8 120.23 L520.4 116.9 L521 113.36 L521.6 109.44 L522.2 105.38 L522.8 101.41 L523.4 97.76 L524 94.67 L524.6 92.19 L525.2 89.91 L525.8 87.78 L526.4 85.79 L527 83.94 L527.6 82.21 L528.2 80.61 L528.8 79.13 L529.4 77.76 L530 76.5 L530.6 75.32 L531.2 74.19 L531.8 73.13 L532.4 72.13 L533 71.22 L533.6 70.38 L534.2 69.64 L534.8 68.99 L535.4 68.44 L536 67.94 L536.6 67.49 L537.2 67.07 L537.8 66.69 L538.4 66.33 L539 65.99 L539.6 65.66 L540.2 65.32 L540.8 64.99 L541.4 64.64 L542 64.26 L542.6 65.08 L543.2 66.03 L543.8 67.04 L544.4 68.24 L545 69.8 L545.6 72.38 L546.2 76.04 L546.8 80.47 L547.4 85.34 L548 90.36 L548.6 95.19 L549.2 99.53 L549.8 103.14 L550.4 106.69 L551 110.29 L551.6 113.77 L552.2 116.98 L552.8 119.76 L553.4 121.93 L554 123.35 L554.6 124.17 L555.2 124.92 L555.8 125.62 L556.4 126.26 L557 126.84 L557.6 127.36 L558.2 127.8 L558.8 128.18 L559.4 128.48 L560 128.7 L560.6 128.84 L561.2 128.9 L561.8 128.89 L562.4 128.87 L563 128.83 L563.6 128.77 L564.2 128.7 L564.8 128.62 L565.4 128.52 L566 128.42 L566.6 128.31 L567.2 128.19 L567.8 128.06 L568.4 127.93 L569 127.8 L569.6 127.66 L570.2 127.52 L570.8 127.39 L571.4 127.25 L572 127.12 L572.6 126.98 L573.2 126.82 L573.8 126.63 L574.4 126.43 L575 126.21 L575.6 125.98 L576.2 125.74 L576.8 125.51 L577.4 125.27 L578 125.04 L578.6 124.82 L579.2 124.61 L579.8 124.43 L580.4 124.26 L581 124.12 L581.6 124.01 L582.2 123.94 L582.8 123.9 L583.4 123.89 L584 123.88 L584.6 123.88 L585.2 123.87 L585.8 123.86 L586.4 123.85 L587 123.85 L587.6 123.84 L588.2 123.83 L588.8 123.82 L589.4 123.82 L590 123.81 L590.6 123.8 L591.2 123.8 L591.8 123.79 L592.4 123.78 L593 123.78 L593.6 123.77 L594.2 123.76 L594.8 123.76 L595.4 123.75 L596 123.74 L596.6 123.74 L597.2 123.73 L597.8 123.73 L598.4 123.72 L599 123.72 L599.6 123.71 L600.2 123.7 L600.8 123.7 L601.4 123.69 L602 123.69 L602.6 123.68 L603.2 123.68 L603.8 123.67 L604.4 123.67 L605 123.66 L605.6 123.66 L606.2 123.66 L606.8 123.65 L607.4 123.65 L608 123.64 L608.6 123.64 L609.2 123.63 L609.8 123.63 L610.4 123.63 L611 123.62 L611.6 123.62 L612.2 123.61 L612.8 123.61 L613.4 123.61 L614 123.6 L614.6 123.6 L615.2 123.6 L615.8 123.59 L616.4 123.59 L617 123.59 L617.6 123.58 L618.2 123.58 L618.8 123.58 L619.4 123.58 L620 123.57 L620.6 123.57 L621.2 123.57 L621.8 123.56 L622.4 123.56 L623 123.56 L623.6 123.56 L624.2 123.55 L624.8 123.55 L625.4 123.55 L626 123.55 L626.6 123.55 L627.2 123.54 L627.8 123.54 L628.4 123.54 L629 123.54 L629.6 123.54 L630.2 123.53 L630.8 123.53 L631.4 123.53 L632 123.53 L632.6 123.53 L633.2 123.53 L633.8 123.52 L634.4 123.52 L635 123.52 L635.6 123.52 L636.2 123.52 L636.8 123.52 L637.4 123.52 L638 123.52 L638.6 123.51 L639.2 123.51 L639.8 123.51 L640.4 123.51 L641 123.51 L641.6 123.51 L642.2 123.51 L642.8 123.51 L643.4 123.51 L644 123.51 L644.6 123.51 L645.2 123.51 L645.8 123.51 L646.4 123.5 L647 123.5 L647.6 123.5 L648.2 123.5 L648.8 123.5 L649.4 123.5 L650 123.5 L650.6 123.5 L651.2 123.5 L651.8 123.5 L652.4 123.5 L653 123.5 L653.6 123.5 L654.2 123.5 L654.8 123.5 L655.4 123.5 L656 123.5 L656.6 123.5 L657.2 123.5 L657.8 123.5" fill="none" stroke="#ee1111" stroke-width="1.65" stroke-linejoin="round"/><path d="M423.7 124a1.3 1.3 0 1 0 2.6 0a1.3 1.3 0 1 0 -2.6 0M425.91 126.67a1.3 1.3 0 1 0 2.6 0a1.3 1.3 0 1 0 -2.6 0M428.12 132.07a1.3 1.3 0 1 0 2.6 0a1.3 1.3 0 1 0 -2.6 0M430.33 138.53a1.3 1.3 0 1 0 2.6 0a1.3 1.3 0 1 0 -2.6 0M432.55 143.32a1.3 1.3 0 1 0 2.6 0a1.3 1.3 0 1 0 -2.6 0M434.76 147.07a1.3 1.3 0 1 0 2.6 0a1.3 1.3 0 1 0 -2.6 0M436.97 149.1a1.3 1.3 0 1 0 2.6 0a1.3 1.3 0 1 0 -2.6 0M439.18 149.5a1.3 1.3 0 1 0 2.6 0a1.3 1.3 0 1 0 -2.6 0M441.39 149.85a1.3 1.3 0 1 0 2.6 0a1.3 1.3 0 1 0 -2.6 0M443.6 150a1.3 1.3 0 1 0 2.6 0a1.3 1.3 0 1 0 -2.6 0M445.82 149.59a1.3 1.3 0 1 0 2.6 0a1.3 1.3 0 1 0 -2.6 0M448.03 148.41a1.3 1.3 0 1 0 2.6 0a1.3 1.3 0 1 0 -2.6 0M450.24 146.92a1.3 1.3 0 1 0 2.6 0a1.3 1.3 0 1 0 -2.6 0M452.45 145.56a1.3 1.3 0 1 0 2.6 0a1.3 1.3 0 1 0 -2.6 0M454.66 140.02a1.3 1.3 0 1 0 2.6 0a1.3 1.3 0 1 0 -2.6 0M456.87 132.04a1.3 1.3 0 1 0 2.6 0a1.3 1.3 0 1 0 -2.6 0M459.09 120.34a1.3 1.3 0 1 0 2.6 0a1.3 1.3 0 1 0 -2.6 0M461.3 107.9a1.3 1.3 0 1 0 2.6 0a1.3 1.3 0 1 0 -2.6 0M463.51 97.47a1.3 1.3 0 1 0 2.6 0a1.3 1.3 0 1 0 -2.6 0M465.72 89.77a1.3 1.3 0 1 0 2.6 0a1.3 1.3 0 1 0 -2.6 0M467.93 83.91a1.3 1.3 0 1 0 2.6 0a1.3 1.3 0 1 0 -2.6 0M470.14 79.46a1.3 1.3 0 1 0 2.6 0a1.3 1.3 0 1 0 -2.6 0M472.36 75.29a1.3 1.3 0 1 0 2.6 0a1.3 1.3 0 1 0 -2.6 0M474.57 70.36a1.3 1.3 0 1 0 2.6 0a1.3 1.3 0 1 0 -2.6 0M476.78 67.46a1.3 1.3 0 1 0 2.6 0a1.3 1.3 0 1 0 -2.6 0M478.99 65.93a1.3 1.3 0 1 0 2.6 0a1.3 1.3 0 1 0 -2.6 0M481.2 64.67a1.3 1.3 0 1 0 2.6 0a1.3 1.3 0 1 0 -2.6 0M483.41 67.76a1.3 1.3 0 1 0 2.6 0a1.3 1.3 0 1 0 -2.6 0M485.62 80.14a1.3 1.3 0 1 0 2.6 0a1.3 1.3 0 1 0 -2.6 0M487.84 107.49a1.3 1.3 0 1 0 2.6 0a1.3 1.3 0 1 0 -2.6 0M490.05 128.54a1.3 1.3 0 1 0 2.6 0a1.3 1.3 0 1 0 -2.6 0M492.26 142.22a1.3 1.3 0 1 0 2.6 0a1.3 1.3 0 1 0 -2.6 0M494.47 151.32a1.3 1.3 0 1 0 2.6 0a1.3 1.3 0 1 0 -2.6 0M496.68 157.29a1.3 1.3 0 1 0 2.6 0a1.3 1.3 0 1 0 -2.6 0M498.89 157.82a1.3 1.3 0 1 0 2.6 0a1.3 1.3 0 1 0 -2.6 0M501.11 157.32a1.3 1.3 0 1 0 2.6 0a1.3 1.3 0 1 0 -2.6 0M503.32 155.84a1.3 1.3 0 1 0 2.6 0a1.3 1.3 0 1 0 -2.6 0M505.53 153.43a1.3 1.3 0 1 0 2.6 0a1.3 1.3 0 1 0 -2.6 0M507.74 150.44a1.3 1.3 0 1 0 2.6 0a1.3 1.3 0 1 0 -2.6 0M509.95 147.43a1.3 1.3 0 1 0 2.6 0a1.3 1.3 0 1 0 -2.6 0M512.16 143.89a1.3 1.3 0 1 0 2.6 0a1.3 1.3 0 1 0 -2.6 0M514.38 138.8a1.3 1.3 0 1 0 2.6 0a1.3 1.3 0 1 0 -2.6 0M516.59 130.67a1.3 1.3 0 1 0 2.6 0a1.3 1.3 0 1 0 -2.6 0M518.8 118.59a1.3 1.3 0 1 0 2.6 0a1.3 1.3 0 1 0 -2.6 0M521.01 104.64a1.3 1.3 0 1 0 2.6 0a1.3 1.3 0 1 0 -2.6 0M523.22 92.5a1.3 1.3 0 1 0 2.6 0a1.3 1.3 0 1 0 -2.6 0M525.43 84.74a1.3 1.3 0 1 0 2.6 0a1.3 1.3 0 1 0 -2.6 0M527.65 78.79a1.3 1.3 0 1 0 2.6 0a1.3 1.3 0 1 0 -2.6 0M529.86 74.27a1.3 1.3 0 1 0 2.6 0a1.3 1.3 0 1 0 -2.6 0M532.07 70.69a1.3 1.3 0 1 0 2.6 0a1.3 1.3 0 1 0 -2.6 0M534.28 68.28a1.3 1.3 0 1 0 2.6 0a1.3 1.3 0 1 0 -2.6 0M536.49 66.7a1.3 1.3 0 1 0 2.6 0a1.3 1.3 0 1 0 -2.6 0M538.7 65.43a1.3 1.3 0 1 0 2.6 0a1.3 1.3 0 1 0 -2.6 0M540.91 64.41a1.3 1.3 0 1 0 2.6 0a1.3 1.3 0 1 0 -2.6 0M543.13 68.3a1.3 1.3 0 1 0 2.6 0a1.3 1.3 0 1 0 -2.6 0M545.34 79.22a1.3 1.3 0 1 0 2.6 0a1.3 1.3 0 1 0 -2.6 0M547.55 97.07a1.3 1.3 0 1 0 2.6 0a1.3 1.3 0 1 0 -2.6 0M549.76 110.65a1.3 1.3 0 1 0 2.6 0a1.3 1.3 0 1 0 -2.6 0M551.97 121.53a1.3 1.3 0 1 0 2.6 0a1.3 1.3 0 1 0 -2.6 0M554.18 125.26a1.3 1.3 0 1 0 2.6 0a1.3 1.3 0 1 0 -2.6 0M556.4 127.43a1.3 1.3 0 1 0 2.6 0a1.3 1.3 0 1 0 -2.6 0M558.61 128.67a1.3 1.3 0 1 0 2.6 0a1.3 1.3 0 1 0 -2.6 0M560.82 128.88a1.3 1.3 0 1 0 2.6 0a1.3 1.3 0 1 0 -2.6 0M563.03 128.68a1.3 1.3 0 1 0 2.6 0a1.3 1.3 0 1 0 -2.6 0M565.24 128.32a1.3 1.3 0 1 0 2.6 0a1.3 1.3 0 1 0 -2.6 0M567.45 127.85a1.3 1.3 0 1 0 2.6 0a1.3 1.3 0 1 0 -2.6 0M569.67 127.35a1.3 1.3 0 1 0 2.6 0a1.3 1.3 0 1 0 -2.6 0M571.88 126.83a1.3 1.3 0 1 0 2.6 0a1.3 1.3 0 1 0 -2.6 0M574.09 126.06a1.3 1.3 0 1 0 2.6 0a1.3 1.3 0 1 0 -2.6 0M576.3 125.19a1.3 1.3 0 1 0 2.6 0a1.3 1.3 0 1 0 -2.6 0M578.51 124.42a1.3 1.3 0 1 0 2.6 0a1.3 1.3 0 1 0 -2.6 0M580.72 123.96a1.3 1.3 0 1 0 2.6 0a1.3 1.3 0 1 0 -2.6 0M582.94 123.88a1.3 1.3 0 1 0 2.6 0a1.3 1.3 0 1 0 -2.6 0M585.15 123.85a1.3 1.3 0 1 0 2.6 0a1.3 1.3 0 1 0 -2.6 0M587.36 123.83a1.3 1.3 0 1 0 2.6 0a1.3 1.3 0 1 0 -2.6 0M589.57 123.8a1.3 1.3 0 1 0 2.6 0a1.3 1.3 0 1 0 -2.6 0M591.78 123.77a1.3 1.3 0 1 0 2.6 0a1.3 1.3 0 1 0 -2.6 0M593.99 123.75a1.3 1.3 0 1 0 2.6 0a1.3 1.3 0 1 0 -2.6 0M596.2 123.73a1.3 1.3 0 1 0 2.6 0a1.3 1.3 0 1 0 -2.6 0M598.42 123.71a1.3 1.3 0 1 0 2.6 0a1.3 1.3 0 1 0 -2.6 0M600.63 123.69a1.3 1.3 0 1 0 2.6 0a1.3 1.3 0 1 0 -2.6 0M602.84 123.67a1.3 1.3 0 1 0 2.6 0a1.3 1.3 0 1 0 -2.6 0M605.05 123.65a1.3 1.3 0 1 0 2.6 0a1.3 1.3 0 1 0 -2.6 0M607.26 123.64a1.3 1.3 0 1 0 2.6 0a1.3 1.3 0 1 0 -2.6 0M609.47 123.62a1.3 1.3 0 1 0 2.6 0a1.3 1.3 0 1 0 -2.6 0M611.69 123.61a1.3 1.3 0 1 0 2.6 0a1.3 1.3 0 1 0 -2.6 0M613.9 123.6a1.3 1.3 0 1 0 2.6 0a1.3 1.3 0 1 0 -2.6 0M616.11 123.58a1.3 1.3 0 1 0 2.6 0a1.3 1.3 0 1 0 -2.6 0M618.32 123.57a1.3 1.3 0 1 0 2.6 0a1.3 1.3 0 1 0 -2.6 0M620.53 123.56a1.3 1.3 0 1 0 2.6 0a1.3 1.3 0 1 0 -2.6 0M622.74 123.56a1.3 1.3 0 1 0 2.6 0a1.3 1.3 0 1 0 -2.6 0M624.96 123.55a1.3 1.3 0 1 0 2.6 0a1.3 1.3 0 1 0 -2.6 0M627.17 123.54a1.3 1.3 0 1 0 2.6 0a1.3 1.3 0 1 0 -2.6 0M629.38 123.53a1.3 1.3 0 1 0 2.6 0a1.3 1.3 0 1 0 -2.6 0M631.59 123.53a1.3 1.3 0 1 0 2.6 0a1.3 1.3 0 1 0 -2.6 0M633.8 123.52a1.3 1.3 0 1 0 2.6 0a1.3 1.3 0 1 0 -2.6 0M636.01 123.52a1.3 1.3 0 1 0 2.6 0a1.3 1.3 0 1 0 -2.6 0M638.23 123.51a1.3 1.3 0 1 0 2.6 0a1.3 1.3 0 1 0 -2.6 0M640.44 123.51a1.3 1.3 0 1 0 2.6 0a1.3 1.3 0 1 0 -2.6 0M642.65 123.51a1.3 1.3 0 1 0 2.6 0a1.3 1.3 0 1 0 -2.6 0M644.86 123.5a1.3 1.3 0 1 0 2.6 0a1.3 1.3 0 1 0 -2.6 0M647.07 123.5a1.3 1.3 0 1 0 2.6 0a1.3 1.3 0 1 0 -2.6 0M649.28 123.5a1.3 1.3 0 1 0 2.6 0a1.3 1.3 0 1 0 -2.6 0M651.49 123.5a1.3 1.3 0 1 0 2.6 0a1.3 1.3 0 1 0 -2.6 0M653.71 123.5a1.3 1.3 0 1 0 2.6 0a1.3 1.3 0 1 0 -2.6 0M655.92 123.5a1.3 1.3 0 1 0 2.6 0a1.3 1.3 0 1 0 -2.6 0" fill="none" stroke="#383838" stroke-width="0.65"/><rect x="425" y="213.5" width="29.1" height="161.5" fill="#cccccc"/><rect x="454.1" y="213.5" width="29.1" height="161.5" fill="#e6e6e6"/><rect x="483.2" y="213.5" width="29.1" height="161.5" fill="#cccccc"/><rect x="512.3" y="213.5" width="29.1" height="161.5" fill="#e6e6e6"/><rect x="401.7" y="213.5" width="261.9" height="161.5" fill="none" stroke="#a4a4a4" stroke-width="1.1"/><path d="M410.45 375v-2.0M410.45 213.5v2.0M425 375v-3.5M425 213.5v3.5M439.55 375v-2.0M439.55 213.5v2.0M454.1 375v-2.0M454.1 213.5v2.0M468.65 375v-2.0M468.65 213.5v2.0M483.2 375v-3.5M483.2 213.5v3.5M497.75 375v-2.0M497.75 213.5v2.0M512.3 375v-2.0M512.3 213.5v2.0M526.85 375v-2.0M526.85 213.5v2.0M541.4 375v-3.5M541.4 213.5v3.5M555.95 375v-2.0M555.95 213.5v2.0M570.5 375v-2.0M570.5 213.5v2.0M585.05 375v-2.0M585.05 213.5v2.0M599.6 375v-3.5M599.6 213.5v3.5M614.15 375v-2.0M614.15 213.5v2.0M628.7 375v-2.0M628.7 213.5v2.0M643.25 375v-2.0M643.25 213.5v2.0M657.8 375v-3.5M657.8 213.5v3.5M401.7 374.4h2.0M663.6 374.4h-2.0M401.7 367.9h2.0M663.6 367.9h-2.0M401.7 361.4h3.5M663.6 361.4h-3.5M401.7 354.9h2.0M663.6 354.9h-2.0M401.7 348.4h2.0M663.6 348.4h-2.0M401.7 341.9h2.0M663.6 341.9h-2.0M401.7 335.4h2.0M663.6 335.4h-2.0M401.7 328.9h3.5M663.6 328.9h-3.5M401.7 322.4h2.0M663.6 322.4h-2.0M401.7 315.9h2.0M663.6 315.9h-2.0M401.7 309.4h2.0M663.6 309.4h-2.0M401.7 302.9h2.0M663.6 302.9h-2.0M401.7 296.4h3.5M663.6 296.4h-3.5M401.7 289.9h2.0M663.6 289.9h-2.0M401.7 283.4h2.0M663.6 283.4h-2.0M401.7 276.9h2.0M663.6 276.9h-2.0M401.7 270.4h2.0M663.6 270.4h-2.0M401.7 263.9h3.5M663.6 263.9h-3.5M401.7 257.4h2.0M663.6 257.4h-2.0M401.7 250.9h2.0M663.6 250.9h-2.0M401.7 244.4h2.0M663.6 244.4h-2.0M401.7 237.9h2.0M663.6 237.9h-2.0M401.7 231.4h3.5M663.6 231.4h-3.5M401.7 224.9h2.0M663.6 224.9h-2.0M401.7 218.4h2.0M663.6 218.4h-2.0" stroke="#a4a4a4" stroke-width="1" fill="none"/><text x="398.5" y="235.3" class="tl" text-anchor="end">0</text><text x="398.5" y="267.8" class="tl" text-anchor="end"><tspan>−</tspan><tspan dx="1.2">1</tspan></text><text x="398.5" y="300.3" class="tl" text-anchor="end"><tspan>−</tspan><tspan dx="1.2">2</tspan></text><text x="398.5" y="332.8" class="tl" text-anchor="end"><tspan>−</tspan><tspan dx="1.2">3</tspan></text><text x="398.5" y="365.3" class="tl" text-anchor="end"><tspan>−</tspan><tspan dx="1.2">4</tspan></text><text x="425" y="389.2" class="tl" text-anchor="middle">0</text><text x="483.2" y="389.2" class="tl" text-anchor="middle">200</text><text x="541.4" y="389.2" class="tl" text-anchor="middle">400</text><text x="599.6" y="389.2" class="tl" text-anchor="middle">600</text><text x="657.8" y="389.2" class="tl" text-anchor="middle">800</text><text transform="translate(366.4 294.25) rotate(-90)" class="ax" text-anchor="middle">response (mV)</text><text x="532" y="408.2" class="ax" text-anchor="middle">time (ms)</text><text x="655.1" y="366.4" class="td" text-anchor="end">10 Td</text><text x="412.3" y="233.4" class="sl" text-anchor="middle">0.2</text><text x="412.3" y="262.6" class="sl" text-anchor="middle">0.5</text><text x="412.3" y="291.1" class="sl" text-anchor="middle">0.8</text><text x="412.7" y="320.2" class="sl" text-anchor="middle">1</text><path d="M421.3 230.9 L421.9 230.9 L422.5 230.9 L423.1 230.9 L423.7 230.9 L424.3 230.9 L424.9 230.9 L425.5 230.92 L426.1 230.97 L426.7 231.06 L427.3 231.17 L427.9 231.31 L428.5 231.48 L429.1 231.67 L429.7 231.88 L430.3 232.1 L430.9 232.34 L431.5 232.59 L432.1 232.84 L432.7 233.11 L433.3 233.37 L433.9 233.64 L434.5 233.91 L435.1 234.17 L435.7 234.42 L436.3 234.66 L436.9 234.89 L437.5 235.11 L438.1 235.31 L438.7 235.49 L439.3 235.68 L439.9 235.87 L440.5 236.07 L441.1 236.27 L441.7 236.48 L442.3 236.69 L442.9 236.9 L443.5 237.12 L444.1 237.33 L444.7 237.54 L445.3 237.75 L445.9 237.95 L446.5 238.15 L447.1 238.34 L447.7 238.53 L448.3 238.71 L448.9 238.87 L449.5 239.03 L450.1 239.18 L450.7 239.31 L451.3 239.43 L451.9 239.54 L452.5 239.63 L453.1 239.7 L453.7 239.75 L454.3 239.79 L454.9 239.8 L455.5 239.75 L456.1 239.57 L456.7 239.27 L457.3 238.87 L457.9 238.38 L458.5 237.83 L459.1 237.22 L459.7 236.57 L460.3 235.91 L460.9 235.24 L461.5 234.59 L462.1 233.96 L462.7 233.38 L463.3 232.86 L463.9 232.39 L464.5 231.93 L465.1 231.46 L465.7 230.99 L466.3 230.53 L466.9 230.06 L467.5 229.61 L468.1 229.16 L468.7 228.72 L469.3 228.3 L469.9 227.9 L470.5 227.51 L471.1 227.15 L471.7 226.81 L472.3 226.5 L472.9 226.21 L473.5 225.91 L474.1 225.61 L474.7 225.31 L475.3 225.01 L475.9 224.71 L476.5 224.43 L477.1 224.16 L477.7 223.9 L478.3 223.66 L478.9 223.45 L479.5 223.26 L480.1 223.1 L480.7 222.97 L481.3 222.87 L481.9 222.82 L482.5 222.8 L483.1 222.88 L483.7 223.05 L484.3 223.32 L484.9 223.66 L485.5 224.07 L486.1 224.52 L486.7 225.02 L487.3 225.55 L487.9 226.08 L488.5 226.62 L489.1 227.15 L489.7 227.66 L490.3 228.13 L490.9 228.58 L491.5 229.06 L492.1 229.57 L492.7 230.09 L493.3 230.63 L493.9 231.18 L494.5 231.73 L495.1 232.27 L495.7 232.79 L496.3 233.3 L496.9 233.79 L497.5 234.24 L498.1 234.66 L498.7 235.03 L499.3 235.35 L499.9 235.64 L500.5 235.93 L501.1 236.21 L501.7 236.49 L502.3 236.77 L502.9 237.05 L503.5 237.32 L504.1 237.58 L504.7 237.83 L505.3 238.08 L505.9 238.31 L506.5 238.53 L507.1 238.74 L507.7 238.93 L508.3 239.11 L508.9 239.27 L509.5 239.41 L510.1 239.53 L510.7 239.63 L511.3 239.71 L511.9 239.76 L512.5 239.79 L513.1 239.79 L513.7 239.7 L514.3 239.5 L514.9 239.21 L515.5 238.85 L516.1 238.41 L516.7 237.93 L517.3 237.4 L517.9 236.83 L518.5 236.25 L519.1 235.67 L519.7 235.09 L520.3 234.52 L520.9 233.99 L521.5 233.5 L522.1 233.02 L522.7 232.5 L523.3 231.96 L523.9 231.41 L524.5 230.85 L525.1 230.29 L525.7 229.75 L526.3 229.22 L526.9 228.72 L527.5 228.25 L528.1 227.83 L528.7 227.46 L529.3 227.14 L529.9 226.83 L530.5 226.52 L531.1 226.21 L531.7 225.91 L532.3 225.61 L532.9 225.31 L533.5 225.03 L534.1 224.75 L534.7 224.49 L535.3 224.24 L535.9 224 L536.5 223.78 L537.1 223.58 L537.7 223.4 L538.3 223.24 L538.9 223.1 L539.5 222.98 L540.1 222.89 L540.7 222.83 L541.3 222.8 L541.9 222.81 L542.5 222.85 L543.1 222.93 L543.7 223.05 L544.3 223.2 L544.9 223.37 L545.5 223.57 L546.1 223.78 L546.7 224.01 L547.3 224.25 L547.9 224.49 L548.5 224.74 L549.1 224.98 L549.7 225.21 L550.3 225.43 L550.9 225.64 L551.5 225.87 L552.1 226.12 L552.7 226.38 L553.3 226.64 L553.9 226.92 L554.5 227.19 L555.1 227.47 L555.7 227.73 L556.3 227.99 L556.9 228.24 L557.5 228.48 L558.1 228.69 L558.7 228.88 L559.3 229.05 L559.9 229.2 L560.5 229.34 L561.1 229.48 L561.7 229.63 L562.3 229.77 L562.9 229.9 L563.5 230.04 L564.1 230.16 L564.7 230.28 L565.3 230.4 L565.9 230.5 L566.5 230.59 L567.1 230.68 L567.7 230.75 L568.3 230.81 L568.9 230.85 L569.5 230.88 L570.1 230.9 L570.7 230.9 L571.3 230.9 L571.9 230.9 L572.5 230.9 L573.1 230.9 L573.7 230.9 L574.3 230.9 L574.9 230.9 L575.5 230.9 L576.1 230.9 L576.7 230.9 L577.3 230.9 L577.9 230.9 L578.5 230.9 L579.1 230.9 L579.7 230.9 L580.3 230.9 L580.9 230.9 L581.5 230.9 L582.1 230.9 L582.7 230.9 L583.3 230.9 L583.9 230.9 L584.5 230.9 L585.1 230.9 L585.7 230.9 L586.3 230.9 L586.9 230.9 L587.5 230.9 L588.1 230.9 L588.7 230.9 L589.3 230.9 L589.9 230.9 L590.5 230.9 L591.1 230.9 L591.7 230.9 L592.3 230.9 L592.9 230.9 L593.5 230.9 L594.1 230.9 L594.7 230.9 L595.3 230.9 L595.9 230.9 L596.5 230.9 L597.1 230.9 L597.7 230.9 L598.3 230.9 L598.9 230.9 L599.5 230.9 L600.1 230.9 L600.7 230.9 L601.3 230.9 L601.9 230.9 L602.5 230.9 L603.1 230.9 L603.7 230.9 L604.3 230.9 L604.9 230.9 L605.5 230.9 L606.1 230.9 L606.7 230.9 L607.3 230.9 L607.9 230.9 L608.5 230.9 L609.1 230.9 L609.7 230.9 L610.3 230.9 L610.9 230.9 L611.5 230.9 L612.1 230.9 L612.7 230.9 L613.3 230.9 L613.9 230.9 L614.5 230.9 L615.1 230.9 L615.7 230.9 L616.3 230.9 L616.9 230.9 L617.5 230.9 L618.1 230.9 L618.7 230.9 L619.3 230.9 L619.9 230.9 L620.5 230.9 L621.1 230.9 L621.7 230.9 L622.3 230.9 L622.9 230.9 L623.5 230.9 L624.1 230.9 L624.7 230.9 L625.3 230.9 L625.9 230.9 L626.5 230.9 L627.1 230.9 L627.7 230.9 L628.3 230.9 L628.9 230.9 L629.5 230.9 L630.1 230.9 L630.7 230.9 L631.3 230.9 L631.9 230.9 L632.5 230.9 L633.1 230.9 L633.7 230.9 L634.3 230.9 L634.9 230.9 L635.5 230.9 L636.1 230.9 L636.7 230.9 L637.3 230.9 L637.9 230.9 L638.5 230.9 L639.1 230.9 L639.7 230.9 L640.3 230.9 L640.9 230.9 L641.5 230.9 L642.1 230.9 L642.7 230.9 L643.3 230.9 L643.9 230.9 L644.5 230.9 L645.1 230.9 L645.7 230.9 L646.3 230.9 L646.9 230.9 L647.5 230.9 L648.1 230.9 L648.7 230.9 L649.3 230.9 L649.9 230.9 L650.5 230.9 L651.1 230.9 L651.7 230.9 L652.3 230.9 L652.9 230.9 L653.5 230.9 L654.1 230.9 L654.7 230.9 L655.3 230.9 L655.9 230.9 L656.5 230.9 L657.1 230.9 L657.7 230.9 L657.8 230.9" fill="none" stroke="#ee1111" stroke-width="1.65" stroke-linejoin="round"/><path d="M423.7 230.9a1.3 1.3 0 1 0 2.6 0a1.3 1.3 0 1 0 -2.6 0M425.91 231.15a1.3 1.3 0 1 0 2.6 0a1.3 1.3 0 1 0 -2.6 0M428.12 231.78a1.3 1.3 0 1 0 2.6 0a1.3 1.3 0 1 0 -2.6 0M430.33 232.64a1.3 1.3 0 1 0 2.6 0a1.3 1.3 0 1 0 -2.6 0M432.55 233.62a1.3 1.3 0 1 0 2.6 0a1.3 1.3 0 1 0 -2.6 0M434.76 234.57a1.3 1.3 0 1 0 2.6 0a1.3 1.3 0 1 0 -2.6 0M436.97 235.36a1.3 1.3 0 1 0 2.6 0a1.3 1.3 0 1 0 -2.6 0M439.18 236.06a1.3 1.3 0 1 0 2.6 0a1.3 1.3 0 1 0 -2.6 0M441.39 236.83a1.3 1.3 0 1 0 2.6 0a1.3 1.3 0 1 0 -2.6 0M443.6 237.61a1.3 1.3 0 1 0 2.6 0a1.3 1.3 0 1 0 -2.6 0M445.82 238.35a1.3 1.3 0 1 0 2.6 0a1.3 1.3 0 1 0 -2.6 0M448.03 238.99a1.3 1.3 0 1 0 2.6 0a1.3 1.3 0 1 0 -2.6 0M450.24 239.48a1.3 1.3 0 1 0 2.6 0a1.3 1.3 0 1 0 -2.6 0M452.45 239.75a1.3 1.3 0 1 0 2.6 0a1.3 1.3 0 1 0 -2.6 0M454.66 239.62a1.3 1.3 0 1 0 2.6 0a1.3 1.3 0 1 0 -2.6 0M456.87 238.14a1.3 1.3 0 1 0 2.6 0a1.3 1.3 0 1 0 -2.6 0M459.09 235.81a1.3 1.3 0 1 0 2.6 0a1.3 1.3 0 1 0 -2.6 0M461.3 233.47a1.3 1.3 0 1 0 2.6 0a1.3 1.3 0 1 0 -2.6 0M463.51 231.69a1.3 1.3 0 1 0 2.6 0a1.3 1.3 0 1 0 -2.6 0M465.72 229.97a1.3 1.3 0 1 0 2.6 0a1.3 1.3 0 1 0 -2.6 0M467.93 228.35a1.3 1.3 0 1 0 2.6 0a1.3 1.3 0 1 0 -2.6 0M470.14 226.95a1.3 1.3 0 1 0 2.6 0a1.3 1.3 0 1 0 -2.6 0M472.36 225.83a1.3 1.3 0 1 0 2.6 0a1.3 1.3 0 1 0 -2.6 0M474.57 224.73a1.3 1.3 0 1 0 2.6 0a1.3 1.3 0 1 0 -2.6 0M476.78 223.75a1.3 1.3 0 1 0 2.6 0a1.3 1.3 0 1 0 -2.6 0M478.99 223.05a1.3 1.3 0 1 0 2.6 0a1.3 1.3 0 1 0 -2.6 0M481.2 222.8a1.3 1.3 0 1 0 2.6 0a1.3 1.3 0 1 0 -2.6 0M483.41 223.55a1.3 1.3 0 1 0 2.6 0a1.3 1.3 0 1 0 -2.6 0M485.62 225.22a1.3 1.3 0 1 0 2.6 0a1.3 1.3 0 1 0 -2.6 0M487.84 227.18a1.3 1.3 0 1 0 2.6 0a1.3 1.3 0 1 0 -2.6 0M490.05 228.93a1.3 1.3 0 1 0 2.6 0a1.3 1.3 0 1 0 -2.6 0M492.26 230.87a1.3 1.3 0 1 0 2.6 0a1.3 1.3 0 1 0 -2.6 0M494.47 232.85a1.3 1.3 0 1 0 2.6 0a1.3 1.3 0 1 0 -2.6 0M496.68 234.58a1.3 1.3 0 1 0 2.6 0a1.3 1.3 0 1 0 -2.6 0M498.89 235.78a1.3 1.3 0 1 0 2.6 0a1.3 1.3 0 1 0 -2.6 0M501.11 236.82a1.3 1.3 0 1 0 2.6 0a1.3 1.3 0 1 0 -2.6 0M503.32 237.8a1.3 1.3 0 1 0 2.6 0a1.3 1.3 0 1 0 -2.6 0M505.53 238.65a1.3 1.3 0 1 0 2.6 0a1.3 1.3 0 1 0 -2.6 0M507.74 239.3a1.3 1.3 0 1 0 2.6 0a1.3 1.3 0 1 0 -2.6 0M509.95 239.7a1.3 1.3 0 1 0 2.6 0a1.3 1.3 0 1 0 -2.6 0M512.16 239.75a1.3 1.3 0 1 0 2.6 0a1.3 1.3 0 1 0 -2.6 0M514.38 238.73a1.3 1.3 0 1 0 2.6 0a1.3 1.3 0 1 0 -2.6 0M516.59 236.85a1.3 1.3 0 1 0 2.6 0a1.3 1.3 0 1 0 -2.6 0M518.8 234.71a1.3 1.3 0 1 0 2.6 0a1.3 1.3 0 1 0 -2.6 0M521.01 232.84a1.3 1.3 0 1 0 2.6 0a1.3 1.3 0 1 0 -2.6 0M523.22 230.83a1.3 1.3 0 1 0 2.6 0a1.3 1.3 0 1 0 -2.6 0M525.43 228.85a1.3 1.3 0 1 0 2.6 0a1.3 1.3 0 1 0 -2.6 0M527.65 227.33a1.3 1.3 0 1 0 2.6 0a1.3 1.3 0 1 0 -2.6 0M529.86 226.18a1.3 1.3 0 1 0 2.6 0a1.3 1.3 0 1 0 -2.6 0M532.07 225.09a1.3 1.3 0 1 0 2.6 0a1.3 1.3 0 1 0 -2.6 0M534.28 224.12a1.3 1.3 0 1 0 2.6 0a1.3 1.3 0 1 0 -2.6 0M536.49 223.37a1.3 1.3 0 1 0 2.6 0a1.3 1.3 0 1 0 -2.6 0M538.7 222.91a1.3 1.3 0 1 0 2.6 0a1.3 1.3 0 1 0 -2.6 0M540.91 222.82a1.3 1.3 0 1 0 2.6 0a1.3 1.3 0 1 0 -2.6 0M543.13 223.23a1.3 1.3 0 1 0 2.6 0a1.3 1.3 0 1 0 -2.6 0M545.34 223.99a1.3 1.3 0 1 0 2.6 0a1.3 1.3 0 1 0 -2.6 0M547.55 224.88a1.3 1.3 0 1 0 2.6 0a1.3 1.3 0 1 0 -2.6 0M549.76 225.7a1.3 1.3 0 1 0 2.6 0a1.3 1.3 0 1 0 -2.6 0M551.97 226.63a1.3 1.3 0 1 0 2.6 0a1.3 1.3 0 1 0 -2.6 0M554.18 227.64a1.3 1.3 0 1 0 2.6 0a1.3 1.3 0 1 0 -2.6 0M556.4 228.55a1.3 1.3 0 1 0 2.6 0a1.3 1.3 0 1 0 -2.6 0M558.61 229.2a1.3 1.3 0 1 0 2.6 0a1.3 1.3 0 1 0 -2.6 0M560.82 229.72a1.3 1.3 0 1 0 2.6 0a1.3 1.3 0 1 0 -2.6 0M563.03 230.21a1.3 1.3 0 1 0 2.6 0a1.3 1.3 0 1 0 -2.6 0M565.24 230.6a1.3 1.3 0 1 0 2.6 0a1.3 1.3 0 1 0 -2.6 0M567.45 230.85a1.3 1.3 0 1 0 2.6 0a1.3 1.3 0 1 0 -2.6 0M569.67 230.9a1.3 1.3 0 1 0 2.6 0a1.3 1.3 0 1 0 -2.6 0M571.88 230.9a1.3 1.3 0 1 0 2.6 0a1.3 1.3 0 1 0 -2.6 0M574.09 230.9a1.3 1.3 0 1 0 2.6 0a1.3 1.3 0 1 0 -2.6 0M576.3 230.9a1.3 1.3 0 1 0 2.6 0a1.3 1.3 0 1 0 -2.6 0M578.51 230.9a1.3 1.3 0 1 0 2.6 0a1.3 1.3 0 1 0 -2.6 0M580.72 230.9a1.3 1.3 0 1 0 2.6 0a1.3 1.3 0 1 0 -2.6 0M582.94 230.9a1.3 1.3 0 1 0 2.6 0a1.3 1.3 0 1 0 -2.6 0M585.15 230.9a1.3 1.3 0 1 0 2.6 0a1.3 1.3 0 1 0 -2.6 0M587.36 230.9a1.3 1.3 0 1 0 2.6 0a1.3 1.3 0 1 0 -2.6 0M589.57 230.9a1.3 1.3 0 1 0 2.6 0a1.3 1.3 0 1 0 -2.6 0M591.78 230.9a1.3 1.3 0 1 0 2.6 0a1.3 1.3 0 1 0 -2.6 0M593.99 230.9a1.3 1.3 0 1 0 2.6 0a1.3 1.3 0 1 0 -2.6 0M596.2 230.9a1.3 1.3 0 1 0 2.6 0a1.3 1.3 0 1 0 -2.6 0M598.42 230.9a1.3 1.3 0 1 0 2.6 0a1.3 1.3 0 1 0 -2.6 0M600.63 230.9a1.3 1.3 0 1 0 2.6 0a1.3 1.3 0 1 0 -2.6 0M602.84 230.9a1.3 1.3 0 1 0 2.6 0a1.3 1.3 0 1 0 -2.6 0M605.05 230.9a1.3 1.3 0 1 0 2.6 0a1.3 1.3 0 1 0 -2.6 0M607.26 230.9a1.3 1.3 0 1 0 2.6 0a1.3 1.3 0 1 0 -2.6 0M609.47 230.9a1.3 1.3 0 1 0 2.6 0a1.3 1.3 0 1 0 -2.6 0M611.69 230.9a1.3 1.3 0 1 0 2.6 0a1.3 1.3 0 1 0 -2.6 0M613.9 230.9a1.3 1.3 0 1 0 2.6 0a1.3 1.3 0 1 0 -2.6 0M616.11 230.9a1.3 1.3 0 1 0 2.6 0a1.3 1.3 0 1 0 -2.6 0M618.32 230.9a1.3 1.3 0 1 0 2.6 0a1.3 1.3 0 1 0 -2.6 0M620.53 230.9a1.3 1.3 0 1 0 2.6 0a1.3 1.3 0 1 0 -2.6 0M622.74 230.9a1.3 1.3 0 1 0 2.6 0a1.3 1.3 0 1 0 -2.6 0M624.96 230.9a1.3 1.3 0 1 0 2.6 0a1.3 1.3 0 1 0 -2.6 0M627.17 230.9a1.3 1.3 0 1 0 2.6 0a1.3 1.3 0 1 0 -2.6 0M629.38 230.9a1.3 1.3 0 1 0 2.6 0a1.3 1.3 0 1 0 -2.6 0M631.59 230.9a1.3 1.3 0 1 0 2.6 0a1.3 1.3 0 1 0 -2.6 0M633.8 230.9a1.3 1.3 0 1 0 2.6 0a1.3 1.3 0 1 0 -2.6 0M636.01 230.9a1.3 1.3 0 1 0 2.6 0a1.3 1.3 0 1 0 -2.6 0M638.23 230.9a1.3 1.3 0 1 0 2.6 0a1.3 1.3 0 1 0 -2.6 0M640.44 230.9a1.3 1.3 0 1 0 2.6 0a1.3 1.3 0 1 0 -2.6 0M642.65 230.9a1.3 1.3 0 1 0 2.6 0a1.3 1.3 0 1 0 -2.6 0M644.86 230.9a1.3 1.3 0 1 0 2.6 0a1.3 1.3 0 1 0 -2.6 0M647.07 230.9a1.3 1.3 0 1 0 2.6 0a1.3 1.3 0 1 0 -2.6 0M649.28 230.9a1.3 1.3 0 1 0 2.6 0a1.3 1.3 0 1 0 -2.6 0M651.49 230.9a1.3 1.3 0 1 0 2.6 0a1.3 1.3 0 1 0 -2.6 0M653.71 230.9a1.3 1.3 0 1 0 2.6 0a1.3 1.3 0 1 0 -2.6 0M655.92 230.9a1.3 1.3 0 1 0 2.6 0a1.3 1.3 0 1 0 -2.6 0" fill="none" stroke="#383838" stroke-width="0.65"/><path d="M421.3 260.1 L421.9 260.1 L422.5 260.1 L423.1 260.1 L423.7 260.1 L424.3 260.1 L424.9 260.1 L425.5 260.16 L426.1 260.32 L426.7 260.58 L427.3 260.93 L427.9 261.34 L428.5 261.81 L429.1 262.33 L429.7 262.87 L430.3 263.44 L430.9 264.02 L431.5 264.58 L432.1 265.14 L432.7 265.66 L433.3 266.14 L433.9 266.65 L434.5 267.19 L435.1 267.74 L435.7 268.31 L436.3 268.89 L436.9 269.48 L437.5 270.07 L438.1 270.66 L438.7 271.23 L439.3 271.79 L439.9 272.33 L440.5 272.85 L441.1 273.34 L441.7 273.79 L442.3 274.21 L442.9 274.64 L443.5 275.07 L444.1 275.52 L444.7 275.97 L445.3 276.41 L445.9 276.85 L446.5 277.29 L447.1 277.7 L447.7 278.11 L448.3 278.49 L448.9 278.84 L449.5 279.17 L450.1 279.46 L450.7 279.72 L451.3 279.93 L451.9 280.1 L452.5 280.22 L453.1 280.29 L453.7 280.29 L454.3 280.14 L454.9 279.83 L455.5 279.41 L456.1 278.89 L456.7 278.3 L457.3 277.63 L457.9 276.58 L458.5 275.21 L459.1 273.64 L459.7 271.98 L460.3 270.36 L460.9 268.85 L461.5 267.3 L462.1 265.69 L462.7 264.06 L463.3 262.45 L463.9 260.87 L464.5 259.37 L465.1 257.97 L465.7 256.63 L466.3 255.32 L466.9 254.04 L467.5 252.82 L468.1 251.66 L468.7 250.57 L469.3 249.56 L469.9 248.62 L470.5 247.69 L471.1 246.79 L471.7 245.92 L472.3 245.08 L472.9 244.29 L473.5 243.56 L474.1 242.88 L474.7 242.27 L475.3 241.74 L475.9 241.27 L476.5 240.82 L477.1 240.36 L477.7 239.92 L478.3 239.5 L478.9 239.1 L479.5 238.73 L480.1 238.41 L480.7 238.12 L481.3 237.9 L481.9 237.73 L482.5 237.63 L483.1 237.6 L483.7 237.81 L484.3 238.29 L484.9 239 L485.5 239.88 L486.1 240.91 L486.7 242.03 L487.3 243.19 L487.9 244.35 L488.5 245.47 L489.1 246.53 L489.7 247.63 L490.3 248.81 L490.9 250.05 L491.5 251.32 L492.1 252.63 L492.7 253.97 L493.3 255.31 L493.9 256.65 L494.5 258.1 L495.1 259.64 L495.7 261.23 L496.3 262.8 L496.9 264.32 L497.5 265.72 L498.1 266.98 L498.7 268.04 L499.3 269.03 L499.9 269.99 L500.5 270.92 L501.1 271.82 L501.7 272.68 L502.3 273.49 L502.9 274.25 L503.5 274.95 L504.1 275.6 L504.7 276.18 L505.3 276.68 L505.9 277.11 L506.5 277.48 L507.1 277.82 L507.7 278.16 L508.3 278.49 L508.9 278.79 L509.5 279.07 L510.1 279.32 L510.7 279.53 L511.3 279.7 L511.9 279.82 L512.5 279.89 L513.1 279.88 L513.7 279.62 L514.3 279.09 L514.9 278.32 L515.5 277.35 L516.1 276.22 L516.7 274.97 L517.3 273.64 L517.9 272.27 L518.5 270.9 L519.1 269.56 L519.7 268.29 L520.3 267.11 L520.9 265.84 L521.5 264.47 L522.1 263.03 L522.7 261.53 L523.3 260 L523.9 258.45 L524.5 256.92 L525.1 255.42 L525.7 253.97 L526.3 252.59 L526.9 251.31 L527.5 250.15 L528.1 249.13 L528.7 248.26 L529.3 247.56 L529.9 246.88 L530.5 246.21 L531.1 245.55 L531.7 244.9 L532.3 244.27 L532.9 243.65 L533.5 243.06 L534.1 242.48 L534.7 241.93 L535.3 241.41 L535.9 240.91 L536.5 240.44 L537.1 240.01 L537.7 239.61 L538.3 239.25 L538.9 238.94 L539.5 238.66 L540.1 238.43 L540.7 238.24 L541.3 238.11 L541.9 238.03 L542.5 238 L543.1 238.08 L543.7 238.29 L544.3 238.63 L544.9 239.08 L545.5 239.61 L546.1 240.22 L546.7 240.88 L547.3 241.58 L547.9 242.29 L548.5 243.01 L549.1 243.71 L549.7 244.39 L550.3 245.01 L550.9 245.59 L551.5 246.2 L552.1 246.84 L552.7 247.5 L553.3 248.17 L553.9 248.85 L554.5 249.53 L555.1 250.21 L555.7 250.86 L556.3 251.5 L556.9 252.1 L557.5 252.67 L558.1 253.19 L558.7 253.67 L559.3 254.08 L559.9 254.44 L560.5 254.78 L561.1 255.12 L561.7 255.45 L562.3 255.77 L562.9 256.08 L563.5 256.37 L564.1 256.66 L564.7 256.93 L565.3 257.18 L565.9 257.43 L566.5 257.65 L567.1 257.86 L567.7 258.06 L568.3 258.24 L568.9 258.4 L569.5 258.54 L570.1 258.66 L570.7 258.77 L571.3 258.88 L571.9 258.98 L572.5 259.08 L573.1 259.18 L573.7 259.27 L574.3 259.37 L574.9 259.45 L575.5 259.54 L576.1 259.62 L576.7 259.69 L577.3 259.76 L577.9 259.83 L578.5 259.89 L579.1 259.94 L579.7 259.98 L580.3 260.02 L580.9 260.05 L581.5 260.08 L582.1 260.09 L582.7 260.1 L583.3 260.1 L583.9 260.1 L584.5 260.1 L585.1 260.1 L585.7 260.1 L586.3 260.1 L586.9 260.1 L587.5 260.1 L588.1 260.1 L588.7 260.1 L589.3 260.1 L589.9 260.1 L590.5 260.1 L591.1 260.1 L591.7 260.1 L592.3 260.1 L592.9 260.1 L593.5 260.1 L594.1 260.1 L594.7 260.1 L595.3 260.1 L595.9 260.1 L596.5 260.1 L597.1 260.1 L597.7 260.1 L598.3 260.1 L598.9 260.1 L599.5 260.1 L600.1 260.1 L600.7 260.1 L601.3 260.1 L601.9 260.1 L602.5 260.1 L603.1 260.1 L603.7 260.1 L604.3 260.1 L604.9 260.1 L605.5 260.1 L606.1 260.1 L606.7 260.1 L607.3 260.1 L607.9 260.1 L608.5 260.1 L609.1 260.1 L609.7 260.1 L610.3 260.1 L610.9 260.1 L611.5 260.1 L612.1 260.1 L612.7 260.1 L613.3 260.1 L613.9 260.1 L614.5 260.1 L615.1 260.1 L615.7 260.1 L616.3 260.1 L616.9 260.1 L617.5 260.1 L618.1 260.1 L618.7 260.1 L619.3 260.1 L619.9 260.1 L620.5 260.1 L621.1 260.1 L621.7 260.1 L622.3 260.1 L622.9 260.1 L623.5 260.1 L624.1 260.1 L624.7 260.1 L625.3 260.1 L625.9 260.1 L626.5 260.1 L627.1 260.1 L627.7 260.1 L628.3 260.1 L628.9 260.1 L629.5 260.1 L630.1 260.1 L630.7 260.1 L631.3 260.1 L631.9 260.1 L632.5 260.1 L633.1 260.1 L633.7 260.1 L634.3 260.1 L634.9 260.1 L635.5 260.1 L636.1 260.1 L636.7 260.1 L637.3 260.1 L637.9 260.1 L638.5 260.1 L639.1 260.1 L639.7 260.1 L640.3 260.1 L640.9 260.1 L641.5 260.1 L642.1 260.1 L642.7 260.1 L643.3 260.1 L643.9 260.1 L644.5 260.1 L645.1 260.1 L645.7 260.1 L646.3 260.1 L646.9 260.1 L647.5 260.1 L648.1 260.1 L648.7 260.1 L649.3 260.1 L649.9 260.1 L650.5 260.1 L651.1 260.1 L651.7 260.1 L652.3 260.1 L652.9 260.1 L653.5 260.1 L654.1 260.1 L654.7 260.1 L655.3 260.1 L655.9 260.1 L656.5 260.1 L657.1 260.1 L657.7 260.1 L657.8 260.1" fill="none" stroke="#ee1111" stroke-width="1.65" stroke-linejoin="round"/><path d="M423.7 260.1a1.3 1.3 0 1 0 2.6 0a1.3 1.3 0 1 0 -2.6 0M425.91 260.87a1.3 1.3 0 1 0 2.6 0a1.3 1.3 0 1 0 -2.6 0M428.12 262.62a1.3 1.3 0 1 0 2.6 0a1.3 1.3 0 1 0 -2.6 0M430.33 264.71a1.3 1.3 0 1 0 2.6 0a1.3 1.3 0 1 0 -2.6 0M432.55 266.6a1.3 1.3 0 1 0 2.6 0a1.3 1.3 0 1 0 -2.6 0M434.76 268.66a1.3 1.3 0 1 0 2.6 0a1.3 1.3 0 1 0 -2.6 0M436.97 270.82a1.3 1.3 0 1 0 2.6 0a1.3 1.3 0 1 0 -2.6 0M439.18 272.83a1.3 1.3 0 1 0 2.6 0a1.3 1.3 0 1 0 -2.6 0M441.39 274.49a1.3 1.3 0 1 0 2.6 0a1.3 1.3 0 1 0 -2.6 0M443.6 276.12a1.3 1.3 0 1 0 2.6 0a1.3 1.3 0 1 0 -2.6 0M445.82 277.72a1.3 1.3 0 1 0 2.6 0a1.3 1.3 0 1 0 -2.6 0M448.03 279.08a1.3 1.3 0 1 0 2.6 0a1.3 1.3 0 1 0 -2.6 0M450.24 280a1.3 1.3 0 1 0 2.6 0a1.3 1.3 0 1 0 -2.6 0M452.45 280.29a1.3 1.3 0 1 0 2.6 0a1.3 1.3 0 1 0 -2.6 0M454.66 279.02a1.3 1.3 0 1 0 2.6 0a1.3 1.3 0 1 0 -2.6 0M456.87 276.02a1.3 1.3 0 1 0 2.6 0a1.3 1.3 0 1 0 -2.6 0M459.09 270.22a1.3 1.3 0 1 0 2.6 0a1.3 1.3 0 1 0 -2.6 0M461.3 264.52a1.3 1.3 0 1 0 2.6 0a1.3 1.3 0 1 0 -2.6 0M463.51 258.99a1.3 1.3 0 1 0 2.6 0a1.3 1.3 0 1 0 -2.6 0M465.72 254.41a1.3 1.3 0 1 0 2.6 0a1.3 1.3 0 1 0 -2.6 0M467.93 250.61a1.3 1.3 0 1 0 2.6 0a1.3 1.3 0 1 0 -2.6 0M470.14 247.54a1.3 1.3 0 1 0 2.6 0a1.3 1.3 0 1 0 -2.6 0M472.36 244.84a1.3 1.3 0 1 0 2.6 0a1.3 1.3 0 1 0 -2.6 0M474.57 242.83a1.3 1.3 0 1 0 2.6 0a1.3 1.3 0 1 0 -2.6 0M476.78 241.25a1.3 1.3 0 1 0 2.6 0a1.3 1.3 0 1 0 -2.6 0M478.99 240.26a1.3 1.3 0 1 0 2.6 0a1.3 1.3 0 1 0 -2.6 0M481.2 240.08a1.3 1.3 0 1 0 2.6 0a1.3 1.3 0 1 0 -2.6 0M483.41 241.1a1.3 1.3 0 1 0 2.6 0a1.3 1.3 0 1 0 -2.6 0M485.62 243.91a1.3 1.3 0 1 0 2.6 0a1.3 1.3 0 1 0 -2.6 0M487.84 247.15a1.3 1.3 0 1 0 2.6 0a1.3 1.3 0 1 0 -2.6 0M490.05 251.13a1.3 1.3 0 1 0 2.6 0a1.3 1.3 0 1 0 -2.6 0M492.26 255.91a1.3 1.3 0 1 0 2.6 0a1.3 1.3 0 1 0 -2.6 0M494.47 261.42a1.3 1.3 0 1 0 2.6 0a1.3 1.3 0 1 0 -2.6 0M496.68 266.75a1.3 1.3 0 1 0 2.6 0a1.3 1.3 0 1 0 -2.6 0M498.89 270.45a1.3 1.3 0 1 0 2.6 0a1.3 1.3 0 1 0 -2.6 0M501.11 273.63a1.3 1.3 0 1 0 2.6 0a1.3 1.3 0 1 0 -2.6 0M503.32 276.1a1.3 1.3 0 1 0 2.6 0a1.3 1.3 0 1 0 -2.6 0M505.53 277.67a1.3 1.3 0 1 0 2.6 0a1.3 1.3 0 1 0 -2.6 0M507.74 278.86a1.3 1.3 0 1 0 2.6 0a1.3 1.3 0 1 0 -2.6 0M509.95 279.69a1.3 1.3 0 1 0 2.6 0a1.3 1.3 0 1 0 -2.6 0M512.16 279.76a1.3 1.3 0 1 0 2.6 0a1.3 1.3 0 1 0 -2.6 0M514.38 277.05a1.3 1.3 0 1 0 2.6 0a1.3 1.3 0 1 0 -2.6 0M516.59 272.34a1.3 1.3 0 1 0 2.6 0a1.3 1.3 0 1 0 -2.6 0M518.8 267.61a1.3 1.3 0 1 0 2.6 0a1.3 1.3 0 1 0 -2.6 0M521.01 262.73a1.3 1.3 0 1 0 2.6 0a1.3 1.3 0 1 0 -2.6 0M523.22 257.29a1.3 1.3 0 1 0 2.6 0a1.3 1.3 0 1 0 -2.6 0M525.43 252.38a1.3 1.3 0 1 0 2.6 0a1.3 1.3 0 1 0 -2.6 0M527.65 249.02a1.3 1.3 0 1 0 2.6 0a1.3 1.3 0 1 0 -2.6 0M529.86 246.83a1.3 1.3 0 1 0 2.6 0a1.3 1.3 0 1 0 -2.6 0M532.07 244.69a1.3 1.3 0 1 0 2.6 0a1.3 1.3 0 1 0 -2.6 0M534.28 242.71a1.3 1.3 0 1 0 2.6 0a1.3 1.3 0 1 0 -2.6 0M536.49 241.23a1.3 1.3 0 1 0 2.6 0a1.3 1.3 0 1 0 -2.6 0M538.7 240.59a1.3 1.3 0 1 0 2.6 0a1.3 1.3 0 1 0 -2.6 0M540.91 240.53a1.3 1.3 0 1 0 2.6 0a1.3 1.3 0 1 0 -2.6 0M543.13 240.84a1.3 1.3 0 1 0 2.6 0a1.3 1.3 0 1 0 -2.6 0M545.34 241.93a1.3 1.3 0 1 0 2.6 0a1.3 1.3 0 1 0 -2.6 0M547.55 243.79a1.3 1.3 0 1 0 2.6 0a1.3 1.3 0 1 0 -2.6 0M549.76 245.83a1.3 1.3 0 1 0 2.6 0a1.3 1.3 0 1 0 -2.6 0M551.97 248.15a1.3 1.3 0 1 0 2.6 0a1.3 1.3 0 1 0 -2.6 0M554.18 250.63a1.3 1.3 0 1 0 2.6 0a1.3 1.3 0 1 0 -2.6 0M556.4 252.85a1.3 1.3 0 1 0 2.6 0a1.3 1.3 0 1 0 -2.6 0M558.61 254.44a1.3 1.3 0 1 0 2.6 0a1.3 1.3 0 1 0 -2.6 0M560.82 255.68a1.3 1.3 0 1 0 2.6 0a1.3 1.3 0 1 0 -2.6 0M563.03 256.76a1.3 1.3 0 1 0 2.6 0a1.3 1.3 0 1 0 -2.6 0M565.24 257.67a1.3 1.3 0 1 0 2.6 0a1.3 1.3 0 1 0 -2.6 0M567.45 258.36a1.3 1.3 0 1 0 2.6 0a1.3 1.3 0 1 0 -2.6 0M569.67 258.82a1.3 1.3 0 1 0 2.6 0a1.3 1.3 0 1 0 -2.6 0M571.88 259.19a1.3 1.3 0 1 0 2.6 0a1.3 1.3 0 1 0 -2.6 0M574.09 259.52a1.3 1.3 0 1 0 2.6 0a1.3 1.3 0 1 0 -2.6 0M576.3 259.8a1.3 1.3 0 1 0 2.6 0a1.3 1.3 0 1 0 -2.6 0M578.51 259.99a1.3 1.3 0 1 0 2.6 0a1.3 1.3 0 1 0 -2.6 0M580.72 260.09a1.3 1.3 0 1 0 2.6 0a1.3 1.3 0 1 0 -2.6 0M582.94 260.1a1.3 1.3 0 1 0 2.6 0a1.3 1.3 0 1 0 -2.6 0M585.15 260.1a1.3 1.3 0 1 0 2.6 0a1.3 1.3 0 1 0 -2.6 0M587.36 260.1a1.3 1.3 0 1 0 2.6 0a1.3 1.3 0 1 0 -2.6 0M589.57 260.1a1.3 1.3 0 1 0 2.6 0a1.3 1.3 0 1 0 -2.6 0M591.78 260.1a1.3 1.3 0 1 0 2.6 0a1.3 1.3 0 1 0 -2.6 0M593.99 260.1a1.3 1.3 0 1 0 2.6 0a1.3 1.3 0 1 0 -2.6 0M596.2 260.1a1.3 1.3 0 1 0 2.6 0a1.3 1.3 0 1 0 -2.6 0M598.42 260.1a1.3 1.3 0 1 0 2.6 0a1.3 1.3 0 1 0 -2.6 0M600.63 260.1a1.3 1.3 0 1 0 2.6 0a1.3 1.3 0 1 0 -2.6 0M602.84 260.1a1.3 1.3 0 1 0 2.6 0a1.3 1.3 0 1 0 -2.6 0M605.05 260.1a1.3 1.3 0 1 0 2.6 0a1.3 1.3 0 1 0 -2.6 0M607.26 260.1a1.3 1.3 0 1 0 2.6 0a1.3 1.3 0 1 0 -2.6 0M609.47 260.1a1.3 1.3 0 1 0 2.6 0a1.3 1.3 0 1 0 -2.6 0M611.69 260.1a1.3 1.3 0 1 0 2.6 0a1.3 1.3 0 1 0 -2.6 0M613.9 260.1a1.3 1.3 0 1 0 2.6 0a1.3 1.3 0 1 0 -2.6 0M616.11 260.1a1.3 1.3 0 1 0 2.6 0a1.3 1.3 0 1 0 -2.6 0M618.32 260.1a1.3 1.3 0 1 0 2.6 0a1.3 1.3 0 1 0 -2.6 0M620.53 260.1a1.3 1.3 0 1 0 2.6 0a1.3 1.3 0 1 0 -2.6 0M622.74 260.1a1.3 1.3 0 1 0 2.6 0a1.3 1.3 0 1 0 -2.6 0M624.96 260.1a1.3 1.3 0 1 0 2.6 0a1.3 1.3 0 1 0 -2.6 0M627.17 260.1a1.3 1.3 0 1 0 2.6 0a1.3 1.3 0 1 0 -2.6 0M629.38 260.1a1.3 1.3 0 1 0 2.6 0a1.3 1.3 0 1 0 -2.6 0M631.59 260.1a1.3 1.3 0 1 0 2.6 0a1.3 1.3 0 1 0 -2.6 0M633.8 260.1a1.3 1.3 0 1 0 2.6 0a1.3 1.3 0 1 0 -2.6 0M636.01 260.1a1.3 1.3 0 1 0 2.6 0a1.3 1.3 0 1 0 -2.6 0M638.23 260.1a1.3 1.3 0 1 0 2.6 0a1.3 1.3 0 1 0 -2.6 0M640.44 260.1a1.3 1.3 0 1 0 2.6 0a1.3 1.3 0 1 0 -2.6 0M642.65 260.1a1.3 1.3 0 1 0 2.6 0a1.3 1.3 0 1 0 -2.6 0M644.86 260.1a1.3 1.3 0 1 0 2.6 0a1.3 1.3 0 1 0 -2.6 0M647.07 260.1a1.3 1.3 0 1 0 2.6 0a1.3 1.3 0 1 0 -2.6 0M649.28 260.1a1.3 1.3 0 1 0 2.6 0a1.3 1.3 0 1 0 -2.6 0M651.49 260.1a1.3 1.3 0 1 0 2.6 0a1.3 1.3 0 1 0 -2.6 0M653.71 260.1a1.3 1.3 0 1 0 2.6 0a1.3 1.3 0 1 0 -2.6 0M655.92 260.1a1.3 1.3 0 1 0 2.6 0a1.3 1.3 0 1 0 -2.6 0" fill="none" stroke="#383838" stroke-width="0.65"/><path d="M421.3 288.6 L421.9 288.6 L422.5 288.6 L423.1 288.6 L423.7 288.6 L424.3 288.6 L424.9 288.6 L425.5 288.71 L426.1 289.03 L426.7 289.52 L427.3 290.16 L427.9 290.91 L428.5 291.75 L429.1 292.65 L429.7 293.57 L430.3 294.49 L430.9 295.38 L431.5 296.23 L432.1 297.15 L432.7 298.17 L433.3 299.25 L433.9 300.37 L434.5 301.52 L435.1 302.69 L435.7 303.84 L436.3 304.96 L436.9 306.04 L437.5 307.05 L438.1 307.98 L438.7 308.81 L439.3 309.63 L439.9 310.44 L440.5 311.23 L441.1 312 L441.7 312.75 L442.3 313.46 L442.9 314.12 L443.5 314.75 L444.1 315.31 L444.7 315.82 L445.3 316.27 L445.9 316.66 L446.5 317.04 L447.1 317.42 L447.7 317.8 L448.3 318.16 L448.9 318.51 L449.5 318.83 L450.1 319.14 L450.7 319.41 L451.3 319.66 L451.9 319.87 L452.5 320.05 L453.1 320.18 L453.7 320.26 L454.3 320.3 L454.9 320.04 L455.5 319.14 L456.1 317.7 L456.7 315.88 L457.3 313.8 L457.9 311.6 L458.5 309.43 L459.1 307.41 L459.7 305.52 L460.3 303.55 L460.9 301.49 L461.5 299.38 L462.1 297.23 L462.7 295.08 L463.3 292.92 L463.9 290.7 L464.5 288.44 L465.1 286.18 L465.7 283.92 L466.3 281.72 L466.9 279.54 L467.5 277.28 L468.1 274.98 L468.7 272.71 L469.3 270.54 L469.9 268.52 L470.5 266.72 L471.1 265.2 L471.7 263.89 L472.3 262.65 L472.9 261.5 L473.5 260.43 L474.1 259.44 L474.7 258.53 L475.3 257.7 L475.9 256.96 L476.5 256.29 L477.1 255.65 L477.7 255.01 L478.3 254.38 L478.9 253.77 L479.5 253.21 L480.1 252.69 L480.7 252.25 L481.3 251.88 L481.9 251.61 L482.5 251.44 L483.1 251.4 L483.7 251.59 L484.3 252.04 L484.9 252.7 L485.5 253.55 L486.1 254.55 L486.7 255.66 L487.3 256.86 L487.9 258.1 L488.5 259.66 L489.1 261.76 L489.7 264.24 L490.3 266.97 L490.9 269.8 L491.5 272.6 L492.1 275.35 L492.7 278.34 L493.3 281.49 L493.9 284.66 L494.5 287.73 L495.1 290.58 L495.7 293.09 L496.3 295.43 L496.9 297.69 L497.5 299.86 L498.1 301.89 L498.7 303.75 L499.3 305.43 L499.9 306.88 L500.5 308.15 L501.1 309.34 L501.7 310.45 L502.3 311.48 L502.9 312.43 L503.5 313.28 L504.1 314.04 L504.7 314.71 L505.3 315.28 L505.9 315.84 L506.5 316.39 L507.1 316.93 L507.7 317.45 L508.3 317.93 L508.9 318.39 L509.5 318.8 L510.1 319.16 L510.7 319.47 L511.3 319.71 L511.9 319.88 L512.5 319.98 L513.1 319.97 L513.7 319.59 L514.3 318.79 L514.9 317.64 L515.5 316.21 L516.1 314.56 L516.7 312.74 L517.3 310.83 L517.9 308.87 L518.5 306.94 L519.1 305.09 L519.7 303.26 L520.3 301.23 L520.9 299.04 L521.5 296.75 L522.1 294.4 L522.7 292.04 L523.3 289.71 L523.9 287.46 L524.5 285.34 L525.1 283.3 L525.7 281.22 L526.3 279.16 L526.9 277.15 L527.5 275.26 L528.1 273.51 L528.7 271.98 L529.3 270.66 L529.9 269.36 L530.5 268.07 L531.1 266.78 L531.7 265.51 L532.3 264.25 L532.9 263.01 L533.5 261.8 L534.1 260.63 L534.7 259.5 L535.3 258.41 L535.9 257.38 L536.5 256.41 L537.1 255.5 L537.7 254.66 L538.3 253.9 L538.9 253.22 L539.5 252.63 L540.1 252.13 L540.7 251.73 L541.3 251.44 L541.9 251.26 L542.5 251.2 L543.1 251.34 L543.7 251.75 L544.3 252.39 L544.9 253.22 L545.5 254.21 L546.1 255.33 L546.7 256.54 L547.3 257.81 L547.9 259.1 L548.5 260.38 L549.1 261.61 L549.7 262.75 L550.3 263.79 L550.9 264.71 L551.5 265.63 L552.1 266.56 L552.7 267.49 L553.3 268.41 L553.9 269.34 L554.5 270.25 L555.1 271.15 L555.7 272.03 L556.3 272.89 L556.9 273.73 L557.5 274.54 L558.1 275.32 L558.7 276.07 L559.3 276.77 L559.9 277.45 L560.5 278.14 L561.1 278.82 L561.7 279.51 L562.3 280.18 L562.9 280.85 L563.5 281.49 L564.1 282.11 L564.7 282.69 L565.3 283.24 L565.9 283.75 L566.5 284.2 L567.1 284.6 L567.7 284.95 L568.3 285.22 L568.9 285.44 L569.5 285.65 L570.1 285.86 L570.7 286.06 L571.3 286.25 L571.9 286.43 L572.5 286.61 L573.1 286.78 L573.7 286.94 L574.3 287.09 L574.9 287.23 L575.5 287.36 L576.1 287.48 L576.7 287.59 L577.3 287.69 L577.9 287.77 L578.5 287.84 L579.1 287.9 L579.7 287.95 L580.3 287.98 L580.9 288 L581.5 288.01 L582.1 288.01 L582.7 288.02 L583.3 288.03 L583.9 288.04 L584.5 288.04 L585.1 288.05 L585.7 288.06 L586.3 288.07 L586.9 288.07 L587.5 288.08 L588.1 288.09 L588.7 288.09 L589.3 288.1 L589.9 288.11 L590.5 288.11 L591.1 288.12 L591.7 288.13 L592.3 288.13 L592.9 288.14 L593.5 288.14 L594.1 288.15 L594.7 288.16 L595.3 288.16 L595.9 288.17 L596.5 288.17 L597.1 288.18 L597.7 288.18 L598.3 288.19 L598.9 288.19 L599.5 288.2 L600.1 288.2 L600.7 288.21 L601.3 288.21 L601.9 288.22 L602.5 288.22 L603.1 288.23 L603.7 288.23 L604.3 288.24 L604.9 288.24 L605.5 288.25 L606.1 288.25 L606.7 288.25 L607.3 288.26 L607.9 288.26 L608.5 288.27 L609.1 288.27 L609.7 288.27 L610.3 288.28 L610.9 288.28 L611.5 288.29 L612.1 288.29 L612.7 288.29 L613.3 288.3 L613.9 288.3 L614.5 288.3 L615.1 288.31 L615.7 288.31 L616.3 288.31 L616.9 288.31 L617.5 288.32 L618.1 288.32 L618.7 288.32 L619.3 288.33 L619.9 288.33 L620.5 288.33 L621.1 288.33 L621.7 288.34 L622.3 288.34 L622.9 288.34 L623.5 288.34 L624.1 288.35 L624.7 288.35 L625.3 288.35 L625.9 288.35 L626.5 288.35 L627.1 288.36 L627.7 288.36 L628.3 288.36 L628.9 288.36 L629.5 288.36 L630.1 288.37 L630.7 288.37 L631.3 288.37 L631.9 288.37 L632.5 288.37 L633.1 288.37 L633.7 288.37 L634.3 288.38 L634.9 288.38 L635.5 288.38 L636.1 288.38 L636.7 288.38 L637.3 288.38 L637.9 288.38 L638.5 288.38 L639.1 288.39 L639.7 288.39 L640.3 288.39 L640.9 288.39 L641.5 288.39 L642.1 288.39 L642.7 288.39 L643.3 288.39 L643.9 288.39 L644.5 288.39 L645.1 288.39 L645.7 288.39 L646.3 288.4 L646.9 288.4 L647.5 288.4 L648.1 288.4 L648.7 288.4 L649.3 288.4 L649.9 288.4 L650.5 288.4 L651.1 288.4 L651.7 288.4 L652.3 288.4 L652.9 288.4 L653.5 288.4 L654.1 288.4 L654.7 288.4 L655.3 288.4 L655.9 288.4 L656.5 288.4 L657.1 288.4 L657.7 288.4 L657.8 288.4" fill="none" stroke="#ee1111" stroke-width="1.65" stroke-linejoin="round"/><path d="M423.7 288.6a1.3 1.3 0 1 0 2.6 0a1.3 1.3 0 1 0 -2.6 0M425.91 290.06a1.3 1.3 0 1 0 2.6 0a1.3 1.3 0 1 0 -2.6 0M428.12 293.14a1.3 1.3 0 1 0 2.6 0a1.3 1.3 0 1 0 -2.6 0M430.33 296.43a1.3 1.3 0 1 0 2.6 0a1.3 1.3 0 1 0 -2.6 0M432.55 300.27a1.3 1.3 0 1 0 2.6 0a1.3 1.3 0 1 0 -2.6 0M434.76 304.51a1.3 1.3 0 1 0 2.6 0a1.3 1.3 0 1 0 -2.6 0M436.97 308.22a1.3 1.3 0 1 0 2.6 0a1.3 1.3 0 1 0 -2.6 0M439.18 311.21a1.3 1.3 0 1 0 2.6 0a1.3 1.3 0 1 0 -2.6 0M441.39 313.9a1.3 1.3 0 1 0 2.6 0a1.3 1.3 0 1 0 -2.6 0M443.6 315.98a1.3 1.3 0 1 0 2.6 0a1.3 1.3 0 1 0 -2.6 0M445.82 317.43a1.3 1.3 0 1 0 2.6 0a1.3 1.3 0 1 0 -2.6 0M448.03 318.74a1.3 1.3 0 1 0 2.6 0a1.3 1.3 0 1 0 -2.6 0M450.24 319.75a1.3 1.3 0 1 0 2.6 0a1.3 1.3 0 1 0 -2.6 0M452.45 320.27a1.3 1.3 0 1 0 2.6 0a1.3 1.3 0 1 0 -2.6 0M454.66 318.07a1.3 1.3 0 1 0 2.6 0a1.3 1.3 0 1 0 -2.6 0M456.87 310.6a1.3 1.3 0 1 0 2.6 0a1.3 1.3 0 1 0 -2.6 0M459.09 303.28a1.3 1.3 0 1 0 2.6 0a1.3 1.3 0 1 0 -2.6 0M461.3 295.55a1.3 1.3 0 1 0 2.6 0a1.3 1.3 0 1 0 -2.6 0M463.51 287.65a1.3 1.3 0 1 0 2.6 0a1.3 1.3 0 1 0 -2.6 0M465.72 280.07a1.3 1.3 0 1 0 2.6 0a1.3 1.3 0 1 0 -2.6 0M467.93 272.7a1.3 1.3 0 1 0 2.6 0a1.3 1.3 0 1 0 -2.6 0M470.14 267.22a1.3 1.3 0 1 0 2.6 0a1.3 1.3 0 1 0 -2.6 0M472.36 263.13a1.3 1.3 0 1 0 2.6 0a1.3 1.3 0 1 0 -2.6 0M474.57 259.4a1.3 1.3 0 1 0 2.6 0a1.3 1.3 0 1 0 -2.6 0M476.78 256.45a1.3 1.3 0 1 0 2.6 0a1.3 1.3 0 1 0 -2.6 0M478.99 254.74a1.3 1.3 0 1 0 2.6 0a1.3 1.3 0 1 0 -2.6 0M481.2 254.71a1.3 1.3 0 1 0 2.6 0a1.3 1.3 0 1 0 -2.6 0M483.41 255.91a1.3 1.3 0 1 0 2.6 0a1.3 1.3 0 1 0 -2.6 0M485.62 258.29a1.3 1.3 0 1 0 2.6 0a1.3 1.3 0 1 0 -2.6 0M487.84 262.71a1.3 1.3 0 1 0 2.6 0a1.3 1.3 0 1 0 -2.6 0M490.05 272.08a1.3 1.3 0 1 0 2.6 0a1.3 1.3 0 1 0 -2.6 0M492.26 282.89a1.3 1.3 0 1 0 2.6 0a1.3 1.3 0 1 0 -2.6 0M494.47 293.38a1.3 1.3 0 1 0 2.6 0a1.3 1.3 0 1 0 -2.6 0M496.68 301.5a1.3 1.3 0 1 0 2.6 0a1.3 1.3 0 1 0 -2.6 0M498.89 307.51a1.3 1.3 0 1 0 2.6 0a1.3 1.3 0 1 0 -2.6 0M501.11 311.66a1.3 1.3 0 1 0 2.6 0a1.3 1.3 0 1 0 -2.6 0M503.32 314.62a1.3 1.3 0 1 0 2.6 0a1.3 1.3 0 1 0 -2.6 0M505.53 316.69a1.3 1.3 0 1 0 2.6 0a1.3 1.3 0 1 0 -2.6 0M507.74 318.49a1.3 1.3 0 1 0 2.6 0a1.3 1.3 0 1 0 -2.6 0M509.95 319.69a1.3 1.3 0 1 0 2.6 0a1.3 1.3 0 1 0 -2.6 0M512.16 319.79a1.3 1.3 0 1 0 2.6 0a1.3 1.3 0 1 0 -2.6 0M514.38 315.75a1.3 1.3 0 1 0 2.6 0a1.3 1.3 0 1 0 -2.6 0M516.59 308.93a1.3 1.3 0 1 0 2.6 0a1.3 1.3 0 1 0 -2.6 0M518.8 301.99a1.3 1.3 0 1 0 2.6 0a1.3 1.3 0 1 0 -2.6 0M521.01 293.77a1.3 1.3 0 1 0 2.6 0a1.3 1.3 0 1 0 -2.6 0M523.22 285.76a1.3 1.3 0 1 0 2.6 0a1.3 1.3 0 1 0 -2.6 0M525.43 278.74a1.3 1.3 0 1 0 2.6 0a1.3 1.3 0 1 0 -2.6 0M527.65 273.22a1.3 1.3 0 1 0 2.6 0a1.3 1.3 0 1 0 -2.6 0M529.86 269.22a1.3 1.3 0 1 0 2.6 0a1.3 1.3 0 1 0 -2.6 0M532.07 265.07a1.3 1.3 0 1 0 2.6 0a1.3 1.3 0 1 0 -2.6 0M534.28 260.99a1.3 1.3 0 1 0 2.6 0a1.3 1.3 0 1 0 -2.6 0M536.49 257.66a1.3 1.3 0 1 0 2.6 0a1.3 1.3 0 1 0 -2.6 0M538.7 255.78a1.3 1.3 0 1 0 2.6 0a1.3 1.3 0 1 0 -2.6 0M540.91 254.98a1.3 1.3 0 1 0 2.6 0a1.3 1.3 0 1 0 -2.6 0M543.13 255.33a1.3 1.3 0 1 0 2.6 0a1.3 1.3 0 1 0 -2.6 0M545.34 257.7a1.3 1.3 0 1 0 2.6 0a1.3 1.3 0 1 0 -2.6 0M547.55 261.46a1.3 1.3 0 1 0 2.6 0a1.3 1.3 0 1 0 -2.6 0M549.76 265.02a1.3 1.3 0 1 0 2.6 0a1.3 1.3 0 1 0 -2.6 0M551.97 268.38a1.3 1.3 0 1 0 2.6 0a1.3 1.3 0 1 0 -2.6 0M554.18 271.71a1.3 1.3 0 1 0 2.6 0a1.3 1.3 0 1 0 -2.6 0M556.4 274.8a1.3 1.3 0 1 0 2.6 0a1.3 1.3 0 1 0 -2.6 0M558.61 277.46a1.3 1.3 0 1 0 2.6 0a1.3 1.3 0 1 0 -2.6 0M560.82 279.98a1.3 1.3 0 1 0 2.6 0a1.3 1.3 0 1 0 -2.6 0M563.03 282.34a1.3 1.3 0 1 0 2.6 0a1.3 1.3 0 1 0 -2.6 0M565.24 284.23a1.3 1.3 0 1 0 2.6 0a1.3 1.3 0 1 0 -2.6 0M567.45 285.39a1.3 1.3 0 1 0 2.6 0a1.3 1.3 0 1 0 -2.6 0M569.67 286.14a1.3 1.3 0 1 0 2.6 0a1.3 1.3 0 1 0 -2.6 0M571.88 286.8a1.3 1.3 0 1 0 2.6 0a1.3 1.3 0 1 0 -2.6 0M574.09 287.34a1.3 1.3 0 1 0 2.6 0a1.3 1.3 0 1 0 -2.6 0M576.3 287.73a1.3 1.3 0 1 0 2.6 0a1.3 1.3 0 1 0 -2.6 0M578.51 287.96a1.3 1.3 0 1 0 2.6 0a1.3 1.3 0 1 0 -2.6 0M580.72 288.01a1.3 1.3 0 1 0 2.6 0a1.3 1.3 0 1 0 -2.6 0M582.94 288.04a1.3 1.3 0 1 0 2.6 0a1.3 1.3 0 1 0 -2.6 0M585.15 288.07a1.3 1.3 0 1 0 2.6 0a1.3 1.3 0 1 0 -2.6 0M587.36 288.09a1.3 1.3 0 1 0 2.6 0a1.3 1.3 0 1 0 -2.6 0M589.57 288.12a1.3 1.3 0 1 0 2.6 0a1.3 1.3 0 1 0 -2.6 0M591.78 288.14a1.3 1.3 0 1 0 2.6 0a1.3 1.3 0 1 0 -2.6 0M593.99 288.16a1.3 1.3 0 1 0 2.6 0a1.3 1.3 0 1 0 -2.6 0M596.2 288.18a1.3 1.3 0 1 0 2.6 0a1.3 1.3 0 1 0 -2.6 0M598.42 288.2a1.3 1.3 0 1 0 2.6 0a1.3 1.3 0 1 0 -2.6 0M600.63 288.22a1.3 1.3 0 1 0 2.6 0a1.3 1.3 0 1 0 -2.6 0M602.84 288.24a1.3 1.3 0 1 0 2.6 0a1.3 1.3 0 1 0 -2.6 0M605.05 288.25a1.3 1.3 0 1 0 2.6 0a1.3 1.3 0 1 0 -2.6 0M607.26 288.27a1.3 1.3 0 1 0 2.6 0a1.3 1.3 0 1 0 -2.6 0M609.47 288.28a1.3 1.3 0 1 0 2.6 0a1.3 1.3 0 1 0 -2.6 0M611.69 288.29a1.3 1.3 0 1 0 2.6 0a1.3 1.3 0 1 0 -2.6 0M613.9 288.31a1.3 1.3 0 1 0 2.6 0a1.3 1.3 0 1 0 -2.6 0M616.11 288.32a1.3 1.3 0 1 0 2.6 0a1.3 1.3 0 1 0 -2.6 0M618.32 288.33a1.3 1.3 0 1 0 2.6 0a1.3 1.3 0 1 0 -2.6 0M620.53 288.34a1.3 1.3 0 1 0 2.6 0a1.3 1.3 0 1 0 -2.6 0M622.74 288.35a1.3 1.3 0 1 0 2.6 0a1.3 1.3 0 1 0 -2.6 0M624.96 288.35a1.3 1.3 0 1 0 2.6 0a1.3 1.3 0 1 0 -2.6 0M627.17 288.36a1.3 1.3 0 1 0 2.6 0a1.3 1.3 0 1 0 -2.6 0M629.38 288.37a1.3 1.3 0 1 0 2.6 0a1.3 1.3 0 1 0 -2.6 0M631.59 288.37a1.3 1.3 0 1 0 2.6 0a1.3 1.3 0 1 0 -2.6 0M633.8 288.38a1.3 1.3 0 1 0 2.6 0a1.3 1.3 0 1 0 -2.6 0M636.01 288.38a1.3 1.3 0 1 0 2.6 0a1.3 1.3 0 1 0 -2.6 0M638.23 288.39a1.3 1.3 0 1 0 2.6 0a1.3 1.3 0 1 0 -2.6 0M640.44 288.39a1.3 1.3 0 1 0 2.6 0a1.3 1.3 0 1 0 -2.6 0M642.65 288.39a1.3 1.3 0 1 0 2.6 0a1.3 1.3 0 1 0 -2.6 0M644.86 288.39a1.3 1.3 0 1 0 2.6 0a1.3 1.3 0 1 0 -2.6 0M647.07 288.4a1.3 1.3 0 1 0 2.6 0a1.3 1.3 0 1 0 -2.6 0M649.28 288.4a1.3 1.3 0 1 0 2.6 0a1.3 1.3 0 1 0 -2.6 0M651.49 288.4a1.3 1.3 0 1 0 2.6 0a1.3 1.3 0 1 0 -2.6 0M653.71 288.4a1.3 1.3 0 1 0 2.6 0a1.3 1.3 0 1 0 -2.6 0M655.92 288.4a1.3 1.3 0 1 0 2.6 0a1.3 1.3 0 1 0 -2.6 0" fill="none" stroke="#383838" stroke-width="0.65"/><path d="M421.3 317.7 L421.9 317.7 L422.5 317.7 L423.1 317.7 L423.7 317.7 L424.3 317.7 L424.9 317.7 L425.5 317.88 L426.1 318.37 L426.7 319.14 L427.3 320.12 L427.9 321.26 L428.5 322.51 L429.1 323.82 L429.7 325.13 L430.3 326.4 L430.9 327.57 L431.5 328.61 L432.1 329.66 L432.7 330.73 L433.3 331.81 L433.9 332.9 L434.5 333.99 L435.1 335.07 L435.7 336.15 L436.3 337.21 L436.9 338.25 L437.5 339.26 L438.1 340.23 L438.7 341.17 L439.3 342.12 L439.9 343.07 L440.5 344.03 L441.1 344.97 L441.7 345.9 L442.3 346.79 L442.9 347.64 L443.5 348.43 L444.1 349.17 L444.7 349.84 L445.3 350.42 L445.9 350.94 L446.5 351.46 L447.1 351.97 L447.7 352.48 L448.3 352.98 L448.9 353.45 L449.5 353.9 L450.1 354.33 L450.7 354.72 L451.3 355.06 L451.9 355.36 L452.5 355.61 L453.1 355.81 L453.7 355.93 L454.3 356 L454.9 355.85 L455.5 355.12 L456.1 353.89 L456.7 352.26 L457.3 350.35 L457.9 348.27 L458.5 346.12 L459.1 344.04 L459.7 341.9 L460.3 339.45 L460.9 336.76 L461.5 333.92 L462.1 331.02 L462.7 328.15 L463.3 325.39 L463.9 322.58 L464.5 319.69 L465.1 316.79 L465.7 313.9 L466.3 311.07 L466.9 308.36 L467.5 305.8 L468.1 303.43 L468.7 301.13 L469.3 298.86 L469.9 296.66 L470.5 294.53 L471.1 292.48 L471.7 290.53 L472.3 288.71 L472.9 287.02 L473.5 285.48 L474.1 284.09 L474.7 282.81 L475.3 281.62 L475.9 280.51 L476.5 279.47 L477.1 278.46 L477.7 277.49 L478.3 276.54 L478.9 275.52 L479.5 274.43 L480.1 273.32 L480.7 272.25 L481.3 271.28 L481.9 270.46 L482.5 269.84 L483.1 269.47 L483.7 269.43 L484.3 269.89 L484.9 270.78 L485.5 271.93 L486.1 273.2 L486.7 274.9 L487.3 277.25 L487.9 279.98 L488.5 282.79 L489.1 285.42 L489.7 288.01 L490.3 290.61 L490.9 293.1 L491.5 295.45 L492.1 297.71 L492.7 299.92 L493.3 302.15 L493.9 304.41 L494.5 306.77 L495.1 309.2 L495.7 311.69 L496.3 314.19 L496.9 316.68 L497.5 319.13 L498.1 321.52 L498.7 323.8 L499.3 325.96 L499.9 328.01 L500.5 330.06 L501.1 332.07 L501.7 334.04 L502.3 335.92 L502.9 337.72 L503.5 339.39 L504.1 340.92 L504.7 342.29 L505.3 343.55 L505.9 344.84 L506.5 346.13 L507.1 347.41 L507.7 348.65 L508.3 349.84 L508.9 350.95 L509.5 351.97 L510.1 352.87 L510.7 353.64 L511.3 354.26 L511.9 354.7 L512.5 354.95 L513.1 354.96 L513.7 354.4 L514.3 353.25 L514.9 351.64 L515.5 349.67 L516.1 347.44 L516.7 345.07 L517.3 342.67 L517.9 340.35 L518.5 338.19 L519.1 335.97 L519.7 333.62 L520.3 331.16 L520.9 328.61 L521.5 325.99 L522.1 323.31 L522.7 320.6 L523.3 317.87 L523.9 315.15 L524.5 312.45 L525.1 309.65 L525.7 306.57 L526.3 303.38 L526.9 300.22 L527.5 297.24 L528.1 294.59 L528.7 292.44 L529.3 290.85 L529.9 289.36 L530.5 287.9 L531.1 286.48 L531.7 285.09 L532.3 283.74 L532.9 282.43 L533.5 281.17 L534.1 279.96 L534.7 278.8 L535.3 277.7 L535.9 276.66 L536.5 275.68 L537.1 274.77 L537.7 273.94 L538.3 273.17 L538.9 272.49 L539.5 271.89 L540.1 271.37 L540.7 270.95 L541.3 270.61 L541.9 270.37 L542.5 270.24 L543.1 270.21 L543.7 270.47 L544.3 271.09 L544.9 272.02 L545.5 273.2 L546.1 274.59 L546.7 276.13 L547.3 277.78 L547.9 279.48 L548.5 281.18 L549.1 282.83 L549.7 284.38 L550.3 285.78 L550.9 287.04 L551.5 288.32 L552.1 289.65 L552.7 290.99 L553.3 292.34 L553.9 293.7 L554.5 295.03 L555.1 296.35 L555.7 297.62 L556.3 298.85 L556.9 300.02 L557.5 301.11 L558.1 302.13 L558.7 303.04 L559.3 303.86 L559.9 304.57 L560.5 305.26 L561.1 305.92 L561.7 306.56 L562.3 307.18 L562.9 307.77 L563.5 308.34 L564.1 308.89 L564.7 309.41 L565.3 309.91 L565.9 310.38 L566.5 310.83 L567.1 311.25 L567.7 311.65 L568.3 312.03 L568.9 312.38 L569.5 312.71 L570.1 313.01 L570.7 313.29 L571.3 313.56 L571.9 313.84 L572.5 314.12 L573.1 314.38 L573.7 314.65 L574.3 314.91 L574.9 315.15 L575.5 315.39 L576.1 315.62 L576.7 315.84 L577.3 316.05 L577.9 316.24 L578.5 316.41 L579.1 316.57 L579.7 316.71 L580.3 316.83 L580.9 316.93 L581.5 317.01 L582.1 317.06 L582.7 317.1 L583.3 317.11 L583.9 317.12 L584.5 317.13 L585.1 317.14 L585.7 317.15 L586.3 317.16 L586.9 317.16 L587.5 317.17 L588.1 317.18 L588.7 317.19 L589.3 317.2 L589.9 317.21 L590.5 317.22 L591.1 317.23 L591.7 317.24 L592.3 317.24 L592.9 317.25 L593.5 317.26 L594.1 317.27 L594.7 317.28 L595.3 317.28 L595.9 317.29 L596.5 317.3 L597.1 317.3 L597.7 317.31 L598.3 317.32 L598.9 317.33 L599.5 317.33 L600.1 317.34 L600.7 317.35 L601.3 317.35 L601.9 317.36 L602.5 317.37 L603.1 317.37 L603.7 317.38 L604.3 317.38 L604.9 317.39 L605.5 317.4 L606.1 317.4 L606.7 317.41 L607.3 317.41 L607.9 317.42 L608.5 317.42 L609.1 317.43 L609.7 317.43 L610.3 317.44 L610.9 317.44 L611.5 317.45 L612.1 317.45 L612.7 317.46 L613.3 317.46 L613.9 317.47 L614.5 317.47 L615.1 317.47 L615.7 317.48 L616.3 317.48 L616.9 317.49 L617.5 317.49 L618.1 317.49 L618.7 317.5 L619.3 317.5 L619.9 317.51 L620.5 317.51 L621.1 317.51 L621.7 317.52 L622.3 317.52 L622.9 317.52 L623.5 317.53 L624.1 317.53 L624.7 317.53 L625.3 317.53 L625.9 317.54 L626.5 317.54 L627.1 317.54 L627.7 317.55 L628.3 317.55 L628.9 317.55 L629.5 317.55 L630.1 317.55 L630.7 317.56 L631.3 317.56 L631.9 317.56 L632.5 317.56 L633.1 317.57 L633.7 317.57 L634.3 317.57 L634.9 317.57 L635.5 317.57 L636.1 317.57 L636.7 317.58 L637.3 317.58 L637.9 317.58 L638.5 317.58 L639.1 317.58 L639.7 317.58 L640.3 317.58 L640.9 317.59 L641.5 317.59 L642.1 317.59 L642.7 317.59 L643.3 317.59 L643.9 317.59 L644.5 317.59 L645.1 317.59 L645.7 317.59 L646.3 317.59 L646.9 317.59 L647.5 317.59 L648.1 317.6 L648.7 317.6 L649.3 317.6 L649.9 317.6 L650.5 317.6 L651.1 317.6 L651.7 317.6 L652.3 317.6 L652.9 317.6 L653.5 317.6 L654.1 317.6 L654.7 317.6 L655.3 317.6 L655.9 317.6 L656.5 317.6 L657.1 317.6 L657.7 317.6 L657.8 317.6" fill="none" stroke="#ee1111" stroke-width="1.65" stroke-linejoin="round"/><path d="M423.7 317.71a1.3 1.3 0 1 0 2.6 0a1.3 1.3 0 1 0 -2.6 0M425.91 319.96a1.3 1.3 0 1 0 2.6 0a1.3 1.3 0 1 0 -2.6 0M428.12 324.53a1.3 1.3 0 1 0 2.6 0a1.3 1.3 0 1 0 -2.6 0M430.33 328.85a1.3 1.3 0 1 0 2.6 0a1.3 1.3 0 1 0 -2.6 0M432.55 332.8a1.3 1.3 0 1 0 2.6 0a1.3 1.3 0 1 0 -2.6 0M434.76 336.79a1.3 1.3 0 1 0 2.6 0a1.3 1.3 0 1 0 -2.6 0M436.97 340.5a1.3 1.3 0 1 0 2.6 0a1.3 1.3 0 1 0 -2.6 0M439.18 344a1.3 1.3 0 1 0 2.6 0a1.3 1.3 0 1 0 -2.6 0M441.39 347.35a1.3 1.3 0 1 0 2.6 0a1.3 1.3 0 1 0 -2.6 0M443.6 350.05a1.3 1.3 0 1 0 2.6 0a1.3 1.3 0 1 0 -2.6 0M445.82 351.99a1.3 1.3 0 1 0 2.6 0a1.3 1.3 0 1 0 -2.6 0M448.03 353.78a1.3 1.3 0 1 0 2.6 0a1.3 1.3 0 1 0 -2.6 0M450.24 355.19a1.3 1.3 0 1 0 2.6 0a1.3 1.3 0 1 0 -2.6 0M452.45 355.94a1.3 1.3 0 1 0 2.6 0a1.3 1.3 0 1 0 -2.6 0M454.66 354.21a1.3 1.3 0 1 0 2.6 0a1.3 1.3 0 1 0 -2.6 0M456.87 347.29a1.3 1.3 0 1 0 2.6 0a1.3 1.3 0 1 0 -2.6 0M459.09 339.11a1.3 1.3 0 1 0 2.6 0a1.3 1.3 0 1 0 -2.6 0M461.3 328.77a1.3 1.3 0 1 0 2.6 0a1.3 1.3 0 1 0 -2.6 0M463.51 318.69a1.3 1.3 0 1 0 2.6 0a1.3 1.3 0 1 0 -2.6 0M465.72 309.14a1.3 1.3 0 1 0 2.6 0a1.3 1.3 0 1 0 -2.6 0M467.93 301.69a1.3 1.3 0 1 0 2.6 0a1.3 1.3 0 1 0 -2.6 0M470.14 295.06a1.3 1.3 0 1 0 2.6 0a1.3 1.3 0 1 0 -2.6 0M472.36 289.06a1.3 1.3 0 1 0 2.6 0a1.3 1.3 0 1 0 -2.6 0M474.57 283.78a1.3 1.3 0 1 0 2.6 0a1.3 1.3 0 1 0 -2.6 0M476.78 279.32a1.3 1.3 0 1 0 2.6 0a1.3 1.3 0 1 0 -2.6 0M478.99 275.83a1.3 1.3 0 1 0 2.6 0a1.3 1.3 0 1 0 -2.6 0M481.2 274.05a1.3 1.3 0 1 0 2.6 0a1.3 1.3 0 1 0 -2.6 0M483.41 274.9a1.3 1.3 0 1 0 2.6 0a1.3 1.3 0 1 0 -2.6 0M485.62 278.53a1.3 1.3 0 1 0 2.6 0a1.3 1.3 0 1 0 -2.6 0M487.84 286.61a1.3 1.3 0 1 0 2.6 0a1.3 1.3 0 1 0 -2.6 0M490.05 295.09a1.3 1.3 0 1 0 2.6 0a1.3 1.3 0 1 0 -2.6 0M492.26 303.15a1.3 1.3 0 1 0 2.6 0a1.3 1.3 0 1 0 -2.6 0M494.47 311.98a1.3 1.3 0 1 0 2.6 0a1.3 1.3 0 1 0 -2.6 0M496.68 321.06a1.3 1.3 0 1 0 2.6 0a1.3 1.3 0 1 0 -2.6 0M498.89 329.02a1.3 1.3 0 1 0 2.6 0a1.3 1.3 0 1 0 -2.6 0M501.11 336.25a1.3 1.3 0 1 0 2.6 0a1.3 1.3 0 1 0 -2.6 0M503.32 342.11a1.3 1.3 0 1 0 2.6 0a1.3 1.3 0 1 0 -2.6 0M505.53 346.83a1.3 1.3 0 1 0 2.6 0a1.3 1.3 0 1 0 -2.6 0M507.74 351.2a1.3 1.3 0 1 0 2.6 0a1.3 1.3 0 1 0 -2.6 0M509.95 354.21a1.3 1.3 0 1 0 2.6 0a1.3 1.3 0 1 0 -2.6 0M512.16 354.69a1.3 1.3 0 1 0 2.6 0a1.3 1.3 0 1 0 -2.6 0M514.38 349.04a1.3 1.3 0 1 0 2.6 0a1.3 1.3 0 1 0 -2.6 0M516.59 340.4a1.3 1.3 0 1 0 2.6 0a1.3 1.3 0 1 0 -2.6 0M518.8 332.01a1.3 1.3 0 1 0 2.6 0a1.3 1.3 0 1 0 -2.6 0M521.01 322.42a1.3 1.3 0 1 0 2.6 0a1.3 1.3 0 1 0 -2.6 0M523.22 312.59a1.3 1.3 0 1 0 2.6 0a1.3 1.3 0 1 0 -2.6 0M525.43 301.85a1.3 1.3 0 1 0 2.6 0a1.3 1.3 0 1 0 -2.6 0M527.65 293.54a1.3 1.3 0 1 0 2.6 0a1.3 1.3 0 1 0 -2.6 0M529.86 289.45a1.3 1.3 0 1 0 2.6 0a1.3 1.3 0 1 0 -2.6 0M532.07 285.42a1.3 1.3 0 1 0 2.6 0a1.3 1.3 0 1 0 -2.6 0M534.28 281.12a1.3 1.3 0 1 0 2.6 0a1.3 1.3 0 1 0 -2.6 0M536.49 277.36a1.3 1.3 0 1 0 2.6 0a1.3 1.3 0 1 0 -2.6 0M538.7 275.48a1.3 1.3 0 1 0 2.6 0a1.3 1.3 0 1 0 -2.6 0M540.91 275.12a1.3 1.3 0 1 0 2.6 0a1.3 1.3 0 1 0 -2.6 0M543.13 275.42a1.3 1.3 0 1 0 2.6 0a1.3 1.3 0 1 0 -2.6 0M545.34 278.15a1.3 1.3 0 1 0 2.6 0a1.3 1.3 0 1 0 -2.6 0M547.55 282.82a1.3 1.3 0 1 0 2.6 0a1.3 1.3 0 1 0 -2.6 0M549.76 287.5a1.3 1.3 0 1 0 2.6 0a1.3 1.3 0 1 0 -2.6 0M551.97 292.3a1.3 1.3 0 1 0 2.6 0a1.3 1.3 0 1 0 -2.6 0M554.18 297.17a1.3 1.3 0 1 0 2.6 0a1.3 1.3 0 1 0 -2.6 0M556.4 301.46a1.3 1.3 0 1 0 2.6 0a1.3 1.3 0 1 0 -2.6 0M558.61 304.58a1.3 1.3 0 1 0 2.6 0a1.3 1.3 0 1 0 -2.6 0M560.82 306.99a1.3 1.3 0 1 0 2.6 0a1.3 1.3 0 1 0 -2.6 0M563.03 309.09a1.3 1.3 0 1 0 2.6 0a1.3 1.3 0 1 0 -2.6 0M565.24 310.86a1.3 1.3 0 1 0 2.6 0a1.3 1.3 0 1 0 -2.6 0M567.45 312.3a1.3 1.3 0 1 0 2.6 0a1.3 1.3 0 1 0 -2.6 0M569.67 313.41a1.3 1.3 0 1 0 2.6 0a1.3 1.3 0 1 0 -2.6 0M571.88 314.42a1.3 1.3 0 1 0 2.6 0a1.3 1.3 0 1 0 -2.6 0M574.09 315.35a1.3 1.3 0 1 0 2.6 0a1.3 1.3 0 1 0 -2.6 0M576.3 316.14a1.3 1.3 0 1 0 2.6 0a1.3 1.3 0 1 0 -2.6 0M578.51 316.73a1.3 1.3 0 1 0 2.6 0a1.3 1.3 0 1 0 -2.6 0M580.72 317.06a1.3 1.3 0 1 0 2.6 0a1.3 1.3 0 1 0 -2.6 0M582.94 317.12a1.3 1.3 0 1 0 2.6 0a1.3 1.3 0 1 0 -2.6 0M585.15 317.16a1.3 1.3 0 1 0 2.6 0a1.3 1.3 0 1 0 -2.6 0M587.36 317.19a1.3 1.3 0 1 0 2.6 0a1.3 1.3 0 1 0 -2.6 0M589.57 317.22a1.3 1.3 0 1 0 2.6 0a1.3 1.3 0 1 0 -2.6 0M591.78 317.25a1.3 1.3 0 1 0 2.6 0a1.3 1.3 0 1 0 -2.6 0M593.99 317.28a1.3 1.3 0 1 0 2.6 0a1.3 1.3 0 1 0 -2.6 0M596.2 317.31a1.3 1.3 0 1 0 2.6 0a1.3 1.3 0 1 0 -2.6 0M598.42 317.34a1.3 1.3 0 1 0 2.6 0a1.3 1.3 0 1 0 -2.6 0M600.63 317.36a1.3 1.3 0 1 0 2.6 0a1.3 1.3 0 1 0 -2.6 0M602.84 317.38a1.3 1.3 0 1 0 2.6 0a1.3 1.3 0 1 0 -2.6 0M605.05 317.4a1.3 1.3 0 1 0 2.6 0a1.3 1.3 0 1 0 -2.6 0M607.26 317.42a1.3 1.3 0 1 0 2.6 0a1.3 1.3 0 1 0 -2.6 0M609.47 317.44a1.3 1.3 0 1 0 2.6 0a1.3 1.3 0 1 0 -2.6 0M611.69 317.46a1.3 1.3 0 1 0 2.6 0a1.3 1.3 0 1 0 -2.6 0M613.9 317.48a1.3 1.3 0 1 0 2.6 0a1.3 1.3 0 1 0 -2.6 0M616.11 317.49a1.3 1.3 0 1 0 2.6 0a1.3 1.3 0 1 0 -2.6 0M618.32 317.5a1.3 1.3 0 1 0 2.6 0a1.3 1.3 0 1 0 -2.6 0M620.53 317.52a1.3 1.3 0 1 0 2.6 0a1.3 1.3 0 1 0 -2.6 0M622.74 317.53a1.3 1.3 0 1 0 2.6 0a1.3 1.3 0 1 0 -2.6 0M624.96 317.54a1.3 1.3 0 1 0 2.6 0a1.3 1.3 0 1 0 -2.6 0M627.17 317.55a1.3 1.3 0 1 0 2.6 0a1.3 1.3 0 1 0 -2.6 0M629.38 317.56a1.3 1.3 0 1 0 2.6 0a1.3 1.3 0 1 0 -2.6 0M631.59 317.56a1.3 1.3 0 1 0 2.6 0a1.3 1.3 0 1 0 -2.6 0M633.8 317.57a1.3 1.3 0 1 0 2.6 0a1.3 1.3 0 1 0 -2.6 0M636.01 317.58a1.3 1.3 0 1 0 2.6 0a1.3 1.3 0 1 0 -2.6 0M638.23 317.58a1.3 1.3 0 1 0 2.6 0a1.3 1.3 0 1 0 -2.6 0M640.44 317.59a1.3 1.3 0 1 0 2.6 0a1.3 1.3 0 1 0 -2.6 0M642.65 317.59a1.3 1.3 0 1 0 2.6 0a1.3 1.3 0 1 0 -2.6 0M644.86 317.59a1.3 1.3 0 1 0 2.6 0a1.3 1.3 0 1 0 -2.6 0M647.07 317.6a1.3 1.3 0 1 0 2.6 0a1.3 1.3 0 1 0 -2.6 0M649.28 317.6a1.3 1.3 0 1 0 2.6 0a1.3 1.3 0 1 0 -2.6 0M651.49 317.6a1.3 1.3 0 1 0 2.6 0a1.3 1.3 0 1 0 -2.6 0M653.71 317.6a1.3 1.3 0 1 0 2.6 0a1.3 1.3 0 1 0 -2.6 0M655.92 317.6a1.3 1.3 0 1 0 2.6 0a1.3 1.3 0 1 0 -2.6 0" fill="none" stroke="#383838" stroke-width="0.65"/><rect x="425" y="423.9" width="29.1" height="161.2" fill="#cccccc"/><rect x="454.1" y="423.9" width="29.1" height="161.2" fill="#e6e6e6"/><rect x="483.2" y="423.9" width="29.1" height="161.2" fill="#cccccc"/><rect x="512.3" y="423.9" width="29.1" height="161.2" fill="#e6e6e6"/><rect x="401.7" y="423.9" width="261.9" height="161.2" fill="none" stroke="#a4a4a4" stroke-width="1.1"/><path d="M410.45 585.1v-2.0M410.45 423.9v2.0M425 585.1v-3.5M425 423.9v3.5M439.55 585.1v-2.0M439.55 423.9v2.0M454.1 585.1v-2.0M454.1 423.9v2.0M468.65 585.1v-2.0M468.65 423.9v2.0M483.2 585.1v-3.5M483.2 423.9v3.5M497.75 585.1v-2.0M497.75 423.9v2.0M512.3 585.1v-2.0M512.3 423.9v2.0M526.85 585.1v-2.0M526.85 423.9v2.0M541.4 585.1v-3.5M541.4 423.9v3.5M555.95 585.1v-2.0M555.95 423.9v2.0M570.5 585.1v-2.0M570.5 423.9v2.0M585.05 585.1v-2.0M585.05 423.9v2.0M599.6 585.1v-3.5M599.6 423.9v3.5M614.15 585.1v-2.0M614.15 423.9v2.0M628.7 585.1v-2.0M628.7 423.9v2.0M643.25 585.1v-2.0M643.25 423.9v2.0M657.8 585.1v-3.5M657.8 423.9v3.5M401.7 584.95h2.0M663.6 584.95h-2.0M401.7 578.3h3.5M663.6 578.3h-3.5M401.7 571.65h2.0M663.6 571.65h-2.0M401.7 565h2.0M663.6 565h-2.0M401.7 558.35h2.0M663.6 558.35h-2.0M401.7 551.7h3.5M663.6 551.7h-3.5M401.7 545.05h2.0M663.6 545.05h-2.0M401.7 538.4h2.0M663.6 538.4h-2.0M401.7 531.75h2.0M663.6 531.75h-2.0M401.7 525.1h3.5M663.6 525.1h-3.5M401.7 518.45h2.0M663.6 518.45h-2.0M401.7 511.8h2.0M663.6 511.8h-2.0M401.7 505.15h2.0M663.6 505.15h-2.0M401.7 498.5h3.5M663.6 498.5h-3.5M401.7 491.85h2.0M663.6 491.85h-2.0M401.7 485.2h2.0M663.6 485.2h-2.0M401.7 478.55h2.0M663.6 478.55h-2.0M401.7 471.9h3.5M663.6 471.9h-3.5M401.7 465.25h2.0M663.6 465.25h-2.0M401.7 458.6h2.0M663.6 458.6h-2.0M401.7 451.95h2.0M663.6 451.95h-2.0M401.7 445.3h3.5M663.6 445.3h-3.5M401.7 438.65h2.0M663.6 438.65h-2.0M401.7 432h2.0M663.6 432h-2.0M401.7 425.35h2.0M663.6 425.35h-2.0" stroke="#a4a4a4" stroke-width="1" fill="none"/><text x="398.5" y="449.2" class="tl" text-anchor="end">0</text><text x="398.5" y="475.8" class="tl" text-anchor="end"><tspan>−</tspan><tspan dx="1.2">0.2</tspan></text><text x="398.5" y="502.4" class="tl" text-anchor="end"><tspan>−</tspan><tspan dx="1.2">0.4</tspan></text><text x="398.5" y="529" class="tl" text-anchor="end"><tspan>−</tspan><tspan dx="1.2">0.6</tspan></text><text x="398.5" y="555.6" class="tl" text-anchor="end"><tspan>−</tspan><tspan dx="1.2">0.8</tspan></text><text x="398.5" y="582.2" class="tl" text-anchor="end"><tspan>−</tspan><tspan dx="1.2">1.0</tspan></text><text x="425" y="599.3" class="tl" text-anchor="middle">0</text><text x="483.2" y="599.3" class="tl" text-anchor="middle">200</text><text x="541.4" y="599.3" class="tl" text-anchor="middle">400</text><text x="599.6" y="599.3" class="tl" text-anchor="middle">600</text><text x="657.8" y="599.3" class="tl" text-anchor="middle">800</text><text transform="translate(366.4 504.5) rotate(-90)" class="ax" text-anchor="middle">response (mV)</text><text x="532" y="620.3" class="ax" text-anchor="middle">time (ms)</text><text x="655.1" y="576.5" class="td" text-anchor="end">1 Td</text><text x="412.3" y="447.3" class="sl" text-anchor="middle">0.2</text><text x="412.3" y="481.4" class="sl" text-anchor="middle">0.5</text><text x="412.3" y="515.5" class="sl" text-anchor="middle">0.8</text><text x="412.7" y="550" class="sl" text-anchor="middle">1</text><path d="M421.3 444.8 L421.9 444.8 L422.5 444.8 L423.1 444.8 L423.7 444.8 L424.3 444.8 L424.9 444.8 L425.5 444.81 L426.1 444.84 L426.7 444.9 L427.3 444.97 L427.9 445.05 L428.5 445.15 L429.1 445.27 L429.7 445.39 L430.3 445.53 L430.9 445.67 L431.5 445.82 L432.1 445.98 L432.7 446.13 L433.3 446.29 L433.9 446.45 L434.5 446.61 L435.1 446.77 L435.7 446.92 L436.3 447.07 L436.9 447.2 L437.5 447.33 L438.1 447.45 L438.7 447.55 L439.3 447.65 L439.9 447.75 L440.5 447.85 L441.1 447.95 L441.7 448.04 L442.3 448.14 L442.9 448.23 L443.5 448.32 L444.1 448.41 L444.7 448.5 L445.3 448.59 L445.9 448.68 L446.5 448.76 L447.1 448.85 L447.7 448.94 L448.3 449.02 L448.9 449.11 L449.5 449.2 L450.1 449.28 L450.7 449.37 L451.3 449.46 L451.9 449.55 L452.5 449.64 L453.1 449.72 L453.7 449.77 L454.3 449.57 L454.9 449.37 L455.5 449.17 L456.1 448.97 L456.7 448.77 L457.3 448.57 L457.9 448.37 L458.5 448.17 L459.1 447.97 L459.7 447.77 L460.3 447.57 L460.9 447.37 L461.5 447.17 L462.1 446.97 L462.7 446.77 L463.3 446.57 L463.9 446.37 L464.5 446.18 L465.1 445.98 L465.7 445.79 L466.3 445.6 L466.9 445.41 L467.5 445.23 L468.1 445.04 L468.7 444.86 L469.3 444.68 L469.9 444.48 L470.5 444.28 L471.1 444.07 L471.7 443.86 L472.3 443.64 L472.9 443.42 L473.5 443.2 L474.1 442.98 L474.7 442.76 L475.3 442.54 L475.9 442.33 L476.5 442.12 L477.1 441.93 L477.7 441.74 L478.3 441.57 L478.9 441.41 L479.5 441.27 L480.1 441.14 L480.7 441.03 L481.3 440.94 L481.9 440.87 L482.5 440.82 L483.1 440.8 L483.7 440.81 L484.3 440.85 L484.9 440.93 L485.5 441.03 L486.1 441.17 L486.7 441.33 L487.3 441.51 L487.9 441.71 L488.5 441.94 L489.1 442.17 L489.7 442.42 L490.3 442.68 L490.9 442.95 L491.5 443.23 L492.1 443.5 L492.7 443.78 L493.3 444.05 L493.9 444.32 L494.5 444.58 L495.1 444.83 L495.7 445.06 L496.3 445.29 L496.9 445.49 L497.5 445.67 L498.1 445.84 L498.7 446 L499.3 446.16 L499.9 446.31 L500.5 446.47 L501.1 446.62 L501.7 446.76 L502.3 446.91 L502.9 447.05 L503.5 447.19 L504.1 447.32 L504.7 447.46 L505.3 447.6 L505.9 447.73 L506.5 447.86 L507.1 448 L507.7 448.13 L508.3 448.26 L508.9 448.39 L509.5 448.53 L510.1 448.66 L510.7 448.79 L511.3 448.93 L511.9 449.07 L512.5 449.21 L513.1 449.24 L513.7 449.05 L514.3 448.86 L514.9 448.68 L515.5 448.5 L516.1 448.31 L516.7 448.13 L517.3 447.94 L517.9 447.75 L518.5 447.54 L519.1 447.33 L519.7 447.11 L520.3 446.88 L520.9 446.62 L521.5 446.32 L522.1 446.01 L522.7 445.68 L523.3 445.34 L523.9 444.99 L524.5 444.65 L525.1 444.31 L525.7 443.98 L526.3 443.66 L526.9 443.37 L527.5 443.11 L528.1 442.87 L528.7 442.68 L529.3 442.52 L529.9 442.38 L530.5 442.23 L531.1 442.08 L531.7 441.94 L532.3 441.8 L532.9 441.67 L533.5 441.53 L534.1 441.41 L534.7 441.28 L535.3 441.17 L535.9 441.05 L536.5 440.95 L537.1 440.85 L537.7 440.75 L538.3 440.67 L538.9 440.59 L539.5 440.52 L540.1 440.46 L540.7 440.41 L541.3 440.37 L541.9 440.33 L542.5 440.31 L543.1 440.3 L543.7 440.3 L544.3 440.33 L544.9 440.39 L545.5 440.46 L546.1 440.56 L546.7 440.68 L547.3 440.81 L547.9 440.95 L548.5 441.11 L549.1 441.27 L549.7 441.45 L550.3 441.62 L550.9 441.8 L551.5 441.97 L552.1 442.15 L552.7 442.31 L553.3 442.47 L553.9 442.62 L554.5 442.75 L555.1 442.87 L555.7 442.97 L556.3 443.06 L556.9 443.14 L557.5 443.23 L558.1 443.31 L558.7 443.4 L559.3 443.48 L559.9 443.57 L560.5 443.65 L561.1 443.73 L561.7 443.81 L562.3 443.89 L562.9 443.97 L563.5 444.05 L564.1 444.12 L564.7 444.19 L565.3 444.26 L565.9 444.33 L566.5 444.39 L567.1 444.45 L567.7 444.5 L568.3 444.55 L568.9 444.6 L569.5 444.64 L570.1 444.68 L570.7 444.71 L571.3 444.74 L571.9 444.77 L572.5 444.78 L573.1 444.79 L573.7 444.8 L574.3 444.8 L574.9 444.8 L575.5 444.8 L576.1 444.8 L576.7 444.8 L577.3 444.8 L577.9 444.8 L578.5 444.8 L579.1 444.8 L579.7 444.8 L580.3 444.8 L580.9 444.8 L581.5 444.8 L582.1 444.8 L582.7 444.8 L583.3 444.8 L583.9 444.8 L584.5 444.8 L585.1 444.8 L585.7 444.8 L586.3 444.8 L586.9 444.8 L587.5 444.8 L588.1 444.8 L588.7 444.8 L589.3 444.8 L589.9 444.8 L590.5 444.8 L591.1 444.8 L591.7 444.8 L592.3 444.8 L592.9 444.8 L593.5 444.8 L594.1 444.8 L594.7 444.8 L595.3 444.8 L595.9 444.8 L596.5 444.8 L597.1 444.8 L597.7 444.8 L598.3 444.8 L598.9 444.8 L599.5 444.8 L600.1 444.8 L600.7 444.8 L601.3 444.8 L601.9 444.8 L602.5 444.8 L603.1 444.8 L603.7 444.8 L604.3 444.8 L604.9 444.8 L605.5 444.8 L606.1 444.8 L606.7 444.8 L607.3 444.8 L607.9 444.8 L608.5 444.8 L609.1 444.8 L609.7 444.8 L610.3 444.8 L610.9 444.8 L611.5 444.8 L612.1 444.8 L612.7 444.8 L613.3 444.8 L613.9 444.8 L614.5 444.8 L615.1 444.8 L615.7 444.8 L616.3 444.8 L616.9 444.8 L617.5 444.8 L618.1 444.8 L618.7 444.8 L619.3 444.8 L619.9 444.8 L620.5 444.8 L621.1 444.8 L621.7 444.8 L622.3 444.8 L622.9 444.8 L623.5 444.8 L624.1 444.8 L624.7 444.8 L625.3 444.8 L625.9 444.8 L626.5 444.8 L627.1 444.8 L627.7 444.8 L628.3 444.8 L628.9 444.8 L629.5 444.8 L630.1 444.8 L630.7 444.8 L631.3 444.8 L631.9 444.8 L632.5 444.8 L633.1 444.8 L633.7 444.8 L634.3 444.8 L634.9 444.8 L635.5 444.8 L636.1 444.8 L636.7 444.8 L637.3 444.8 L637.9 444.8 L638.5 444.8 L639.1 444.8 L639.7 444.8 L640.3 444.8 L640.9 444.8 L641.5 444.8 L642.1 444.8 L642.7 444.8 L643.3 444.8 L643.9 444.8 L644.5 444.8 L645.1 444.8 L645.7 444.8 L646.3 444.8 L646.9 444.8 L647.5 444.8 L648.1 444.8 L648.7 444.8 L649.3 444.8 L649.9 444.8 L650.5 444.8 L651.1 444.8 L651.7 444.8 L652.3 444.8 L652.9 444.8 L653.5 444.8 L654.1 444.8 L654.7 444.8 L655.3 444.8 L655.9 444.8 L656.5 444.8 L657.1 444.8 L657.7 444.8 L657.8 444.8" fill="none" stroke="#ee1111" stroke-width="1.65" stroke-linejoin="round"/><path d="M423.7 444.8a1.3 1.3 0 1 0 2.6 0a1.3 1.3 0 1 0 -2.6 0M425.91 444.95a1.3 1.3 0 1 0 2.6 0a1.3 1.3 0 1 0 -2.6 0M428.12 445.33a1.3 1.3 0 1 0 2.6 0a1.3 1.3 0 1 0 -2.6 0M430.33 445.85a1.3 1.3 0 1 0 2.6 0a1.3 1.3 0 1 0 -2.6 0M432.55 446.44a1.3 1.3 0 1 0 2.6 0a1.3 1.3 0 1 0 -2.6 0M434.76 447.01a1.3 1.3 0 1 0 2.6 0a1.3 1.3 0 1 0 -2.6 0M436.97 447.48a1.3 1.3 0 1 0 2.6 0a1.3 1.3 0 1 0 -2.6 0M439.18 447.85a1.3 1.3 0 1 0 2.6 0a1.3 1.3 0 1 0 -2.6 0M441.39 448.2a1.3 1.3 0 1 0 2.6 0a1.3 1.3 0 1 0 -2.6 0M443.6 448.53a1.3 1.3 0 1 0 2.6 0a1.3 1.3 0 1 0 -2.6 0M445.82 448.86a1.3 1.3 0 1 0 2.6 0a1.3 1.3 0 1 0 -2.6 0M448.03 449.18a1.3 1.3 0 1 0 2.6 0a1.3 1.3 0 1 0 -2.6 0M450.24 449.51a1.3 1.3 0 1 0 2.6 0a1.3 1.3 0 1 0 -2.6 0M452.45 449.78a1.3 1.3 0 1 0 2.6 0a1.3 1.3 0 1 0 -2.6 0M454.66 449.06a1.3 1.3 0 1 0 2.6 0a1.3 1.3 0 1 0 -2.6 0M456.87 448.35a1.3 1.3 0 1 0 2.6 0a1.3 1.3 0 1 0 -2.6 0M459.09 447.65a1.3 1.3 0 1 0 2.6 0a1.3 1.3 0 1 0 -2.6 0M461.3 446.98a1.3 1.3 0 1 0 2.6 0a1.3 1.3 0 1 0 -2.6 0M463.51 446.33a1.3 1.3 0 1 0 2.6 0a1.3 1.3 0 1 0 -2.6 0M465.72 445.72a1.3 1.3 0 1 0 2.6 0a1.3 1.3 0 1 0 -2.6 0M467.93 445.15a1.3 1.3 0 1 0 2.6 0a1.3 1.3 0 1 0 -2.6 0M470.14 444.51a1.3 1.3 0 1 0 2.6 0a1.3 1.3 0 1 0 -2.6 0M472.36 443.79a1.3 1.3 0 1 0 2.6 0a1.3 1.3 0 1 0 -2.6 0M474.57 443.07a1.3 1.3 0 1 0 2.6 0a1.3 1.3 0 1 0 -2.6 0M476.78 442.42a1.3 1.3 0 1 0 2.6 0a1.3 1.3 0 1 0 -2.6 0M478.99 441.9a1.3 1.3 0 1 0 2.6 0a1.3 1.3 0 1 0 -2.6 0M481.2 441.6a1.3 1.3 0 1 0 2.6 0a1.3 1.3 0 1 0 -2.6 0M483.41 441.61a1.3 1.3 0 1 0 2.6 0a1.3 1.3 0 1 0 -2.6 0M485.62 442.02a1.3 1.3 0 1 0 2.6 0a1.3 1.3 0 1 0 -2.6 0M487.84 442.72a1.3 1.3 0 1 0 2.6 0a1.3 1.3 0 1 0 -2.6 0M490.05 443.58a1.3 1.3 0 1 0 2.6 0a1.3 1.3 0 1 0 -2.6 0M492.26 444.49a1.3 1.3 0 1 0 2.6 0a1.3 1.3 0 1 0 -2.6 0M494.47 445.32a1.3 1.3 0 1 0 2.6 0a1.3 1.3 0 1 0 -2.6 0M496.68 445.97a1.3 1.3 0 1 0 2.6 0a1.3 1.3 0 1 0 -2.6 0M498.89 446.5a1.3 1.3 0 1 0 2.6 0a1.3 1.3 0 1 0 -2.6 0M501.11 447a1.3 1.3 0 1 0 2.6 0a1.3 1.3 0 1 0 -2.6 0M503.32 447.49a1.3 1.3 0 1 0 2.6 0a1.3 1.3 0 1 0 -2.6 0M505.53 447.97a1.3 1.3 0 1 0 2.6 0a1.3 1.3 0 1 0 -2.6 0M507.74 448.46a1.3 1.3 0 1 0 2.6 0a1.3 1.3 0 1 0 -2.6 0M509.95 448.97a1.3 1.3 0 1 0 2.6 0a1.3 1.3 0 1 0 -2.6 0M512.16 449.2a1.3 1.3 0 1 0 2.6 0a1.3 1.3 0 1 0 -2.6 0M514.38 448.57a1.3 1.3 0 1 0 2.6 0a1.3 1.3 0 1 0 -2.6 0M516.59 447.94a1.3 1.3 0 1 0 2.6 0a1.3 1.3 0 1 0 -2.6 0M518.8 447.23a1.3 1.3 0 1 0 2.6 0a1.3 1.3 0 1 0 -2.6 0M521.01 446.25a1.3 1.3 0 1 0 2.6 0a1.3 1.3 0 1 0 -2.6 0M523.22 445.1a1.3 1.3 0 1 0 2.6 0a1.3 1.3 0 1 0 -2.6 0M525.43 444.02a1.3 1.3 0 1 0 2.6 0a1.3 1.3 0 1 0 -2.6 0M527.65 443.28a1.3 1.3 0 1 0 2.6 0a1.3 1.3 0 1 0 -2.6 0M529.86 442.81a1.3 1.3 0 1 0 2.6 0a1.3 1.3 0 1 0 -2.6 0M532.07 442.35a1.3 1.3 0 1 0 2.6 0a1.3 1.3 0 1 0 -2.6 0M534.28 441.91a1.3 1.3 0 1 0 2.6 0a1.3 1.3 0 1 0 -2.6 0M536.49 441.51a1.3 1.3 0 1 0 2.6 0a1.3 1.3 0 1 0 -2.6 0M538.7 441.18a1.3 1.3 0 1 0 2.6 0a1.3 1.3 0 1 0 -2.6 0M540.91 440.94a1.3 1.3 0 1 0 2.6 0a1.3 1.3 0 1 0 -2.6 0M543.13 440.85a1.3 1.3 0 1 0 2.6 0a1.3 1.3 0 1 0 -2.6 0M545.34 441.07a1.3 1.3 0 1 0 2.6 0a1.3 1.3 0 1 0 -2.6 0M547.55 441.51a1.3 1.3 0 1 0 2.6 0a1.3 1.3 0 1 0 -2.6 0M549.76 442.07a1.3 1.3 0 1 0 2.6 0a1.3 1.3 0 1 0 -2.6 0M551.97 442.61a1.3 1.3 0 1 0 2.6 0a1.3 1.3 0 1 0 -2.6 0M554.18 443.04a1.3 1.3 0 1 0 2.6 0a1.3 1.3 0 1 0 -2.6 0M556.4 443.31a1.3 1.3 0 1 0 2.6 0a1.3 1.3 0 1 0 -2.6 0M558.61 443.6a1.3 1.3 0 1 0 2.6 0a1.3 1.3 0 1 0 -2.6 0M560.82 443.89a1.3 1.3 0 1 0 2.6 0a1.3 1.3 0 1 0 -2.6 0M563.03 444.16a1.3 1.3 0 1 0 2.6 0a1.3 1.3 0 1 0 -2.6 0M565.24 444.4a1.3 1.3 0 1 0 2.6 0a1.3 1.3 0 1 0 -2.6 0M567.45 444.59a1.3 1.3 0 1 0 2.6 0a1.3 1.3 0 1 0 -2.6 0M569.67 444.73a1.3 1.3 0 1 0 2.6 0a1.3 1.3 0 1 0 -2.6 0M571.88 444.8a1.3 1.3 0 1 0 2.6 0a1.3 1.3 0 1 0 -2.6 0M574.09 444.8a1.3 1.3 0 1 0 2.6 0a1.3 1.3 0 1 0 -2.6 0M576.3 444.8a1.3 1.3 0 1 0 2.6 0a1.3 1.3 0 1 0 -2.6 0M578.51 444.8a1.3 1.3 0 1 0 2.6 0a1.3 1.3 0 1 0 -2.6 0M580.72 444.8a1.3 1.3 0 1 0 2.6 0a1.3 1.3 0 1 0 -2.6 0M582.94 444.8a1.3 1.3 0 1 0 2.6 0a1.3 1.3 0 1 0 -2.6 0M585.15 444.8a1.3 1.3 0 1 0 2.6 0a1.3 1.3 0 1 0 -2.6 0M587.36 444.8a1.3 1.3 0 1 0 2.6 0a1.3 1.3 0 1 0 -2.6 0M589.57 444.8a1.3 1.3 0 1 0 2.6 0a1.3 1.3 0 1 0 -2.6 0M591.78 444.8a1.3 1.3 0 1 0 2.6 0a1.3 1.3 0 1 0 -2.6 0M593.99 444.8a1.3 1.3 0 1 0 2.6 0a1.3 1.3 0 1 0 -2.6 0M596.2 444.8a1.3 1.3 0 1 0 2.6 0a1.3 1.3 0 1 0 -2.6 0M598.42 444.8a1.3 1.3 0 1 0 2.6 0a1.3 1.3 0 1 0 -2.6 0M600.63 444.8a1.3 1.3 0 1 0 2.6 0a1.3 1.3 0 1 0 -2.6 0M602.84 444.8a1.3 1.3 0 1 0 2.6 0a1.3 1.3 0 1 0 -2.6 0M605.05 444.8a1.3 1.3 0 1 0 2.6 0a1.3 1.3 0 1 0 -2.6 0M607.26 444.8a1.3 1.3 0 1 0 2.6 0a1.3 1.3 0 1 0 -2.6 0M609.47 444.8a1.3 1.3 0 1 0 2.6 0a1.3 1.3 0 1 0 -2.6 0M611.69 444.8a1.3 1.3 0 1 0 2.6 0a1.3 1.3 0 1 0 -2.6 0M613.9 444.8a1.3 1.3 0 1 0 2.6 0a1.3 1.3 0 1 0 -2.6 0M616.11 444.8a1.3 1.3 0 1 0 2.6 0a1.3 1.3 0 1 0 -2.6 0M618.32 444.8a1.3 1.3 0 1 0 2.6 0a1.3 1.3 0 1 0 -2.6 0M620.53 444.8a1.3 1.3 0 1 0 2.6 0a1.3 1.3 0 1 0 -2.6 0M622.74 444.8a1.3 1.3 0 1 0 2.6 0a1.3 1.3 0 1 0 -2.6 0M624.96 444.8a1.3 1.3 0 1 0 2.6 0a1.3 1.3 0 1 0 -2.6 0M627.17 444.8a1.3 1.3 0 1 0 2.6 0a1.3 1.3 0 1 0 -2.6 0M629.38 444.8a1.3 1.3 0 1 0 2.6 0a1.3 1.3 0 1 0 -2.6 0M631.59 444.8a1.3 1.3 0 1 0 2.6 0a1.3 1.3 0 1 0 -2.6 0M633.8 444.8a1.3 1.3 0 1 0 2.6 0a1.3 1.3 0 1 0 -2.6 0M636.01 444.8a1.3 1.3 0 1 0 2.6 0a1.3 1.3 0 1 0 -2.6 0M638.23 444.8a1.3 1.3 0 1 0 2.6 0a1.3 1.3 0 1 0 -2.6 0M640.44 444.8a1.3 1.3 0 1 0 2.6 0a1.3 1.3 0 1 0 -2.6 0M642.65 444.8a1.3 1.3 0 1 0 2.6 0a1.3 1.3 0 1 0 -2.6 0M644.86 444.8a1.3 1.3 0 1 0 2.6 0a1.3 1.3 0 1 0 -2.6 0M647.07 444.8a1.3 1.3 0 1 0 2.6 0a1.3 1.3 0 1 0 -2.6 0M649.28 444.8a1.3 1.3 0 1 0 2.6 0a1.3 1.3 0 1 0 -2.6 0M651.49 444.8a1.3 1.3 0 1 0 2.6 0a1.3 1.3 0 1 0 -2.6 0M653.71 444.8a1.3 1.3 0 1 0 2.6 0a1.3 1.3 0 1 0 -2.6 0M655.92 444.8a1.3 1.3 0 1 0 2.6 0a1.3 1.3 0 1 0 -2.6 0" fill="none" stroke="#383838" stroke-width="0.65"/><path d="M421.3 478.9 L421.9 478.9 L422.5 478.9 L423.1 478.9 L423.7 478.9 L424.3 478.9 L424.9 478.9 L425.5 478.93 L426.1 479 L426.7 479.12 L427.3 479.29 L427.9 479.49 L428.5 479.73 L429.1 480 L429.7 480.29 L430.3 480.61 L430.9 480.95 L431.5 481.3 L432.1 481.66 L432.7 482.03 L433.3 482.41 L433.9 482.78 L434.5 483.15 L435.1 483.52 L435.7 483.87 L436.3 484.2 L436.9 484.52 L437.5 484.81 L438.1 485.08 L438.7 485.32 L439.3 485.55 L439.9 485.77 L440.5 485.99 L441.1 486.21 L441.7 486.43 L442.3 486.64 L442.9 486.84 L443.5 487.05 L444.1 487.25 L444.7 487.45 L445.3 487.64 L445.9 487.84 L446.5 488.03 L447.1 488.22 L447.7 488.41 L448.3 488.6 L448.9 488.79 L449.5 488.98 L450.1 489.17 L450.7 489.36 L451.3 489.56 L451.9 489.75 L452.5 489.94 L453.1 490.14 L453.7 490.33 L454.3 490.53 L454.9 490.22 L455.5 489.65 L456.1 489.07 L456.7 488.48 L457.3 487.88 L457.9 487.28 L458.5 486.68 L459.1 486.07 L459.7 485.47 L460.3 484.87 L460.9 484.26 L461.5 483.67 L462.1 483.07 L462.7 482.48 L463.3 481.9 L463.9 481.33 L464.5 480.77 L465.1 480.22 L465.7 479.69 L466.3 479.17 L466.9 478.66 L467.5 478.17 L468.1 477.7 L468.7 477.25 L469.3 476.81 L469.9 476.36 L470.5 475.9 L471.1 475.43 L471.7 474.95 L472.3 474.47 L472.9 474 L473.5 473.52 L474.1 473.05 L474.7 472.58 L475.3 472.12 L475.9 471.68 L476.5 471.25 L477.1 470.84 L477.7 470.44 L478.3 470.07 L478.9 469.72 L479.5 469.4 L480.1 469.11 L480.7 468.85 L481.3 468.62 L481.9 468.44 L482.5 468.29 L483.1 468.18 L483.7 468.12 L484.3 468.1 L484.9 468.17 L485.5 468.35 L486.1 468.62 L486.7 468.97 L487.3 469.4 L487.9 469.9 L488.5 470.46 L489.1 471.08 L489.7 471.74 L490.3 472.43 L490.9 473.16 L491.5 473.9 L492.1 474.66 L492.7 475.41 L493.3 476.17 L493.9 476.91 L494.5 477.63 L495.1 478.32 L495.7 478.97 L496.3 479.58 L496.9 480.13 L497.5 480.62 L498.1 481.07 L498.7 481.5 L499.3 481.91 L499.9 482.32 L500.5 482.72 L501.1 483.11 L501.7 483.49 L502.3 483.86 L502.9 484.23 L503.5 484.58 L504.1 484.94 L504.7 485.29 L505.3 485.64 L505.9 485.98 L506.5 486.32 L507.1 486.66 L507.7 487 L508.3 487.33 L508.9 487.67 L509.5 488.01 L510.1 488.35 L510.7 488.7 L511.3 489.05 L511.9 489.4 L512.5 489.76 L513.1 489.81 L513.7 489.24 L514.3 488.68 L514.9 488.11 L515.5 487.55 L516.1 486.99 L516.7 486.42 L517.3 485.86 L517.9 485.3 L518.5 484.74 L519.1 484.17 L519.7 483.61 L520.3 483.04 L520.9 482.47 L521.5 481.9 L522.1 481.33 L522.7 480.75 L523.3 480.17 L523.9 479.59 L524.5 479 L525.1 478.39 L525.7 477.73 L526.3 477.04 L526.9 476.33 L527.5 475.63 L528.1 474.95 L528.7 474.31 L529.3 473.72 L529.9 473.2 L530.5 472.78 L531.1 472.44 L531.7 472.12 L532.3 471.81 L532.9 471.5 L533.5 471.2 L534.1 470.91 L534.7 470.62 L535.3 470.35 L535.9 470.09 L536.5 469.84 L537.1 469.6 L537.7 469.38 L538.3 469.17 L538.9 468.97 L539.5 468.8 L540.1 468.64 L540.7 468.5 L541.3 468.38 L541.9 468.28 L542.5 468.2 L543.1 468.14 L543.7 468.11 L544.3 468.1 L544.9 468.14 L545.5 468.24 L546.1 468.4 L546.7 468.6 L547.3 468.84 L547.9 469.11 L548.5 469.42 L549.1 469.75 L549.7 470.1 L550.3 470.47 L550.9 470.84 L551.5 471.22 L552.1 471.59 L552.7 471.95 L553.3 472.3 L553.9 472.63 L554.5 472.93 L555.1 473.2 L555.7 473.43 L556.3 473.63 L556.9 473.83 L557.5 474.04 L558.1 474.24 L558.7 474.44 L559.3 474.65 L559.9 474.85 L560.5 475.05 L561.1 475.25 L561.7 475.45 L562.3 475.65 L562.9 475.84 L563.5 476.02 L564.1 476.2 L564.7 476.38 L565.3 476.55 L565.9 476.71 L566.5 476.87 L567.1 477.02 L567.7 477.16 L568.3 477.29 L568.9 477.42 L569.5 477.53 L570.1 477.63 L570.7 477.72 L571.3 477.8 L571.9 477.87 L572.5 477.93 L573.1 477.97 L573.7 477.99 L574.3 478.01 L574.9 478.03 L575.5 478.04 L576.1 478.06 L576.7 478.07 L577.3 478.08 L577.9 478.1 L578.5 478.11 L579.1 478.13 L579.7 478.14 L580.3 478.15 L580.9 478.17 L581.5 478.18 L582.1 478.2 L582.7 478.21 L583.3 478.22 L583.9 478.23 L584.5 478.25 L585.1 478.26 L585.7 478.27 L586.3 478.28 L586.9 478.3 L587.5 478.31 L588.1 478.32 L588.7 478.33 L589.3 478.34 L589.9 478.35 L590.5 478.37 L591.1 478.38 L591.7 478.39 L592.3 478.4 L592.9 478.41 L593.5 478.42 L594.1 478.43 L594.7 478.44 L595.3 478.45 L595.9 478.46 L596.5 478.47 L597.1 478.48 L597.7 478.49 L598.3 478.5 L598.9 478.51 L599.5 478.52 L600.1 478.53 L600.7 478.54 L601.3 478.54 L601.9 478.55 L602.5 478.56 L603.1 478.57 L603.7 478.58 L604.3 478.59 L604.9 478.59 L605.5 478.6 L606.1 478.61 L606.7 478.62 L607.3 478.62 L607.9 478.63 L608.5 478.64 L609.1 478.65 L609.7 478.65 L610.3 478.66 L610.9 478.67 L611.5 478.67 L612.1 478.68 L612.7 478.69 L613.3 478.69 L613.9 478.7 L614.5 478.71 L615.1 478.71 L615.7 478.72 L616.3 478.72 L616.9 478.73 L617.5 478.73 L618.1 478.74 L618.7 478.75 L619.3 478.75 L619.9 478.76 L620.5 478.76 L621.1 478.77 L621.7 478.77 L622.3 478.78 L622.9 478.78 L623.5 478.78 L624.1 478.79 L624.7 478.79 L625.3 478.8 L625.9 478.8 L626.5 478.81 L627.1 478.81 L627.7 478.81 L628.3 478.82 L628.9 478.82 L629.5 478.82 L630.1 478.83 L630.7 478.83 L631.3 478.83 L631.9 478.84 L632.5 478.84 L633.1 478.84 L633.7 478.85 L634.3 478.85 L634.9 478.85 L635.5 478.85 L636.1 478.86 L636.7 478.86 L637.3 478.86 L637.9 478.86 L638.5 478.87 L639.1 478.87 L639.7 478.87 L640.3 478.87 L640.9 478.87 L641.5 478.88 L642.1 478.88 L642.7 478.88 L643.3 478.88 L643.9 478.88 L644.5 478.88 L645.1 478.89 L645.7 478.89 L646.3 478.89 L646.9 478.89 L647.5 478.89 L648.1 478.89 L648.7 478.89 L649.3 478.89 L649.9 478.89 L650.5 478.9 L651.1 478.9 L651.7 478.9 L652.3 478.9 L652.9 478.9 L653.5 478.9 L654.1 478.9 L654.7 478.9 L655.3 478.9 L655.9 478.9 L656.5 478.9 L657.1 478.9 L657.7 478.9 L657.8 478.9" fill="none" stroke="#ee1111" stroke-width="1.65" stroke-linejoin="round"/><path d="M423.7 478.9a1.3 1.3 0 1 0 2.6 0a1.3 1.3 0 1 0 -2.6 0M425.91 479.26a1.3 1.3 0 1 0 2.6 0a1.3 1.3 0 1 0 -2.6 0M428.12 480.15a1.3 1.3 0 1 0 2.6 0a1.3 1.3 0 1 0 -2.6 0M430.33 481.38a1.3 1.3 0 1 0 2.6 0a1.3 1.3 0 1 0 -2.6 0M432.55 482.75a1.3 1.3 0 1 0 2.6 0a1.3 1.3 0 1 0 -2.6 0M434.76 484.07a1.3 1.3 0 1 0 2.6 0a1.3 1.3 0 1 0 -2.6 0M436.97 485.15a1.3 1.3 0 1 0 2.6 0a1.3 1.3 0 1 0 -2.6 0M439.18 485.99a1.3 1.3 0 1 0 2.6 0a1.3 1.3 0 1 0 -2.6 0M441.39 486.78a1.3 1.3 0 1 0 2.6 0a1.3 1.3 0 1 0 -2.6 0M443.6 487.53a1.3 1.3 0 1 0 2.6 0a1.3 1.3 0 1 0 -2.6 0M445.82 488.27a1.3 1.3 0 1 0 2.6 0a1.3 1.3 0 1 0 -2.6 0M448.03 489.01a1.3 1.3 0 1 0 2.6 0a1.3 1.3 0 1 0 -2.6 0M450.24 489.78a1.3 1.3 0 1 0 2.6 0a1.3 1.3 0 1 0 -2.6 0M452.45 490.61a1.3 1.3 0 1 0 2.6 0a1.3 1.3 0 1 0 -2.6 0M454.66 489.61a1.3 1.3 0 1 0 2.6 0a1.3 1.3 0 1 0 -2.6 0M456.87 487.62a1.3 1.3 0 1 0 2.6 0a1.3 1.3 0 1 0 -2.6 0M459.09 485.65a1.3 1.3 0 1 0 2.6 0a1.3 1.3 0 1 0 -2.6 0M461.3 483.74a1.3 1.3 0 1 0 2.6 0a1.3 1.3 0 1 0 -2.6 0M463.51 481.94a1.3 1.3 0 1 0 2.6 0a1.3 1.3 0 1 0 -2.6 0M465.72 480.28a1.3 1.3 0 1 0 2.6 0a1.3 1.3 0 1 0 -2.6 0M467.93 478.77a1.3 1.3 0 1 0 2.6 0a1.3 1.3 0 1 0 -2.6 0M470.14 477.17a1.3 1.3 0 1 0 2.6 0a1.3 1.3 0 1 0 -2.6 0M472.36 475.43a1.3 1.3 0 1 0 2.6 0a1.3 1.3 0 1 0 -2.6 0M474.57 473.72a1.3 1.3 0 1 0 2.6 0a1.3 1.3 0 1 0 -2.6 0M476.78 472.22a1.3 1.3 0 1 0 2.6 0a1.3 1.3 0 1 0 -2.6 0M478.99 471.11a1.3 1.3 0 1 0 2.6 0a1.3 1.3 0 1 0 -2.6 0M481.2 470.47a1.3 1.3 0 1 0 2.6 0a1.3 1.3 0 1 0 -2.6 0M483.41 470.33a1.3 1.3 0 1 0 2.6 0a1.3 1.3 0 1 0 -2.6 0M485.62 471.1a1.3 1.3 0 1 0 2.6 0a1.3 1.3 0 1 0 -2.6 0M487.84 472.68a1.3 1.3 0 1 0 2.6 0a1.3 1.3 0 1 0 -2.6 0M490.05 474.76a1.3 1.3 0 1 0 2.6 0a1.3 1.3 0 1 0 -2.6 0M492.26 477.08a1.3 1.3 0 1 0 2.6 0a1.3 1.3 0 1 0 -2.6 0M494.47 479.33a1.3 1.3 0 1 0 2.6 0a1.3 1.3 0 1 0 -2.6 0M496.68 481.1a1.3 1.3 0 1 0 2.6 0a1.3 1.3 0 1 0 -2.6 0M498.89 482.56a1.3 1.3 0 1 0 2.6 0a1.3 1.3 0 1 0 -2.6 0M501.11 483.95a1.3 1.3 0 1 0 2.6 0a1.3 1.3 0 1 0 -2.6 0M503.32 485.27a1.3 1.3 0 1 0 2.6 0a1.3 1.3 0 1 0 -2.6 0M505.53 486.55a1.3 1.3 0 1 0 2.6 0a1.3 1.3 0 1 0 -2.6 0M507.74 487.83a1.3 1.3 0 1 0 2.6 0a1.3 1.3 0 1 0 -2.6 0M509.95 489.16a1.3 1.3 0 1 0 2.6 0a1.3 1.3 0 1 0 -2.6 0M512.16 489.71a1.3 1.3 0 1 0 2.6 0a1.3 1.3 0 1 0 -2.6 0M514.38 487.77a1.3 1.3 0 1 0 2.6 0a1.3 1.3 0 1 0 -2.6 0M516.59 485.9a1.3 1.3 0 1 0 2.6 0a1.3 1.3 0 1 0 -2.6 0M518.8 484.07a1.3 1.3 0 1 0 2.6 0a1.3 1.3 0 1 0 -2.6 0M521.01 482.25a1.3 1.3 0 1 0 2.6 0a1.3 1.3 0 1 0 -2.6 0M523.22 480.39a1.3 1.3 0 1 0 2.6 0a1.3 1.3 0 1 0 -2.6 0M525.43 478.22a1.3 1.3 0 1 0 2.6 0a1.3 1.3 0 1 0 -2.6 0M527.65 475.95a1.3 1.3 0 1 0 2.6 0a1.3 1.3 0 1 0 -2.6 0M529.86 474.4a1.3 1.3 0 1 0 2.6 0a1.3 1.3 0 1 0 -2.6 0M532.07 473.24a1.3 1.3 0 1 0 2.6 0a1.3 1.3 0 1 0 -2.6 0M534.28 472.07a1.3 1.3 0 1 0 2.6 0a1.3 1.3 0 1 0 -2.6 0M536.49 470.96a1.3 1.3 0 1 0 2.6 0a1.3 1.3 0 1 0 -2.6 0M538.7 469.99a1.3 1.3 0 1 0 2.6 0a1.3 1.3 0 1 0 -2.6 0M540.91 469.24a1.3 1.3 0 1 0 2.6 0a1.3 1.3 0 1 0 -2.6 0M543.13 468.79a1.3 1.3 0 1 0 2.6 0a1.3 1.3 0 1 0 -2.6 0M545.34 468.95a1.3 1.3 0 1 0 2.6 0a1.3 1.3 0 1 0 -2.6 0M547.55 469.7a1.3 1.3 0 1 0 2.6 0a1.3 1.3 0 1 0 -2.6 0M549.76 470.76a1.3 1.3 0 1 0 2.6 0a1.3 1.3 0 1 0 -2.6 0M551.97 471.85a1.3 1.3 0 1 0 2.6 0a1.3 1.3 0 1 0 -2.6 0M554.18 472.7a1.3 1.3 0 1 0 2.6 0a1.3 1.3 0 1 0 -2.6 0M556.4 473.27a1.3 1.3 0 1 0 2.6 0a1.3 1.3 0 1 0 -2.6 0M558.61 473.9a1.3 1.3 0 1 0 2.6 0a1.3 1.3 0 1 0 -2.6 0M560.82 474.59a1.3 1.3 0 1 0 2.6 0a1.3 1.3 0 1 0 -2.6 0M563.03 475.32a1.3 1.3 0 1 0 2.6 0a1.3 1.3 0 1 0 -2.6 0M565.24 476.03a1.3 1.3 0 1 0 2.6 0a1.3 1.3 0 1 0 -2.6 0M567.45 476.69a1.3 1.3 0 1 0 2.6 0a1.3 1.3 0 1 0 -2.6 0M569.67 477.23a1.3 1.3 0 1 0 2.6 0a1.3 1.3 0 1 0 -2.6 0M571.88 477.59a1.3 1.3 0 1 0 2.6 0a1.3 1.3 0 1 0 -2.6 0M574.09 477.79a1.3 1.3 0 1 0 2.6 0a1.3 1.3 0 1 0 -2.6 0M576.3 477.94a1.3 1.3 0 1 0 2.6 0a1.3 1.3 0 1 0 -2.6 0M578.51 478.06a1.3 1.3 0 1 0 2.6 0a1.3 1.3 0 1 0 -2.6 0M580.72 478.15a1.3 1.3 0 1 0 2.6 0a1.3 1.3 0 1 0 -2.6 0M582.94 478.22a1.3 1.3 0 1 0 2.6 0a1.3 1.3 0 1 0 -2.6 0M585.15 478.28a1.3 1.3 0 1 0 2.6 0a1.3 1.3 0 1 0 -2.6 0M587.36 478.33a1.3 1.3 0 1 0 2.6 0a1.3 1.3 0 1 0 -2.6 0M589.57 478.37a1.3 1.3 0 1 0 2.6 0a1.3 1.3 0 1 0 -2.6 0M591.78 478.41a1.3 1.3 0 1 0 2.6 0a1.3 1.3 0 1 0 -2.6 0M593.99 478.45a1.3 1.3 0 1 0 2.6 0a1.3 1.3 0 1 0 -2.6 0M596.2 478.49a1.3 1.3 0 1 0 2.6 0a1.3 1.3 0 1 0 -2.6 0M598.42 478.52a1.3 1.3 0 1 0 2.6 0a1.3 1.3 0 1 0 -2.6 0M600.63 478.55a1.3 1.3 0 1 0 2.6 0a1.3 1.3 0 1 0 -2.6 0M602.84 478.58a1.3 1.3 0 1 0 2.6 0a1.3 1.3 0 1 0 -2.6 0M605.05 478.61a1.3 1.3 0 1 0 2.6 0a1.3 1.3 0 1 0 -2.6 0M607.26 478.64a1.3 1.3 0 1 0 2.6 0a1.3 1.3 0 1 0 -2.6 0M609.47 478.67a1.3 1.3 0 1 0 2.6 0a1.3 1.3 0 1 0 -2.6 0M611.69 478.69a1.3 1.3 0 1 0 2.6 0a1.3 1.3 0 1 0 -2.6 0M613.9 478.71a1.3 1.3 0 1 0 2.6 0a1.3 1.3 0 1 0 -2.6 0M616.11 478.73a1.3 1.3 0 1 0 2.6 0a1.3 1.3 0 1 0 -2.6 0M618.32 478.75a1.3 1.3 0 1 0 2.6 0a1.3 1.3 0 1 0 -2.6 0M620.53 478.77a1.3 1.3 0 1 0 2.6 0a1.3 1.3 0 1 0 -2.6 0M622.74 478.79a1.3 1.3 0 1 0 2.6 0a1.3 1.3 0 1 0 -2.6 0M624.96 478.8a1.3 1.3 0 1 0 2.6 0a1.3 1.3 0 1 0 -2.6 0M627.17 478.82a1.3 1.3 0 1 0 2.6 0a1.3 1.3 0 1 0 -2.6 0M629.38 478.83a1.3 1.3 0 1 0 2.6 0a1.3 1.3 0 1 0 -2.6 0M631.59 478.84a1.3 1.3 0 1 0 2.6 0a1.3 1.3 0 1 0 -2.6 0M633.8 478.85a1.3 1.3 0 1 0 2.6 0a1.3 1.3 0 1 0 -2.6 0M636.01 478.86a1.3 1.3 0 1 0 2.6 0a1.3 1.3 0 1 0 -2.6 0M638.23 478.87a1.3 1.3 0 1 0 2.6 0a1.3 1.3 0 1 0 -2.6 0M640.44 478.88a1.3 1.3 0 1 0 2.6 0a1.3 1.3 0 1 0 -2.6 0M642.65 478.88a1.3 1.3 0 1 0 2.6 0a1.3 1.3 0 1 0 -2.6 0M644.86 478.89a1.3 1.3 0 1 0 2.6 0a1.3 1.3 0 1 0 -2.6 0M647.07 478.89a1.3 1.3 0 1 0 2.6 0a1.3 1.3 0 1 0 -2.6 0M649.28 478.9a1.3 1.3 0 1 0 2.6 0a1.3 1.3 0 1 0 -2.6 0M651.49 478.9a1.3 1.3 0 1 0 2.6 0a1.3 1.3 0 1 0 -2.6 0M653.71 478.9a1.3 1.3 0 1 0 2.6 0a1.3 1.3 0 1 0 -2.6 0M655.92 478.9a1.3 1.3 0 1 0 2.6 0a1.3 1.3 0 1 0 -2.6 0" fill="none" stroke="#383838" stroke-width="0.65"/><path d="M421.3 513 L421.9 513 L422.5 513 L423.1 513 L423.7 513 L424.3 513 L424.9 513 L425.5 513.05 L426.1 513.21 L426.7 513.46 L427.3 513.78 L427.9 514.17 L428.5 514.61 L429.1 515.09 L429.7 515.61 L430.3 516.13 L430.9 516.67 L431.5 517.19 L432.1 517.7 L432.7 518.18 L433.3 518.62 L433.9 519.08 L434.5 519.56 L435.1 520.06 L435.7 520.57 L436.3 521.09 L436.9 521.61 L437.5 522.13 L438.1 522.65 L438.7 523.15 L439.3 523.64 L439.9 524.1 L440.5 524.54 L441.1 524.95 L441.7 525.33 L442.3 525.67 L442.9 525.99 L443.5 526.29 L444.1 526.59 L444.7 526.87 L445.3 527.14 L445.9 527.41 L446.5 527.66 L447.1 527.91 L447.7 528.15 L448.3 528.38 L448.9 528.61 L449.5 528.84 L450.1 529.07 L450.7 529.29 L451.3 529.52 L451.9 529.75 L452.5 529.98 L453.1 530.21 L453.7 530.45 L454.3 530.69 L454.9 530.79 L455.5 530.14 L456.1 529.51 L456.7 528.89 L457.3 528.27 L457.9 527.64 L458.5 527 L459.1 526.34 L459.7 525.64 L460.3 524.9 L460.9 524.1 L461.5 523.22 L462.1 522.24 L462.7 521.19 L463.3 520.07 L463.9 518.91 L464.5 517.73 L465.1 516.54 L465.7 515.37 L466.3 514.23 L466.9 513.14 L467.5 512.12 L468.1 511.17 L468.7 510.22 L469.3 509.27 L469.9 508.33 L470.5 507.41 L471.1 506.52 L471.7 505.66 L472.3 504.84 L472.9 504.06 L473.5 503.35 L474.1 502.7 L474.7 502.11 L475.3 501.53 L475.9 500.94 L476.5 500.36 L477.1 499.78 L477.7 499.22 L478.3 498.67 L478.9 498.15 L479.5 497.67 L480.1 497.23 L480.7 496.83 L481.3 496.49 L481.9 496.21 L482.5 496 L483.1 495.86 L483.7 495.8 L484.3 495.91 L484.9 496.31 L485.5 496.95 L486.1 497.77 L486.7 498.71 L487.3 499.72 L487.9 500.74 L488.5 501.71 L489.1 502.59 L489.7 503.48 L490.3 504.43 L490.9 505.41 L491.5 506.42 L492.1 507.44 L492.7 508.46 L493.3 509.48 L493.9 510.47 L494.5 511.43 L495.1 512.34 L495.7 513.2 L496.3 514.01 L496.9 514.81 L497.5 515.58 L498.1 516.33 L498.7 517.07 L499.3 517.79 L499.9 518.49 L500.5 519.18 L501.1 519.86 L501.7 520.52 L502.3 521.18 L502.9 521.83 L503.5 522.49 L504.1 523.13 L504.7 523.77 L505.3 524.41 L505.9 525.02 L506.5 525.63 L507.1 526.21 L507.7 526.77 L508.3 527.3 L508.9 527.81 L509.5 528.28 L510.1 528.71 L510.7 529.11 L511.3 529.49 L511.9 529.86 L512.5 530.22 L513.1 530.58 L513.7 530.73 L514.3 529.73 L514.9 528.74 L515.5 527.74 L516.1 526.75 L516.7 525.75 L517.3 524.74 L517.9 523.72 L518.5 522.68 L519.1 521.6 L519.7 520.45 L520.3 519.26 L520.9 518.04 L521.5 516.79 L522.1 515.54 L522.7 514.3 L523.3 513.08 L523.9 511.89 L524.5 510.76 L525.1 509.69 L525.7 508.7 L526.3 507.79 L526.9 507 L527.5 506.28 L528.1 505.58 L528.7 504.9 L529.3 504.25 L529.9 503.63 L530.5 503.03 L531.1 502.46 L531.7 501.92 L532.3 501.4 L532.9 500.9 L533.5 500.44 L534.1 500 L534.7 499.59 L535.3 499.2 L535.9 498.84 L536.5 498.49 L537.1 498.12 L537.7 497.76 L538.3 497.41 L538.9 497.07 L539.5 496.75 L540.1 496.45 L540.7 496.19 L541.3 495.97 L541.9 495.8 L542.5 495.67 L543.1 495.61 L543.7 495.62 L544.3 495.74 L544.9 495.99 L545.5 496.33 L546.1 496.75 L546.7 497.25 L547.3 497.8 L547.9 498.39 L548.5 499.01 L549.1 499.64 L549.7 500.27 L550.3 500.88 L550.9 501.46 L551.5 501.99 L552.1 502.46 L552.7 502.87 L553.3 503.28 L553.9 503.7 L554.5 504.1 L555.1 504.51 L555.7 504.91 L556.3 505.3 L556.9 505.68 L557.5 506.06 L558.1 506.41 L558.7 506.75 L559.3 507.08 L559.9 507.38 L560.5 507.66 L561.1 507.92 L561.7 508.16 L562.3 508.39 L562.9 508.62 L563.5 508.84 L564.1 509.06 L564.7 509.28 L565.3 509.48 L565.9 509.69 L566.5 509.88 L567.1 510.07 L567.7 510.25 L568.3 510.43 L568.9 510.59 L569.5 510.75 L570.1 510.9 L570.7 511.04 L571.3 511.16 L571.9 511.28 L572.5 511.39 L573.1 511.49 L573.7 511.57 L574.3 511.65 L574.9 511.73 L575.5 511.8 L576.1 511.87 L576.7 511.94 L577.3 512.01 L577.9 512.08 L578.5 512.15 L579.1 512.22 L579.7 512.28 L580.3 512.34 L580.9 512.4 L581.5 512.46 L582.1 512.51 L582.7 512.57 L583.3 512.62 L583.9 512.67 L584.5 512.71 L585.1 512.75 L585.7 512.79 L586.3 512.83 L586.9 512.86 L587.5 512.89 L588.1 512.92 L588.7 512.94 L589.3 512.96 L589.9 512.98 L590.5 512.99 L591.1 513 L591.7 513 L592.3 513 L592.9 513 L593.5 513 L594.1 513 L594.7 513 L595.3 513 L595.9 513 L596.5 513 L597.1 513 L597.7 513 L598.3 513 L598.9 513 L599.5 513 L600.1 513 L600.7 513 L601.3 513 L601.9 513 L602.5 513 L603.1 513 L603.7 513 L604.3 513 L604.9 513 L605.5 513 L606.1 513 L606.7 513 L607.3 513 L607.9 513 L608.5 513 L609.1 513 L609.7 513 L610.3 513 L610.9 513 L611.5 513 L612.1 513 L612.7 513 L613.3 513 L613.9 513 L614.5 513 L615.1 513 L615.7 513 L616.3 513 L616.9 513 L617.5 513 L618.1 513 L618.7 513 L619.3 513 L619.9 513 L620.5 513 L621.1 513 L621.7 513 L622.3 513 L622.9 513 L623.5 513 L624.1 513 L624.7 513 L625.3 513 L625.9 513 L626.5 513 L627.1 513 L627.7 513 L628.3 513 L628.9 513 L629.5 513 L630.1 513 L630.7 513 L631.3 513 L631.9 513 L632.5 513 L633.1 513 L633.7 513 L634.3 513 L634.9 513 L635.5 513 L636.1 513 L636.7 513 L637.3 513 L637.9 513 L638.5 513 L639.1 513 L639.7 513 L640.3 513 L640.9 513 L641.5 513 L642.1 513 L642.7 513 L643.3 513 L643.9 513 L644.5 513 L645.1 513 L645.7 513 L646.3 513 L646.9 513 L647.5 513 L648.1 513 L648.7 513 L649.3 513 L649.9 513 L650.5 513 L651.1 513 L651.7 513 L652.3 513 L652.9 513 L653.5 513 L654.1 513 L654.7 513 L655.3 513 L655.9 513 L656.5 513 L657.1 513 L657.7 513 L657.8 513" fill="none" stroke="#ee1111" stroke-width="1.65" stroke-linejoin="round"/><path d="M423.7 513a1.3 1.3 0 1 0 2.6 0a1.3 1.3 0 1 0 -2.6 0M425.91 513.73a1.3 1.3 0 1 0 2.6 0a1.3 1.3 0 1 0 -2.6 0M428.12 515.37a1.3 1.3 0 1 0 2.6 0a1.3 1.3 0 1 0 -2.6 0M430.33 517.31a1.3 1.3 0 1 0 2.6 0a1.3 1.3 0 1 0 -2.6 0M432.55 519.04a1.3 1.3 0 1 0 2.6 0a1.3 1.3 0 1 0 -2.6 0M434.76 520.88a1.3 1.3 0 1 0 2.6 0a1.3 1.3 0 1 0 -2.6 0M436.97 522.79a1.3 1.3 0 1 0 2.6 0a1.3 1.3 0 1 0 -2.6 0M439.18 524.53a1.3 1.3 0 1 0 2.6 0a1.3 1.3 0 1 0 -2.6 0M441.39 525.89a1.3 1.3 0 1 0 2.6 0a1.3 1.3 0 1 0 -2.6 0M443.6 526.99a1.3 1.3 0 1 0 2.6 0a1.3 1.3 0 1 0 -2.6 0M445.82 527.97a1.3 1.3 0 1 0 2.6 0a1.3 1.3 0 1 0 -2.6 0M448.03 528.88a1.3 1.3 0 1 0 2.6 0a1.3 1.3 0 1 0 -2.6 0M450.24 529.8a1.3 1.3 0 1 0 2.6 0a1.3 1.3 0 1 0 -2.6 0M452.45 530.79a1.3 1.3 0 1 0 2.6 0a1.3 1.3 0 1 0 -2.6 0M454.66 530.16a1.3 1.3 0 1 0 2.6 0a1.3 1.3 0 1 0 -2.6 0M456.87 528.12a1.3 1.3 0 1 0 2.6 0a1.3 1.3 0 1 0 -2.6 0M459.09 525.87a1.3 1.3 0 1 0 2.6 0a1.3 1.3 0 1 0 -2.6 0M461.3 522.82a1.3 1.3 0 1 0 2.6 0a1.3 1.3 0 1 0 -2.6 0M463.51 518.93a1.3 1.3 0 1 0 2.6 0a1.3 1.3 0 1 0 -2.6 0M465.72 515.08a1.3 1.3 0 1 0 2.6 0a1.3 1.3 0 1 0 -2.6 0M467.93 511.77a1.3 1.3 0 1 0 2.6 0a1.3 1.3 0 1 0 -2.6 0M470.14 508.55a1.3 1.3 0 1 0 2.6 0a1.3 1.3 0 1 0 -2.6 0M472.36 505.75a1.3 1.3 0 1 0 2.6 0a1.3 1.3 0 1 0 -2.6 0M474.57 503.58a1.3 1.3 0 1 0 2.6 0a1.3 1.3 0 1 0 -2.6 0M476.78 501.57a1.3 1.3 0 1 0 2.6 0a1.3 1.3 0 1 0 -2.6 0M478.99 500.03a1.3 1.3 0 1 0 2.6 0a1.3 1.3 0 1 0 -2.6 0M481.2 499.22a1.3 1.3 0 1 0 2.6 0a1.3 1.3 0 1 0 -2.6 0M483.41 499.5a1.3 1.3 0 1 0 2.6 0a1.3 1.3 0 1 0 -2.6 0M485.62 502.17a1.3 1.3 0 1 0 2.6 0a1.3 1.3 0 1 0 -2.6 0M487.84 505.1a1.3 1.3 0 1 0 2.6 0a1.3 1.3 0 1 0 -2.6 0M490.05 507.82a1.3 1.3 0 1 0 2.6 0a1.3 1.3 0 1 0 -2.6 0M492.26 510.85a1.3 1.3 0 1 0 2.6 0a1.3 1.3 0 1 0 -2.6 0M494.47 513.75a1.3 1.3 0 1 0 2.6 0a1.3 1.3 0 1 0 -2.6 0M496.68 516.37a1.3 1.3 0 1 0 2.6 0a1.3 1.3 0 1 0 -2.6 0M498.89 518.9a1.3 1.3 0 1 0 2.6 0a1.3 1.3 0 1 0 -2.6 0M501.11 521.33a1.3 1.3 0 1 0 2.6 0a1.3 1.3 0 1 0 -2.6 0M503.32 523.72a1.3 1.3 0 1 0 2.6 0a1.3 1.3 0 1 0 -2.6 0M505.53 526.01a1.3 1.3 0 1 0 2.6 0a1.3 1.3 0 1 0 -2.6 0M507.74 528.04a1.3 1.3 0 1 0 2.6 0a1.3 1.3 0 1 0 -2.6 0M509.95 529.67a1.3 1.3 0 1 0 2.6 0a1.3 1.3 0 1 0 -2.6 0M512.16 531.17a1.3 1.3 0 1 0 2.6 0a1.3 1.3 0 1 0 -2.6 0M514.38 528.03a1.3 1.3 0 1 0 2.6 0a1.3 1.3 0 1 0 -2.6 0M516.59 524.62a1.3 1.3 0 1 0 2.6 0a1.3 1.3 0 1 0 -2.6 0M518.8 520.92a1.3 1.3 0 1 0 2.6 0a1.3 1.3 0 1 0 -2.6 0M521.01 516.79a1.3 1.3 0 1 0 2.6 0a1.3 1.3 0 1 0 -2.6 0M523.22 512.84a1.3 1.3 0 1 0 2.6 0a1.3 1.3 0 1 0 -2.6 0M525.43 509.74a1.3 1.3 0 1 0 2.6 0a1.3 1.3 0 1 0 -2.6 0M527.65 507.47a1.3 1.3 0 1 0 2.6 0a1.3 1.3 0 1 0 -2.6 0M529.86 505.39a1.3 1.3 0 1 0 2.6 0a1.3 1.3 0 1 0 -2.6 0M532.07 503.5a1.3 1.3 0 1 0 2.6 0a1.3 1.3 0 1 0 -2.6 0M534.28 501.8a1.3 1.3 0 1 0 2.6 0a1.3 1.3 0 1 0 -2.6 0M536.49 500.13a1.3 1.3 0 1 0 2.6 0a1.3 1.3 0 1 0 -2.6 0M538.7 498.49a1.3 1.3 0 1 0 2.6 0a1.3 1.3 0 1 0 -2.6 0M540.91 497.23a1.3 1.3 0 1 0 2.6 0a1.3 1.3 0 1 0 -2.6 0M543.13 496.81a1.3 1.3 0 1 0 2.6 0a1.3 1.3 0 1 0 -2.6 0M545.34 497.76a1.3 1.3 0 1 0 2.6 0a1.3 1.3 0 1 0 -2.6 0M547.55 499.51a1.3 1.3 0 1 0 2.6 0a1.3 1.3 0 1 0 -2.6 0M549.76 501.34a1.3 1.3 0 1 0 2.6 0a1.3 1.3 0 1 0 -2.6 0M551.97 502.62a1.3 1.3 0 1 0 2.6 0a1.3 1.3 0 1 0 -2.6 0M554.18 503.79a1.3 1.3 0 1 0 2.6 0a1.3 1.3 0 1 0 -2.6 0M556.4 504.93a1.3 1.3 0 1 0 2.6 0a1.3 1.3 0 1 0 -2.6 0M558.61 505.96a1.3 1.3 0 1 0 2.6 0a1.3 1.3 0 1 0 -2.6 0M560.82 506.83a1.3 1.3 0 1 0 2.6 0a1.3 1.3 0 1 0 -2.6 0M563.03 507.71a1.3 1.3 0 1 0 2.6 0a1.3 1.3 0 1 0 -2.6 0M565.24 508.62a1.3 1.3 0 1 0 2.6 0a1.3 1.3 0 1 0 -2.6 0M567.45 509.5a1.3 1.3 0 1 0 2.6 0a1.3 1.3 0 1 0 -2.6 0M569.67 510.29a1.3 1.3 0 1 0 2.6 0a1.3 1.3 0 1 0 -2.6 0M571.88 510.93a1.3 1.3 0 1 0 2.6 0a1.3 1.3 0 1 0 -2.6 0M574.09 511.42a1.3 1.3 0 1 0 2.6 0a1.3 1.3 0 1 0 -2.6 0M576.3 511.82a1.3 1.3 0 1 0 2.6 0a1.3 1.3 0 1 0 -2.6 0M578.51 512.17a1.3 1.3 0 1 0 2.6 0a1.3 1.3 0 1 0 -2.6 0M580.72 512.44a1.3 1.3 0 1 0 2.6 0a1.3 1.3 0 1 0 -2.6 0M582.94 512.66a1.3 1.3 0 1 0 2.6 0a1.3 1.3 0 1 0 -2.6 0M585.15 512.82a1.3 1.3 0 1 0 2.6 0a1.3 1.3 0 1 0 -2.6 0M587.36 512.93a1.3 1.3 0 1 0 2.6 0a1.3 1.3 0 1 0 -2.6 0M589.57 512.99a1.3 1.3 0 1 0 2.6 0a1.3 1.3 0 1 0 -2.6 0M591.78 513a1.3 1.3 0 1 0 2.6 0a1.3 1.3 0 1 0 -2.6 0M593.99 513a1.3 1.3 0 1 0 2.6 0a1.3 1.3 0 1 0 -2.6 0M596.2 513a1.3 1.3 0 1 0 2.6 0a1.3 1.3 0 1 0 -2.6 0M598.42 513a1.3 1.3 0 1 0 2.6 0a1.3 1.3 0 1 0 -2.6 0M600.63 513a1.3 1.3 0 1 0 2.6 0a1.3 1.3 0 1 0 -2.6 0M602.84 513a1.3 1.3 0 1 0 2.6 0a1.3 1.3 0 1 0 -2.6 0M605.05 513a1.3 1.3 0 1 0 2.6 0a1.3 1.3 0 1 0 -2.6 0M607.26 513a1.3 1.3 0 1 0 2.6 0a1.3 1.3 0 1 0 -2.6 0M609.47 513a1.3 1.3 0 1 0 2.6 0a1.3 1.3 0 1 0 -2.6 0M611.69 513a1.3 1.3 0 1 0 2.6 0a1.3 1.3 0 1 0 -2.6 0M613.9 513a1.3 1.3 0 1 0 2.6 0a1.3 1.3 0 1 0 -2.6 0M616.11 513a1.3 1.3 0 1 0 2.6 0a1.3 1.3 0 1 0 -2.6 0M618.32 513a1.3 1.3 0 1 0 2.6 0a1.3 1.3 0 1 0 -2.6 0M620.53 513a1.3 1.3 0 1 0 2.6 0a1.3 1.3 0 1 0 -2.6 0M622.74 513a1.3 1.3 0 1 0 2.6 0a1.3 1.3 0 1 0 -2.6 0M624.96 513a1.3 1.3 0 1 0 2.6 0a1.3 1.3 0 1 0 -2.6 0M627.17 513a1.3 1.3 0 1 0 2.6 0a1.3 1.3 0 1 0 -2.6 0M629.38 513a1.3 1.3 0 1 0 2.6 0a1.3 1.3 0 1 0 -2.6 0M631.59 513a1.3 1.3 0 1 0 2.6 0a1.3 1.3 0 1 0 -2.6 0M633.8 513a1.3 1.3 0 1 0 2.6 0a1.3 1.3 0 1 0 -2.6 0M636.01 513a1.3 1.3 0 1 0 2.6 0a1.3 1.3 0 1 0 -2.6 0M638.23 513a1.3 1.3 0 1 0 2.6 0a1.3 1.3 0 1 0 -2.6 0M640.44 513a1.3 1.3 0 1 0 2.6 0a1.3 1.3 0 1 0 -2.6 0M642.65 513a1.3 1.3 0 1 0 2.6 0a1.3 1.3 0 1 0 -2.6 0M644.86 513a1.3 1.3 0 1 0 2.6 0a1.3 1.3 0 1 0 -2.6 0M647.07 513a1.3 1.3 0 1 0 2.6 0a1.3 1.3 0 1 0 -2.6 0M649.28 513a1.3 1.3 0 1 0 2.6 0a1.3 1.3 0 1 0 -2.6 0M651.49 513a1.3 1.3 0 1 0 2.6 0a1.3 1.3 0 1 0 -2.6 0M653.71 513a1.3 1.3 0 1 0 2.6 0a1.3 1.3 0 1 0 -2.6 0M655.92 513a1.3 1.3 0 1 0 2.6 0a1.3 1.3 0 1 0 -2.6 0" fill="none" stroke="#383838" stroke-width="0.65"/><path d="M421.3 547.5 L421.9 547.5 L422.5 547.5 L423.1 547.5 L423.7 547.5 L424.3 547.5 L424.9 547.5 L425.5 547.57 L426.1 547.78 L426.7 548.1 L427.3 548.53 L427.9 549.03 L428.5 549.61 L429.1 550.23 L429.7 550.88 L430.3 551.55 L430.9 552.22 L431.5 552.87 L432.1 553.48 L432.7 554.04 L433.3 554.55 L433.9 555.04 L434.5 555.53 L435.1 556.03 L435.7 556.52 L436.3 557.01 L436.9 557.5 L437.5 557.99 L438.1 558.47 L438.7 558.95 L439.3 559.43 L439.9 559.9 L440.5 560.36 L441.1 560.82 L441.7 561.28 L442.3 561.72 L442.9 562.16 L443.5 562.6 L444.1 563.02 L444.7 563.45 L445.3 563.87 L445.9 564.29 L446.5 564.7 L447.1 565.11 L447.7 565.52 L448.3 565.92 L448.9 566.32 L449.5 566.73 L450.1 567.13 L450.7 567.53 L451.3 567.93 L451.9 568.33 L452.5 568.74 L453.1 569.14 L453.7 569.55 L454.3 569.96 L454.9 570.15 L455.5 569.24 L456.1 568.36 L456.7 567.48 L457.3 566.61 L457.9 565.73 L458.5 564.83 L459.1 563.91 L459.7 562.96 L460.3 561.96 L460.9 560.9 L461.5 559.76 L462.1 558.54 L462.7 557.24 L463.3 555.89 L463.9 554.49 L464.5 553.08 L465.1 551.66 L465.7 550.26 L466.3 548.89 L466.9 547.56 L467.5 546.3 L468.1 545.1 L468.7 543.88 L469.3 542.66 L469.9 541.44 L470.5 540.24 L471.1 539.07 L471.7 537.94 L472.3 536.87 L472.9 535.86 L473.5 534.93 L474.1 534.1 L474.7 533.36 L475.3 532.64 L475.9 531.91 L476.5 531.19 L477.1 530.47 L477.7 529.78 L478.3 529.11 L478.9 528.47 L479.5 527.88 L480.1 527.34 L480.7 526.86 L481.3 526.44 L481.9 526.1 L482.5 525.84 L483.1 525.67 L483.7 525.6 L484.3 525.7 L484.9 526.07 L485.5 526.67 L486.1 527.46 L486.7 528.4 L487.3 529.46 L487.9 530.58 L488.5 531.74 L489.1 532.89 L489.7 533.99 L490.3 535 L490.9 535.99 L491.5 537.03 L492.1 538.11 L492.7 539.21 L493.3 540.32 L493.9 541.42 L494.5 542.49 L495.1 543.52 L495.7 544.5 L496.3 545.43 L496.9 546.33 L497.5 547.2 L498.1 548.06 L498.7 548.9 L499.3 549.73 L499.9 550.55 L500.5 551.36 L501.1 552.18 L501.7 552.99 L502.3 553.82 L502.9 554.66 L503.5 555.5 L504.1 556.33 L504.7 557.17 L505.3 558.01 L505.9 558.84 L506.5 559.67 L507.1 560.49 L507.7 561.31 L508.3 562.13 L508.9 562.93 L509.5 563.73 L510.1 564.52 L510.7 565.3 L511.3 566.07 L511.9 566.83 L512.5 567.59 L513.1 568.36 L513.7 568.79 L514.3 567.53 L514.9 566.27 L515.5 565.01 L516.1 563.75 L516.7 562.49 L517.3 561.23 L517.9 559.97 L518.5 558.71 L519.1 557.44 L519.7 556.13 L520.3 554.8 L520.9 553.46 L521.5 552.1 L522.1 550.75 L522.7 549.41 L523.3 548.1 L523.9 546.81 L524.5 545.55 L525.1 544.35 L525.7 543.2 L526.3 542.11 L526.9 541.1 L527.5 540.13 L528.1 539.18 L528.7 538.25 L529.3 537.33 L529.9 536.44 L530.5 535.57 L531.1 534.73 L531.7 533.92 L532.3 533.14 L532.9 532.4 L533.5 531.7 L534.1 531.03 L534.7 530.41 L535.3 529.84 L535.9 529.31 L536.5 528.8 L537.1 528.27 L537.7 527.74 L538.3 527.22 L538.9 526.73 L539.5 526.27 L540.1 525.84 L540.7 525.47 L541.3 525.16 L541.9 524.92 L542.5 524.77 L543.1 524.7 L543.7 524.74 L544.3 524.9 L544.9 525.17 L545.5 525.52 L546.1 525.96 L546.7 526.46 L547.3 527.02 L547.9 527.63 L548.5 528.26 L549.1 528.91 L549.7 529.57 L550.3 530.22 L550.9 530.86 L551.5 531.46 L552.1 532.02 L552.7 532.55 L553.3 533.11 L553.9 533.69 L554.5 534.28 L555.1 534.89 L555.7 535.51 L556.3 536.12 L556.9 536.73 L557.5 537.32 L558.1 537.89 L558.7 538.43 L559.3 538.94 L559.9 539.41 L560.5 539.83 L561.1 540.19 L561.7 540.51 L562.3 540.81 L562.9 541.1 L563.5 541.39 L564.1 541.66 L564.7 541.93 L565.3 542.18 L565.9 542.43 L566.5 542.66 L567.1 542.89 L567.7 543.11 L568.3 543.31 L568.9 543.51 L569.5 543.7 L570.1 543.88 L570.7 544.05 L571.3 544.21 L571.9 544.36 L572.5 544.5 L573.1 544.64 L573.7 544.76 L574.3 544.88 L574.9 544.99 L575.5 545.11 L576.1 545.22 L576.7 545.33 L577.3 545.44 L577.9 545.55 L578.5 545.66 L579.1 545.76 L579.7 545.86 L580.3 545.96 L580.9 546.06 L581.5 546.15 L582.1 546.24 L582.7 546.33 L583.3 546.41 L583.9 546.49 L584.5 546.56 L585.1 546.64 L585.7 546.7 L586.3 546.77 L586.9 546.82 L587.5 546.88 L588.1 546.93 L588.7 546.97 L589.3 547.01 L589.9 547.04 L590.5 547.06 L591.1 547.08 L591.7 547.1 L592.3 547.11 L592.9 547.11 L593.5 547.12 L594.1 547.13 L594.7 547.14 L595.3 547.15 L595.9 547.15 L596.5 547.16 L597.1 547.17 L597.7 547.18 L598.3 547.18 L598.9 547.19 L599.5 547.2 L600.1 547.21 L600.7 547.21 L601.3 547.22 L601.9 547.23 L602.5 547.23 L603.1 547.24 L603.7 547.25 L604.3 547.25 L604.9 547.26 L605.5 547.26 L606.1 547.27 L606.7 547.28 L607.3 547.28 L607.9 547.29 L608.5 547.29 L609.1 547.3 L609.7 547.3 L610.3 547.31 L610.9 547.32 L611.5 547.32 L612.1 547.33 L612.7 547.33 L613.3 547.34 L613.9 547.34 L614.5 547.35 L615.1 547.35 L615.7 547.35 L616.3 547.36 L616.9 547.36 L617.5 547.37 L618.1 547.37 L618.7 547.38 L619.3 547.38 L619.9 547.39 L620.5 547.39 L621.1 547.39 L621.7 547.4 L622.3 547.4 L622.9 547.4 L623.5 547.41 L624.1 547.41 L624.7 547.41 L625.3 547.42 L625.9 547.42 L626.5 547.42 L627.1 547.43 L627.7 547.43 L628.3 547.43 L628.9 547.44 L629.5 547.44 L630.1 547.44 L630.7 547.44 L631.3 547.45 L631.9 547.45 L632.5 547.45 L633.1 547.45 L633.7 547.46 L634.3 547.46 L634.9 547.46 L635.5 547.46 L636.1 547.47 L636.7 547.47 L637.3 547.47 L637.9 547.47 L638.5 547.47 L639.1 547.47 L639.7 547.48 L640.3 547.48 L640.9 547.48 L641.5 547.48 L642.1 547.48 L642.7 547.48 L643.3 547.49 L643.9 547.49 L644.5 547.49 L645.1 547.49 L645.7 547.49 L646.3 547.49 L646.9 547.49 L647.5 547.49 L648.1 547.49 L648.7 547.49 L649.3 547.5 L649.9 547.5 L650.5 547.5 L651.1 547.5 L651.7 547.5 L652.3 547.5 L652.9 547.5 L653.5 547.5 L654.1 547.5 L654.7 547.5 L655.3 547.5 L655.9 547.5 L656.5 547.5 L657.1 547.5 L657.7 547.5 L657.8 547.5" fill="none" stroke="#ee1111" stroke-width="1.65" stroke-linejoin="round"/><path d="M423.7 547.5a1.3 1.3 0 1 0 2.6 0a1.3 1.3 0 1 0 -2.6 0M425.91 548.46a1.3 1.3 0 1 0 2.6 0a1.3 1.3 0 1 0 -2.6 0M428.12 550.58a1.3 1.3 0 1 0 2.6 0a1.3 1.3 0 1 0 -2.6 0M430.33 553.01a1.3 1.3 0 1 0 2.6 0a1.3 1.3 0 1 0 -2.6 0M432.55 555a1.3 1.3 0 1 0 2.6 0a1.3 1.3 0 1 0 -2.6 0M434.76 556.81a1.3 1.3 0 1 0 2.6 0a1.3 1.3 0 1 0 -2.6 0M436.97 558.61a1.3 1.3 0 1 0 2.6 0a1.3 1.3 0 1 0 -2.6 0M439.18 560.36a1.3 1.3 0 1 0 2.6 0a1.3 1.3 0 1 0 -2.6 0M441.39 562.03a1.3 1.3 0 1 0 2.6 0a1.3 1.3 0 1 0 -2.6 0M443.6 563.62a1.3 1.3 0 1 0 2.6 0a1.3 1.3 0 1 0 -2.6 0M445.82 565.18a1.3 1.3 0 1 0 2.6 0a1.3 1.3 0 1 0 -2.6 0M448.03 566.74a1.3 1.3 0 1 0 2.6 0a1.3 1.3 0 1 0 -2.6 0M450.24 568.32a1.3 1.3 0 1 0 2.6 0a1.3 1.3 0 1 0 -2.6 0M452.45 569.97a1.3 1.3 0 1 0 2.6 0a1.3 1.3 0 1 0 -2.6 0M454.66 569.17a1.3 1.3 0 1 0 2.6 0a1.3 1.3 0 1 0 -2.6 0M456.87 566.25a1.3 1.3 0 1 0 2.6 0a1.3 1.3 0 1 0 -2.6 0M459.09 563.11a1.3 1.3 0 1 0 2.6 0a1.3 1.3 0 1 0 -2.6 0M461.3 559.2a1.3 1.3 0 1 0 2.6 0a1.3 1.3 0 1 0 -2.6 0M463.51 554.53a1.3 1.3 0 1 0 2.6 0a1.3 1.3 0 1 0 -2.6 0M465.72 549.88a1.3 1.3 0 1 0 2.6 0a1.3 1.3 0 1 0 -2.6 0M467.93 545.67a1.3 1.3 0 1 0 2.6 0a1.3 1.3 0 1 0 -2.6 0M470.14 541.46a1.3 1.3 0 1 0 2.6 0a1.3 1.3 0 1 0 -2.6 0M472.36 537.8a1.3 1.3 0 1 0 2.6 0a1.3 1.3 0 1 0 -2.6 0M474.57 535.07a1.3 1.3 0 1 0 2.6 0a1.3 1.3 0 1 0 -2.6 0M476.78 532.59a1.3 1.3 0 1 0 2.6 0a1.3 1.3 0 1 0 -2.6 0M478.99 530.7a1.3 1.3 0 1 0 2.6 0a1.3 1.3 0 1 0 -2.6 0M481.2 529.71a1.3 1.3 0 1 0 2.6 0a1.3 1.3 0 1 0 -2.6 0M483.41 529.94a1.3 1.3 0 1 0 2.6 0a1.3 1.3 0 1 0 -2.6 0M485.62 532.49a1.3 1.3 0 1 0 2.6 0a1.3 1.3 0 1 0 -2.6 0M487.84 535.91a1.3 1.3 0 1 0 2.6 0a1.3 1.3 0 1 0 -2.6 0M490.05 538.75a1.3 1.3 0 1 0 2.6 0a1.3 1.3 0 1 0 -2.6 0M492.26 541.92a1.3 1.3 0 1 0 2.6 0a1.3 1.3 0 1 0 -2.6 0M494.47 545.15a1.3 1.3 0 1 0 2.6 0a1.3 1.3 0 1 0 -2.6 0M496.68 548.11a1.3 1.3 0 1 0 2.6 0a1.3 1.3 0 1 0 -2.6 0M498.89 551.03a1.3 1.3 0 1 0 2.6 0a1.3 1.3 0 1 0 -2.6 0M501.11 554.01a1.3 1.3 0 1 0 2.6 0a1.3 1.3 0 1 0 -2.6 0M503.32 557.1a1.3 1.3 0 1 0 2.6 0a1.3 1.3 0 1 0 -2.6 0M505.53 560.19a1.3 1.3 0 1 0 2.6 0a1.3 1.3 0 1 0 -2.6 0M507.74 563.26a1.3 1.3 0 1 0 2.6 0a1.3 1.3 0 1 0 -2.6 0M509.95 566.25a1.3 1.3 0 1 0 2.6 0a1.3 1.3 0 1 0 -2.6 0M512.16 569.25a1.3 1.3 0 1 0 2.6 0a1.3 1.3 0 1 0 -2.6 0M514.38 565.32a1.3 1.3 0 1 0 2.6 0a1.3 1.3 0 1 0 -2.6 0M516.59 561.02a1.3 1.3 0 1 0 2.6 0a1.3 1.3 0 1 0 -2.6 0M518.8 556.71a1.3 1.3 0 1 0 2.6 0a1.3 1.3 0 1 0 -2.6 0M521.01 552.24a1.3 1.3 0 1 0 2.6 0a1.3 1.3 0 1 0 -2.6 0M523.22 547.99a1.3 1.3 0 1 0 2.6 0a1.3 1.3 0 1 0 -2.6 0M525.43 544.32a1.3 1.3 0 1 0 2.6 0a1.3 1.3 0 1 0 -2.6 0M527.65 541.18a1.3 1.3 0 1 0 2.6 0a1.3 1.3 0 1 0 -2.6 0M529.86 538.14a1.3 1.3 0 1 0 2.6 0a1.3 1.3 0 1 0 -2.6 0M532.07 535.31a1.3 1.3 0 1 0 2.6 0a1.3 1.3 0 1 0 -2.6 0M534.28 532.82a1.3 1.3 0 1 0 2.6 0a1.3 1.3 0 1 0 -2.6 0M536.49 530.49a1.3 1.3 0 1 0 2.6 0a1.3 1.3 0 1 0 -2.6 0M538.7 528.22a1.3 1.3 0 1 0 2.6 0a1.3 1.3 0 1 0 -2.6 0M540.91 526.58a1.3 1.3 0 1 0 2.6 0a1.3 1.3 0 1 0 -2.6 0M543.13 526.12a1.3 1.3 0 1 0 2.6 0a1.3 1.3 0 1 0 -2.6 0M545.34 527.02a1.3 1.3 0 1 0 2.6 0a1.3 1.3 0 1 0 -2.6 0M547.55 528.73a1.3 1.3 0 1 0 2.6 0a1.3 1.3 0 1 0 -2.6 0M549.76 530.61a1.3 1.3 0 1 0 2.6 0a1.3 1.3 0 1 0 -2.6 0M551.97 532.19a1.3 1.3 0 1 0 2.6 0a1.3 1.3 0 1 0 -2.6 0M554.18 533.97a1.3 1.3 0 1 0 2.6 0a1.3 1.3 0 1 0 -2.6 0M556.4 535.84a1.3 1.3 0 1 0 2.6 0a1.3 1.3 0 1 0 -2.6 0M558.61 537.51a1.3 1.3 0 1 0 2.6 0a1.3 1.3 0 1 0 -2.6 0M560.82 538.73a1.3 1.3 0 1 0 2.6 0a1.3 1.3 0 1 0 -2.6 0M563.03 539.85a1.3 1.3 0 1 0 2.6 0a1.3 1.3 0 1 0 -2.6 0M565.24 540.98a1.3 1.3 0 1 0 2.6 0a1.3 1.3 0 1 0 -2.6 0M567.45 542.06a1.3 1.3 0 1 0 2.6 0a1.3 1.3 0 1 0 -2.6 0M569.67 543.05a1.3 1.3 0 1 0 2.6 0a1.3 1.3 0 1 0 -2.6 0M571.88 543.9a1.3 1.3 0 1 0 2.6 0a1.3 1.3 0 1 0 -2.6 0M574.09 544.59a1.3 1.3 0 1 0 2.6 0a1.3 1.3 0 1 0 -2.6 0M576.3 545.2a1.3 1.3 0 1 0 2.6 0a1.3 1.3 0 1 0 -2.6 0M578.51 545.71a1.3 1.3 0 1 0 2.6 0a1.3 1.3 0 1 0 -2.6 0M580.72 546.14a1.3 1.3 0 1 0 2.6 0a1.3 1.3 0 1 0 -2.6 0M582.94 546.49a1.3 1.3 0 1 0 2.6 0a1.3 1.3 0 1 0 -2.6 0M585.15 546.76a1.3 1.3 0 1 0 2.6 0a1.3 1.3 0 1 0 -2.6 0M587.36 546.96a1.3 1.3 0 1 0 2.6 0a1.3 1.3 0 1 0 -2.6 0M589.57 547.07a1.3 1.3 0 1 0 2.6 0a1.3 1.3 0 1 0 -2.6 0M591.78 547.12a1.3 1.3 0 1 0 2.6 0a1.3 1.3 0 1 0 -2.6 0M593.99 547.15a1.3 1.3 0 1 0 2.6 0a1.3 1.3 0 1 0 -2.6 0M596.2 547.17a1.3 1.3 0 1 0 2.6 0a1.3 1.3 0 1 0 -2.6 0M598.42 547.2a1.3 1.3 0 1 0 2.6 0a1.3 1.3 0 1 0 -2.6 0M600.63 547.23a1.3 1.3 0 1 0 2.6 0a1.3 1.3 0 1 0 -2.6 0M602.84 547.25a1.3 1.3 0 1 0 2.6 0a1.3 1.3 0 1 0 -2.6 0M605.05 547.27a1.3 1.3 0 1 0 2.6 0a1.3 1.3 0 1 0 -2.6 0M607.26 547.29a1.3 1.3 0 1 0 2.6 0a1.3 1.3 0 1 0 -2.6 0M609.47 547.31a1.3 1.3 0 1 0 2.6 0a1.3 1.3 0 1 0 -2.6 0M611.69 547.33a1.3 1.3 0 1 0 2.6 0a1.3 1.3 0 1 0 -2.6 0M613.9 547.35a1.3 1.3 0 1 0 2.6 0a1.3 1.3 0 1 0 -2.6 0M616.11 547.37a1.3 1.3 0 1 0 2.6 0a1.3 1.3 0 1 0 -2.6 0M618.32 547.38a1.3 1.3 0 1 0 2.6 0a1.3 1.3 0 1 0 -2.6 0M620.53 547.4a1.3 1.3 0 1 0 2.6 0a1.3 1.3 0 1 0 -2.6 0M622.74 547.41a1.3 1.3 0 1 0 2.6 0a1.3 1.3 0 1 0 -2.6 0M624.96 547.42a1.3 1.3 0 1 0 2.6 0a1.3 1.3 0 1 0 -2.6 0M627.17 547.43a1.3 1.3 0 1 0 2.6 0a1.3 1.3 0 1 0 -2.6 0M629.38 547.44a1.3 1.3 0 1 0 2.6 0a1.3 1.3 0 1 0 -2.6 0M631.59 547.45a1.3 1.3 0 1 0 2.6 0a1.3 1.3 0 1 0 -2.6 0M633.8 547.46a1.3 1.3 0 1 0 2.6 0a1.3 1.3 0 1 0 -2.6 0M636.01 547.47a1.3 1.3 0 1 0 2.6 0a1.3 1.3 0 1 0 -2.6 0M638.23 547.48a1.3 1.3 0 1 0 2.6 0a1.3 1.3 0 1 0 -2.6 0M640.44 547.48a1.3 1.3 0 1 0 2.6 0a1.3 1.3 0 1 0 -2.6 0M642.65 547.49a1.3 1.3 0 1 0 2.6 0a1.3 1.3 0 1 0 -2.6 0M644.86 547.49a1.3 1.3 0 1 0 2.6 0a1.3 1.3 0 1 0 -2.6 0M647.07 547.49a1.3 1.3 0 1 0 2.6 0a1.3 1.3 0 1 0 -2.6 0M649.28 547.5a1.3 1.3 0 1 0 2.6 0a1.3 1.3 0 1 0 -2.6 0M651.49 547.5a1.3 1.3 0 1 0 2.6 0a1.3 1.3 0 1 0 -2.6 0M653.71 547.5a1.3 1.3 0 1 0 2.6 0a1.3 1.3 0 1 0 -2.6 0M655.92 547.5a1.3 1.3 0 1 0 2.6 0a1.3 1.3 0 1 0 -2.6 0" fill="none" stroke="#383838" stroke-width="0.65"/></svg>
</body></html>
